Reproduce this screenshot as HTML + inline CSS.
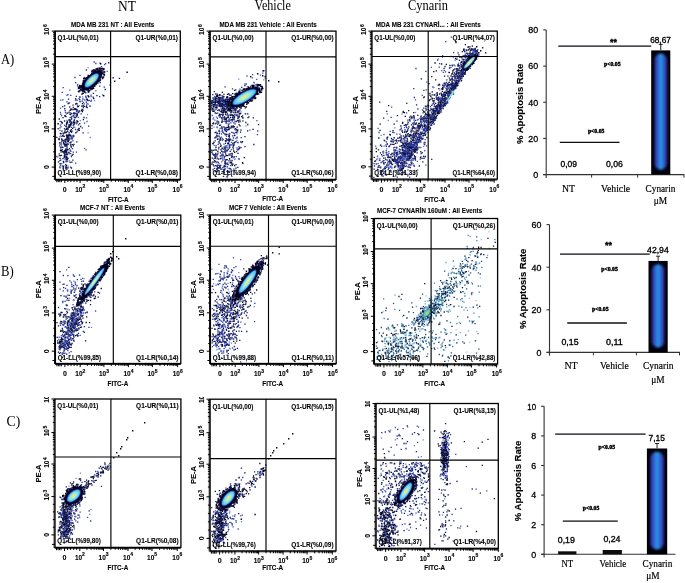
<!DOCTYPE html><html><head><meta charset="utf-8"><style>html,body{margin:0;padding:0;background:#fff;}svg{display:block}</style></head><body><svg width="685" height="583" viewBox="0 0 685 583">
<defs>
<radialGradient id="gcore"><stop offset="0" stop-color="#f0ee70"/><stop offset="0.3" stop-color="#c8eea8"/><stop offset="0.65" stop-color="#80dcf0"/><stop offset="1" stop-color="#40b4ea"/></radialGradient>
<radialGradient id="gcore4"><stop offset="0" stop-color="#f0f080"/><stop offset="0.5" stop-color="#c0f0a0"/><stop offset="1" stop-color="#60d0e0"/></radialGradient>
<radialGradient id="gcore2"><stop offset="0" stop-color="#c0f0c0"/><stop offset="0.6" stop-color="#80e0e0"/><stop offset="1" stop-color="#50c0e0"/></radialGradient>
<radialGradient id="gcore3"><stop offset="0" stop-color="#b8e070"/><stop offset="0.45" stop-color="#70c8a0"/><stop offset="0.8" stop-color="#3a90b8" stop-opacity="0.7"/><stop offset="1" stop-color="#3890c0" stop-opacity="0"/></radialGradient>
<linearGradient id="gbar" x1="0" x2="1" y1="0" y2="0"><stop offset="0" stop-color="#3a2aa8"/><stop offset="0.3" stop-color="#2a64d4"/><stop offset="0.5" stop-color="#2c9ce2"/><stop offset="0.7" stop-color="#2a64d4"/><stop offset="1" stop-color="#3a2aa8"/></linearGradient>
<filter id="soft" x="0" y="0" width="100%" height="100%"><feGaussianBlur stdDeviation="0.35"/></filter>
<filter id="blur1" x="-50%" y="-50%" width="200%" height="200%"><feGaussianBlur stdDeviation="1.3"/></filter>
<clipPath id="clipC1"><rect x="0" y="396.9" width="685" height="200"/></clipPath>
<clipPath id="clipC3"><rect x="0" y="401.3" width="685" height="200"/></clipPath>
</defs>
<rect width="685" height="583" fill="#fff"/>
<g filter="url(#soft)">
<text x="118.00" y="10.90" font-size="14" font-family="'Liberation Serif', 'Times New Roman', serif" textLength="17.9" lengthAdjust="spacingAndGlyphs">NT</text>
<text x="254.50" y="10.40" font-size="14" font-family="'Liberation Serif', 'Times New Roman', serif" textLength="36.3" lengthAdjust="spacingAndGlyphs">Vehicle</text>
<text x="408.00" y="10.40" font-size="14" font-family="'Liberation Serif', 'Times New Roman', serif" textLength="40" lengthAdjust="spacingAndGlyphs">Cynarin</text>
<text x="0.90" y="63.80" font-size="15" font-family="'Liberation Serif', 'Times New Roman', serif" textLength="13.3" lengthAdjust="spacingAndGlyphs">A)</text>
<text x="1.00" y="275.80" font-size="15" font-family="'Liberation Serif', 'Times New Roman', serif" textLength="12.7" lengthAdjust="spacingAndGlyphs">B)</text>
<text x="6.50" y="426.10" font-size="15" font-family="'Liberation Serif', 'Times New Roman', serif" textLength="13.7" lengthAdjust="spacingAndGlyphs">C)</text>
<path d="M82.8 102.3h1.3M90.7 100.2h1.3M87.8 95.7h1.3M82.2 99h1.3M66.3 95.4h1.3M83.7 103.9h1.3M86.3 99.8h1.3M68.3 102.7h1.3M86.5 103.6h1.3M79.2 96.6h1.3M84.1 91.1h1.3M79.1 111.2h1.3M76.9 106.8h1.3M82.3 106.3h1.3M59.9 108.1h1.3M68.8 103.1h1.3M59.3 127.8h1.3M69.8 125.1h1.3M70.7 119.3h1.3M66.3 128.1h1.3M69 120.2h1.3M73.4 114.6h1.3M77.8 117.4h1.3M66.2 145.7h1.3M74.9 132.8h1.3M71 136.7h1.3M67.2 131.7h1.3M70.3 135.5h1.3M59 145.9h1.3M64.8 112.5h1.3M65.1 140.6h1.3M68.1 137.2h1.3M66.2 148.2h1.3M68.9 125.8h1.3M58.3 138.7h1.3M66.6 137.4h1.3M65.4 145h1.3M71.7 131.1h1.3M59.3 144.3h1.3M66.6 147.9h1.3M68.6 160.8h1.3M66 154.9h1.3M62.5 147.4h1.3M60 149h1.3M64.9 149.8h1.3M64.9 146.3h1.3M63.6 155.6h1.3M69.5 150.8h1.3M60.2 160h1.3M66.1 150.3h1.3M69.6 150.1h1.3M66.1 149.7h1.3M61.6 166h1.3M65.2 166.7h1.3M61.1 163.6h1.3M62.8 169.6h1.3M65.3 170h1.3M65.3 157.5h1.3M66.3 122.8h1.3M60.9 115.5h1.3M57.8 123.7h1.3M71.3 138.4h1.3M83.9 148.3h1.3M60.1 100.2h1.3M59.2 136.8h1.3M73.2 116h1.3M82.6 110.1h1.3M61.6 92.4h1.3M75.5 115.5h1.3M59.4 130.3h1.3M75.8 123.9h1.3M70.4 122.4h1.3M74.1 122.8h1.3M60.8 136.4h1.3M86.4 121.5h1.3M59.8 112.4h1.3M77.4 86.6h1.3M104 64.6h1.3M77.1 84.9h1.3M88.4 79.8h1.3M97.6 81h1.3M95.2 90.8h1.3M101.1 76.5h1.3M106.5 71.3h1.3M91.9 86.1h1.3M97.2 80.2h1.3M89.5 80.2h1.3M90.4 96.6h1.3M88 92.2h1.3M61.7 92.3h1.3M99.9 69.5h1.3M69.2 90.2h1.3M85.2 96.1h1.3M96.5 77.3h1.3M102.1 95h1.3M103.8 87.4h1.3M93.1 86h1.3M93.5 75.9h1.3" stroke="#3a50c0" stroke-width="1.3"/>
<path d="M93.1 98.7h1.3M99 96.6h1.3M86.9 100.3h1.3M85.1 96.8h1.3M78.3 98.6h1.3M79.3 97.3h1.3M76.1 100.1h1.3M75.7 96.4h1.3M74.8 99.9h1.3M90.9 88.5h1.3M88.6 100.3h1.3M85.7 97.8h1.3M87.2 95.9h1.3M84.1 100h1.3M89.4 105.9h1.3M76.1 103.4h1.3M74.2 113.1h1.3M89.3 106.4h1.3M78.1 112.5h1.3M66.3 101.9h1.3M76.8 105.1h1.3M75.3 113.4h1.3M76.3 110h1.3M80.5 113.9h1.3M60 114.1h1.3M74.9 129.5h1.3M81.7 127.9h1.3M74.3 113.5h1.3M71.4 123.3h1.3M76 111.5h1.3M70 112.9h1.3M73.1 121.3h1.3M76 116.4h1.3M59.6 121.3h1.3M64.6 115.6h1.3M69.6 121.7h1.3M68.9 119.8h1.3M69.5 117.6h1.3M61.7 122.8h1.3M72.5 125.3h1.3M74 123.4h1.3M73.6 120.3h1.3M75.5 132.7h1.3M66 129h1.3M64.4 141.5h1.3M70 135.8h1.3M70.2 142.5h1.3M67.6 136.9h1.3M70.5 131.8h1.3M65.4 126.7h1.3M66.4 146.6h1.3M66.7 154.5h1.3M65.3 132.4h1.3M66.9 141.6h1.3M66.5 134.9h1.3M63.9 133h1.3M66.9 121.1h1.3M64.7 142.7h1.3M69.1 138.9h1.3M61.1 141.5h1.3M66.4 123.1h1.3M62.5 133.9h1.3M71.8 148.6h1.3M63.2 136.4h1.3M66.3 146.1h1.3M64.5 140.2h1.3M72.2 137.5h1.3M68.1 135h1.3M70.6 141.8h1.3M70 153.6h1.3M60.9 147.2h1.3M63.6 157.5h1.3M64.2 152.1h1.3M62.1 151.9h1.3M63.8 151.5h1.3M70.7 156.5h1.3M73.3 136h1.3M68.4 153.9h1.3M75 163.2h1.3M65.9 159.5h1.3M66.1 153.8h1.3M64.9 152.6h1.3M61.6 149.5h1.3M56.2 156.5h1.3M70.4 144.9h1.3M72.7 152.1h1.3M68.5 153h1.3M62.4 140.7h1.3M60.8 144.9h1.3M63 143.7h1.3M64.9 149.4h1.3M69.2 142.7h1.3M66.5 153.2h1.3M60.4 152.1h1.3M64.4 155.7h1.3M63.1 151.7h1.3M69.9 167.1h1.3M64.7 157h1.3M67.3 158.7h1.3M66.3 167.4h1.3M59.5 167.8h1.3M59.2 167h1.3M62.2 99.9h1.3M75.8 152.1h1.3M69.9 130.5h1.3M70.7 127.4h1.3M58.4 139h1.3M64.5 110.5h1.3M75.9 171.5h1.3M63.8 128.6h1.3M85.4 149.8h1.3M76.7 114.2h1.3M88 126.1h1.3M72.3 140.9h1.3M85.9 117.8h1.3M81.4 110.3h1.3M72.5 135.5h1.3M60.3 126.8h1.3M77.2 110.9h1.3M62.5 87.7h1.3M83.9 123.2h1.3M64.4 140.9h1.3M72.9 113.4h1.3M67 158.2h1.3M64 125.3h1.3M67.7 139.4h1.3M91.1 83.2h1.3M104.9 63.6h1.3M95.2 63.5h1.3M99.1 86.1h1.3M97.7 76.8h1.3M67.3 94.6h1.3M76.8 84.8h1.3M90.4 95.2h1.3M79.3 75.4h1.3M84.6 84.6h1.3M95.2 81.1h1.3M93.5 62h1.3M74.3 77.5h1.3M88.4 88.2h1.3M85.7 70h1.3M100.9 66.7h1.3M109.9 82.4h1.3M82.5 87.6h1.3M81.2 94.3h1.3M70.1 95.4h1.3" stroke="#26339a" stroke-width="1.3"/>
<path d="M92.9 98.2h1.3M81.6 101.2h1.3M72.6 107.4h1.3M86.6 99.3h1.3M85.2 92.9h1.3M90.3 101.4h1.3M92.5 97.2h1.3M87.4 100.6h1.3M77.6 112.3h1.3M76.7 114.2h1.3M74.4 109.6h1.3M67.9 99.2h1.3M85.7 102.2h1.3M82.7 107.6h1.3M85.9 107h1.3M85.6 106.6h1.3M81 106.2h1.3M62.1 106.6h1.3M82.6 105.5h1.3M74.7 109.7h1.3M70 109.1h1.3M76.1 103.6h1.3M75 98.6h1.3M69.1 107h1.3M72.4 105.1h1.3M78.6 111.1h1.3M72.6 136.2h1.3M73.1 127.1h1.3M68.1 125h1.3M69.8 120.5h1.3M69 122.1h1.3M77.9 124.9h1.3M80 126.5h1.3M69.7 124.8h1.3M66.6 121.6h1.3M72.5 115.9h1.3M72.8 116.5h1.3M64 105.9h1.3M66.9 122.5h1.3M65.4 126.3h1.3M69.8 124.2h1.3M70.8 129.6h1.3M74 117.5h1.3M71.1 118.6h1.3M72.9 122.3h1.3M78.3 128.6h1.3M69.9 114.6h1.3M76.3 120.6h1.3M63.9 121h1.3M76.9 129.9h1.3M76.4 121.8h1.3M69 124.8h1.3M68.7 127.3h1.3M77.3 121.6h1.3M63.6 136.3h1.3M68.6 135h1.3M64.7 145.1h1.3M79.1 123.6h1.3M66.5 129.4h1.3M62.2 135.6h1.3M66.5 143.7h1.3M67.8 138.4h1.3M66.2 138h1.3M70.5 138h1.3M63.4 153.2h1.3M67.7 141.2h1.3M63.4 141.3h1.3M69.5 135.6h1.3M70.1 124.9h1.3M71.4 139.1h1.3M69.1 134.4h1.3M67.4 135.6h1.3M63.9 140.1h1.3M67.4 127.2h1.3M68.3 138.2h1.3M57.5 128.6h1.3M66.7 137.7h1.3M68.8 148.6h1.3M68.4 137.9h1.3M70.1 145.9h1.3M64.3 145h1.3M59.1 142.6h1.3M78 130h1.3M76.2 141.9h1.3M67.8 141.1h1.3M59.8 155.6h1.3M63.4 152.8h1.3M63.7 151.5h1.3M65.9 148.6h1.3M65.4 148.8h1.3M70.2 151.2h1.3M59.9 147.1h1.3M61.8 147.4h1.3M63.8 153.9h1.3M66.6 159.7h1.3M69.8 144.1h1.3M66.7 159.5h1.3M58.6 153.8h1.3M64.5 159.2h1.3M62.4 140.4h1.3M72.2 160.2h1.3M66 156.7h1.3M64.2 146h1.3M64.3 150.6h1.3M58.7 155.7h1.3M66.9 158.1h1.3M65.6 158.2h1.3M64.9 168.1h1.3M62.9 162.7h1.3M66.1 157.4h1.3M59.5 163.6h1.3M67.5 167.9h1.3M64.1 154.9h1.3M59.3 160.7h1.3M62.4 158.5h1.3M62.7 161.4h1.3M59.8 165.2h1.3M83.3 117.7h1.3M83.4 117.5h1.3M75.2 108.6h1.3M71.8 144.6h1.3M70.8 123.3h1.3M76.5 131.6h1.3M73.5 109.3h1.3M86.6 107.6h1.3M82.5 132.9h1.3M79.1 99.7h1.3M99.5 82.6h1.3M104.6 89.5h1.3M99.3 63.1h1.3M93.9 80.1h1.3M75 82.6h1.3M96.3 95.6h1.3M98.5 68h1.3M87 84.1h1.3M92.8 93.4h1.3M96.4 82.4h1.3M99 81.1h1.3" stroke="#141a5a" stroke-width="1.3"/>
<path d="M87.7 104.2h1.3M76.7 100.3h1.3M75.1 100.6h1.3M82.1 96.9h1.3M76.3 109.3h1.3M78.7 105.6h1.3M82.5 98.9h1.3M86.8 114.6h1.3M93.9 100.7h1.3M77.1 131.4h1.3M79.7 120.7h1.3M68.8 136.9h1.3M66.1 120.3h1.3M60.2 124.5h1.3M74.2 127.3h1.3M59.7 125.3h1.3M69.9 138.8h1.3M70.5 124.4h1.3M59.8 135.2h1.3M64.1 139.7h1.3M64.6 141.4h1.3M62.7 134.6h1.3M64.4 142.9h1.3M68.6 139.7h1.3M65.7 142.5h1.3M58.7 143.7h1.3M66 148h1.3M64.9 160.2h1.3M65.6 161.5h1.3M66.5 147.6h1.3M63.4 165.9h1.3M64.3 161.8h1.3M67.3 166h1.3M61.8 123.1h1.3M72.4 116.5h1.3M57.1 157.1h1.3M89.6 137.5h1.3M72.7 124.1h1.3M65.6 114.1h1.3M87.5 132.8h1.3M102.4 74.3h1.3M99.2 75.9h1.3M101.1 71.8h1.3M95.8 83.6h1.3M109.2 85h1.3M103.6 87h1.3M98.3 80.3h1.3M91.6 72.6h1.3M87.4 67.7h1.3" stroke="#7080d8" stroke-width="1.3"/>
<path d="M71.1 113.7h1.3M74.1 108.6h1.3M76.1 109.7h1.3M81.8 111.5h1.3M81.8 103.6h1.3M68.5 112.2h1.3M81.5 111.5h1.3M77.5 106.7h1.3M83.7 106.4h1.3M76.4 114.4h1.3M79.4 101.5h1.3M69.5 110.3h1.3M81.6 109.4h1.3M73.3 112.8h1.3M67.6 103.7h1.3M75 104h1.3M86 105.2h1.3M72.4 109.5h1.3M77.7 106.3h1.3M76.5 114.8h1.3M64.1 108.7h1.3M70.9 109.1h1.3M86.3 99.3h1.3M80.9 110.4h1.3M65.3 116.6h1.3M73.4 124.5h1.3M70.8 117h1.3M62.3 117.7h1.3M70.2 124.5h1.3M73.5 122.9h1.3M66.9 131.2h1.3M74.1 122.2h1.3M69.3 114.1h1.3M57.3 123.9h1.3M65.8 124.8h1.3M69.9 125.2h1.3M69.2 126h1.3M68.1 126.9h1.3M72 128.4h1.3M71.1 122h1.3M66.5 113.2h1.3M70 124h1.3M64.1 115.9h1.3M67.6 129h1.3M67.1 113.2h1.3M78.6 130.3h1.3M82.8 119.7h1.3M65.9 123.1h1.3M76.5 115.5h1.3M75.1 117.5h1.3M65.8 132.2h1.3M70 110.2h1.3M66 123.8h1.3M78.4 128.4h1.3M73.8 119.9h1.3M59.7 133.3h1.3M64.2 132.1h1.3M67.8 140.3h1.3M70.9 132.1h1.3M68.4 140.2h1.3M65.4 139.2h1.3M68.5 132.9h1.3M66.5 140h1.3M61 139h1.3M64.2 131.9h1.3M62.6 133.2h1.3M66 136h1.3M70.3 131.3h1.3M64.4 130.2h1.3M61.4 122.8h1.3M66.1 128.4h1.3M60.9 121.9h1.3M67.4 138.4h1.3M66.7 137.1h1.3M59.8 150.7h1.3M69.4 125.6h1.3M65 141.8h1.3M67.4 136.1h1.3M56.2 137.3h1.3M66.5 139.2h1.3M76.4 122.8h1.3M65.3 129.3h1.3M72.7 145.9h1.3M67.6 141.7h1.3M58.6 119h1.3M67.6 135.6h1.3M69.8 131h1.3M68.4 120h1.3M61.3 131.1h1.3M64.8 139.5h1.3M65.2 132.6h1.3M60.4 133.6h1.3M70.2 131.4h1.3M62.8 142.7h1.3M69.4 135.7h1.3M70.7 147h1.3M62.1 135.9h1.3M72.4 154.4h1.3M65.8 145.1h1.3M63.1 152.1h1.3M57.9 161.9h1.3M69.6 162.4h1.3M67.4 149.7h1.3M61.5 151.5h1.3M61.4 140.1h1.3M59.4 158.3h1.3M65.4 145.2h1.3M66 151.7h1.3M66.7 149.7h1.3M64.5 150.6h1.3M71.2 162.2h1.3M65.1 164.6h1.3M61 150.4h1.3M71.5 155.4h1.3M60.4 143.1h1.3M63.8 156.4h1.3M65.3 154.4h1.3M66.2 144.6h1.3M58.5 139.5h1.3M65.5 150.9h1.3M64.2 144h1.3M66.3 159.8h1.3M66.9 149.9h1.3M65.6 152.8h1.3M73.3 144.3h1.3M65.5 154.5h1.3M67.6 144.1h1.3M68.1 152.3h1.3M63.6 144.5h1.3M65.1 151.9h1.3M65.8 135.1h1.3M70.8 168h1.3M62.7 166.5h1.3M66.4 161.7h1.3M65.7 165.6h1.3M62.5 168h1.3M66.2 169h1.3M65.4 167.5h1.3M62.6 168.8h1.3M60.8 155.4h1.3" stroke="#0a0a28" stroke-width="1.3"/>
<path d="M112.5 77.8h1.4M118.7 78.4h1.4M108 62.7h1.4" stroke="#1c2470" stroke-width="1.4"/>
<path d="M126.4 72.2h1.4M103 95.7h1.4M88 96.7h1.4M100 63.7h1.4" stroke="#05051a" stroke-width="1.4"/>
<path d="M114 81.2h1.4" stroke="#101040" stroke-width="1.4"/>
<path d="M79.2 88.3h1.5M101.9 78.5h1.5M87.8 91.5h1.5M83.9 78.6h1.5M97.5 70.9h1.5M84.1 89.3h1.5M81.8 89.8h1.5M97.7 81.6h1.5M85.8 77.8h1.5M98.7 78.1h1.5M90.9 73.3h1.5M97.3 69.9h1.5M93.7 85.1h1.5M83.7 78.1h1.5M87.7 76.8h1.5M87.2 76.9h1.5M102 68.7h1.5M78.2 91.7h1.5M93.7 86.3h1.5M81.9 89.6h1.5M79 85.6h1.5M80 86.7h1.5M97.4 70.5h1.5M80.8 85.8h1.5M78.1 88.5h1.5M91.7 70.5h1.5M99.7 79.5h1.5M93.6 84.9h1.5M87 88.8h1.5" stroke="#1c2470" stroke-width="1.5"/>
<path d="M82.8 81.4h1.5M95.8 82.5h1.5M99.6 68.8h1.5M78.9 87.1h1.5M90.3 87.9h1.5M82.7 89.3h1.5M101.4 77.5h1.5M85.6 78.5h1.5M95.4 68.9h1.5M93.2 70.9h1.5M82.4 83.6h1.5M102.2 77.4h1.5M85.5 89.6h1.5M92.8 72.1h1.5M103.7 74.9h1.5M96.9 69.2h1.5M82.3 89.9h1.5M103.1 68.7h1.5M92.8 88.3h1.5M103 69.8h1.5M81.7 88.3h1.5M85.3 78.8h1.5M84.1 92.2h1.5M94.6 70.7h1.5M87.8 88.9h1.5M82.7 91.3h1.5M90.3 89.4h1.5M79.9 89.5h1.5M99.1 71.1h1.5M81.7 89.4h1.5M98.5 70.2h1.5M92.9 71.4h1.5M100 68.3h1.5M95.5 83.9h1.5M91.2 71.3h1.5M87.4 90.4h1.5M83.3 91.3h1.5M96.7 68.4h1.5M81.8 93.4h1.5M91.5 88.4h1.5M98.9 78.4h1.5M92.2 87.1h1.5M82.5 90.1h1.5M97 83h1.5M82.4 85.4h1.5M92.3 88.3h1.5M103.9 72h1.5M101.6 73.3h1.5M86.7 77.6h1.5M100.8 68.7h1.5M83.1 78.5h1.5M95.3 69.9h1.5M93.6 71.1h1.5M98.3 80.5h1.5M79.6 87.5h1.5M93.2 69.7h1.5M82.4 93.2h1.5M83.4 80.4h1.5M82.6 81h1.5M91.2 73.6h1.5M85 89.6h1.5M80.4 90h1.5M91.4 88.6h1.5M85.6 89.4h1.5M88 76.3h1.5M79.1 85.7h1.5M102.8 69.8h1.5M85.1 78.5h1.5M80.7 86.5h1.5M77.8 88.2h1.5" stroke="#05051a" stroke-width="1.5"/>
<path d="M92.4 73.3h1.5M100.4 73.9h1.5M88.8 90.7h1.5M103.1 72h1.5M96.7 71h1.5M99.5 77.8h1.5M102.5 74h1.5M93.3 85.5h1.5M83.3 78.6h1.5M96.7 81.5h1.5M82.5 85h1.5M99.6 69.7h1.5M100.6 75.7h1.5M100 73.1h1.5M96.9 81.1h1.5M79.8 87.3h1.5M103.5 74.3h1.5M100.2 73.5h1.5M85.8 89.4h1.5M93.8 72.2h1.5M95.1 84.6h1.5M102.8 76.9h1.5M99.3 69h1.5M82.3 83h1.5M81.8 84.2h1.5M78 87.4h1.5M94 85.9h1.5M94.8 83.7h1.5M93 71h1.5M82.8 82.4h1.5M81.9 91.3h1.5M94 71.8h1.5M89.4 88.8h1.5M79.2 90.8h1.5M87.5 75.5h1.5M94.1 72.6h1.5M80.3 87.2h1.5M82.6 91h1.5M92.3 87h1.5M86.5 90h1.5M102.4 72h1.5M98.8 68.4h1.5M101.3 70.4h1.5M86.9 90.1h1.5M81.4 90.4h1.5M100.5 71.1h1.5M102 68.6h1.5M103.4 74.8h1.5M99.5 80.3h1.5M87.6 91.9h1.5M101.6 72.4h1.5M91.6 89h1.5M83.4 81.4h1.5M81.1 87.6h1.5M77.8 91.2h1.5" stroke="#101040" stroke-width="1.5"/>
<g transform="translate(91.70,80.40) rotate(-44)">
<ellipse rx="13.33" ry="5.54" fill="#04041a"/>
<ellipse rx="9.70" ry="4.10" fill="#2438b0"/>
<ellipse rx="8.80" ry="3.40" fill="url(#gcore)"/>
</g>
<rect x="55.30" y="31.10" width="125.00" height="148.30" fill="none" stroke="#000" stroke-width="1.3"/>
<line x1="110.60" y1="31.10" x2="110.60" y2="179.40" stroke="#000" stroke-width="1.15"/>
<line x1="55.30" y1="56.60" x2="180.30" y2="56.60" stroke="#000" stroke-width="1.15"/>
<path d="M51.7 31.1H55.3M51.7 64.1H55.3M51.7 96.3H55.3M51.7 128.9H55.3M51.7 167.1H55.3M53.1 54.2H55.3M53.1 48.4H55.3M53.1 44.2H55.3M53.1 41H55.3M53.1 38.4H55.3M53.1 36.2H55.3M53.1 34.3H55.3M53.1 32.6H55.3M53.1 86.6H55.3M53.1 80.9H55.3M53.1 76.9H55.3M53.1 73.8H55.3M53.1 71.2H55.3M53.1 69.1H55.3M53.1 67.2H55.3M53.1 65.6H55.3M53.1 119.1H55.3M53.1 113.3H55.3M53.1 109.3H55.3M53.1 106.1H55.3M53.1 103.5H55.3M53.1 101.3H55.3M53.1 99.5H55.3M53.1 97.8H55.3M53.1 136.5H55.3M53.1 144.2H55.3M53.1 151.8H55.3M53.1 159.5H55.3M52.3 176.4H55.3M64.8 179.4V183M80.1 179.4V183M103.8 179.4V183M128.3 179.4V183M152.3 179.4V183M177.5 179.4V183M56.8 179.4V182.2M58.3 179.4V182.2M59.8 179.4V182.2M61.3 179.4V182.2M67.9 179.4V182M70.9 179.4V182M74 179.4V182M77 179.4V182M87.2 179.4V181.8M91.4 179.4V181.8M94.4 179.4V181.8M96.7 179.4V181.8M98.5 179.4V181.8M100.1 179.4V181.8M101.5 179.4V181.8M102.7 179.4V181.8M111.2 179.4V181.8M115.5 179.4V181.8M118.6 179.4V181.8M120.9 179.4V181.8M122.9 179.4V181.8M124.5 179.4V181.8M125.9 179.4V181.8M127.2 179.4V181.8M135.5 179.4V181.8M139.8 179.4V181.8M142.7 179.4V181.8M145.1 179.4V181.8M147 179.4V181.8M148.6 179.4V181.8M150 179.4V181.8M151.2 179.4V181.8M159.9 179.4V181.8M164.3 179.4V181.8M167.5 179.4V181.8M169.9 179.4V181.8M171.9 179.4V181.8M173.6 179.4V181.8M175.1 179.4V181.8M176.3 179.4V181.8" stroke="#000" stroke-width="1"/>
<line x1="55.00" y1="180.30" x2="180.30" y2="180.30" stroke="#000" stroke-width="0.9"/>
<line x1="54.40" y1="31.10" x2="54.40" y2="180.00" stroke="#000" stroke-width="0.9"/>
<text x="64.80" y="191.80" font-size="7.0" font-family="'Liberation Sans', Arial, sans-serif" font-weight="bold" text-anchor="middle" stroke="#000" stroke-width="0.1">0</text>
<text x="78.80" y="191.80" font-size="7.0" font-family="'Liberation Sans', Arial, sans-serif" font-weight="bold" text-anchor="middle" textLength="7.2" lengthAdjust="spacingAndGlyphs" stroke="#000" stroke-width="0.1">10</text>
<text x="82.40" y="188.40" font-size="5.0" font-family="'Liberation Sans', Arial, sans-serif" font-weight="bold" stroke="#000" stroke-width="0.15">2</text>
<text x="102.50" y="191.80" font-size="7.0" font-family="'Liberation Sans', Arial, sans-serif" font-weight="bold" text-anchor="middle" textLength="7.2" lengthAdjust="spacingAndGlyphs" stroke="#000" stroke-width="0.1">10</text>
<text x="106.10" y="188.40" font-size="5.0" font-family="'Liberation Sans', Arial, sans-serif" font-weight="bold" stroke="#000" stroke-width="0.15">3</text>
<text x="127.00" y="191.80" font-size="7.0" font-family="'Liberation Sans', Arial, sans-serif" font-weight="bold" text-anchor="middle" textLength="7.2" lengthAdjust="spacingAndGlyphs" stroke="#000" stroke-width="0.1">10</text>
<text x="130.60" y="188.40" font-size="5.0" font-family="'Liberation Sans', Arial, sans-serif" font-weight="bold" stroke="#000" stroke-width="0.15">4</text>
<text x="151.00" y="191.80" font-size="7.0" font-family="'Liberation Sans', Arial, sans-serif" font-weight="bold" text-anchor="middle" textLength="7.2" lengthAdjust="spacingAndGlyphs" stroke="#000" stroke-width="0.1">10</text>
<text x="154.60" y="188.40" font-size="5.0" font-family="'Liberation Sans', Arial, sans-serif" font-weight="bold" stroke="#000" stroke-width="0.15">5</text>
<text x="176.20" y="191.80" font-size="7.0" font-family="'Liberation Sans', Arial, sans-serif" font-weight="bold" text-anchor="middle" textLength="7.2" lengthAdjust="spacingAndGlyphs" stroke="#000" stroke-width="0.1">10</text>
<text x="179.80" y="188.40" font-size="5.0" font-family="'Liberation Sans', Arial, sans-serif" font-weight="bold" stroke="#000" stroke-width="0.15">6</text>
<text transform="translate(49.20,31.30) rotate(-90)" font-size="6.7" font-family="'Liberation Sans', Arial, sans-serif" font-weight="bold" text-anchor="middle" textLength="7.2" lengthAdjust="spacingAndGlyphs" stroke="#000" stroke-width="0.1">10</text>
<text transform="translate(46.80,27.00) rotate(-90)" font-size="5.0" font-family="'Liberation Sans', Arial, sans-serif" font-weight="bold" stroke="#000" stroke-width="0.15">6</text>
<text transform="translate(49.20,64.30) rotate(-90)" font-size="6.7" font-family="'Liberation Sans', Arial, sans-serif" font-weight="bold" text-anchor="middle" textLength="7.2" lengthAdjust="spacingAndGlyphs" stroke="#000" stroke-width="0.1">10</text>
<text transform="translate(46.80,60.00) rotate(-90)" font-size="5.0" font-family="'Liberation Sans', Arial, sans-serif" font-weight="bold" stroke="#000" stroke-width="0.15">5</text>
<text transform="translate(49.20,96.50) rotate(-90)" font-size="6.7" font-family="'Liberation Sans', Arial, sans-serif" font-weight="bold" text-anchor="middle" textLength="7.2" lengthAdjust="spacingAndGlyphs" stroke="#000" stroke-width="0.1">10</text>
<text transform="translate(46.80,92.20) rotate(-90)" font-size="5.0" font-family="'Liberation Sans', Arial, sans-serif" font-weight="bold" stroke="#000" stroke-width="0.15">4</text>
<text transform="translate(49.20,129.10) rotate(-90)" font-size="6.7" font-family="'Liberation Sans', Arial, sans-serif" font-weight="bold" text-anchor="middle" textLength="7.2" lengthAdjust="spacingAndGlyphs" stroke="#000" stroke-width="0.1">10</text>
<text transform="translate(46.80,124.80) rotate(-90)" font-size="5.0" font-family="'Liberation Sans', Arial, sans-serif" font-weight="bold" stroke="#000" stroke-width="0.15">3</text>
<text transform="translate(49.20,167.10) rotate(-90)" font-size="7.0" font-family="'Liberation Sans', Arial, sans-serif" font-weight="bold" text-anchor="middle" stroke="#000" stroke-width="0.1">0</text>
<text transform="translate(41.00,105.10) rotate(-90)" font-size="7.4" font-family="'Liberation Sans', Arial, sans-serif" font-weight="bold" text-anchor="middle" textLength="18" lengthAdjust="spacingAndGlyphs" stroke="#000" stroke-width="0.1">PE-A</text>
<text x="107.90" y="201.50" font-size="7.4" font-family="'Liberation Sans', Arial, sans-serif" font-weight="bold" textLength="20.8" lengthAdjust="spacingAndGlyphs" stroke="#000" stroke-width="0.1">FITC-A</text>
<text x="57.60" y="40.40" font-size="7.2" font-family="'Liberation Sans', Arial, sans-serif" font-weight="bold" textLength="41" lengthAdjust="spacingAndGlyphs" stroke="#000" stroke-width="0.1">Q1-UL(%0,01)</text>
<text x="178.00" y="40.40" font-size="7.2" font-family="'Liberation Sans', Arial, sans-serif" font-weight="bold" text-anchor="end" textLength="42.5" lengthAdjust="spacingAndGlyphs" stroke="#000" stroke-width="0.1">Q1-UR(%0,01)</text>
<text x="57.60" y="175.40" font-size="7.2" font-family="'Liberation Sans', Arial, sans-serif" font-weight="bold" textLength="43.5" lengthAdjust="spacingAndGlyphs" stroke="#000" stroke-width="0.1">Q1-LL(%99,90)</text>
<text x="178.00" y="175.40" font-size="7.2" font-family="'Liberation Sans', Arial, sans-serif" font-weight="bold" text-anchor="end" textLength="42.5" lengthAdjust="spacingAndGlyphs" stroke="#000" stroke-width="0.1">Q1-LR(%0,08)</text>
<text x="71.00" y="27.30" font-size="7.2" font-family="'Liberation Sans', Arial, sans-serif" font-weight="bold" textLength="83.3" lengthAdjust="spacingAndGlyphs" stroke="#000" stroke-width="0.1">MDA MB 231 NT : All Events</text>
<path d="M216.9 99.6h1.3M214 104.6h1.3M222.9 107.7h1.3M218.6 103.4h1.3M213.7 101.5h1.3M218.9 105.2h1.3M212.9 106.5h1.3M221.5 101.3h1.3M236.7 100.8h1.3M226.3 100h1.3M215 98.1h1.3M224.1 106.7h1.3M217.4 104.4h1.3M212.7 102.2h1.3M234.8 103.7h1.3M222.1 98.6h1.3M226.8 110.1h1.3M217.9 97.6h1.3M217.9 103.4h1.3M232.1 100.4h1.3M227.3 100.7h1.3M230.6 106.1h1.3M219.4 94.8h1.3M237.9 104.5h1.3M227.3 99.4h1.3M232.4 110.1h1.3M222.2 107h1.3M240 100.6h1.3M215.2 94h1.3M229.6 98.6h1.3M218.8 98.1h1.3M232.1 93.7h1.3M235.2 98.7h1.3M212.8 104.6h1.3M225 103h1.3M219.7 104.9h1.3M233.9 101.5h1.3M235.3 103.1h1.3M226.6 104.8h1.3M227 102.5h1.3M222.4 100.7h1.3M218 104h1.3M221.7 92.4h1.3M211.2 109.9h1.3M223.9 108.7h1.3M226.9 94.4h1.3M243.7 106.3h1.3M221.9 100.6h1.3M226.9 96.6h1.3M212.6 109.9h1.3M227.6 109.7h1.3M221.9 97.3h1.3M225 106.3h1.3M213.4 99.9h1.3M242.3 118.2h1.3M227.9 93.8h1.3M238.4 99.3h1.3M211.3 100.5h1.3M226.9 105.5h1.3M224.2 101h1.3M223.1 96.9h1.3M211.7 100.9h1.3M233.4 101.4h1.3M240.4 108h1.3M225.4 111.5h1.3M228.1 102h1.3M235 100.6h1.3M236 107.1h1.3M231.9 103.5h1.3M235.2 110.1h1.3M212.4 98h1.3M221.2 110h1.3M224.5 99.3h1.3M233.5 105.4h1.3M216.4 102.2h1.3M223.1 110.3h1.3M221.4 95.8h1.3M232 97.2h1.3M220.2 102.5h1.3M239.5 107.3h1.3M232 115h1.3M239.2 110h1.3M231.8 104.7h1.3M232.9 108.3h1.3M214.6 112.9h1.3M225 101.6h1.3M238.9 103.6h1.3M246.9 98.1h1.3M222.7 104.3h1.3M231.2 111.8h1.3M229 102.4h1.3M236 106.7h1.3M236.7 102.8h1.3M236.6 102.5h1.3M228.8 106.3h1.3M232.3 101h1.3M224.3 100.6h1.3M230.8 110.6h1.3M232.2 107.7h1.3M221 111.5h1.3M235 102.5h1.3M224.5 109.7h1.3M227.6 100.4h1.3M231.9 107.5h1.3M246.1 104.3h1.3M242.9 101.9h1.3M231.9 106.1h1.3M218.2 105.8h1.3M233.3 102.5h1.3M226.5 103.4h1.3M241.2 103h1.3M223.8 117.5h1.3M228 106h1.3M229.8 107.5h1.3M223.6 106.4h1.3M229.9 102.6h1.3M228.3 99.1h1.3M228.7 99.8h1.3M238.5 102.7h1.3M233.8 99.9h1.3M226.7 105.9h1.3M251.4 95.5h1.3M233.8 102.3h1.3M235.6 109h1.3M229 105.1h1.3M228.1 103.5h1.3M237.7 100.8h1.3M228.3 104.5h1.3M228.7 101.2h1.3" stroke="#05051a" stroke-width="1.3"/>
<path d="M240.2 101.4h1.3M237.3 99.8h1.3M221.1 99.4h1.3M230.7 115h1.3M221.8 105.6h1.3M214.2 99.3h1.3M215.6 96.8h1.3M225.6 101.3h1.3M225.1 105.7h1.3M219.8 103.2h1.3M219.7 101.4h1.3M234.7 109.6h1.3M214.5 97.3h1.3M219 95.7h1.3M230.7 102.2h1.3M224.7 101.1h1.3M217.3 102.7h1.3M211.4 101.5h1.3M218.1 99.3h1.3M226.9 100.1h1.3M216.2 101.8h1.3M227.1 101.8h1.3M223.2 104.6h1.3M216.7 96.3h1.3M223.9 102.2h1.3M216.6 100.1h1.3M226.2 108.6h1.3M219.1 101.1h1.3M218.7 99h1.3M216.2 98.6h1.3M230.1 105.3h1.3M228.7 101.4h1.3M227.8 103.9h1.3M213.2 107.9h1.3M238.7 106.4h1.3M235.4 102.4h1.3M236 97.7h1.3M223.3 94.4h1.3M244.6 94.7h1.3M224.6 102.9h1.3M234.6 99.5h1.3M215 98.8h1.3M223.4 109h1.3M225.8 105h1.3M213.4 105.5h1.3M220.1 106.4h1.3M211.1 106h1.3M220.3 105.9h1.3M227.1 100.6h1.3M214.2 100h1.3M216 95.8h1.3M226.7 100.1h1.3M233.2 112.5h1.3M211.1 105.6h1.3M223.2 105.1h1.3M232.8 107.2h1.3M218.3 103.2h1.3M218.7 104.3h1.3M223 96.3h1.3M239.3 103.5h1.3M226.2 100.4h1.3M213.2 102.5h1.3M220.6 104.3h1.3M236.8 112h1.3M237.4 100.6h1.3M239.6 101.1h1.3M216.8 106h1.3M230.1 103.7h1.3M246.4 103.5h1.3M223.7 105.3h1.3M240.6 98.1h1.3M223.1 111.3h1.3M222.2 101.3h1.3M219.3 115.3h1.3M218.3 104.8h1.3M230 107h1.3M234.9 102.2h1.3M218.6 110.7h1.3M231.2 100.2h1.3M222.5 114.2h1.3M219.1 106h1.3M222.9 102.3h1.3M219 114.2h1.3M228.7 109h1.3M222.6 106.2h1.3M239.7 104.3h1.3M237.6 98.2h1.3M240 107.5h1.3M229.5 97.7h1.3M234.6 102.4h1.3M233.4 100.6h1.3M226.8 104.8h1.3M237.7 110.8h1.3M230.1 104.9h1.3M242.6 104.1h1.3M224.7 104.5h1.3M225.5 100.5h1.3M231.6 107.4h1.3M229.6 107.2h1.3M235.9 105.1h1.3M234.9 105.3h1.3M249.1 101.3h1.3M230.1 101.1h1.3M246.6 101.2h1.3M219.1 102h1.3M222.5 108.7h1.3M231.3 103.5h1.3M223.6 110.5h1.3M234.2 110h1.3" stroke="#101040" stroke-width="1.3"/>
<path d="M229.2 102.6h1.3M221.9 105.4h1.3M234.4 110.3h1.3M224.3 100.5h1.3M218.8 109.9h1.3M231.3 107.7h1.3M220.8 98.9h1.3M226.5 99.7h1.3M211.7 100.8h1.3M217.4 98.9h1.3M227.7 104.2h1.3M214 106.2h1.3M233.4 103.9h1.3M221.8 105.9h1.3M220.5 99.4h1.3M230.6 95.2h1.3M235.1 106.3h1.3M225.9 112.3h1.3M220.5 100.6h1.3M233.8 99.2h1.3M215.4 104.7h1.3M226.4 97.2h1.3M232.1 105.4h1.3M212.1 94.6h1.3M236.6 108h1.3M226.1 101.4h1.3M233.4 106.1h1.3M214 100.9h1.3M217.3 104.2h1.3M221.6 103.7h1.3M216.6 94.1h1.3M234.6 108.4h1.3M240.5 101h1.3M221 114.3h1.3M220.3 106.9h1.3M224.7 106.7h1.3M223.9 105.6h1.3M230.7 108.9h1.3M226.6 108.6h1.3M232.1 107.4h1.3M232 103.5h1.3M225 105h1.3M229.5 110.9h1.3M229.6 107.4h1.3M238.1 97h1.3M215.5 109h1.3M242.2 104.2h1.3M242.5 105.3h1.3M226.9 104.4h1.3M245.9 100.7h1.3M220.2 105.4h1.3M229.2 95.3h1.3M232.5 105.2h1.3M236.1 107h1.3M233.3 99.8h1.3M229.8 105.5h1.3" stroke="#1c2470" stroke-width="1.3"/>
<path d="M230.6 100.2h1.3M228.3 105.5h1.3M229 107.2h1.3M216.9 100h1.3M237 100.5h1.3M220.1 99.1h1.3M218.3 99.9h1.3M240.8 105.3h1.3M221.2 103.8h1.3M219.2 98h1.3M217.1 95h1.3M226.8 102.3h1.3M236.6 106.6h1.3M213.4 98.5h1.3M223.4 103.7h1.3M229.6 110.7h1.3M213.2 100h1.3M233.6 96.8h1.3M234.5 103h1.3M219.9 97.7h1.3M222.3 98.5h1.3M231.7 107.4h1.3M226.7 103.6h1.3M228.1 99.7h1.3M234.2 105.6h1.3M219 98.7h1.3M222.7 103.2h1.3M225.3 109h1.3M223.5 106.8h1.3M222.7 100.8h1.3M219 94.7h1.3M222.4 105.7h1.3M236.2 101.1h1.3M223.3 105h1.3M238.4 105h1.3M222.5 109.1h1.3M222.1 105.4h1.3M229.1 106.2h1.3M211 102.7h1.3M211.1 102.3h1.3M214.1 110.1h1.3M232.1 102.1h1.3M225.4 100.9h1.3M231.1 106.8h1.3M211.6 108.8h1.3M222.2 100.2h1.3M242.3 101.7h1.3M213.7 91.6h1.3M253.3 82.4h1.3M224.4 86.8h1.3M235.1 90h1.3M251.9 74.6h1.3M255.3 85h1.3M231.9 88.9h1.3M230.4 112h1.3M233.2 122.9h1.3M225.9 118.1h1.3M216.9 110.4h1.3M221.6 110.6h1.3M229.2 128.3h1.3M218.1 109.9h1.3M236.7 116h1.3M236.2 115.3h1.3M228.4 115.2h1.3M238.3 117.7h1.3M234.8 103h1.3M229.3 120.6h1.3M232.6 126h1.3M236.4 114.4h1.3M212.5 118.8h1.3M232.1 119.6h1.3M217.1 122.1h1.3M242.2 121h1.3M238.5 117.1h1.3M222.1 117.8h1.3M223.9 116.8h1.3M228.2 105.3h1.3M225.3 127.8h1.3M239.1 106.7h1.3M232.8 116.8h1.3M228.5 118.9h1.3M223.2 112.2h1.3M232 117.7h1.3M219.9 114.6h1.3M239.5 121.5h1.3M230.7 119.6h1.3M225.6 115.2h1.3M227.7 121.5h1.3M228.7 121.6h1.3M228.8 105.5h1.3M234.5 121.5h1.3M224.7 118.8h1.3M232.8 138h1.3M228 140.5h1.3M235.2 109.7h1.3M240.3 130h1.3M215.1 137.8h1.3M233.3 133.4h1.3M220.8 133.8h1.3M227.3 134.4h1.3M211.3 128.3h1.3M241.2 142.5h1.3M232 143.4h1.3M234 135.5h1.3M218.5 136.7h1.3M228.4 124h1.3M240.6 137.6h1.3M257.1 131h1.3M224.7 134.8h1.3M228.1 126.8h1.3M222.4 155h1.3M221.7 128.4h1.3M225.2 130.5h1.3M223.9 128.8h1.3M223.8 129.5h1.3M225 130.6h1.3M224.7 130.9h1.3M214 137.9h1.3M230.2 122.8h1.3M220.4 128.2h1.3M239 147.2h1.3M256.8 134.6h1.3M221.6 131.3h1.3M232.9 145.3h1.3M231.3 144.6h1.3M225.7 129.3h1.3M215.1 153.3h1.3M238.9 147.8h1.3M226.4 139.3h1.3M218.4 136.1h1.3M217.5 144.3h1.3M225.7 155.3h1.3M234.2 159.2h1.3M220.3 139.8h1.3M233.2 169.1h1.3M229.6 160.8h1.3M215.5 162.5h1.3M213.6 155.4h1.3M224.8 143.3h1.3M213.4 166h1.3M224.7 161.3h1.3M215.4 145.7h1.3M235.4 164.6h1.3M231.7 156.2h1.3M216.2 166.1h1.3M223.7 157.2h1.3M230.8 157.3h1.3M238.6 159h1.3M224.8 166.7h1.3M216.6 165.1h1.3M220 158.5h1.3M230 165.7h1.3M227.3 175.6h1.3M224.8 160.3h1.3M220.6 149.8h1.3M229.9 162.5h1.3M228.1 160.8h1.3M211.1 152.5h1.3M228.6 146.6h1.3M237.7 149.1h1.3M230 153.9h1.3M226.3 150.4h1.3M220.9 155.6h1.3M225.1 162.8h1.3M221.6 148.3h1.3M229 159.2h1.3M214.3 156.5h1.3M211.4 152.2h1.3M233.3 145h1.3M226.8 147.8h1.3M226.4 159.7h1.3M237.9 158.9h1.3M216.9 154.3h1.3M219.7 156h1.3M214.6 157.5h1.3M223.6 157.8h1.3M235.6 156.6h1.3M218.6 167.7h1.3M226.6 166.7h1.3M224.6 151.9h1.3M225.8 163.9h1.3M219.1 165.7h1.3M222 167.6h1.3M229.5 171.1h1.3M219.4 167.3h1.3M213.9 168.4h1.3M229.7 168.6h1.3M223.1 171.4h1.3M223.3 172.8h1.3M212.4 169.5h1.3M217.7 162.5h1.3M223.4 166.1h1.3M224.4 166.5h1.3M223.8 170h1.3M228.7 172.3h1.3M230.4 169.5h1.3" stroke="#26339a" stroke-width="1.3"/>
<path d="M217.6 101.2h1.3M226.8 114.1h1.3M230 107.6h1.3M219.3 97.7h1.3M230.5 105.4h1.3M221.9 108.1h1.3M226.3 101.6h1.3M211.9 108.5h1.3M222 104h1.3M242.6 99.4h1.3M224.3 103.7h1.3M217.4 98.3h1.3M211.1 103.9h1.3M214.7 101h1.3M215.5 100.6h1.3M230.5 107.4h1.3M221.4 105.5h1.3M218.6 104.3h1.3M225.1 112.5h1.3M221.3 102.9h1.3M220.9 103.3h1.3M214.3 101.6h1.3M211.5 102.6h1.3M224.7 101.8h1.3M225.9 105.4h1.3M220 103.7h1.3M214.2 102.6h1.3M224.2 104.1h1.3M211.1 107.9h1.3M221.4 106.1h1.3M214.8 101.5h1.3M216.6 102.1h1.3M233.2 105.7h1.3M217.4 95.9h1.3M214.2 104.5h1.3M215.1 107.4h1.3M235.1 112.6h1.3M228.5 103.9h1.3M226.5 100.9h1.3M220.6 98.8h1.3M211 103.1h1.3M216.3 95.4h1.3M236 107h1.3M220.1 111.4h1.3M216.5 107h1.3M227.1 97.6h1.3M214.7 99.7h1.3M217.9 101.5h1.3M230.3 105.1h1.3M218 101.3h1.3M226 97.3h1.3M219.1 100.3h1.3M225.8 101.6h1.3M217.2 101.5h1.3M227.6 108.3h1.3M245.5 107h1.3M245.4 106.7h1.3M239.6 105h1.3M231.8 96.9h1.3M214.9 102.5h1.3M226.1 111.8h1.3M224.1 117.3h1.3M229.7 109.5h1.3M232.4 118.9h1.3M227.5 116.1h1.3M218.9 98.9h1.3M225.5 106.6h1.3M212.2 111.3h1.3M229.8 117.5h1.3M222.1 119.2h1.3M223.2 126.8h1.3M221.8 112.4h1.3M234.8 128.7h1.3M228.6 119.7h1.3M218.9 114.8h1.3M247.4 117.7h1.3M238.5 124.7h1.3M217.1 122.1h1.3M226.2 127.3h1.3M212.3 123.6h1.3M230.2 112.9h1.3M224.8 114.1h1.3M219.3 117.1h1.3M220.9 117.8h1.3M222 115.9h1.3M247.1 113.9h1.3M238.6 114.1h1.3M236.5 127.2h1.3M216.8 118.2h1.3M220.6 111.8h1.3M238.5 116h1.3M213.4 111.3h1.3M229.7 115.2h1.3M237.5 118.1h1.3M252.7 117.8h1.3M230.4 127.8h1.3M238.1 116.6h1.3M217 124.1h1.3M241 116.7h1.3M231.3 120h1.3M232.1 115.8h1.3M233.5 118.2h1.3M227.6 117.3h1.3M233 115.7h1.3M237.4 112h1.3M223 112.3h1.3M222 108.3h1.3M244.7 113.9h1.3M216.3 107.9h1.3M227.3 120.8h1.3M222.7 110.5h1.3M232.2 126.3h1.3M224.7 111.9h1.3M233.9 116.8h1.3M218.1 99.5h1.3M225.8 118.7h1.3M212.9 122.9h1.3M231.8 106.3h1.3M232.5 106.6h1.3M238.1 122h1.3M225.6 120.2h1.3M244.9 113.9h1.3M219 125.4h1.3M222.3 115h1.3M234.8 112h1.3M226.8 113.8h1.3M216.4 121.1h1.3M240 113.3h1.3M227.5 110.3h1.3M228.1 138.9h1.3M216.9 139.3h1.3M226.2 159.7h1.3M221.6 121.3h1.3M233.7 156.9h1.3M228.5 128.1h1.3M233.5 126.7h1.3M225.6 119.2h1.3M236.9 120.5h1.3M227 143.7h1.3M232.2 140.4h1.3M227.1 129.5h1.3M240 141.8h1.3M239.9 132.1h1.3M227.3 127.4h1.3M224.4 119.5h1.3M236.7 130.9h1.3M218.8 131.5h1.3M221.6 121h1.3M224.6 146.5h1.3M221.3 121.9h1.3M237 118.2h1.3M235.2 132.3h1.3M225.2 141.6h1.3M213.3 142.3h1.3M228.7 141h1.3M228.7 140h1.3M221.4 127.3h1.3M233.6 126.8h1.3M219.8 138.9h1.3M239.4 125.9h1.3M211.4 125.6h1.3M235.6 129.8h1.3M215.8 150.2h1.3M224.2 133.9h1.3M241.8 141.6h1.3M225.5 138.7h1.3M228.3 136.4h1.3M229.5 139.1h1.3M219.1 140h1.3M227.9 140.7h1.3M215.3 147.5h1.3M227.7 125.1h1.3M223.9 148h1.3M232.3 127.5h1.3M225.8 131.5h1.3M235.8 132.5h1.3M236.2 137.8h1.3M237.6 120.3h1.3M247 130.8h1.3M252.4 129.3h1.3M216.7 133.4h1.3M226.4 140.1h1.3M216.8 158.2h1.3M228.6 135.1h1.3M218.1 122.8h1.3M220 146.4h1.3M225.7 134.3h1.3M233.1 151h1.3M212.2 143.5h1.3M238.6 113.4h1.3M224.8 128.5h1.3M224.8 140.6h1.3M226.4 150.7h1.3M228.3 129.7h1.3M237.1 130h1.3M225.2 140.9h1.3M219.6 138h1.3M232.8 146.1h1.3M216 135.3h1.3M234 135.3h1.3M221 126.8h1.3M229.5 162.8h1.3M222.3 155.9h1.3M234 152.3h1.3M227.4 164.7h1.3M214.3 155.1h1.3M214.9 157.9h1.3M220.5 149.7h1.3M214.4 156.2h1.3M225.1 159.9h1.3M213.3 162.1h1.3M217.2 151.4h1.3M235.1 141.8h1.3M214.4 149.9h1.3M224.3 152.1h1.3M231.4 160.5h1.3M227 155.7h1.3M214.3 158.4h1.3M212.7 164.9h1.3M231.1 164h1.3M228.7 145.2h1.3M237.3 153.4h1.3M229.6 151.3h1.3M221.3 158.2h1.3M219.8 152.8h1.3M225.2 147h1.3M217.9 159.1h1.3M224.9 164.1h1.3M234 165.5h1.3M228.6 154.1h1.3M213.9 160.7h1.3M243.6 157.6h1.3M218 167.7h1.3M225 153.8h1.3M228.9 158.7h1.3M216.2 156.1h1.3M222.2 151.8h1.3M231 156h1.3M211.6 158.2h1.3M228.6 148.1h1.3M232.3 164.2h1.3M242.2 163.4h1.3M221.6 148.1h1.3M230.9 162.4h1.3M223.2 149.2h1.3M241.9 162.7h1.3M218.5 167.7h1.3M224.4 168.9h1.3M223.3 169.5h1.3M217 170.2h1.3M211.2 164.1h1.3M223.5 172.6h1.3M216.7 166.9h1.3M216.7 168.7h1.3M235.3 168.1h1.3M224.2 163.6h1.3M228.3 172h1.3M219.2 166.5h1.3M224 165.9h1.3M221.6 171.7h1.3M216.5 168.6h1.3" stroke="#0a0a28" stroke-width="1.3"/>
<path d="M222 103.9h1.3M218.6 104.4h1.3M227.6 100.2h1.3M236.5 106h1.3M215.4 105.5h1.3M237.5 111.5h1.3M222.8 100h1.3M220.3 105.4h1.3M222.3 100.8h1.3M218.6 101.3h1.3M214.6 103.3h1.3M221.7 101.3h1.3M238.2 111.7h1.3M231.3 100h1.3M228.5 111.2h1.3M234.7 98.8h1.3M222 97.2h1.3M218.8 105.9h1.3M218.4 99.7h1.3M216.5 98.2h1.3M233.7 103.7h1.3M221.8 101h1.3M229.1 109.5h1.3M219.5 98.5h1.3M231.8 101.2h1.3M222.7 100.2h1.3M227.7 104.5h1.3M224.4 101.3h1.3M229.9 115.1h1.3M222.2 101.7h1.3M229.5 97.7h1.3M219.6 103.1h1.3M224.8 99.4h1.3M231.6 105.7h1.3M221.2 97.8h1.3M215.7 105.3h1.3M226.1 97.5h1.3M228.7 104.9h1.3M224.9 102.9h1.3M234.1 114.4h1.3M235.1 100.7h1.3M218.3 103.2h1.3M227.1 99.8h1.3M226.5 98.9h1.3M219.4 97.6h1.3M224.1 100.8h1.3M241.1 87.3h1.3M244.2 85.5h1.3M256.8 90.4h1.3M262.2 70.8h1.3M245.6 84.2h1.3M264.6 77.9h1.3M259.4 85.5h1.3M233.9 90.4h1.3M264.5 76.3h1.3M224.9 100.8h1.3M225.8 121.7h1.3M223.8 119h1.3M244.7 107.8h1.3M233.6 119.6h1.3M247.1 124.5h1.3M228.7 120.6h1.3M215.6 123.1h1.3M220.9 117.8h1.3M242 117.2h1.3M218.2 115.6h1.3M235.4 115.4h1.3M215.6 113.3h1.3M231.6 108.5h1.3M228 126.4h1.3M231.8 117.4h1.3M239.5 113.9h1.3M226.6 117.6h1.3M231.9 121h1.3M221.1 122.3h1.3M224.7 111.2h1.3M235.5 129.4h1.3M225.4 122.9h1.3M235.6 121.5h1.3M214.6 123.9h1.3M222.2 112.9h1.3M218.4 131.1h1.3M236.7 149.8h1.3M232.7 148.8h1.3M228.3 129.2h1.3M218.4 141.6h1.3M233.3 144h1.3M214.5 132.7h1.3M230.8 126.1h1.3M227.5 143.9h1.3M248.2 116.8h1.3M227.5 142.9h1.3M224.3 129.9h1.3M245.2 122.5h1.3M212.7 123.7h1.3M214.5 140.8h1.3M225.9 136.2h1.3M228 143h1.3M229.6 145.1h1.3M217.1 113.2h1.3M218.6 143.2h1.3M234.4 123.9h1.3M217.3 138.8h1.3M212.1 153.9h1.3M219.9 144.9h1.3M211.1 150.1h1.3M216.1 136.8h1.3M218.2 142.1h1.3M244.3 146.6h1.3M239.1 120.2h1.3M228.9 140h1.3M218.5 130.5h1.3M240.3 147.6h1.3M222.3 132.4h1.3M257.9 124.6h1.3M253.2 144.5h1.3M229.7 139.6h1.3M219.9 125.2h1.3M227.7 139.9h1.3M217.1 136h1.3M235.9 151.6h1.3M218.6 133.6h1.3M215.4 132.2h1.3M228.4 135.9h1.3M215.2 136.9h1.3M230.6 127.1h1.3M228.8 137.2h1.3M237.3 142.5h1.3M224.3 121.4h1.3M232.3 147.3h1.3M232.1 135.8h1.3M221.6 130h1.3M229 133.7h1.3M238.1 149.7h1.3M224.4 151.9h1.3M215 165.7h1.3M225.6 155.7h1.3M244.3 136.7h1.3M212.7 154.6h1.3M224.2 162h1.3M225.2 150.2h1.3M233.5 142.6h1.3M238.5 148.3h1.3M234.3 142.1h1.3M228.5 168.5h1.3M237.2 167.4h1.3M231.9 156.7h1.3M212.9 150.3h1.3M224.8 162.4h1.3M223.5 166.3h1.3M221.1 169.4h1.3M226 155.4h1.3M229.2 147.2h1.3M216.5 161.9h1.3M219.6 167.7h1.3M228.4 155.1h1.3M227.6 171.5h1.3M215.1 154.2h1.3M227.6 149.6h1.3M231.2 153.6h1.3M218.3 147.3h1.3M215.2 155.2h1.3M217.3 153.2h1.3M231.7 165.4h1.3M231.3 153.5h1.3M222.4 139.3h1.3M218 148.8h1.3M234.4 170.4h1.3M226.3 171.4h1.3M226.8 164.1h1.3M211.3 150.5h1.3M221.1 151.3h1.3M213.3 155h1.3M225 140.7h1.3M211.9 162.1h1.3M222 154.2h1.3M217.5 165.3h1.3M224.9 149h1.3M214.6 161.4h1.3M231.7 154h1.3M226.3 176.5h1.3M212.7 143.6h1.3M222.2 160.2h1.3M223.9 165.9h1.3M219.7 158.6h1.3M232.8 174.2h1.3M220.1 165.5h1.3M216.1 171.3h1.3M214.6 171.6h1.3M224.2 156.3h1.3M215.9 169.2h1.3M217.2 167.5h1.3M222.9 176.3h1.3M220.3 169h1.3" stroke="#141a5a" stroke-width="1.3"/>
<path d="M220.9 98.1h1.3M220.4 99h1.3M232 102.5h1.3M220.8 102.3h1.3M214.1 96.5h1.3M241 96.1h1.3M228.9 94.8h1.3M232.7 99.6h1.3M220.4 102.6h1.3M216.2 100.9h1.3M212.9 99.5h1.3M215.8 106.3h1.3M214.4 105.8h1.3M211.7 105.1h1.3M212 103.9h1.3M217.1 100.3h1.3M235.7 109.1h1.3M252.2 99.9h1.3M222.8 97.4h1.3M226.6 106.1h1.3M226.4 100.6h1.3M224.8 105.4h1.3M230.6 100h1.3M213.9 101.1h1.3M226.7 98.6h1.3M228.1 100.7h1.3M246.4 76h1.3M246.6 86.8h1.3M239.4 89.1h1.3M251.8 77.8h1.3M228.6 94.2h1.3M244.3 83.9h1.3M250.6 85.3h1.3M233.1 96.4h1.3M259.8 75.2h1.3M262.1 73.2h1.3M256.1 79.4h1.3M241.9 115.6h1.3M228.4 106.4h1.3M227.4 115.3h1.3M218 121.8h1.3M225.5 108.9h1.3M233.5 119h1.3M232.6 112.2h1.3M221.4 119.2h1.3M211.6 115.5h1.3M238.4 110.9h1.3M223 117.7h1.3M219 131.8h1.3M214.2 120.2h1.3M220.5 108.9h1.3M219.7 116.4h1.3M217.7 121.4h1.3M256.2 120.6h1.3M231.3 145.2h1.3M224 150.4h1.3M229 144.3h1.3M226.2 123.4h1.3M233.5 133.3h1.3M230.5 139.8h1.3M213 142.5h1.3M225.3 128.9h1.3M219.5 128.3h1.3M229 128.2h1.3M223.2 133.3h1.3M228.6 120.3h1.3M233.9 129.4h1.3M224.1 127.9h1.3M235.2 141.7h1.3M213.5 145.3h1.3M226.8 130.2h1.3M236.7 137.2h1.3M230.8 142.4h1.3M223.3 121.4h1.3M237 131.9h1.3M230.8 149.6h1.3M221.7 138.3h1.3M249.2 130.1h1.3M228.7 133.9h1.3M223.3 144.2h1.3M219.6 140.4h1.3M223.8 127.5h1.3M227.1 140.1h1.3M221.9 140.3h1.3M231 132.3h1.3M216.6 127.5h1.3M220.7 137.1h1.3M226.3 145.6h1.3M216.7 127.2h1.3M232.2 132.7h1.3M216.1 133h1.3M220.7 145.7h1.3M222.7 132.3h1.3M236.3 148h1.3M216.2 155h1.3M211.5 162.9h1.3M229.6 155.1h1.3M214.3 156h1.3M225.5 147.1h1.3M221.2 154.3h1.3M226.2 151.5h1.3M221.4 155.5h1.3M221.1 161.9h1.3M223.6 159.1h1.3M211.3 152.1h1.3M225.1 149.8h1.3M213.1 159.2h1.3M222.6 152h1.3M227 163h1.3M232.5 157.9h1.3M232.5 157.5h1.3M217.8 168.4h1.3M216.7 171.6h1.3M218.7 168.1h1.3M217.9 159.4h1.3M224.5 161.3h1.3M220.3 169.1h1.3M223.3 167.3h1.3M218.5 163.9h1.3" stroke="#3a50c0" stroke-width="1.3"/>
<path d="M220.3 108.1h1.3M223.3 103.1h1.3M227 107.6h1.3M226.9 108.7h1.3M214.8 108.9h1.3M217.2 99h1.3M226.7 103.7h1.3M223.5 103.4h1.3M217.6 104.6h1.3M217.1 106.3h1.3M213.9 100.3h1.3M220.9 102.4h1.3M234.9 105.7h1.3M223.1 106.8h1.3M238.8 90.1h1.3M253.8 83.8h1.3M251.4 91.7h1.3M240.3 90h1.3M238.1 79.2h1.3M263.1 79.8h1.3M227.6 105.3h1.3M216.8 122.2h1.3M240.4 111.9h1.3M228.2 121.1h1.3M213 117.7h1.3M234.4 115.4h1.3M231.6 121.5h1.3M214.6 109.6h1.3M245.4 125.9h1.3M222.2 118.3h1.3M234.3 129.9h1.3M224.6 145.8h1.3M236.4 133.9h1.3M216.5 123.1h1.3M225.3 123.5h1.3M213.4 127.1h1.3M219.8 143.4h1.3M229.4 119.4h1.3M216.2 127.2h1.3M221.3 127.8h1.3M215.8 116.8h1.3M235 138.5h1.3M216.2 134.9h1.3M215.3 145.6h1.3M236.3 140.5h1.3M221.3 149.4h1.3M221.5 157.2h1.3M216.1 158.9h1.3M223.2 147h1.3M222.2 158.9h1.3M216.6 162.2h1.3M238.1 146.6h1.3M217.9 142.5h1.3M221.7 158.5h1.3M224.8 169.3h1.3M226.6 177.7h1.3M220.9 168.7h1.3M226.7 167.9h1.3" stroke="#7080d8" stroke-width="1.3"/>
<path d="M268 80.7h1.4M262 75.7h1.4M257 73.7h1.4M250 76.7h1.4" stroke="#05051a" stroke-width="1.4"/>
<path d="M278 81.7h1.4M263 70.7h1.4" stroke="#101040" stroke-width="1.4"/>
<path d="M227.1 103.4h1.5M227.1 101.9h1.5M235.2 93.6h1.5M231.1 97h1.5M231 107.2h1.5M241.2 104.3h1.5M245.9 89.6h1.5M258.4 88.2h1.5M235.8 106.4h1.5M238.1 92h1.5M242.6 105.8h1.5M226.1 104.1h1.5M255.6 89.7h1.5M230.9 99.6h1.5M236.1 106.2h1.5M226.4 102.8h1.5M255.6 87.9h1.5M235.3 106.8h1.5M253.8 97.9h1.5M248.9 88h1.5M259.6 92.4h1.5M240.8 106.3h1.5M256.6 93.3h1.5M252.5 97h1.5M239.1 105.5h1.5M236.4 93.3h1.5M243.1 104h1.5M251.6 86.4h1.5M228.9 109.8h1.5M236.8 105.7h1.5M238.8 91.2h1.5M256.4 84.5h1.5M251.2 100.8h1.5M234.3 106.2h1.5M258.9 91.1h1.5M257 86.2h1.5M254 96.8h1.5M252.1 87.8h1.5M230.8 107.6h1.5M256.2 91.2h1.5M237.8 93.8h1.5M233.7 96.4h1.5M252.5 85.6h1.5M242.4 104.2h1.5M241.4 90.7h1.5M229.2 103.8h1.5M241.3 104.6h1.5M226.8 104.6h1.5M232.2 96.8h1.5M229.6 108.5h1.5M251.2 99.9h1.5M239.6 93.3h1.5M255.2 87.6h1.5M252.2 98.1h1.5M231.9 106.5h1.5M256.6 85.2h1.5M236.9 94.8h1.5M248.2 88.3h1.5M234.7 96.9h1.5M255.1 94.6h1.5M250.8 101h1.5M252.1 87.9h1.5M242.7 89.5h1.5M235.1 95.6h1.5M245.6 89h1.5" stroke="#101040" stroke-width="1.5"/>
<path d="M229.9 102.6h1.5M230 105.6h1.5M233 98.8h1.5M256.7 87.2h1.5M258.5 90.7h1.5M234.2 94.3h1.5M257.8 93.9h1.5M257 85h1.5M239.2 106.5h1.5M227 104.5h1.5M227.1 105.4h1.5M257.8 89.2h1.5M261.2 86.6h1.5M229.5 99.2h1.5M239.1 107.5h1.5M256.7 93.7h1.5M247.7 102.8h1.5M233.6 109.3h1.5M230.2 107.6h1.5M233.7 109h1.5M231 107.2h1.5M255.5 88.6h1.5M255.5 89.7h1.5M246.9 88.7h1.5M239.6 93.4h1.5M226.5 103.4h1.5M229.3 106.1h1.5M235.6 95.4h1.5M230.7 102.5h1.5M257.7 88.1h1.5M230.1 104.6h1.5M256.5 87.6h1.5M254.5 88.4h1.5M231.8 104.7h1.5" stroke="#1c2470" stroke-width="1.5"/>
<path d="M237.2 105.5h1.5M251.9 88.3h1.5M251.8 97.7h1.5M258.9 88.8h1.5M243.3 89.7h1.5M241.9 105.3h1.5M232 98.2h1.5M227 101.4h1.5M240 104.4h1.5M228.7 102.1h1.5M259.1 90.9h1.5M229.6 105.9h1.5M260.1 86.6h1.5M252.9 86h1.5M247.5 102.6h1.5M260.9 89.9h1.5M230.7 98.1h1.5M227.8 105.3h1.5M253.7 88.8h1.5M226.2 108h1.5M253.5 88.5h1.5M253.1 96.7h1.5M235.8 94.4h1.5M245.4 88.9h1.5M247.7 87h1.5M258.2 85.2h1.5M250 87h1.5M247 102.8h1.5M251.9 85.4h1.5M235.2 94.6h1.5M243.1 89.2h1.5M227.9 108.4h1.5M259.2 92.2h1.5M233.2 107.4h1.5M237.2 95h1.5M249.9 100.2h1.5M246.2 102.3h1.5M227 107h1.5M241.6 105.5h1.5M229.8 98.8h1.5M249.4 100.7h1.5M232 98.9h1.5M228 109.5h1.5M237.8 106.5h1.5M233.2 106.4h1.5M230.6 102.4h1.5M246.9 89h1.5M227.5 104.2h1.5M259 89.9h1.5M239 92h1.5M232.3 106.2h1.5M254.3 98.5h1.5M228.6 101.6h1.5M256.9 93.3h1.5M248.1 89.5h1.5M242.3 105.8h1.5M261.4 87h1.5M261 88.7h1.5M232.7 104.7h1.5M239.2 93.3h1.5M239.3 104.9h1.5M238.4 92.6h1.5M253.4 96.2h1.5M235.4 94.8h1.5M259.6 84.7h1.5M239.8 105.5h1.5M229.5 109.4h1.5M248.2 88.5h1.5M252.9 87.6h1.5M256.4 94.2h1.5M242.7 89.6h1.5M230.6 106.1h1.5M253.3 86.1h1.5M257.7 84.8h1.5M229.5 109.8h1.5M238.3 94.5h1.5M254.9 97.9h1.5M228.7 100h1.5M255.2 87.3h1.5M260.7 92.2h1.5M243.7 89.1h1.5M262 88.5h1.5M242.2 105.3h1.5" stroke="#05051a" stroke-width="1.5"/>
<g transform="translate(244.50,97.00) rotate(-31)">
<ellipse rx="16.34" ry="5.88" fill="#04041a"/>
<ellipse rx="13.90" ry="4.90" fill="#2438b0"/>
<ellipse rx="13.00" ry="4.20" fill="url(#gcore)"/>
</g>
<rect x="210.20" y="31.10" width="125.80" height="148.30" fill="none" stroke="#000" stroke-width="1.3"/>
<line x1="266.00" y1="31.10" x2="266.00" y2="179.40" stroke="#000" stroke-width="1.15"/>
<line x1="210.20" y1="56.90" x2="336.00" y2="56.90" stroke="#000" stroke-width="1.15"/>
<path d="M206.6 31.1H210.2M206.6 64.1H210.2M206.6 96.3H210.2M206.6 128.9H210.2M206.6 167.1H210.2M208 54.2H210.2M208 48.4H210.2M208 44.2H210.2M208 41H210.2M208 38.4H210.2M208 36.2H210.2M208 34.3H210.2M208 32.6H210.2M208 86.6H210.2M208 80.9H210.2M208 76.9H210.2M208 73.8H210.2M208 71.2H210.2M208 69.1H210.2M208 67.2H210.2M208 65.6H210.2M208 119.1H210.2M208 113.3H210.2M208 109.3H210.2M208 106.1H210.2M208 103.5H210.2M208 101.3H210.2M208 99.5H210.2M208 97.8H210.2M208 136.5H210.2M208 144.2H210.2M208 151.8H210.2M208 159.5H210.2M207.2 176.4H210.2M219.7 179.4V183M235 179.4V183M258.7 179.4V183M283.2 179.4V183M307.2 179.4V183M332.4 179.4V183M211.7 179.4V182.2M213.2 179.4V182.2M214.7 179.4V182.2M216.2 179.4V182.2M222.8 179.4V182M225.8 179.4V182M228.9 179.4V182M231.9 179.4V182M242.1 179.4V181.8M246.3 179.4V181.8M249.3 179.4V181.8M251.6 179.4V181.8M253.4 179.4V181.8M255 179.4V181.8M256.4 179.4V181.8M257.6 179.4V181.8M266.1 179.4V181.8M270.4 179.4V181.8M273.5 179.4V181.8M275.8 179.4V181.8M277.8 179.4V181.8M279.4 179.4V181.8M280.8 179.4V181.8M282.1 179.4V181.8M290.4 179.4V181.8M294.7 179.4V181.8M297.6 179.4V181.8M300 179.4V181.8M301.9 179.4V181.8M303.5 179.4V181.8M304.9 179.4V181.8M306.1 179.4V181.8M314.8 179.4V181.8M319.2 179.4V181.8M322.4 179.4V181.8M324.8 179.4V181.8M326.8 179.4V181.8M328.5 179.4V181.8M330 179.4V181.8M331.2 179.4V181.8" stroke="#000" stroke-width="1"/>
<line x1="209.90" y1="180.30" x2="336.00" y2="180.30" stroke="#000" stroke-width="0.9"/>
<line x1="209.30" y1="31.10" x2="209.30" y2="180.00" stroke="#000" stroke-width="0.9"/>
<text x="219.70" y="191.80" font-size="7.0" font-family="'Liberation Sans', Arial, sans-serif" font-weight="bold" text-anchor="middle" stroke="#000" stroke-width="0.1">0</text>
<text x="233.70" y="191.80" font-size="7.0" font-family="'Liberation Sans', Arial, sans-serif" font-weight="bold" text-anchor="middle" textLength="7.2" lengthAdjust="spacingAndGlyphs" stroke="#000" stroke-width="0.1">10</text>
<text x="237.30" y="188.40" font-size="5.0" font-family="'Liberation Sans', Arial, sans-serif" font-weight="bold" stroke="#000" stroke-width="0.15">2</text>
<text x="257.40" y="191.80" font-size="7.0" font-family="'Liberation Sans', Arial, sans-serif" font-weight="bold" text-anchor="middle" textLength="7.2" lengthAdjust="spacingAndGlyphs" stroke="#000" stroke-width="0.1">10</text>
<text x="261.00" y="188.40" font-size="5.0" font-family="'Liberation Sans', Arial, sans-serif" font-weight="bold" stroke="#000" stroke-width="0.15">3</text>
<text x="281.90" y="191.80" font-size="7.0" font-family="'Liberation Sans', Arial, sans-serif" font-weight="bold" text-anchor="middle" textLength="7.2" lengthAdjust="spacingAndGlyphs" stroke="#000" stroke-width="0.1">10</text>
<text x="285.50" y="188.40" font-size="5.0" font-family="'Liberation Sans', Arial, sans-serif" font-weight="bold" stroke="#000" stroke-width="0.15">4</text>
<text x="305.90" y="191.80" font-size="7.0" font-family="'Liberation Sans', Arial, sans-serif" font-weight="bold" text-anchor="middle" textLength="7.2" lengthAdjust="spacingAndGlyphs" stroke="#000" stroke-width="0.1">10</text>
<text x="309.50" y="188.40" font-size="5.0" font-family="'Liberation Sans', Arial, sans-serif" font-weight="bold" stroke="#000" stroke-width="0.15">5</text>
<text x="331.10" y="191.80" font-size="7.0" font-family="'Liberation Sans', Arial, sans-serif" font-weight="bold" text-anchor="middle" textLength="7.2" lengthAdjust="spacingAndGlyphs" stroke="#000" stroke-width="0.1">10</text>
<text x="334.70" y="188.40" font-size="5.0" font-family="'Liberation Sans', Arial, sans-serif" font-weight="bold" stroke="#000" stroke-width="0.15">6</text>
<text transform="translate(204.10,31.30) rotate(-90)" font-size="6.7" font-family="'Liberation Sans', Arial, sans-serif" font-weight="bold" text-anchor="middle" textLength="7.2" lengthAdjust="spacingAndGlyphs" stroke="#000" stroke-width="0.1">10</text>
<text transform="translate(201.70,27.00) rotate(-90)" font-size="5.0" font-family="'Liberation Sans', Arial, sans-serif" font-weight="bold" stroke="#000" stroke-width="0.15">6</text>
<text transform="translate(204.10,64.30) rotate(-90)" font-size="6.7" font-family="'Liberation Sans', Arial, sans-serif" font-weight="bold" text-anchor="middle" textLength="7.2" lengthAdjust="spacingAndGlyphs" stroke="#000" stroke-width="0.1">10</text>
<text transform="translate(201.70,60.00) rotate(-90)" font-size="5.0" font-family="'Liberation Sans', Arial, sans-serif" font-weight="bold" stroke="#000" stroke-width="0.15">5</text>
<text transform="translate(204.10,96.50) rotate(-90)" font-size="6.7" font-family="'Liberation Sans', Arial, sans-serif" font-weight="bold" text-anchor="middle" textLength="7.2" lengthAdjust="spacingAndGlyphs" stroke="#000" stroke-width="0.1">10</text>
<text transform="translate(201.70,92.20) rotate(-90)" font-size="5.0" font-family="'Liberation Sans', Arial, sans-serif" font-weight="bold" stroke="#000" stroke-width="0.15">4</text>
<text transform="translate(204.10,129.10) rotate(-90)" font-size="6.7" font-family="'Liberation Sans', Arial, sans-serif" font-weight="bold" text-anchor="middle" textLength="7.2" lengthAdjust="spacingAndGlyphs" stroke="#000" stroke-width="0.1">10</text>
<text transform="translate(201.70,124.80) rotate(-90)" font-size="5.0" font-family="'Liberation Sans', Arial, sans-serif" font-weight="bold" stroke="#000" stroke-width="0.15">3</text>
<text transform="translate(204.10,167.10) rotate(-90)" font-size="7.0" font-family="'Liberation Sans', Arial, sans-serif" font-weight="bold" text-anchor="middle" stroke="#000" stroke-width="0.1">0</text>
<text transform="translate(195.90,105.10) rotate(-90)" font-size="7.4" font-family="'Liberation Sans', Arial, sans-serif" font-weight="bold" text-anchor="middle" textLength="18" lengthAdjust="spacingAndGlyphs" stroke="#000" stroke-width="0.1">PE-A</text>
<text x="262.30" y="201.30" font-size="7.4" font-family="'Liberation Sans', Arial, sans-serif" font-weight="bold" textLength="20.8" lengthAdjust="spacingAndGlyphs" stroke="#000" stroke-width="0.1">FITC-A</text>
<text x="212.50" y="40.40" font-size="7.2" font-family="'Liberation Sans', Arial, sans-serif" font-weight="bold" textLength="41" lengthAdjust="spacingAndGlyphs" stroke="#000" stroke-width="0.1">Q1-UL(%0,00)</text>
<text x="333.70" y="40.40" font-size="7.2" font-family="'Liberation Sans', Arial, sans-serif" font-weight="bold" text-anchor="end" textLength="42.5" lengthAdjust="spacingAndGlyphs" stroke="#000" stroke-width="0.1">Q1-UR(%0,00)</text>
<text x="212.50" y="175.40" font-size="7.2" font-family="'Liberation Sans', Arial, sans-serif" font-weight="bold" textLength="43.5" lengthAdjust="spacingAndGlyphs" stroke="#000" stroke-width="0.1">Q1-LL(%99,94)</text>
<text x="333.70" y="175.40" font-size="7.2" font-family="'Liberation Sans', Arial, sans-serif" font-weight="bold" text-anchor="end" textLength="42.5" lengthAdjust="spacingAndGlyphs" stroke="#000" stroke-width="0.1">Q1-LR(%0,06)</text>
<text x="219.60" y="26.80" font-size="7.2" font-family="'Liberation Sans', Arial, sans-serif" font-weight="bold" textLength="97.2" lengthAdjust="spacingAndGlyphs" stroke="#000" stroke-width="0.1">MDA MB 231 Vehicle : All Events</text>
<path d="M452.2 71h1.3M460 71.4h1.3M469.7 54h1.3M450.6 88.4h1.3M474.9 50.3h1.3M445.8 92.8h1.3M442.6 94.7h1.3M460.9 72.6h1.3M467.9 55.6h1.3M455.2 82.6h1.3M436 110.3h1.3M472.1 53.5h1.3M443.6 94.5h1.3M435.9 116.3h1.3M462.2 68.1h1.3M438.4 112h1.3M457.6 70.2h1.3M433.4 94.8h1.3M451.6 73.9h1.3M472.3 59.1h1.3M433.7 117.4h1.3M444.9 95.6h1.3M452 85.1h1.3M429.7 119.5h1.3M440.2 101.6h1.3M443.6 101.6h1.3M454.3 85.6h1.3M427.4 120.9h1.3M456.2 73.2h1.3M434.1 95h1.3M471.1 49h1.3M439.4 106.5h1.3M439.1 107.9h1.3M453 86h1.3M435.4 107.5h1.3M468.9 53.5h1.3M459.2 68.1h1.3M432.6 111.8h1.3M454.8 82.6h1.3M434.5 110.8h1.3M441.5 102.5h1.3M449.1 93.1h1.3M458.9 76.4h1.3M469.2 66.6h1.3M464.8 71.5h1.3M452.3 86h1.3M421.4 118h1.3M449.6 87.4h1.3M471 50.2h1.3M475 50.1h1.3M471.7 46.2h1.3M430.2 122.6h1.3M431.8 113.7h1.3M454.7 81.3h1.3M433.3 118.1h1.3M444 104.6h1.3M470.1 57.3h1.3M424.1 118.2h1.3M432.1 121.9h1.3M435.1 107h1.3M443.8 101.7h1.3M429 115.9h1.3M426.5 127.5h1.3M475.9 51.7h1.3M465.9 66.4h1.3M439.8 109h1.3M429 123.7h1.3M465 68.2h1.3M460.6 74.9h1.3M465.3 65.9h1.3M432.1 100.8h1.3M460 77.8h1.3M434.1 116.5h1.3M420 116.8h1.3M431.7 115.1h1.3M438.2 106.2h1.3M449.6 88.4h1.3M462.8 59.9h1.3M447.6 85.3h1.3M428.6 122.7h1.3M469.8 59.8h1.3M466 66.5h1.3M431.9 123.1h1.3M435.8 118.1h1.3M434.4 111.7h1.3M455.7 74h1.3M448.4 94.2h1.3M436.6 115.4h1.3M444.1 92.5h1.3M474.9 56h1.3M467.4 50.2h1.3M436.1 109.1h1.3M461.9 71.5h1.3M453.9 85.3h1.3M431.1 109.6h1.3M461.7 67.2h1.3M430.9 124.6h1.3M437 105.5h1.3M460.4 78.7h1.3M462.1 73.4h1.3M453.3 87.5h1.3M465 69.9h1.3M432.5 110.8h1.3M436.7 92.8h1.3M433.8 106.1h1.3M424.1 126.2h1.3M461.7 75.5h1.3M431.9 119.3h1.3M464.6 64.1h1.3M462.8 67.9h1.3M434.4 119.8h1.3M457.7 64.1h1.3M448.6 98.3h1.3M467.1 66.5h1.3M471.4 55.4h1.3M450.1 83.8h1.3M443.3 95h1.3M454.8 82.5h1.3M451.7 83h1.3M429.8 128.6h1.3M448.8 98.2h1.3M465.6 67.8h1.3M442.1 96.8h1.3M428.2 127.2h1.3M452.2 76.7h1.3M458.1 74h1.3M442.4 108.7h1.3M433.1 119.1h1.3M456.7 84.1h1.3M432.5 122h1.3M442.4 103.2h1.3M445.4 103.7h1.3M444 98.4h1.3M451.4 88.4h1.3M438.8 105.8h1.3M460.9 76.5h1.3M470.5 58.4h1.3M463.1 70h1.3M431.6 91.9h1.3M476.7 51h1.3M463.3 65.6h1.3M461.3 78h1.3M473.2 49.2h1.3M422.9 118.8h1.3M433.3 112.6h1.3M458.3 66.2h1.3M423.9 125.3h1.3M468.9 56.5h1.3M473.9 55.3h1.3M424.6 120.8h1.3M448.1 97.9h1.3M440 103.8h1.3M464.2 73.3h1.3M469.4 51.8h1.3M432.6 122.4h1.3M433.9 114.8h1.3M447.1 94.9h1.3M471.1 53.7h1.3M456.5 71.2h1.3M458.6 81h1.3M464.8 70.5h1.3M457.1 80.9h1.3M460.6 62.5h1.3M468.3 62.9h1.3M468.1 57.2h1.3M433.4 120.5h1.3M457.4 65.9h1.3M441.9 99.5h1.3M442.5 102.8h1.3M453.8 76.1h1.3M466.7 68.5h1.3M471.8 58.6h1.3M444.7 94.7h1.3M429.3 122.2h1.3M434.9 117.5h1.3M451.4 92.5h1.3M442.2 100.6h1.3M467.2 53.3h1.3M446.2 89.5h1.3M437.1 106.9h1.3M448.5 95.1h1.3M451.1 74.1h1.3M462.6 76.3h1.3M464.9 57.2h1.3M463.6 73.9h1.3M446.3 85.8h1.3M427.1 112.2h1.3M436.2 108.5h1.3M470 50.1h1.3M429.1 123.4h1.3M443.7 98.8h1.3M467.8 59.2h1.3M432.5 117.8h1.3M439 108.5h1.3M425.1 113.3h1.3M456.2 82.8h1.3M447 83.8h1.3M433 110h1.3M467.7 63.1h1.3M432.6 100.8h1.3M439.6 108.4h1.3M473.5 49.1h1.3M468.5 57.3h1.3M440.1 100h1.3M458 70.1h1.3M454.8 85.1h1.3M472.7 50.7h1.3M438.9 113.1h1.3M445.1 91.9h1.3M456.3 86.1h1.3M437.3 100.2h1.3M455.6 82.6h1.3M437.8 110.8h1.3M478 52.9h1.3M438.1 113.5h1.3M456.7 82.8h1.3M459.8 77.9h1.3M439 105.7h1.3M472.6 56.3h1.3M464.3 63.9h1.3M438.2 111.5h1.3M461.1 69.7h1.3M469.2 48.7h1.3M425.9 122.6h1.3M463.4 63.4h1.3M437.9 111.9h1.3M449.7 93h1.3M433.1 113.4h1.3M447.5 88.8h1.3M450.6 89.6h1.3M456.4 84.5h1.3M467.7 69.1h1.3M407.9 149.5h1.3M403.9 132h1.3M409.4 156.5h1.3M418.1 125.9h1.3M409.6 150.4h1.3M414.1 147.9h1.3M422.3 126.7h1.3M394.9 166.7h1.3M391.8 159.2h1.3M403 152.8h1.3M396.8 162.1h1.3M422.6 135.5h1.3M402.2 164.6h1.3M418.8 138.4h1.3M420 136.6h1.3M408 151.8h1.3M401.7 149.1h1.3M416.6 130.5h1.3M422.6 135.5h1.3M415.3 136.9h1.3M404.4 153.3h1.3M421.7 133.4h1.3M405.3 142.2h1.3M393 161.1h1.3M395.1 162.4h1.3M390.8 163h1.3M416 132.8h1.3M409.3 143.1h1.3M411.1 151.7h1.3M399.3 162.3h1.3M413.6 128.1h1.3M407.5 151.3h1.3M390.3 154.6h1.3M418.8 134.4h1.3M397.1 164.4h1.3M399.8 140.4h1.3M397.1 164.9h1.3M412.5 131.1h1.3M409.3 148.5h1.3M401.6 168h1.3M395.4 155.9h1.3M413.1 133.7h1.3M402.2 150.2h1.3M406.8 159.4h1.3M412.9 138.9h1.3M414.1 131.8h1.3M406.1 157.2h1.3M412.6 123.1h1.3M406.7 154.6h1.3M403.2 143.4h1.3M405.6 144.3h1.3M401.3 168.9h1.3M412.5 126.7h1.3M398 165.3h1.3M402.4 163h1.3M415.5 138.7h1.3M415.7 143.1h1.3M402.3 167.1h1.3M404.6 116.4h1.3M403.8 156.7h1.3M424.8 131h1.3M416.1 133.7h1.3M418.3 141.4h1.3M397.5 165.6h1.3M400.7 166h1.3M401.8 162.9h1.3M415.6 136.1h1.3M404.3 150.7h1.3M416.3 145.2h1.3M402.5 155.3h1.3M402.8 163.6h1.3M406.9 139.8h1.3M411.6 147.8h1.3M414 148.3h1.3M414 156.7h1.3M413.7 149.9h1.3M395.2 160.6h1.3M414.3 151.7h1.3M412.1 154.2h1.3M410.6 147.2h1.3M415.6 143.7h1.3M414.9 147.5h1.3M399.9 152.9h1.3M408 148.4h1.3M401 166.5h1.3M397.5 160.2h1.3M414.2 158.6h1.3M410.8 162.5h1.3M400.2 160.3h1.3M405.9 158.9h1.3M412.3 147.6h1.3M414.9 151.9h1.3" stroke="#05051a" stroke-width="1.3"/>
<path d="M471.7 55.6h1.3M447.2 92h1.3M441 104.3h1.3M454.8 83.6h1.3M470.5 59.7h1.3M476.3 51h1.3M430.7 125.1h1.3M431.7 121.7h1.3M418.7 123.4h1.3M441.9 97.2h1.3M463.1 73.9h1.3M425.6 114.7h1.3M463.4 56.9h1.3M457.3 85.4h1.3M426.9 114.5h1.3M448.9 90.8h1.3M474.4 50.3h1.3M475.3 57.2h1.3M428 127h1.3M424.2 125.5h1.3M436.5 106.4h1.3M465.7 70.2h1.3M458 65.3h1.3M438.7 111h1.3M469.1 65.4h1.3M440 103.2h1.3M471.5 59h1.3M469 55.6h1.3M431.6 114.3h1.3M428.9 114.3h1.3M463.3 49.2h1.3M439.1 107.1h1.3M444.1 83.7h1.3M472 49.5h1.3M471.1 55.9h1.3M463.7 61.4h1.3M451.9 86.9h1.3M452.2 83.1h1.3M437.6 113.7h1.3M459.7 77.9h1.3M451.3 81.1h1.3M460.7 71.1h1.3M459.6 71.9h1.3M453 86.8h1.3M444.1 101h1.3M439.6 106.7h1.3M461.3 72h1.3M435.4 111.3h1.3M453.4 84.8h1.3M474.9 51.9h1.3M471.9 62.4h1.3M452 72.8h1.3M465.8 65.4h1.3M446.4 98.5h1.3M441.2 106.7h1.3M471.1 56.8h1.3M457.6 66.3h1.3M438.9 105.8h1.3M426.8 125.8h1.3M454 83.6h1.3M463.5 74.1h1.3M460.5 80.8h1.3M469.7 50.2h1.3M426.5 129.4h1.3M454.1 84.1h1.3M471.6 61.1h1.3M452.5 89.5h1.3M460.3 76.5h1.3M465.8 68h1.3M454.9 88.1h1.3M452.6 83.1h1.3M468.2 67.7h1.3M462.8 67.7h1.3M470.3 62.8h1.3M424.6 114.8h1.3M464.3 66h1.3M463.1 56.2h1.3M469.4 65.7h1.3M468.9 63h1.3M476.9 54.6h1.3M427.6 109.6h1.3M464.8 55.8h1.3M434.5 120.1h1.3M463.1 70.6h1.3M466.4 57.9h1.3M473.9 60.9h1.3M445.7 99.2h1.3M433.3 112.8h1.3M450.6 90.8h1.3M455.1 74.3h1.3M471.4 59.3h1.3M446.3 93.6h1.3M463.1 63.5h1.3M467.5 59.2h1.3M460.9 80.3h1.3M458.9 75.6h1.3M457.1 78.3h1.3M465 68h1.3M461.8 67.4h1.3M458.4 73.4h1.3M444.3 100.4h1.3M435 103.4h1.3M457.3 76.5h1.3M430.5 121.3h1.3M461.5 72.5h1.3M454.9 87h1.3M437.1 111h1.3M468.3 55.3h1.3M469 62.2h1.3M461.2 70h1.3M432 119.5h1.3M444.1 98.3h1.3M448.5 92.7h1.3M433.5 111.2h1.3M449.3 93.7h1.3M437.8 100.7h1.3M466.5 66.7h1.3M461.2 61.4h1.3M431.3 121.4h1.3M442 99.6h1.3M464.6 69.9h1.3M442.4 96h1.3M465.9 67.2h1.3M467.2 59.8h1.3M428.9 116.8h1.3M443.6 104.7h1.3M469.9 62h1.3M465.6 62.1h1.3M445.5 103.8h1.3M461.6 74.7h1.3M472.1 59.1h1.3M427.4 115.3h1.3M452.9 94.2h1.3M443.4 95.4h1.3M449.7 84.7h1.3M454.7 85.5h1.3M468.6 59.4h1.3M462.5 71.4h1.3M455.1 87.8h1.3M459.7 79.1h1.3M447.8 96.8h1.3M436.5 113.5h1.3M445.7 92.6h1.3M424.9 125.6h1.3M438.2 97.2h1.3M437.2 113.4h1.3M453.7 88.9h1.3M472.6 62.2h1.3M470.6 56.8h1.3M429.4 127.3h1.3M453.1 84.9h1.3M450.6 85.5h1.3M449.2 89.7h1.3M433.2 112.6h1.3M447 85.5h1.3M438.5 101.9h1.3M437.6 105.4h1.3M445 83.7h1.3M454.4 77.6h1.3M437.3 97.6h1.3M476 52.9h1.3M449.9 91.3h1.3M432.1 114.2h1.3M402 160.4h1.3M414.9 140.9h1.3M417.2 124.9h1.3M408.2 148.5h1.3M424.2 134.9h1.3M408.7 156.4h1.3M400.7 166.4h1.3M408.4 149.9h1.3M417.8 140.9h1.3M400 158.7h1.3M415.7 144h1.3M400.9 158.2h1.3M415.6 147.6h1.3M421.2 125.7h1.3M423.7 129.6h1.3M414.4 135.6h1.3M411.8 128.6h1.3M418.7 139.7h1.3M414.7 148.9h1.3M413.6 142.6h1.3M401.2 168.6h1.3M413.1 142.6h1.3M412.7 151.1h1.3M398.6 165.6h1.3M403.4 161.5h1.3M414.8 150h1.3M408.7 134.9h1.3M408.8 148.1h1.3M404.9 144h1.3M403.9 146.2h1.3M401.7 166.1h1.3M415.7 122.8h1.3M402.1 168.1h1.3M397.3 161.3h1.3M408.7 158.1h1.3M403.8 152h1.3M403.9 163.8h1.3M403.9 154.3h1.3M401.4 142.5h1.3M397.6 156.9h1.3M415.8 146.9h1.3M408.5 156.8h1.3M410.8 152.9h1.3M413.5 137.5h1.3M416 144.2h1.3M403.1 162.8h1.3M408.2 149.9h1.3M400.6 166.4h1.3M411.1 155h1.3M412.4 134.9h1.3M405.4 159.2h1.3M410.2 156.8h1.3M396.3 161.9h1.3M415 142.7h1.3M416 149.3h1.3M415.3 149h1.3M420 140.7h1.3M420.1 142.2h1.3M417.4 127h1.3M419.7 132.3h1.3M405.9 145.1h1.3M405.8 144.6h1.3M406.2 163.5h1.3M404.1 146.3h1.3M400.2 157.2h1.3M424.5 129.7h1.3M398 162.3h1.3M410 131.6h1.3M407.5 144.5h1.3M406.7 146.4h1.3M405.1 154.4h1.3M417.8 133.5h1.3M410.7 149h1.3M419.5 127.5h1.3M412.8 145.3h1.3M402.5 152.8h1.3M410.2 145.7h1.3M408.9 150.4h1.3M402.6 152.5h1.3M412.3 158.3h1.3M405.7 153.3h1.3M416.3 150.7h1.3M408.2 159.6h1.3M398.8 157.2h1.3M402.2 143.3h1.3M394.1 158.6h1.3M409.3 151.1h1.3M397.7 158h1.3M396 161.3h1.3M406.5 153.3h1.3M412 153.2h1.3M402.5 172.6h1.3M410.7 152.7h1.3M398.7 149.2h1.3M394.9 143.4h1.3M414.6 142.9h1.3M405.3 137.9h1.3M409.1 157.1h1.3M406.9 157h1.3M399.1 153.1h1.3M401.7 162.5h1.3M423.6 142.8h1.3M409.6 167.7h1.3M417.2 147.5h1.3M400.9 162.5h1.3M408.8 155h1.3M407.1 148.3h1.3M414.6 158.5h1.3M408.6 143.9h1.3M412.9 149.3h1.3" stroke="#101040" stroke-width="1.3"/>
<path d="M478.1 52.7h1.3M470.9 63.8h1.3M436 109.8h1.3M455.8 85.7h1.3M433.9 110.8h1.3M428.8 123.9h1.3M431.5 120.9h1.3M436.5 108.1h1.3M442.2 100.7h1.3M451.3 83.1h1.3M456.3 73h1.3M420.1 121.9h1.3M469.6 62.1h1.3M464.6 65.1h1.3M444.5 103.3h1.3M431.7 98.8h1.3M439.9 102.5h1.3M438.1 103.4h1.3M477.1 53.1h1.3M458.3 80.1h1.3M428.2 122.7h1.3M458.6 70h1.3M428.3 118.6h1.3M463.1 69.4h1.3M450.4 76h1.3M423.8 125h1.3M474.9 58.1h1.3M461.8 51.6h1.3M444.5 100.1h1.3M443.5 86h1.3M456 68.7h1.3M434.5 118.4h1.3M474.4 58.7h1.3M455.1 84.1h1.3M432.8 117.4h1.3M439.5 104.8h1.3M424.5 125.4h1.3M437.7 111.4h1.3M435.1 108.5h1.3M462.4 75.7h1.3M465.5 55.7h1.3M468 61.4h1.3M442.8 105.4h1.3M466.6 68.1h1.3M447 98.6h1.3M464.6 69.3h1.3M448.3 85.9h1.3M470.5 59.9h1.3M474.6 48.5h1.3M437 112.7h1.3M461.8 74.8h1.3M439.9 107.8h1.3M472.7 59.8h1.3M424.1 126.5h1.3M437.6 102.9h1.3M438.9 94h1.3M423 111.5h1.3M443.6 105h1.3M448.7 87.5h1.3M474 55.1h1.3M428.7 127.4h1.3M463.3 69.1h1.3M446.8 91.4h1.3M472.5 50.9h1.3M436.6 94.2h1.3M464.6 72.1h1.3M440.3 112.1h1.3M457.2 77.1h1.3M463.9 72.6h1.3M424.1 118.9h1.3M458.3 80h1.3M422.5 117.9h1.3M451.7 78.1h1.3M472.1 54.4h1.3M417.1 115.4h1.3M457.9 72.3h1.3M461.3 65.1h1.3M467 65h1.3M430.4 118.8h1.3M436.7 95.4h1.3M441.2 94.7h1.3M435.6 97.1h1.3M463.9 62.3h1.3M436.4 99h1.3M440.9 94.1h1.3M448.8 95.7h1.3M440.7 108h1.3M436.2 111.9h1.3M453.7 89.5h1.3M431.4 98.2h1.3M465.7 69.4h1.3M451.2 90.1h1.3M449.2 97.7h1.3M439.2 105.4h1.3M460.3 73.9h1.3M447 95.9h1.3M456.5 84.5h1.3M423.9 125.3h1.3M452.5 87.2h1.3M443.1 98.8h1.3M453.8 73h1.3M452.2 79.7h1.3M440.9 95.5h1.3M431.2 119.4h1.3M449 91.3h1.3M420 121h1.3M467.1 60.4h1.3M429.1 129.9h1.3M446.3 93.4h1.3M452.7 90h1.3M438.2 88.6h1.3M433.4 124h1.3M457.7 77.8h1.3M418.2 123.5h1.3M438.9 106.7h1.3M452.2 80h1.3M421.9 110.1h1.3M442.1 89.4h1.3M449.3 65.5h1.3M434.4 63h1.3M413.1 115.7h1.3M442.2 88.6h1.3M468 47h1.3M413.1 112.6h1.3M467.7 57.6h1.3M427.9 105.4h1.3M420.3 122.4h1.3M454.8 58.3h1.3M455.5 71.7h1.3M433 110.1h1.3M459.3 57.3h1.3M432.3 110.4h1.3M409.1 117.1h1.3M443.9 76.2h1.3M433.1 71.6h1.3M445.7 64.3h1.3M431.1 76.7h1.3M423.6 96.9h1.3M440.9 88.8h1.3M453.4 65.2h1.3M464 51.7h1.3M461.2 57.5h1.3M444.7 97.5h1.3M440.8 100.7h1.3M468.2 49.3h1.3M432.4 109.2h1.3M435.6 108.3h1.3M443.6 92.5h1.3M433.3 117.5h1.3M428.4 83.7h1.3M465.2 56.2h1.3M442.8 86.8h1.3M434.6 106.3h1.3M458 82.9h1.3M448.8 78.2h1.3M437.6 110.7h1.3M451.7 65.8h1.3M433.2 102h1.3M429.4 99.7h1.3M455.3 42.6h1.3M461.2 75.5h1.3M466.8 67.6h1.3M425.5 110h1.3M441.2 98.7h1.3M429.3 93.3h1.3M441.6 99.9h1.3M428.1 113.1h1.3M435.6 70.8h1.3M450.5 95.1h1.3M448 91.5h1.3M442 87.6h1.3M402.6 111.3h1.3M463.1 49.5h1.3M430.2 96.5h1.3M465.8 53.1h1.3M442.4 96h1.3M437.6 85.2h1.3M436 105.8h1.3M427.5 106.9h1.3M448.5 84.4h1.3M420.7 78.8h1.3M443.8 83.1h1.3M440.5 93.2h1.3M433.5 98.6h1.3M429.3 95.1h1.3M396.2 153h1.3M414 150.4h1.3M401.9 149.4h1.3M423.9 133.4h1.3M409 146.6h1.3M407.7 147.9h1.3M415.2 133.6h1.3M406.6 148.5h1.3M403.6 161.9h1.3M412.2 146.6h1.3M412 140.7h1.3M408.9 157.8h1.3M420.8 133.6h1.3M400.3 165.2h1.3M410.1 135.4h1.3M406.2 160h1.3M418.3 135.4h1.3M415.6 123.9h1.3M415.4 141.6h1.3M411 154.3h1.3M401.3 152.9h1.3M399.2 157.5h1.3M415.8 146.3h1.3M402.1 155.4h1.3M419 140.5h1.3M399.9 167h1.3M417.4 128.3h1.3M398.2 157.7h1.3M412.2 144.4h1.3M402.6 152.7h1.3M405.1 163.4h1.3M416.6 144.8h1.3M400.7 159.7h1.3M394.4 153.1h1.3M418.7 140.5h1.3M417.8 139.6h1.3M413.4 140.3h1.3M414.1 148.9h1.3M424.6 135.3h1.3M410.2 155h1.3M396.4 161.1h1.3M408.2 152.2h1.3M406.2 140.9h1.3M414 144h1.3M426.1 130.4h1.3M396.2 160.4h1.3M416.3 147.4h1.3M421.7 139h1.3M423.1 129.8h1.3M404.5 151.8h1.3M419.6 134.2h1.3M412.3 127.1h1.3M391.9 164.4h1.3M410.7 153.2h1.3M410.8 130.9h1.3M416.1 141.6h1.3M401.7 164.1h1.3M400.4 158.2h1.3M394.5 166.4h1.3M405.6 132h1.3M403.3 154.5h1.3M400.3 159.9h1.3M400 170h1.3M413.1 135.1h1.3M405.8 145.7h1.3M407.4 158.7h1.3M403 154.6h1.3M420 126.5h1.3M396.2 162.6h1.3M409.2 158.2h1.3M403.8 166h1.3M389.1 161.5h1.3M411.2 149.9h1.3M409 158.4h1.3M417.2 134h1.3M400.4 168.8h1.3M411.6 153.3h1.3M399.6 137.2h1.3M413.2 150.7h1.3M409 136.7h1.3M393.4 150h1.3M408.4 149.6h1.3M402.5 112.4h1.3M391.5 153.5h1.3M391.9 160.4h1.3M410.8 118.1h1.3M374.2 161.3h1.3M380.3 171h1.3M384.8 168.6h1.3M382.1 171.6h1.3M402.4 144.6h1.3M380.9 154.6h1.3M424.3 129h1.3M395 159.8h1.3M413.5 128h1.3M420.8 138.8h1.3M412.9 133.3h1.3M389.9 166.4h1.3M398.3 140.9h1.3M396.1 154.4h1.3M416.5 142.1h1.3M403.7 146.1h1.3M415.4 132.2h1.3M390.1 170.5h1.3M376.9 169.4h1.3M377.8 149.8h1.3M414.9 138.8h1.3M409.5 135.5h1.3M403.8 112.7h1.3M394 150.8h1.3M394.2 150.9h1.3M412.6 145.8h1.3M403.6 125.4h1.3M385.6 152.8h1.3M413.7 136.9h1.3M413 139.9h1.3M405.4 125.7h1.3M389.4 162.9h1.3M382.2 170h1.3M394.5 140.6h1.3M382.4 176.2h1.3M412.6 144.8h1.3M400.7 145.7h1.3M385.1 159.7h1.3M387.3 165h1.3M403.2 138.9h1.3M392.4 130.6h1.3M410.8 146.4h1.3M379.5 124.1h1.3M396.1 147.4h1.3M396.2 160.2h1.3M408.1 147.5h1.3M393.1 159.4h1.3M403.7 147.2h1.3M408 144h1.3M382.3 170.3h1.3M389.1 157.3h1.3M385.5 175h1.3M391.6 159.6h1.3M398.5 160.4h1.3M379.1 160.3h1.3M411.2 117h1.3M390.8 141.6h1.3M405.4 149.9h1.3M408.2 126.8h1.3M403.3 151h1.3M386.4 137.8h1.3M379.9 145.2h1.3M398.9 137.5h1.3M373.6 157.4h1.3M413.8 122.1h1.3M378.2 138h1.3M393.5 124.1h1.3M383.2 155.4h1.3M403.8 150.9h1.3M413.1 137.4h1.3M393 160.1h1.3M379.4 130.4h1.3M402.1 122.5h1.3M375.7 151.7h1.3M394.6 160.8h1.3M410.4 135.4h1.3M388.3 157.6h1.3M410.9 124.8h1.3M406 147.5h1.3M419.3 147.5h1.3M407.9 144.3h1.3M405.3 153.9h1.3M400.4 157.5h1.3M410.9 148.2h1.3M403.6 145.5h1.3M409.2 147.6h1.3M402.4 158.9h1.3M407.3 153.3h1.3M409.2 147.8h1.3M408.8 157.2h1.3M426.3 137.5h1.3M406.5 156.1h1.3M404.4 157.5h1.3M409.9 157.6h1.3M408 151.5h1.3M416.9 149.4h1.3M408.4 151h1.3M424 150.7h1.3M409.5 135h1.3M407.3 156.6h1.3M402.7 166.2h1.3M407.9 159.5h1.3M423.3 158.3h1.3M408.2 167.2h1.3M408.4 146.5h1.3M410.4 147.5h1.3M421.4 158.3h1.3M404 156h1.3M407.4 150h1.3M407.9 145.4h1.3M407.6 160h1.3M410.1 141.2h1.3M415.5 130.2h1.3M412.9 146.2h1.3M415 149.1h1.3M409 149.7h1.3M402.3 153.6h1.3M422.9 156.4h1.3" stroke="#0a0a28" stroke-width="1.3"/>
<path d="M450.3 79.5h1.3M426.9 128.8h1.3M448.9 94.5h1.3M426.6 124.4h1.3M446.1 97.6h1.3M441.5 100.9h1.3M476.5 55h1.3M454.6 81.6h1.3M448.2 99.2h1.3M431.9 110.8h1.3M459.9 64h1.3M473.1 52.4h1.3M452.9 74.8h1.3M450.3 92.1h1.3M439.2 112.2h1.3M424.4 118h1.3M445.8 85.3h1.3M475.2 51.4h1.3M465.1 58.2h1.3M427.2 112.7h1.3M443.1 95h1.3M469 58.3h1.3M446.1 90.4h1.3M460.3 71.6h1.3M469.6 61.8h1.3M428.2 120.3h1.3M472.1 60.7h1.3M467.9 66.4h1.3M474.8 50.5h1.3M435.7 111.3h1.3M476.3 50.6h1.3M467.9 58.2h1.3M474.7 53.4h1.3M475 51.5h1.3M468.1 66.5h1.3M454.6 88.5h1.3M476.3 54.4h1.3M445.7 90.8h1.3M461.4 74.1h1.3M448.5 94.7h1.3M434 114.6h1.3M470.1 62.3h1.3M434.2 116.4h1.3M429.6 125.3h1.3M461.8 75.6h1.3M429.8 106.7h1.3M453.8 84.1h1.3M457.5 82.3h1.3M441.1 105.3h1.3M476.2 51.5h1.3M459 73.7h1.3M432 122.1h1.3M448 94.6h1.3M423.5 119.6h1.3M438.5 106.7h1.3M441.8 57h1.3M426 120.6h1.3M456.3 58.2h1.3M438.1 110.1h1.3M426.1 116.7h1.3M421.6 95.4h1.3M414.8 99.9h1.3M468.9 62h1.3M431.9 104.1h1.3M430.4 99.2h1.3M474.8 51.3h1.3M442.7 72.3h1.3M459.2 76.8h1.3M441 70.7h1.3M454.6 60.1h1.3M450.4 56.5h1.3M450.7 37.2h1.3M469.6 61.8h1.3M442.8 86h1.3M438.7 104.3h1.3M439.1 85h1.3M448.7 85.3h1.3M440.5 110.2h1.3M450.2 67.7h1.3M438.5 84.5h1.3M474.2 52.7h1.3M453 52.5h1.3M430.6 67.4h1.3M471.1 58.8h1.3M426.8 105.4h1.3M432.3 115.8h1.3M407.9 148.3h1.3M413 146.9h1.3M410 144.4h1.3M417.1 125.7h1.3M400.8 165.7h1.3M415.2 143.6h1.3M402.3 159.3h1.3M406.7 155.3h1.3M399.6 168.7h1.3M404.7 157.1h1.3M398.6 153.8h1.3M400.7 159h1.3M407.2 150.4h1.3M398.9 161.2h1.3M395.5 161.3h1.3M425.8 129h1.3M407.8 136.1h1.3M395.9 159.8h1.3M417.5 140h1.3M405.7 151.8h1.3M409.6 153.9h1.3M400.3 170h1.3M407.4 119.8h1.3M402.9 166.5h1.3M423.9 132.5h1.3M401.9 150.9h1.3M406 112.9h1.3M411.7 136.6h1.3M389.6 131.3h1.3M424.2 132.6h1.3M375 146.1h1.3M416.6 120.2h1.3M386.1 164.5h1.3M403.2 156.1h1.3M387.2 166h1.3M415.4 134.9h1.3M380 173h1.3M377.4 128.3h1.3M393.4 132.6h1.3M406.2 124.6h1.3M417.8 131.3h1.3M400.2 149.7h1.3M422.3 125.6h1.3M413.3 120h1.3M407.2 120.9h1.3M417.9 140.1h1.3M383.4 164.1h1.3M411.9 123.5h1.3M388.9 146h1.3M388.5 164.6h1.3M383.2 172.4h1.3M409.1 144.3h1.3M422.5 133.7h1.3M383.3 134.5h1.3M404.7 130.2h1.3M377.8 169.9h1.3M379.2 158.6h1.3M400 153.3h1.3M424.3 129.2h1.3M400.5 160h1.3M399.7 157h1.3M412 145.6h1.3M400.9 154.1h1.3M407.4 153.8h1.3M414.1 148.5h1.3M424.5 139.6h1.3M419.9 135.4h1.3M388.1 151.6h1.3M408.5 164.3h1.3M425.2 165.2h1.3M404.9 144.8h1.3M402.4 155h1.3M414.8 160.3h1.3M390.2 154.7h1.3M407.3 169.8h1.3M411.7 151.9h1.3M405.1 148.3h1.3M403 163.6h1.3M384.6 174.7h1.3M380.1 166.8h1.3M397.1 150.9h1.3M390.9 154.6h1.3M396 148.7h1.3M410.2 144.7h1.3M399.5 152.6h1.3M402.5 156.8h1.3M388.4 168h1.3M402.2 156.8h1.3M402.8 150h1.3M401.3 175.1h1.3M407.1 157.4h1.3M391.3 168h1.3M402.4 166.7h1.3M396.9 161.4h1.3M405.3 174.1h1.3M407.9 155.7h1.3M376.1 159.5h1.3M383.9 167.4h1.3M397.6 167h1.3M381.7 156.1h1.3M378.6 160.2h1.3M411.2 162.3h1.3M396.9 152.3h1.3M389.9 166.8h1.3M416.8 161.3h1.3M386.7 144.2h1.3M399.4 149.7h1.3M396.8 155h1.3M385.5 150.4h1.3M391 107.1h1.3M386.6 113.9h1.3M383.4 140.1h1.3M420.8 119.5h1.3M389.7 163.4h1.3M404.1 129.9h1.3M389.2 163.1h1.3M427.2 132.5h1.3M407.6 144.9h1.3M403.9 127.7h1.3M419.4 140.7h1.3" stroke="#3a50c0" stroke-width="1.3"/>
<path d="M471.6 61.1h1.3M456.6 75.4h1.3M435.9 98.7h1.3M452.9 87.1h1.3M431.3 116.8h1.3M448.5 82.3h1.3M451.1 87.5h1.3M433 118.1h1.3M435.9 99.3h1.3M464.2 65.6h1.3M463.4 62.1h1.3M419.9 119.4h1.3M456.6 69.4h1.3M455.5 81.7h1.3M454.4 85h1.3M447 101.1h1.3M456.2 84.7h1.3M462.5 55.8h1.3M436.4 105.8h1.3M438.6 102.1h1.3M467.7 63.6h1.3M439.2 108.4h1.3M441.5 95.7h1.3M446.6 101.7h1.3M444.3 99.5h1.3M422.1 119.7h1.3M453.8 88.5h1.3M457.3 68.7h1.3M426.6 115.4h1.3M426 126.3h1.3M439.8 108.4h1.3M426.8 118.1h1.3M447.1 102.9h1.3M469.4 64.7h1.3M447.3 88h1.3M449.7 80h1.3M457.5 76.3h1.3M457.5 74.8h1.3M473.3 52.9h1.3M457.2 70.7h1.3M464.1 66.9h1.3M455.4 78.9h1.3M467.4 62.7h1.3M452.6 83.5h1.3M455.9 80.8h1.3M463.2 59.3h1.3M433.7 118h1.3M461.6 67.9h1.3M459.2 66h1.3M457.5 52.9h1.3M424.3 125.5h1.3M469 66.3h1.3M467.8 66h1.3M475.4 52.3h1.3M425.9 118.9h1.3M469.2 53.7h1.3M440 108.3h1.3M432.6 120h1.3M474 52.4h1.3M432.9 110.9h1.3M430.3 117.4h1.3M465.1 70h1.3M424.6 125.5h1.3M423.6 122.2h1.3M435.5 109.9h1.3M445.9 82.3h1.3M446.2 86.9h1.3M445 97.9h1.3M475.8 57.2h1.3M434.1 112.7h1.3M444 105.8h1.3M450.8 85h1.3M437.1 107.6h1.3M431.2 112.9h1.3M466.7 70.2h1.3M464 56h1.3M442.9 93.1h1.3M451.6 92.6h1.3M472.4 50.4h1.3M459.7 74.1h1.3M455.7 85.5h1.3M454 75.7h1.3M448.1 97h1.3M429.3 116.2h1.3M424.6 125.5h1.3M451.5 81.9h1.3M476 56.9h1.3M475.8 50.8h1.3M450.7 93.6h1.3M460.9 73.1h1.3M472.4 56.1h1.3M472.2 55h1.3M469.1 59.3h1.3M430.3 108.5h1.3M439 106.5h1.3M435.4 110.9h1.3M465.6 50h1.3M448.1 97.1h1.3M455.4 78.4h1.3M455 88.3h1.3M439.2 109.7h1.3M456.3 70.4h1.3M465.3 55.6h1.3M462.3 61.9h1.3M446.2 103h1.3M449.3 92.7h1.3M401.8 123.3h1.3M412.2 139.1h1.3M403.6 141.9h1.3M417 138.4h1.3M416.7 143h1.3M396.2 154.5h1.3M396.5 164.2h1.3M401 138.9h1.3M417.8 130h1.3M416.5 137.5h1.3M411 143.1h1.3M410.8 132h1.3M401.9 159.8h1.3M415.9 132.7h1.3M395.7 139.8h1.3M422.4 129.2h1.3M402 132.4h1.3M409.3 152.4h1.3M392.6 141.8h1.3M394.6 149.9h1.3M414.5 142.4h1.3M398.5 157.8h1.3M411 151h1.3M405.3 163.7h1.3M419.3 136.8h1.3M404.8 148.8h1.3M397.6 163.1h1.3M414.9 141.3h1.3M404.5 148h1.3M393.1 161.4h1.3M393.3 154.9h1.3M412 154.1h1.3M403 145.2h1.3M411.6 155.6h1.3M407 152.7h1.3M420.1 151.6h1.3M410.1 155.9h1.3M403.5 143.4h1.3M410.2 165h1.3M415.1 142.7h1.3M402.8 136h1.3M402.1 145.3h1.3M409.4 158.7h1.3M408.2 160.3h1.3M395.9 141h1.3M420.5 153.5h1.3M413.7 155.6h1.3M397.1 138.1h1.3M414.7 157.8h1.3" stroke="#1c2470" stroke-width="1.3"/>
<path d="M470.3 58.7h1.3M442.6 105.1h1.3M433.8 116.1h1.3M475.8 52.6h1.3M470.3 54.6h1.3M474.6 51.9h1.3M470.4 56.7h1.3M440.2 109h1.3M448.5 96.8h1.3M451.6 88.5h1.3M438.1 104.7h1.3M432 114.4h1.3M452.9 70h1.3M454.4 86.7h1.3M465.8 67.4h1.3M477 49.8h1.3M464.5 74.3h1.3M433.1 119.6h1.3M431.5 94.8h1.3M428 124.5h1.3M456.5 85.2h1.3M443.6 103.6h1.3M454 87.2h1.3M448.3 72.4h1.3M458.7 77.9h1.3M445.5 88.5h1.3M472.5 58.1h1.3M455.2 76.5h1.3M453 88.2h1.3M435 114.3h1.3M462.1 63.2h1.3M423.2 116.7h1.3M433.5 100.7h1.3M448.9 91.2h1.3M449.1 84.6h1.3M455.6 83.7h1.3M471.5 63.6h1.3M467.7 66.5h1.3M453.6 80.3h1.3M430.1 117.6h1.3M462.1 74h1.3M455.6 76.1h1.3M470.7 60.9h1.3M474.3 49.8h1.3M451.9 86.9h1.3M439.2 111.1h1.3M442 106.8h1.3M460.6 62.4h1.3M426.7 122.6h1.3M433.9 119.2h1.3M459 67.9h1.3M458.2 54.9h1.3M444 96.5h1.3M427.2 122.8h1.3M466 59.6h1.3M461.5 74.6h1.3M430.5 118.8h1.3M433.1 115.1h1.3M459.7 70.8h1.3M440.7 105.8h1.3M451.2 79.2h1.3M442.2 98.6h1.3M447.7 84.3h1.3M467.2 47.1h1.3M455.9 80.5h1.3M463.9 73h1.3M442.6 98.6h1.3M441.8 91.4h1.3M456.3 80.2h1.3M441.8 107.6h1.3M446.5 86.7h1.3M436.8 109.7h1.3M474.6 55.4h1.3M444.5 101.9h1.3M422.8 121.2h1.3M442.7 106.5h1.3M420.9 118.9h1.3M459.8 76.2h1.3M469.4 46.9h1.3M448.9 68h1.3M461.6 59.1h1.3M432.7 108.8h1.3M421.2 122.2h1.3M429.6 121.1h1.3M421.2 125h1.3M464.7 44.7h1.3M471.4 49.4h1.3M457.7 81.4h1.3M449.4 80h1.3M423.8 112.1h1.3M464.5 69.4h1.3M463 50.4h1.3M438.6 84.5h1.3M463.1 59.7h1.3M424.1 116.1h1.3M442 85.3h1.3M464.5 67h1.3M434.5 110.8h1.3M448.7 72.7h1.3M429.7 110.1h1.3M444.4 66.5h1.3M453.5 87h1.3M425.2 106.7h1.3M437.2 106.8h1.3M413.3 116.7h1.3M470.2 56.3h1.3M428.8 100.5h1.3M437.2 108.6h1.3M456.2 59.3h1.3M435 79.9h1.3M440.2 104.6h1.3M455 84.4h1.3M436.6 105.5h1.3M443.4 68.3h1.3M423.1 108.2h1.3M440.4 101.1h1.3M424.5 118.3h1.3M424 125.1h1.3M413.7 118h1.3M469.2 55.1h1.3M432.2 116.8h1.3M408 110.6h1.3M460.8 65h1.3M431.1 105.3h1.3M424.2 121.1h1.3M441.7 107.3h1.3M441.9 88.8h1.3M455.5 85.8h1.3M458.8 60.4h1.3M423.1 97.6h1.3M457.7 78.4h1.3M444 101.2h1.3M474.3 51.4h1.3M434.9 113.2h1.3M427.4 114.7h1.3M428.6 129.1h1.3M447.3 76.1h1.3M444.4 85.2h1.3M429.7 119.2h1.3M442 55.8h1.3M448.6 82.3h1.3M441 64h1.3M427.9 115.5h1.3M425.3 108.4h1.3M451 84.6h1.3M466 50.5h1.3M430.3 118.9h1.3M455.5 69.2h1.3M420.8 134.3h1.3M422.9 130.1h1.3M413 142.3h1.3M404.3 161.9h1.3M420.2 138.7h1.3M412.6 135h1.3M414.5 142.5h1.3M404.4 155.7h1.3M395.1 163.1h1.3M402.6 168.6h1.3M413.3 127.6h1.3M418.9 126.9h1.3M409.5 150.7h1.3M422.9 133.7h1.3M408.3 136.3h1.3M410.6 156.8h1.3M410.4 142.9h1.3M410.4 138.7h1.3M422.3 135.9h1.3M412.5 147.8h1.3M421.1 133.2h1.3M405.5 162.1h1.3M416.2 131.9h1.3M404.4 140.1h1.3M419.1 137.6h1.3M398.8 151.4h1.3M420.9 138.2h1.3M418.2 125.7h1.3M402.8 152.8h1.3M402.2 147.4h1.3M411.6 129.8h1.3M415.4 128h1.3M425.6 129.5h1.3M396.4 152.7h1.3M387 137.1h1.3M398.9 159.5h1.3M409.7 150.6h1.3M402.6 166h1.3M424.5 127.4h1.3M412.1 154h1.3M404.4 152h1.3M397.6 166.6h1.3M409.1 153.4h1.3M394.2 160.8h1.3M420.2 132.4h1.3M394.6 161h1.3M409.3 121h1.3M414.7 134.5h1.3M400.6 166.2h1.3M415.9 140.1h1.3M402.5 159.1h1.3M405.2 143.1h1.3M419.2 136.9h1.3M411.4 142.2h1.3M404 147.1h1.3M406.8 130.5h1.3M413.2 136.8h1.3M417.4 127.6h1.3M401.8 159.5h1.3M417.3 139.7h1.3M399.9 163.3h1.3M410.4 142.8h1.3M418.1 136.9h1.3M422.4 138.5h1.3M409.5 146.2h1.3M405.2 143.4h1.3M407.4 150.7h1.3M425.2 134.1h1.3M383.6 168.7h1.3M406.1 136.3h1.3M388.9 160.3h1.3M382.4 152.4h1.3M393.5 137.7h1.3M374.9 160.9h1.3M390.8 138.4h1.3M419.3 134.9h1.3M404 151.3h1.3M419.1 138.2h1.3M391.3 164.7h1.3M400 141.9h1.3M416.8 139.6h1.3M405.5 135.3h1.3M411.1 135.8h1.3M400.3 140h1.3M384 140.6h1.3M404.1 137.5h1.3M379.1 102.1h1.3M396.4 159.8h1.3M414.6 124.4h1.3M394.1 159.3h1.3M394.7 163.1h1.3M404.1 153.6h1.3M410.2 116.1h1.3M395.5 161.9h1.3M389.7 135h1.3M392.2 132.3h1.3M390.4 163.2h1.3M407 134.9h1.3M380.8 171.1h1.3M390.2 161.3h1.3M390.1 157h1.3M404.9 136h1.3M395.5 152.9h1.3M410.4 141.4h1.3M402.7 157.8h1.3M411.2 146.9h1.3M385.8 154.9h1.3M391.4 141.2h1.3M408.4 144.3h1.3M420.8 123.9h1.3M388.9 160h1.3M400.2 126h1.3M409.1 146.2h1.3M407.6 146.9h1.3M406.6 138.5h1.3M406.7 131.3h1.3M408.8 149.9h1.3M407.6 133.6h1.3M396.5 142.8h1.3M393.4 144.3h1.3M388.4 146.6h1.3M420.1 125.7h1.3M405.9 152.8h1.3M405 124.7h1.3M375.6 148.5h1.3M410.1 134.3h1.3M378.5 165.6h1.3M385.7 141.9h1.3M414.6 133.3h1.3M418.9 125.7h1.3M400.3 129.1h1.3M418.8 128.3h1.3M394 157.3h1.3M414.8 120.4h1.3M397.6 140.6h1.3M386.6 139.1h1.3M378.3 167.3h1.3M379.8 152.8h1.3M407 124.2h1.3M409.1 119.5h1.3M405.6 131.9h1.3M417.6 126h1.3M386.6 143.8h1.3M409.3 149.6h1.3M392.1 144.3h1.3M396.8 115.7h1.3M381.2 175.7h1.3M420 136.2h1.3M426.9 130.3h1.3M385.7 146.4h1.3M393.6 154.3h1.3M411.5 128.1h1.3M383.1 163.6h1.3M402 150.4h1.3M424.4 142.5h1.3M409.1 156.7h1.3M397.1 159.1h1.3M410.4 155.1h1.3M413.5 151.8h1.3M383.2 160.7h1.3M409.2 157.3h1.3M419.8 157.6h1.3M407.1 153.3h1.3M410.7 163.8h1.3M400.8 162.8h1.3M412.3 163.9h1.3M417.7 137.3h1.3M411.2 147.4h1.3M412.5 147.9h1.3M412.9 158.9h1.3M405.8 151.2h1.3M414.1 152.3h1.3M413.9 145h1.3M407 141.4h1.3M403.6 140.2h1.3M414.1 148.3h1.3M406.7 144h1.3M410.4 160.4h1.3M420.3 156.9h1.3M421.5 152.6h1.3M417.1 148.1h1.3M424 144.5h1.3M402.5 158.4h1.3M422.2 161.8h1.3M401.5 147.7h1.3M403.6 162.3h1.3M400.8 137.2h1.3M387.9 168.1h1.3M398.2 171.1h1.3M408.1 156.1h1.3M388.2 174.3h1.3M377.3 176h1.3M425.1 130h1.3M383.2 162.6h1.3M389 134.3h1.3M387 157.4h1.3M393.9 167.7h1.3M394.2 147.3h1.3M392.8 161.3h1.3M380 167.9h1.3M400.2 156h1.3M373.5 169.1h1.3M398.7 160.6h1.3M385.6 167.3h1.3M390.5 172.2h1.3M400 153.3h1.3M402.8 161.5h1.3M408.4 165.2h1.3M407.3 133.7h1.3M407.9 153.6h1.3M409.3 153.8h1.3M404 161.3h1.3M402.9 144.4h1.3M390.5 158.1h1.3M404.4 137.1h1.3M403.8 172.5h1.3M387.8 156.7h1.3M405.3 142.6h1.3M380.3 172.3h1.3M431.1 159.4h1.3M416.5 152.8h1.3M407.3 152.3h1.3M391.9 156.3h1.3M383 158.2h1.3M401.4 169.4h1.3M401.5 154.2h1.3M407.3 142.9h1.3M404.6 146.3h1.3M395.1 175.9h1.3M418.7 166h1.3M390 144.5h1.3M403 167.6h1.3M414.4 123.7h1.3M401.5 131.3h1.3M386.1 111.3h1.3M415.9 104.8h1.3M383 118.1h1.3M407.5 122.7h1.3M388 105.7h1.3M406.1 103.3h1.3M426.3 118.7h1.3" stroke="#141a5a" stroke-width="1.3"/>
<path d="M434 116.9h1.3M461.2 71.5h1.3M454.1 84.6h1.3M444.7 105.5h1.3M424 122.9h1.3M445.2 102h1.3M472 52.4h1.3M450.7 87.3h1.3M466.6 62.7h1.3M467.9 68.5h1.3M448.1 95.8h1.3M473.5 59.5h1.3M446.6 100.3h1.3M457.9 77.7h1.3M462.8 72.7h1.3M433.8 119.4h1.3M440.1 98h1.3M425.3 119.9h1.3M429 110.9h1.3M459 72.6h1.3M463 66.5h1.3M430.7 112.2h1.3M430.2 116.6h1.3M475.4 53.2h1.3M460.7 66h1.3M473.3 51.9h1.3M433 121.7h1.3M437.6 98.2h1.3M466.3 61.5h1.3M461 75.6h1.3M471.6 60.7h1.3M449.9 87.8h1.3M426.3 128.3h1.3M473.1 59.8h1.3M473.2 57h1.3M422.7 120.6h1.3M467 58.4h1.3M472.4 55.8h1.3M446.7 95.1h1.3M431 122.8h1.3M431.9 110.1h1.3M437.3 111h1.3M429 117.8h1.3M435.6 107.6h1.3M441.7 100.1h1.3M444.9 93.8h1.3M425.4 121.5h1.3M451.2 86.2h1.3M431.6 118.4h1.3M438.9 98.4h1.3M441.4 97.6h1.3M442.5 99.1h1.3M465 59.9h1.3M457 84.4h1.3M427.7 121.2h1.3M470.7 59.4h1.3M457.1 64.9h1.3M467.1 54.4h1.3M436.9 104.8h1.3M462.1 71.7h1.3M453.9 75.7h1.3M434.6 118.8h1.3M471 54.9h1.3M443.2 102.7h1.3M430.9 116.1h1.3M441.9 95h1.3M430.9 125.2h1.3M439.7 100.7h1.3M442.2 105.4h1.3M473.5 49.7h1.3M437.2 107.7h1.3M472.3 53.8h1.3M469.7 68.4h1.3M465.7 64.6h1.3M439.3 99.6h1.3M451.1 78.3h1.3M471.3 62.5h1.3M460.6 72.1h1.3M454.6 77.8h1.3M447.9 93.7h1.3M438.5 99.3h1.3M454.2 79h1.3M436 95.8h1.3M470.5 55.3h1.3M433.7 104.4h1.3M426.3 121.2h1.3M430.1 114.9h1.3M478.3 54.8h1.3M440.6 110.9h1.3M454.5 81h1.3M463.8 56.7h1.3M425.5 89.8h1.3M420.7 115.9h1.3M464.6 54.2h1.3M437.3 98.7h1.3M432.3 87h1.3M425.1 117.3h1.3M433.5 108.7h1.3M417.4 119.5h1.3M424.2 111.9h1.3M425.2 71.3h1.3M466.3 55.4h1.3M470.6 55.9h1.3M436.9 105.8h1.3M438.6 67.1h1.3M439 63.7h1.3M468.9 60.4h1.3M476.9 54.1h1.3M437 60h1.3M433.7 106.6h1.3M432.8 103.3h1.3M413.1 88.7h1.3M466.9 69.1h1.3M475.5 52.3h1.3M443.4 100h1.3M461.8 71.6h1.3M443.2 83.9h1.3M453.5 69.6h1.3M426.5 116.9h1.3M468.8 63.5h1.3M454.1 68.9h1.3M464.4 63.4h1.3M415.3 68.5h1.3M458.4 79.9h1.3M425.7 126.7h1.3M437.9 99.5h1.3M436.1 93.1h1.3M457.5 78.1h1.3M430.5 115.3h1.3M419.4 118.3h1.3M444.7 83.3h1.3M413.7 97.5h1.3M445.1 84.2h1.3M454.2 74h1.3M464 50.9h1.3M423.2 90.4h1.3M468.4 63.2h1.3M460.1 71.2h1.3M451.5 65.1h1.3M452.1 93.1h1.3M444.8 71.9h1.3M454.9 77.3h1.3M471.5 55.6h1.3M470 53.2h1.3M462.7 71.3h1.3M452.4 84.1h1.3M422.4 112.8h1.3M443.6 70.4h1.3M436.2 97.9h1.3M446.2 79.9h1.3M445.1 41.6h1.3M447.1 87.4h1.3M420.7 138.4h1.3M401.3 166.3h1.3M402.9 138.4h1.3M403.7 159h1.3M408.1 159.5h1.3M414 144.2h1.3M400.5 146.3h1.3M416 136h1.3M406 160.1h1.3M397.1 152.9h1.3M416.5 147h1.3M401 165.5h1.3M404 156.3h1.3M411.6 146.4h1.3M410.6 144.6h1.3M412.6 146.3h1.3M410.4 130.2h1.3M405 145.9h1.3M410.7 143h1.3M406.2 156.6h1.3M410.2 144.5h1.3M411.2 144.8h1.3M405 158.1h1.3M398.7 168.9h1.3M421.8 127.6h1.3M407.5 156h1.3M419 138.2h1.3M394.5 166.3h1.3M416 139.8h1.3M419.7 124.6h1.3M407.6 128.5h1.3M425.4 130h1.3M406 160h1.3M404.7 148.5h1.3M410.2 138h1.3M403.3 156.1h1.3M396.5 163.9h1.3M417.2 142.2h1.3M404.2 155.8h1.3M412 150h1.3M416.2 144.1h1.3M401.8 166.9h1.3M426 130.9h1.3M401.3 159.5h1.3M423.6 130.5h1.3M414.3 146.3h1.3M413.9 143.6h1.3M399 161.9h1.3M420.5 137.4h1.3M397.2 164.2h1.3M421.6 131.8h1.3M425 131.9h1.3M387.1 154.7h1.3M424.8 131.2h1.3M408.1 144.6h1.3M412.6 126.2h1.3M408.2 148.3h1.3M409.1 152.9h1.3M405.5 157.1h1.3M411.3 139.7h1.3M393.3 153h1.3M423.4 128.8h1.3M384.2 171.5h1.3M387.3 155.5h1.3M390.1 166.8h1.3M401.5 130.4h1.3M378.4 132.5h1.3M403.6 152h1.3M389.7 171.1h1.3M397 158.3h1.3M416.8 126.5h1.3M384.7 162.6h1.3M406 127.6h1.3M379.9 145.3h1.3M377.2 167.1h1.3M416 141.8h1.3M391.5 139.7h1.3M402.3 147h1.3M405.7 147.7h1.3M375.6 164h1.3M384.7 158.1h1.3M380.4 162.7h1.3M401 142h1.3M377.4 163.7h1.3M425.1 128.2h1.3M390.3 144.3h1.3M387.6 169.6h1.3M387.6 161.5h1.3M376.9 156.2h1.3M387.7 153.8h1.3M413.3 124.7h1.3M395.4 150.8h1.3M401 138.8h1.3M385.8 152.1h1.3M415.3 141.1h1.3M392.5 141.9h1.3M373.5 163.6h1.3M382.7 151.3h1.3M387.3 163h1.3M412 117.9h1.3M413.5 135.2h1.3M401.1 138.6h1.3M395.1 160.1h1.3M426.9 128.3h1.3M407.1 130h1.3M387.9 156.2h1.3M386.5 160.1h1.3M390.5 117.4h1.3M385.3 144.8h1.3M396.2 160.4h1.3M381.6 161.9h1.3M418.8 129.8h1.3M382.4 161.1h1.3M392.7 139.6h1.3M393.6 137.9h1.3M396.6 160.5h1.3M386 152.5h1.3M405.6 126h1.3M396.2 134.1h1.3M400.8 128.1h1.3M400.4 135.7h1.3M378.1 166.2h1.3M399.3 129.8h1.3M381 146.4h1.3M399.3 134.2h1.3M398.5 157h1.3M425.7 130.4h1.3M424.6 128.2h1.3M393.7 156.2h1.3M413 140.9h1.3M409 177.1h1.3M416.3 147.9h1.3M425.9 145.8h1.3M405.7 143.4h1.3M395.8 156.5h1.3M408.2 155.4h1.3M414.4 157.2h1.3M412.3 160.4h1.3M414.9 156.7h1.3M424.8 156.5h1.3M417.3 137.3h1.3M399 146.4h1.3M405 151.7h1.3M416.9 149.4h1.3M408.3 146h1.3M405 166.3h1.3M405.5 147.6h1.3M418.2 142.5h1.3M408.9 142.5h1.3M419.6 159.1h1.3M407.6 151h1.3M423.7 144.3h1.3M405.8 165.8h1.3M410.3 162.1h1.3M406.8 158.3h1.3M401.1 160.5h1.3M404.9 146.1h1.3M405.9 153.3h1.3M409.3 167.2h1.3M409.2 148.9h1.3M412.9 145h1.3M373.8 166h1.3M407.6 152h1.3M395.7 153.5h1.3M381.6 174.4h1.3M411.2 159.1h1.3M401.4 157.3h1.3M373.3 177.4h1.3M397.6 160.2h1.3M388.6 146.2h1.3M391 154h1.3M392.9 141.4h1.3M396.7 177.1h1.3M402.6 147.7h1.3M384.8 166.6h1.3M386 165.7h1.3M411.9 137.7h1.3M396.3 163.7h1.3M415.1 145.7h1.3M380.1 173.1h1.3M399.3 159.2h1.3M395 150.3h1.3M398.5 166.9h1.3M397.1 169.8h1.3M407.6 159.3h1.3M401.4 156.5h1.3M396.7 154.4h1.3M414.8 159.3h1.3M408.6 159.7h1.3M401.1 160.8h1.3M392.6 176.3h1.3M399.8 167.1h1.3M405.4 152h1.3M420.4 138.1h1.3M390.1 141.1h1.3M407.3 166.9h1.3M412.8 150.6h1.3M413.5 166.4h1.3M383.5 168.8h1.3M407.7 160.7h1.3M393 147.8h1.3M413.3 165.7h1.3M407.9 149.5h1.3M400.3 153.4h1.3M397 174.1h1.3M399.9 170.1h1.3M407.8 151.7h1.3M402.3 166.1h1.3M425.7 106.3h1.3M414.9 147.7h1.3M393.6 152.1h1.3M412.3 117.4h1.3M396.3 121.1h1.3M397.3 138.4h1.3M405 134.3h1.3M404.8 156.6h1.3M414.3 128.7h1.3M427.3 129.4h1.3M420.2 121.2h1.3M398.9 170.3h1.3M420 122.1h1.3M424.2 156.9h1.3M417.2 109h1.3M386.4 137.8h1.3M413.5 165.5h1.3M394.3 158.7h1.3M408.4 151.8h1.3M403.4 150.5h1.3M424.7 106.1h1.3" stroke="#26339a" stroke-width="1.3"/>
<path d="M463.1 67.1h1.3M441.5 107.3h1.3M454.5 65.9h1.3M472 50.6h1.3M439.1 90.2h1.3M458.6 69.4h1.3M440.1 97.3h1.3M428.8 127.9h1.3M444.3 87.3h1.3M460.8 77.8h1.3M427 123.9h1.3M472.5 52h1.3M441.3 107.7h1.3M474.1 52.4h1.3M449.1 87.2h1.3M450.7 91.5h1.3M474.6 57.3h1.3M429.3 123.4h1.3M468.2 54.2h1.3M469.6 48.9h1.3M459.8 66.6h1.3M426.8 122.5h1.3M437.8 58.9h1.3M446.7 98.1h1.3M435.4 93.9h1.3M414.9 112.3h1.3M452.6 57.4h1.3M420.3 122.2h1.3M445 91.1h1.3M426 82h1.3M442.4 84.5h1.3M462 66.6h1.3M446.4 87.7h1.3M448.4 87.8h1.3M422.9 123.8h1.3M433.3 87.7h1.3M458.3 66.6h1.3M458 63.2h1.3M417 146.6h1.3M424.9 129.7h1.3M417.2 134.4h1.3M409.5 151.8h1.3M401 167h1.3M412.1 143.2h1.3M415.4 145.3h1.3M415.8 138.7h1.3M395.4 165.8h1.3M405.1 162.8h1.3M422.7 132.2h1.3M412.3 153.6h1.3M382.7 153.3h1.3M380.1 162.4h1.3M383.5 146h1.3M386.1 148.9h1.3M419.8 135.9h1.3M384.4 158.1h1.3M410.2 119h1.3M401.4 114.2h1.3M377.1 158.2h1.3M398.1 160.4h1.3M420.6 129h1.3M394.2 127.9h1.3M382.1 151.7h1.3M386.9 167.2h1.3M401.6 140.9h1.3M423.4 143.2h1.3M405.8 157.2h1.3M424.1 150.3h1.3M398.2 154.5h1.3M415 140.8h1.3M395 162.8h1.3M402.3 159h1.3M393.2 150.5h1.3M395.2 170.6h1.3M399.2 166.5h1.3M398.6 160h1.3M402.4 162h1.3M386.9 160h1.3M410.1 149.6h1.3M390.1 158.5h1.3M399.4 138.4h1.3M403.2 157.6h1.3M405.2 158.5h1.3M388.5 153.4h1.3M404.5 160.7h1.3M400.1 150.8h1.3M391 166.8h1.3M414.2 171.8h1.3M420.4 147.4h1.3M407.2 175.9h1.3M400.7 159.9h1.3M400.2 151h1.3M397.6 169.1h1.3M383.2 152.2h1.3M400.8 173.7h1.3M399.6 146.2h1.3M423 146.4h1.3M387.6 120.4h1.3M410.1 131.5h1.3M417 170h1.3M389.4 166.1h1.3M380.5 135.3h1.3" stroke="#7080d8" stroke-width="1.3"/>
<path d="M480 50.7h1.4M476 46.7h1.4" stroke="#05051a" stroke-width="1.4"/>
<path d="M482 47.7h1.4M485 52.7h1.4" stroke="#1c2470" stroke-width="1.4"/>
<path d="M469.6 65.9h1.5M471.2 56.6h1.5M467 59.5h1.5M465.5 61.1h1.5M470 57.7h1.5M475.6 56h1.5M469.5 57.1h1.5M464.4 68.4h1.5M473.9 55.2h1.5M465.3 70h1.5M461.7 68.4h1.5M469.8 66.1h1.5M466.8 69.4h1.5M472.4 62.5h1.5M463.6 68.4h1.5M471.9 63h1.5M475.6 56.9h1.5M473.8 60.5h1.5M473.6 61h1.5M467.9 66.9h1.5M463.4 64.6h1.5M473.4 55.2h1.5M467.3 60.1h1.5M468.4 58.6h1.5M468.6 57.6h1.5" stroke="#101040" stroke-width="1.5"/>
<path d="M465.3 62.1h1.5M466.6 59.8h1.5M474.1 56.6h1.5M469.1 65.9h1.5M467.8 59.2h1.5M467.3 68.1h1.5M468 59.1h1.5M467.5 67.4h1.5M473.9 54.9h1.5M475.3 55.5h1.5M471.4 64.4h1.5M468.1 67.9h1.5M466.3 61h1.5M474.3 60.3h1.5M474 56.8h1.5M466.5 60.8h1.5M476.1 56h1.5" stroke="#1c2470" stroke-width="1.5"/>
<path d="M463.5 69.6h1.5M464.5 68.2h1.5M473.9 56.2h1.5M474.2 56.2h1.5M469.2 66h1.5M472.6 62.4h1.5M469.7 56.9h1.5M475.7 59.1h1.5M466.3 69.7h1.5M464.1 63.1h1.5M475.9 56.4h1.5M462.8 64.4h1.5M469 58.2h1.5M462.2 68.7h1.5M474.3 59.3h1.5M463.2 63.5h1.5M460.8 70.1h1.5M471.5 64h1.5M470.4 56.7h1.5M466.9 67.9h1.5M469.9 56.7h1.5M467 69.2h1.5M463.9 62.4h1.5M471.7 64.1h1.5M462.4 65.5h1.5M467.8 58h1.5M474.6 54.8h1.5M476.9 56.6h1.5M474.1 57.9h1.5M473 63.2h1.5M475.5 57.4h1.5M476.8 55.3h1.5M461.2 66.7h1.5M468.8 58.1h1.5" stroke="#05051a" stroke-width="1.5"/>
<g transform="translate(469.50,62.50) rotate(-47)">
<ellipse rx="8.60" ry="3.02" fill="#04041a"/>
<ellipse rx="8.40" ry="2.40" fill="#2438b0"/>
<ellipse rx="7.50" ry="1.70" fill="url(#gcore4)"/>
</g>
<g transform="translate(451.00,95.30) rotate(-56)">
<ellipse rx="8.00" ry="0.90" fill="url(#gcore2)"/>
</g>
<rect x="372.00" y="31.10" width="125.30" height="148.00" fill="none" stroke="#000" stroke-width="1.3"/>
<line x1="428.20" y1="31.10" x2="428.20" y2="179.10" stroke="#000" stroke-width="1.15"/>
<line x1="372.00" y1="56.50" x2="497.30" y2="56.50" stroke="#000" stroke-width="1.15"/>
<path d="M368.4 31.1H372M368.4 64.1H372M368.4 96.3H372M368.4 128.9H372M368.4 166.8H372M369.8 54.2H372M369.8 48.4H372M369.8 44.2H372M369.8 41H372M369.8 38.4H372M369.8 36.2H372M369.8 34.3H372M369.8 32.6H372M369.8 86.6H372M369.8 80.9H372M369.8 76.9H372M369.8 73.8H372M369.8 71.2H372M369.8 69.1H372M369.8 67.2H372M369.8 65.6H372M369.8 119.1H372M369.8 113.3H372M369.8 109.3H372M369.8 106.1H372M369.8 103.5H372M369.8 101.3H372M369.8 99.5H372M369.8 97.8H372M369.8 136.5H372M369.8 144.1H372M369.8 151.6H372M369.8 159.2H372M369 176.1H372M381.5 179.1V182.7M396.8 179.1V182.7M420.5 179.1V182.7M445 179.1V182.7M469 179.1V182.7M494.2 179.1V182.7M373.5 179.1V181.9M375 179.1V181.9M376.5 179.1V181.9M378 179.1V181.9M384.6 179.1V181.7M387.6 179.1V181.7M390.7 179.1V181.7M393.7 179.1V181.7M403.9 179.1V181.5M408.1 179.1V181.5M411.1 179.1V181.5M413.4 179.1V181.5M415.2 179.1V181.5M416.8 179.1V181.5M418.2 179.1V181.5M419.4 179.1V181.5M427.9 179.1V181.5M432.2 179.1V181.5M435.3 179.1V181.5M437.6 179.1V181.5M439.6 179.1V181.5M441.2 179.1V181.5M442.6 179.1V181.5M443.9 179.1V181.5M452.2 179.1V181.5M456.5 179.1V181.5M459.4 179.1V181.5M461.8 179.1V181.5M463.7 179.1V181.5M465.3 179.1V181.5M466.7 179.1V181.5M467.9 179.1V181.5M476.6 179.1V181.5M481 179.1V181.5M484.2 179.1V181.5M486.6 179.1V181.5M488.6 179.1V181.5M490.3 179.1V181.5M491.8 179.1V181.5M493 179.1V181.5" stroke="#000" stroke-width="1"/>
<line x1="371.70" y1="180.00" x2="497.30" y2="180.00" stroke="#000" stroke-width="0.9"/>
<line x1="371.10" y1="31.10" x2="371.10" y2="179.70" stroke="#000" stroke-width="0.9"/>
<text x="381.50" y="191.50" font-size="7.0" font-family="'Liberation Sans', Arial, sans-serif" font-weight="bold" text-anchor="middle" stroke="#000" stroke-width="0.1">0</text>
<text x="395.50" y="191.50" font-size="7.0" font-family="'Liberation Sans', Arial, sans-serif" font-weight="bold" text-anchor="middle" textLength="7.2" lengthAdjust="spacingAndGlyphs" stroke="#000" stroke-width="0.1">10</text>
<text x="399.10" y="188.10" font-size="5.0" font-family="'Liberation Sans', Arial, sans-serif" font-weight="bold" stroke="#000" stroke-width="0.15">2</text>
<text x="419.20" y="191.50" font-size="7.0" font-family="'Liberation Sans', Arial, sans-serif" font-weight="bold" text-anchor="middle" textLength="7.2" lengthAdjust="spacingAndGlyphs" stroke="#000" stroke-width="0.1">10</text>
<text x="422.80" y="188.10" font-size="5.0" font-family="'Liberation Sans', Arial, sans-serif" font-weight="bold" stroke="#000" stroke-width="0.15">3</text>
<text x="443.70" y="191.50" font-size="7.0" font-family="'Liberation Sans', Arial, sans-serif" font-weight="bold" text-anchor="middle" textLength="7.2" lengthAdjust="spacingAndGlyphs" stroke="#000" stroke-width="0.1">10</text>
<text x="447.30" y="188.10" font-size="5.0" font-family="'Liberation Sans', Arial, sans-serif" font-weight="bold" stroke="#000" stroke-width="0.15">4</text>
<text x="467.70" y="191.50" font-size="7.0" font-family="'Liberation Sans', Arial, sans-serif" font-weight="bold" text-anchor="middle" textLength="7.2" lengthAdjust="spacingAndGlyphs" stroke="#000" stroke-width="0.1">10</text>
<text x="471.30" y="188.10" font-size="5.0" font-family="'Liberation Sans', Arial, sans-serif" font-weight="bold" stroke="#000" stroke-width="0.15">5</text>
<text x="492.90" y="191.50" font-size="7.0" font-family="'Liberation Sans', Arial, sans-serif" font-weight="bold" text-anchor="middle" textLength="7.2" lengthAdjust="spacingAndGlyphs" stroke="#000" stroke-width="0.1">10</text>
<text x="496.50" y="188.10" font-size="5.0" font-family="'Liberation Sans', Arial, sans-serif" font-weight="bold" stroke="#000" stroke-width="0.15">6</text>
<text transform="translate(365.90,31.30) rotate(-90)" font-size="6.7" font-family="'Liberation Sans', Arial, sans-serif" font-weight="bold" text-anchor="middle" textLength="7.2" lengthAdjust="spacingAndGlyphs" stroke="#000" stroke-width="0.1">10</text>
<text transform="translate(363.50,27.00) rotate(-90)" font-size="5.0" font-family="'Liberation Sans', Arial, sans-serif" font-weight="bold" stroke="#000" stroke-width="0.15">6</text>
<text transform="translate(365.90,64.30) rotate(-90)" font-size="6.7" font-family="'Liberation Sans', Arial, sans-serif" font-weight="bold" text-anchor="middle" textLength="7.2" lengthAdjust="spacingAndGlyphs" stroke="#000" stroke-width="0.1">10</text>
<text transform="translate(363.50,60.00) rotate(-90)" font-size="5.0" font-family="'Liberation Sans', Arial, sans-serif" font-weight="bold" stroke="#000" stroke-width="0.15">5</text>
<text transform="translate(365.90,96.50) rotate(-90)" font-size="6.7" font-family="'Liberation Sans', Arial, sans-serif" font-weight="bold" text-anchor="middle" textLength="7.2" lengthAdjust="spacingAndGlyphs" stroke="#000" stroke-width="0.1">10</text>
<text transform="translate(363.50,92.20) rotate(-90)" font-size="5.0" font-family="'Liberation Sans', Arial, sans-serif" font-weight="bold" stroke="#000" stroke-width="0.15">4</text>
<text transform="translate(365.90,129.10) rotate(-90)" font-size="6.7" font-family="'Liberation Sans', Arial, sans-serif" font-weight="bold" text-anchor="middle" textLength="7.2" lengthAdjust="spacingAndGlyphs" stroke="#000" stroke-width="0.1">10</text>
<text transform="translate(363.50,124.80) rotate(-90)" font-size="5.0" font-family="'Liberation Sans', Arial, sans-serif" font-weight="bold" stroke="#000" stroke-width="0.15">3</text>
<text transform="translate(365.90,166.80) rotate(-90)" font-size="7.0" font-family="'Liberation Sans', Arial, sans-serif" font-weight="bold" text-anchor="middle" stroke="#000" stroke-width="0.1">0</text>
<text transform="translate(357.70,105.10) rotate(-90)" font-size="7.4" font-family="'Liberation Sans', Arial, sans-serif" font-weight="bold" text-anchor="middle" textLength="18" lengthAdjust="spacingAndGlyphs" stroke="#000" stroke-width="0.1">PE-A</text>
<text x="424.30" y="202.00" font-size="7.4" font-family="'Liberation Sans', Arial, sans-serif" font-weight="bold" textLength="20.8" lengthAdjust="spacingAndGlyphs" stroke="#000" stroke-width="0.1">FITC-A</text>
<text x="374.30" y="40.40" font-size="7.2" font-family="'Liberation Sans', Arial, sans-serif" font-weight="bold" textLength="41" lengthAdjust="spacingAndGlyphs" stroke="#000" stroke-width="0.1">Q1-UL(%0,00)</text>
<text x="495.00" y="40.40" font-size="7.2" font-family="'Liberation Sans', Arial, sans-serif" font-weight="bold" text-anchor="end" textLength="42.5" lengthAdjust="spacingAndGlyphs" stroke="#000" stroke-width="0.1">Q1-UR(%4,07)</text>
<text x="374.30" y="175.10" font-size="7.2" font-family="'Liberation Sans', Arial, sans-serif" font-weight="bold" textLength="43.5" lengthAdjust="spacingAndGlyphs" stroke="#000" stroke-width="0.1">Q1-LL(%31,33)</text>
<text x="495.00" y="175.10" font-size="7.2" font-family="'Liberation Sans', Arial, sans-serif" font-weight="bold" text-anchor="end" textLength="42.5" lengthAdjust="spacingAndGlyphs" stroke="#000" stroke-width="0.1">Q1-LR(%64,60)</text>
<text x="375.80" y="26.80" font-size="7.2" font-family="'Liberation Sans', Arial, sans-serif" font-weight="bold" textLength="104.9" lengthAdjust="spacingAndGlyphs" stroke="#000" stroke-width="0.1">MDA MB 231 CYNARİ... : All Events</text>
<path d="M80.9 312.5h1.3M82.6 309h1.3M75.2 309.4h1.3M70.7 344.4h1.3M69.5 339.6h1.3M75 322.1h1.3M77.8 308.3h1.3M69.3 332.2h1.3M71.9 331.9h1.3M73.3 321.2h1.3M65 342.7h1.3M77.5 315.4h1.3M74.4 319.3h1.3M73.6 322.7h1.3M75.3 323.5h1.3M72 319.1h1.3M76.6 319.7h1.3M64.7 337.8h1.3M74.5 319.1h1.3M80.3 314.5h1.3M86.5 311.9h1.3M76.5 314h1.3M73.1 328.3h1.3M69.8 329.4h1.3M64.9 336.8h1.3M71 325.6h1.3M62.4 335.8h1.3M68.3 331.9h1.3M71.6 329.8h1.3M75.7 315.3h1.3M80.6 310.5h1.3M73.2 330.3h1.3M62.6 339.3h1.3M68.1 322.7h1.3M67.1 337.5h1.3M69.9 344.6h1.3M80.4 305.4h1.3M72.4 315.6h1.3M73.3 327.7h1.3M72.4 326.7h1.3M74.8 326.1h1.3M74.9 310.8h1.3M79.5 308.6h1.3M65 340.9h1.3M82.7 308.2h1.3M73.9 324.9h1.3M68.6 336h1.3M74.3 307.5h1.3M76.9 312.1h1.3M67.9 327.1h1.3M76.2 313.8h1.3M67.5 334.1h1.3M68.9 343.8h1.3M65.9 333.1h1.3M66.2 347.4h1.3M76.2 322.3h1.3M78.7 310.3h1.3M73.4 317.8h1.3M73.9 316.6h1.3M76.5 309.5h1.3M82.3 315.3h1.3M81 321.9h1.3M74.5 319.6h1.3M75.2 316.2h1.3M77.2 305.7h1.3M72.6 338.3h1.3M72.7 317.7h1.3M76.3 330.1h1.3M64.2 334.9h1.3M76.2 311.1h1.3M73.3 306.9h1.3M82.6 309.2h1.3M62.5 336.7h1.3M68.9 336.1h1.3M68.3 344.7h1.3M68.2 346.2h1.3M75.3 314.9h1.3M68.5 320.2h1.3M64.4 327.2h1.3M76.4 321.6h1.3M63.6 314.8h1.3M70.7 325.7h1.3M67.4 328.8h1.3M70.2 331.8h1.3M58 314.2h1.3M76.8 334.7h1.3M71.2 334.2h1.3M67.4 325h1.3M67.3 316.7h1.3M77.7 314.1h1.3M68.8 334.8h1.3M59.8 325.1h1.3M88.3 327.4h1.3M59.3 314.1h1.3M73.3 324.8h1.3M70.8 316h1.3M80.5 321.4h1.3M71.6 307.7h1.3M72.6 320.4h1.3M73.6 314.2h1.3M72.9 331.7h1.3M65.6 305h1.3M65 326.7h1.3M82.7 331.3h1.3M66.5 305.2h1.3M64.3 334.4h1.3M71 320.3h1.3M76.5 314.9h1.3M76.2 324.3h1.3M58.5 337.1h1.3M69.5 324.3h1.3M60.9 323.3h1.3M70.7 345.1h1.3M57.9 307.5h1.3M64.8 321.3h1.3M70.6 324.4h1.3M64.7 332.1h1.3M77.1 330h1.3M62.1 343.8h1.3M62.3 339.3h1.3M63.6 350.9h1.3M59.8 346.1h1.3M63.7 342.5h1.3M59.6 347.6h1.3M59.6 345.7h1.3M58.5 343.4h1.3M66.9 342.7h1.3M63.7 344.8h1.3M61.2 346.5h1.3M70.4 351.7h1.3M66.7 341h1.3M58.7 343.7h1.3M63.2 353.7h1.3M60.7 337.3h1.3M60.6 340.4h1.3M58.5 349h1.3M61.7 345h1.3M57 342.9h1.3M60 352.7h1.3M64.5 341.7h1.3M61.6 341.4h1.3M66.8 331h1.3M67.8 342.5h1.3M64.4 353.2h1.3M78.9 294h1.3M70.5 293.3h1.3M79.4 291.3h1.3M74.3 290.8h1.3M66.3 285.3h1.3M65.3 297.2h1.3M62.4 284.4h1.3M71.2 284.9h1.3M83.6 299.3h1.3M73.8 276.4h1.3M74.9 284.7h1.3M64.5 301.3h1.3M72.7 274.9h1.3M81.1 281.3h1.3M72.9 287.8h1.3M64.9 288.4h1.3M63.5 284.1h1.3M74.6 283.1h1.3M70.4 292.1h1.3M65.3 309h1.3M89.9 285.4h1.3M76.7 279.7h1.3M67.3 295.1h1.3M65.5 296.1h1.3M74.3 295.7h1.3M80.4 279.4h1.3M86.5 300.3h1.3M69.2 280.8h1.3M62.6 290.9h1.3M72.8 299.8h1.3M62.7 275.5h1.3M59.4 289.2h1.3M76.4 285.6h1.3M75.8 297.6h1.3M67.2 275.7h1.3M83.8 300.8h1.3M94 291.9h1.3M93.3 284.4h1.3M86.5 294.4h1.3M88.4 281.4h1.3M94.7 288h1.3M75.4 294.7h1.3M84.6 292.2h1.3M90.8 288.5h1.3M84.3 293.1h1.3M85.4 297h1.3M79.9 292h1.3M88.5 294.1h1.3M92.4 290.2h1.3M82.9 300.3h1.3" stroke="#26339a" stroke-width="1.3"/>
<path d="M81.5 307.9h1.3M69.2 328.2h1.3M71.7 334.7h1.3M65.8 332.7h1.3M70.3 329.3h1.3M73.5 328.4h1.3M72 326.6h1.3M70 335.3h1.3M70.2 326.8h1.3M73.4 318.9h1.3M63.6 335.6h1.3M81.7 316h1.3M65 334.6h1.3M71.5 325.9h1.3M78.2 319.7h1.3M69.3 324.4h1.3M74.2 321.7h1.3M71 323.4h1.3M74.2 321.1h1.3M67.6 330.1h1.3M79.8 317.8h1.3M75.6 314.4h1.3M73.2 317.9h1.3M78.1 313.9h1.3M74.1 309.1h1.3M60.7 339.1h1.3M78.9 304.8h1.3M76.5 308.8h1.3M68.3 321.2h1.3M69.5 331.1h1.3M75.8 323h1.3M73.7 315.7h1.3M71.8 313.6h1.3M71.1 325h1.3M64.1 331.6h1.3M69.9 338.2h1.3M67.6 327.5h1.3M72.1 326.4h1.3M73.3 341.1h1.3M68.5 339.4h1.3M67.9 340.4h1.3M80.6 321.7h1.3M80.4 316h1.3M75 335.7h1.3M73.8 323.5h1.3M60.1 343h1.3M67.7 342.6h1.3M71.6 330.5h1.3M64.5 346.4h1.3M70 323.2h1.3M71.7 338.9h1.3M69.9 328.9h1.3M76.7 319.5h1.3M68.9 342.1h1.3M64.5 337.6h1.3M62 345.3h1.3M74.2 319.3h1.3M74.2 330.4h1.3M76.3 303.2h1.3M72.9 312.7h1.3M66.8 323.5h1.3M77.6 325.1h1.3M72.2 309.6h1.3M72.9 320.9h1.3M61.5 331.2h1.3M72.2 321.1h1.3M82.2 310.6h1.3M75.9 313.8h1.3M77.3 335.6h1.3M74.6 315.4h1.3M82.3 318.1h1.3M76.3 318.2h1.3M81.9 309.7h1.3M64.9 314.6h1.3M60.4 339.7h1.3M79.3 311.7h1.3M76.8 304.7h1.3M61.3 347.5h1.3M63.1 347.6h1.3M70.8 313.3h1.3M66.2 337.5h1.3M78.2 318.2h1.3M78.9 309.8h1.3M68.1 325.6h1.3M80.7 306.3h1.3M70.3 335.4h1.3M71.6 307.8h1.3M79.1 319.4h1.3M79.9 318h1.3M79.4 309.6h1.3M71.9 330.7h1.3M60.9 321.6h1.3M73.6 313.2h1.3M57 340.8h1.3M70.6 315.4h1.3M65.6 333.1h1.3M68.3 321.3h1.3M62.8 332.4h1.3M68.5 321.8h1.3M70.5 315h1.3M80.7 319.9h1.3M69.9 331.2h1.3M62.2 331.2h1.3M74.5 315.7h1.3M76.1 314.3h1.3M70 317.5h1.3M73.5 331.8h1.3M75.9 318.6h1.3M60.2 330.5h1.3M59.6 323.2h1.3M72.5 314.4h1.3M88.9 322.6h1.3M66.2 334.2h1.3M66.1 327.8h1.3M71.7 323.9h1.3M70.9 316.5h1.3M86 316.9h1.3M64.1 308.6h1.3M60.2 321.5h1.3M64 323.2h1.3M72.9 317.9h1.3M85.6 322.5h1.3M68.5 330.7h1.3M64.5 334.3h1.3M68.2 300.3h1.3M66.6 322.3h1.3M66.8 312.7h1.3M80.8 327.2h1.3M71.8 327h1.3M71.4 318.9h1.3M74.1 316.8h1.3M72.3 318.6h1.3M65.5 317.2h1.3M61.3 312.5h1.3M76.5 330.2h1.3M78.3 328.8h1.3M78.5 324.8h1.3M62.7 317h1.3M68.1 316.8h1.3M75.6 324.4h1.3M69.9 322.9h1.3M85 340.8h1.3M67 298.4h1.3M67.4 321.5h1.3M60.4 312.5h1.3M57.8 325.9h1.3M74.4 308.7h1.3M76.7 319.7h1.3M65.3 316.3h1.3M78.7 322.6h1.3M71.4 343.5h1.3M75.5 330.8h1.3M78.1 328.2h1.3M76.9 310.6h1.3M79.8 327.4h1.3M74.4 324.1h1.3M70.5 318.6h1.3M74.6 314.3h1.3M66.3 311.3h1.3M67.1 325.7h1.3M77.1 325.7h1.3M61.8 344.3h1.3M62.1 343.3h1.3M59.8 348.2h1.3M61.1 338.5h1.3M68.1 342.8h1.3M65.1 349.1h1.3M59.1 347.9h1.3M69.1 347.4h1.3M69.4 355.7h1.3M60.4 341.6h1.3M66.1 349.3h1.3M66.6 341.8h1.3M61.3 341.8h1.3M67.3 345h1.3M59.5 341.5h1.3M63 345.7h1.3M59 341.1h1.3M67.2 344.3h1.3M61.4 340.2h1.3M70.5 347.3h1.3M63.9 346.6h1.3M66.3 343.1h1.3M67.7 342.2h1.3M64.5 340.8h1.3M58.7 342.4h1.3M59.3 346.5h1.3M66 343.9h1.3M61.6 354h1.3M58.9 353.3h1.3M64.5 345.5h1.3M61.9 339.1h1.3M57.8 352.2h1.3M61.8 357.4h1.3M60.3 344.1h1.3M63.5 347.5h1.3M66.4 341.5h1.3M82.8 285h1.3M84.2 293.4h1.3M78.7 297.9h1.3M93.2 295.2h1.3M78 288.2h1.3M85.9 295.8h1.3M90.4 290.3h1.3M89.3 296.7h1.3M89.9 297.3h1.3M79.2 296.4h1.3M88.3 290.6h1.3M90.7 295h1.3M88.8 291.2h1.3M89.6 296.1h1.3M83.6 290h1.3M92.2 295.8h1.3M81 299.6h1.3M93 294.8h1.3M87.3 293.2h1.3" stroke="#0a0a28" stroke-width="1.3"/>
<path d="M76.1 335.1h1.3M63.2 336.6h1.3M66.6 318.1h1.3M66.7 333.9h1.3M79.7 312.8h1.3M77.4 322.6h1.3M80.3 307h1.3M66.7 324.7h1.3M69.9 325.7h1.3M75.7 314.3h1.3M75.2 315.9h1.3M72.6 318.5h1.3M77.7 323h1.3M72.9 326.5h1.3M75.1 329.5h1.3M67.4 328.7h1.3M79.8 306.4h1.3M80.3 311.8h1.3M79.9 311.3h1.3M74.9 314.4h1.3M67.6 336h1.3M77.9 320h1.3M74.5 327.1h1.3M78.5 316.8h1.3M78 304.6h1.3M81.6 323.4h1.3M71.4 315.5h1.3M64.4 323.1h1.3M72.8 322.8h1.3M75.7 318.7h1.3M77.1 336.2h1.3M84.7 312.8h1.3M76.4 314.8h1.3M73.4 318.6h1.3M85.1 303h1.3M74.4 324.7h1.3M71 328.1h1.3M82.2 306.8h1.3M78.1 305.4h1.3M70.8 332.9h1.3M80.9 310h1.3M71.1 321.2h1.3M72.4 327.1h1.3M75.2 312.9h1.3M74.3 327.9h1.3M71.4 333.8h1.3M75.5 314.7h1.3M73 336.1h1.3M76.7 324.3h1.3M71.7 317.1h1.3M67.9 334h1.3M77.6 300.4h1.3M73.3 327.7h1.3M69.1 324.9h1.3M80.3 310.2h1.3M61 339.4h1.3M73.2 336.8h1.3M73.8 324.5h1.3M73.7 317.1h1.3M68.7 342.5h1.3M64.2 343h1.3M68 339.1h1.3M69.3 334.6h1.3M74.7 319.5h1.3M71.4 332.3h1.3M73.8 315.8h1.3M77.4 311.1h1.3M74.8 329.5h1.3M60.1 331.4h1.3M70.2 337.9h1.3M75.7 328.8h1.3M62 334.5h1.3M73.1 340.2h1.3M72.7 325.7h1.3M73 310.9h1.3M71.2 329.2h1.3M75.4 321.1h1.3M73.1 334.7h1.3M71.7 312.9h1.3M71.8 321.2h1.3M56.4 322.6h1.3M66.2 305.7h1.3M69.9 319.1h1.3M64.2 323.1h1.3M73.3 324.6h1.3M63.9 315.2h1.3M82 322.3h1.3M62 330h1.3M60 315h1.3M83.7 332.4h1.3M72.6 312.8h1.3M69.7 326.3h1.3M71 330.3h1.3M71.4 320.1h1.3M83.8 326.6h1.3M76.4 328.9h1.3M73.5 323.1h1.3M73.4 315.5h1.3M67.4 320.6h1.3M63.6 321.2h1.3M71 326.1h1.3M62.8 325h1.3M63 322.1h1.3M76.4 314.3h1.3M76.4 321h1.3M73 335.8h1.3M62.3 322.1h1.3M86.4 312.6h1.3M59.4 314.1h1.3M65.5 319.1h1.3M62.9 314.8h1.3M71.2 323.1h1.3M74.8 328.3h1.3M61.7 328.3h1.3M77.1 320.8h1.3M75.7 320.5h1.3M78 308.5h1.3M74.2 319.4h1.3M59.1 316h1.3M66.6 348.5h1.3M67.8 345.9h1.3M60.2 346.2h1.3M63.8 348.7h1.3M68.2 347h1.3M67.8 348.5h1.3M59.4 349.8h1.3M60.9 346.7h1.3M66 354.2h1.3M68.6 347.3h1.3M56.6 337.4h1.3M63.1 344.5h1.3M59.2 346.1h1.3M69.7 344.2h1.3M64.5 344.7h1.3M73 340.1h1.3M63.7 347.1h1.3M63.5 350.2h1.3M77.8 333.4h1.3M59.2 345.4h1.3M60.6 339.6h1.3M65.4 349.2h1.3M62.1 346.3h1.3M65 345.7h1.3M66.6 342.6h1.3M67.4 345.7h1.3M60 345.1h1.3M63.1 343.5h1.3M64.3 339.8h1.3M57.3 343h1.3M73.9 296h1.3M81.8 291.3h1.3M89.9 304.6h1.3M71.5 290.2h1.3M68.6 295.3h1.3M73.3 289h1.3M63.5 296.1h1.3M82.1 287.7h1.3M73 285.6h1.3M85.4 285.1h1.3M60.3 295.7h1.3M73.6 292.3h1.3M59.4 271.6h1.3M59.3 282.1h1.3M78.9 275.2h1.3M63 287.7h1.3M81.1 284.2h1.3M82.4 287.5h1.3M71.4 286.7h1.3M79.2 291h1.3M83.1 289.3h1.3M70.7 291.2h1.3M75.4 297.5h1.3M77.7 298.3h1.3M78.9 295.3h1.3M77 301.6h1.3M68.2 267.4h1.3M94.8 298.2h1.3M94.7 296.4h1.3M82.7 293.7h1.3M86.4 284.5h1.3M85.5 299.3h1.3M82.7 281.1h1.3M98.8 293.2h1.3M90.9 291.8h1.3M91.7 287.4h1.3M79.7 297.8h1.3M91.4 289.4h1.3M97.5 297.1h1.3M90.5 278.4h1.3M90.2 293.4h1.3M85.2 297.4h1.3M84.9 293.1h1.3M82 289.4h1.3" stroke="#141a5a" stroke-width="1.3"/>
<path d="M64.3 345.4h1.3M68.6 323.4h1.3M76.1 303.7h1.3M71.6 323h1.3M80.1 307.6h1.3M58.2 339.4h1.3M69 317.5h1.3M80.3 315.7h1.3M65.5 340.6h1.3M75.2 329.2h1.3M60.6 345.4h1.3M73.6 326.1h1.3M65.8 346.7h1.3M66.1 327.2h1.3M66.4 340.5h1.3M72.4 304.7h1.3M77.4 323.9h1.3M73.9 326.8h1.3M65.7 342.1h1.3M71 340.4h1.3M74.3 318.4h1.3M68.2 336.5h1.3M73.9 316.3h1.3M82.7 313h1.3M77.3 317.9h1.3M65.1 331.7h1.3M69.2 329.2h1.3M76.6 322.6h1.3M79.7 315.9h1.3M69.3 336.6h1.3M64.2 338.9h1.3M63.8 340.7h1.3M77.2 323.1h1.3M63.8 345.5h1.3M73.8 326.8h1.3M67.4 332.1h1.3M75.6 315.8h1.3M72.9 320.2h1.3M75.6 319.9h1.3M68.9 319.6h1.3M63.2 324.2h1.3M81.2 324.1h1.3M74.9 327.8h1.3M68.3 322.9h1.3M71.9 333.8h1.3M70.3 317.2h1.3M66.9 333.5h1.3M66.5 300.1h1.3M70.9 313.3h1.3M61.7 324.6h1.3M63.1 321.1h1.3M79.5 335.3h1.3M76.7 326.2h1.3M83.7 310h1.3M69.2 317.8h1.3M73.7 320.8h1.3M66.5 332.1h1.3M79.6 325h1.3M66.3 328.5h1.3M68 347.6h1.3M65 346.2h1.3M68.6 352.8h1.3M66.8 338h1.3M60.7 335.6h1.3M69.4 334.8h1.3M66.7 342.4h1.3M70.3 339.8h1.3M67.2 350.7h1.3M58 346.8h1.3M62.2 352.7h1.3M62.9 351.9h1.3M64.1 346.7h1.3M62.4 342.1h1.3M61.9 301.5h1.3M71 284.2h1.3M67.1 290h1.3M81.3 288.9h1.3M73.3 275.8h1.3M81.5 288.1h1.3M66.7 290.1h1.3M74.5 282.1h1.3M80.9 313.4h1.3M82 278.4h1.3M79.7 289.2h1.3M70.7 282.4h1.3M62 302.6h1.3M66.9 291.1h1.3M65.9 269.8h1.3M94.9 311h1.3M68.6 309.8h1.3M82.7 307.2h1.3M70.7 292.4h1.3M85.5 284.6h1.3M86.1 294.6h1.3M83.9 292.9h1.3M91.6 292.5h1.3M90.4 289.3h1.3M65.9 297.2h1.3" stroke="#3a50c0" stroke-width="1.3"/>
<path d="M63.8 324.6h1.3M82.3 303.2h1.3M75.1 311.1h1.3M70.1 333.3h1.3M75.2 314.3h1.3M65.7 337h1.3M70.5 339h1.3M73 330.5h1.3M68.8 323.5h1.3M67.8 341.5h1.3M68.6 325.6h1.3M73.4 321.9h1.3M70.5 334.5h1.3M78.3 310.7h1.3M77.3 309.1h1.3M73.6 321h1.3M72.2 332.8h1.3M75.6 315.3h1.3M64.4 343.1h1.3M69.9 315.7h1.3M68.9 323.4h1.3M64.6 335.2h1.3M69.6 324.5h1.3M75.1 328.6h1.3M77.1 322.1h1.3M64.1 316.9h1.3M63.1 321.8h1.3M73.5 318.2h1.3M71.2 326.2h1.3M74.5 319.1h1.3M70 333.8h1.3M90.8 327.3h1.3M68.3 325.9h1.3M75.8 313.8h1.3M65.7 313.7h1.3M69.5 321.9h1.3M67.1 309.1h1.3M61.4 345.3h1.3M62.4 344.3h1.3M63.6 341.5h1.3M73.2 337.4h1.3M61.9 335.2h1.3M65.3 349.6h1.3M73 295.5h1.3M79.5 293.7h1.3M74.1 290.7h1.3M66.2 300h1.3M68.8 298.5h1.3M83.3 278.7h1.3M62.6 301.5h1.3M73.1 281.1h1.3M75.8 287.1h1.3M81.7 290.9h1.3M73.8 300.1h1.3M73 288h1.3M70 290.1h1.3M78 305h1.3M80.4 294.2h1.3M89.6 296h1.3M90.7 297.3h1.3M82.3 300h1.3M80.8 292.5h1.3" stroke="#7080d8" stroke-width="1.3"/>
<path d="M88.3 285.8h1.3M75.7 306.1h1.3M88.1 290.6h1.3M80.7 287.9h1.3M82.7 285.4h1.3M83.1 289.2h1.3M86.2 301.3h1.3M88.7 291.1h1.3M84.6 295.8h1.3M86.2 294.3h1.3M81.1 288.2h1.3M86.4 294.9h1.3M93.7 298.5h1.3M90 289.3h1.3M80.8 289.6h1.3M97.5 292.4h1.3M81.4 288.5h1.3M82.8 293.1h1.3M93 288.8h1.3M84.3 283.8h1.3" stroke="#05051a" stroke-width="1.3"/>
<path d="M87.5 295.6h1.3M89.9 300.5h1.3M80.1 288.2h1.3M82.7 286.5h1.3M86.4 286.1h1.3M100.6 288.5h1.3M85.5 288.8h1.3M85.8 293.9h1.3M89 294.9h1.3M87.8 300.4h1.3M86 286.1h1.3M81.3 287.4h1.3M79.6 298.1h1.3" stroke="#101040" stroke-width="1.3"/>
<path d="M84.6 294.5h1.3M86.7 286.3h1.3M75.2 289h1.3M86.5 300.1h1.3M88.3 290.4h1.3M86.1 293.8h1.3" stroke="#1c2470" stroke-width="1.3"/>
<path d="M118 258.7h1.4M125 238.7h1.4M112 251.7h1.4" stroke="#101040" stroke-width="1.4"/>
<path d="M116 256.7h1.4M110 253.7h1.4" stroke="#05051a" stroke-width="1.4"/>
<path d="M80 299.6h1.5M78.8 297.5h1.5M76.8 302.4h1.5M82.1 299.2h1.5M83.4 289.4h1.5M107.7 258.9h1.5M107.5 263.2h1.5M77.5 302.7h1.5M91.1 290.6h1.5M78.4 302.7h1.5M96.4 273h1.5M85.7 296.7h1.5M108 262.1h1.5M79.5 303.4h1.5M81.6 293.3h1.5M109 263.5h1.5M103.6 263.1h1.5M100.5 266.2h1.5M84.2 291h1.5M92.6 276h1.5M104.8 269.2h1.5M91.8 279.1h1.5M105.5 270h1.5M76.3 305.1h1.5M82 299.6h1.5M85.8 286.4h1.5M85.3 296h1.5M89.5 281.3h1.5M76.9 300.6h1.5M77.6 303.6h1.5M105.6 271h1.5M97.6 269.8h1.5M83.4 300.9h1.5M104.1 265.6h1.5M104.4 262.3h1.5M81.9 295.6h1.5M100.8 277h1.5M91.2 290.4h1.5M81.1 301.4h1.5M99.9 266.9h1.5M98.7 279.7h1.5M80.2 302.3h1.5M90.3 291.6h1.5M93.8 288.5h1.5M106.4 267.3h1.5M102 267.1h1.5M99.4 269.9h1.5M83.7 289.7h1.5M108 260.7h1.5M98.3 280.3h1.5M100.7 266.1h1.5M107.2 262.2h1.5M82.8 294.1h1.5M107.1 259.7h1.5M105.7 261.8h1.5M109 264.5h1.5M100.4 277.8h1.5M77.6 298.9h1.5M94.1 274.2h1.5M76 304.7h1.5M78.3 302.2h1.5M87.6 294.7h1.5M103 274.1h1.5M77.4 302.1h1.5M87.4 285.3h1.5M108.6 258.6h1.5M106.1 266.3h1.5M108.5 259.3h1.5M77 305.8h1.5M83.7 298.5h1.5M89.8 293.1h1.5M94.7 287h1.5M111.2 258.3h1.5M89.5 280.2h1.5M105.8 267.9h1.5M106.6 268.2h1.5M106.4 267.5h1.5M108.5 258.5h1.5M105.5 271h1.5M108.1 263.1h1.5M107.4 262.8h1.5M80.8 300.4h1.5M93.4 288.8h1.5M104 271.9h1.5M98.5 269.2h1.5M90.9 292h1.5M81.6 294.8h1.5" stroke="#101040" stroke-width="1.5"/>
<path d="M93.2 277.1h1.5M95.1 272.6h1.5M77.7 303.6h1.5M83.1 297.5h1.5M97.1 282.5h1.5M104.8 269.8h1.5M89.9 293.4h1.5M99.7 280h1.5M81 301.9h1.5M84.4 290.4h1.5M78.8 302.9h1.5M79.5 303.5h1.5M86.9 294.3h1.5M94.4 285.5h1.5M108.8 261.4h1.5M86.5 295.4h1.5M90.9 291.3h1.5M107.2 261.6h1.5M102.3 275.9h1.5M86.6 285.9h1.5M104.7 262.6h1.5M87.7 284.4h1.5M104.8 262.8h1.5M87.5 295.6h1.5M111.6 258.8h1.5M81.2 302.4h1.5M83.5 289.1h1.5M80.2 296.5h1.5M78.6 298h1.5M89.6 293.4h1.5M94.9 286.1h1.5M101.3 267.6h1.5M90.6 291.2h1.5" stroke="#1c2470" stroke-width="1.5"/>
<path d="M103.7 273.6h1.5M77.1 302.9h1.5M79.5 302h1.5M97 284.4h1.5M90.6 280.7h1.5M87.6 284.7h1.5M106.7 265.2h1.5M106.4 261.9h1.5M107.1 267.6h1.5M91.7 277.5h1.5M110 257.2h1.5M104.9 270.9h1.5M81.7 301.9h1.5M103.9 270.8h1.5M87.8 294.8h1.5M89.1 294.4h1.5M105.4 269h1.5M82.1 293.7h1.5M104.7 271.8h1.5M108.7 266.2h1.5M111.1 260.3h1.5M100.2 277.2h1.5M84.4 288.4h1.5M85.2 295.7h1.5M109.9 263.7h1.5M82.4 291.5h1.5M108.5 259.4h1.5M85.6 288.2h1.5M82.8 300.4h1.5M96.1 285.1h1.5M87.1 294.2h1.5M93.1 288.8h1.5M106.3 264.8h1.5M85.3 295.7h1.5M101.9 267h1.5M79.1 299h1.5M107.7 260.6h1.5M91.7 289h1.5M100.3 279h1.5M98.7 269h1.5M92.7 287.9h1.5M103.4 272.4h1.5M86.5 285.7h1.5M79.4 295.9h1.5M93.6 288.6h1.5M105 271.1h1.5M105.5 270.7h1.5M92 277.7h1.5M106.1 267.2h1.5M84.1 288.8h1.5M81.8 298.2h1.5M111.1 258.4h1.5M101.2 267.5h1.5M92 289.5h1.5M80.1 298.1h1.5M77.9 302.7h1.5M86.1 297.1h1.5M103 275.3h1.5M105.6 269.7h1.5M78.3 304.7h1.5M101.4 277.4h1.5M77.9 299.5h1.5M110.9 261h1.5M84.8 288.8h1.5M104.7 269.1h1.5M105.5 266.8h1.5M77.7 303.1h1.5M107.6 266.2h1.5M106.7 268.3h1.5M99.8 268h1.5M84.5 290h1.5M104 274h1.5M85.2 289.1h1.5M80.3 303.7h1.5M93.5 286.8h1.5M105.6 268.5h1.5M88.5 292.6h1.5M87.7 293.6h1.5M94.7 274.1h1.5M102.1 265.7h1.5M97.2 271.7h1.5M77.8 304.9h1.5M83.7 296.8h1.5M98.7 280.6h1.5M104.5 270.9h1.5M82.4 294.6h1.5M103.7 264.3h1.5M77.3 304.7h1.5M106 269.5h1.5M106.9 260.2h1.5M108.6 262.3h1.5M100.9 276.4h1.5M106.3 260.1h1.5M102.9 265.3h1.5M82.9 298.3h1.5M99.2 280.7h1.5M87.3 284.3h1.5" stroke="#05051a" stroke-width="1.5"/>
<g transform="translate(94.50,281.30) rotate(-54)">
<ellipse rx="23.22" ry="3.36" fill="#04041a"/>
<ellipse rx="16.90" ry="2.60" fill="#2438b0"/>
<ellipse rx="16.00" ry="1.90" fill="url(#gcore)"/>
</g>
<rect x="55.40" y="215.10" width="125.40" height="148.40" fill="none" stroke="#000" stroke-width="1.3"/>
<line x1="113.30" y1="215.10" x2="113.30" y2="363.50" stroke="#000" stroke-width="1.15"/>
<line x1="55.40" y1="246.30" x2="180.80" y2="246.30" stroke="#000" stroke-width="1.15"/>
<path d="M51.8 215.1H55.4M51.8 248.1H55.4M51.8 280.3H55.4M51.8 312.9H55.4M51.8 351.2H55.4M53.2 238.2H55.4M53.2 232.4H55.4M53.2 228.2H55.4M53.2 225H55.4M53.2 222.4H55.4M53.2 220.2H55.4M53.2 218.3H55.4M53.2 216.6H55.4M53.2 270.6H55.4M53.2 264.9H55.4M53.2 260.9H55.4M53.2 257.8H55.4M53.2 255.2H55.4M53.2 253.1H55.4M53.2 251.2H55.4M53.2 249.6H55.4M53.2 303.1H55.4M53.2 297.3H55.4M53.2 293.3H55.4M53.2 290.1H55.4M53.2 287.5H55.4M53.2 285.3H55.4M53.2 283.5H55.4M53.2 281.8H55.4M53.2 320.6H55.4M53.2 328.2H55.4M53.2 335.9H55.4M53.2 343.5H55.4M52.4 360.5H55.4M64.9 363.5V367.1M80.2 363.5V367.1M103.9 363.5V367.1M128.4 363.5V367.1M152.4 363.5V367.1M177.6 363.5V367.1M56.9 363.5V366.3M58.4 363.5V366.3M59.9 363.5V366.3M61.4 363.5V366.3M68 363.5V366.1M71 363.5V366.1M74.1 363.5V366.1M77.1 363.5V366.1M87.3 363.5V365.9M91.5 363.5V365.9M94.5 363.5V365.9M96.8 363.5V365.9M98.6 363.5V365.9M100.2 363.5V365.9M101.6 363.5V365.9M102.8 363.5V365.9M111.3 363.5V365.9M115.6 363.5V365.9M118.7 363.5V365.9M121 363.5V365.9M123 363.5V365.9M124.6 363.5V365.9M126 363.5V365.9M127.3 363.5V365.9M135.6 363.5V365.9M139.9 363.5V365.9M142.8 363.5V365.9M145.2 363.5V365.9M147.1 363.5V365.9M148.7 363.5V365.9M150.1 363.5V365.9M151.3 363.5V365.9M160 363.5V365.9M164.4 363.5V365.9M167.6 363.5V365.9M170 363.5V365.9M172 363.5V365.9M173.7 363.5V365.9M175.2 363.5V365.9M176.4 363.5V365.9" stroke="#000" stroke-width="1"/>
<line x1="55.10" y1="364.40" x2="180.80" y2="364.40" stroke="#000" stroke-width="0.9"/>
<line x1="54.50" y1="215.10" x2="54.50" y2="364.10" stroke="#000" stroke-width="0.9"/>
<text x="64.90" y="375.90" font-size="7.0" font-family="'Liberation Sans', Arial, sans-serif" font-weight="bold" text-anchor="middle" stroke="#000" stroke-width="0.1">0</text>
<text x="78.90" y="375.90" font-size="7.0" font-family="'Liberation Sans', Arial, sans-serif" font-weight="bold" text-anchor="middle" textLength="7.2" lengthAdjust="spacingAndGlyphs" stroke="#000" stroke-width="0.1">10</text>
<text x="82.50" y="372.50" font-size="5.0" font-family="'Liberation Sans', Arial, sans-serif" font-weight="bold" stroke="#000" stroke-width="0.15">2</text>
<text x="102.60" y="375.90" font-size="7.0" font-family="'Liberation Sans', Arial, sans-serif" font-weight="bold" text-anchor="middle" textLength="7.2" lengthAdjust="spacingAndGlyphs" stroke="#000" stroke-width="0.1">10</text>
<text x="106.20" y="372.50" font-size="5.0" font-family="'Liberation Sans', Arial, sans-serif" font-weight="bold" stroke="#000" stroke-width="0.15">3</text>
<text x="127.10" y="375.90" font-size="7.0" font-family="'Liberation Sans', Arial, sans-serif" font-weight="bold" text-anchor="middle" textLength="7.2" lengthAdjust="spacingAndGlyphs" stroke="#000" stroke-width="0.1">10</text>
<text x="130.70" y="372.50" font-size="5.0" font-family="'Liberation Sans', Arial, sans-serif" font-weight="bold" stroke="#000" stroke-width="0.15">4</text>
<text x="151.10" y="375.90" font-size="7.0" font-family="'Liberation Sans', Arial, sans-serif" font-weight="bold" text-anchor="middle" textLength="7.2" lengthAdjust="spacingAndGlyphs" stroke="#000" stroke-width="0.1">10</text>
<text x="154.70" y="372.50" font-size="5.0" font-family="'Liberation Sans', Arial, sans-serif" font-weight="bold" stroke="#000" stroke-width="0.15">5</text>
<text x="176.30" y="375.90" font-size="7.0" font-family="'Liberation Sans', Arial, sans-serif" font-weight="bold" text-anchor="middle" textLength="7.2" lengthAdjust="spacingAndGlyphs" stroke="#000" stroke-width="0.1">10</text>
<text x="179.90" y="372.50" font-size="5.0" font-family="'Liberation Sans', Arial, sans-serif" font-weight="bold" stroke="#000" stroke-width="0.15">6</text>
<text transform="translate(49.30,215.30) rotate(-90)" font-size="6.7" font-family="'Liberation Sans', Arial, sans-serif" font-weight="bold" text-anchor="middle" textLength="7.2" lengthAdjust="spacingAndGlyphs" stroke="#000" stroke-width="0.1">10</text>
<text transform="translate(46.90,211.00) rotate(-90)" font-size="5.0" font-family="'Liberation Sans', Arial, sans-serif" font-weight="bold" stroke="#000" stroke-width="0.15">6</text>
<text transform="translate(49.30,248.30) rotate(-90)" font-size="6.7" font-family="'Liberation Sans', Arial, sans-serif" font-weight="bold" text-anchor="middle" textLength="7.2" lengthAdjust="spacingAndGlyphs" stroke="#000" stroke-width="0.1">10</text>
<text transform="translate(46.90,244.00) rotate(-90)" font-size="5.0" font-family="'Liberation Sans', Arial, sans-serif" font-weight="bold" stroke="#000" stroke-width="0.15">5</text>
<text transform="translate(49.30,280.50) rotate(-90)" font-size="6.7" font-family="'Liberation Sans', Arial, sans-serif" font-weight="bold" text-anchor="middle" textLength="7.2" lengthAdjust="spacingAndGlyphs" stroke="#000" stroke-width="0.1">10</text>
<text transform="translate(46.90,276.20) rotate(-90)" font-size="5.0" font-family="'Liberation Sans', Arial, sans-serif" font-weight="bold" stroke="#000" stroke-width="0.15">4</text>
<text transform="translate(49.30,313.10) rotate(-90)" font-size="6.7" font-family="'Liberation Sans', Arial, sans-serif" font-weight="bold" text-anchor="middle" textLength="7.2" lengthAdjust="spacingAndGlyphs" stroke="#000" stroke-width="0.1">10</text>
<text transform="translate(46.90,308.80) rotate(-90)" font-size="5.0" font-family="'Liberation Sans', Arial, sans-serif" font-weight="bold" stroke="#000" stroke-width="0.15">3</text>
<text transform="translate(49.30,351.20) rotate(-90)" font-size="7.0" font-family="'Liberation Sans', Arial, sans-serif" font-weight="bold" text-anchor="middle" stroke="#000" stroke-width="0.1">0</text>
<text transform="translate(41.10,289.20) rotate(-90)" font-size="7.4" font-family="'Liberation Sans', Arial, sans-serif" font-weight="bold" text-anchor="middle" textLength="18" lengthAdjust="spacingAndGlyphs" stroke="#000" stroke-width="0.1">PE-A</text>
<text x="107.50" y="386.00" font-size="7.4" font-family="'Liberation Sans', Arial, sans-serif" font-weight="bold" textLength="20.8" lengthAdjust="spacingAndGlyphs" stroke="#000" stroke-width="0.1">FITC-A</text>
<text x="57.70" y="224.40" font-size="7.2" font-family="'Liberation Sans', Arial, sans-serif" font-weight="bold" textLength="41" lengthAdjust="spacingAndGlyphs" stroke="#000" stroke-width="0.1">Q1-UL(%0,00)</text>
<text x="178.50" y="224.40" font-size="7.2" font-family="'Liberation Sans', Arial, sans-serif" font-weight="bold" text-anchor="end" textLength="42.5" lengthAdjust="spacingAndGlyphs" stroke="#000" stroke-width="0.1">Q1-UR(%0,01)</text>
<text x="57.70" y="359.50" font-size="7.2" font-family="'Liberation Sans', Arial, sans-serif" font-weight="bold" textLength="43.5" lengthAdjust="spacingAndGlyphs" stroke="#000" stroke-width="0.1">Q1-LL(%99,85)</text>
<text x="178.50" y="359.50" font-size="7.2" font-family="'Liberation Sans', Arial, sans-serif" font-weight="bold" text-anchor="end" textLength="42.5" lengthAdjust="spacingAndGlyphs" stroke="#000" stroke-width="0.1">Q1-LR(%0,14)</text>
<text x="80.10" y="209.90" font-size="7.2" font-family="'Liberation Sans', Arial, sans-serif" font-weight="bold" textLength="64.9" lengthAdjust="spacingAndGlyphs" stroke="#000" stroke-width="0.1">MCF-7 NT : All Events</text>
<path d="M216.8 314.9h1.3M236 313h1.3M242.3 296.4h1.3M233.2 295h1.3M228.8 295.8h1.3M242.9 290.7h1.3M238.7 291.5h1.3M227.3 307.2h1.3M242.2 294.1h1.3M223.4 313.8h1.3M232 296.3h1.3M236.1 306.3h1.3M242.8 306.5h1.3M237.7 321.5h1.3M239.4 297.9h1.3M230.8 303h1.3M230.2 298.6h1.3M250.6 301.2h1.3M250.2 298.4h1.3M237.7 281.1h1.3M229.5 301.3h1.3M236.4 303.8h1.3M230 305.6h1.3M241.4 301.1h1.3M234.3 318.4h1.3M236.8 313.9h1.3M234.8 295.2h1.3M231.5 301.3h1.3M225.9 330.4h1.3M231.3 337.4h1.3M226.7 313.8h1.3M239.1 340.3h1.3M227.4 344.8h1.3M233.1 319h1.3M231.1 327.9h1.3M221.8 310h1.3M215.5 321.6h1.3M235.5 316h1.3M225.4 322.4h1.3M226.7 315.1h1.3M222.1 311.1h1.3M220.8 315.1h1.3M239.7 286.9h1.3M214.6 301h1.3M232.7 338.8h1.3M230.7 313.1h1.3M237.3 314.8h1.3M215.5 346.2h1.3M223.7 317.9h1.3M219.9 308.1h1.3M232.9 324h1.3M217.7 325.9h1.3M224.3 336.3h1.3M224.1 342.5h1.3M228.1 293.6h1.3M222.9 319.8h1.3M222.9 320.1h1.3M214.2 313.4h1.3M236.1 339.2h1.3M217.6 316.3h1.3M235.8 331.4h1.3M222.1 322.1h1.3M232.8 326h1.3M213.2 310h1.3M235.5 298.1h1.3M223.1 308.9h1.3M233.5 307.6h1.3M225.4 306.7h1.3M222 330.6h1.3M222.4 294.8h1.3M228.1 312.3h1.3M219.1 312.7h1.3M236.3 327.1h1.3M225.9 292.4h1.3M225.3 312.5h1.3M211.8 315.2h1.3M247.3 317.9h1.3M217.9 307.1h1.3M220.6 299.7h1.3M234.6 343.1h1.3M228.3 324h1.3M213.2 325.8h1.3M229.2 308.7h1.3M222.3 330.2h1.3M226.6 310.6h1.3M228.5 323.1h1.3M221.5 334.3h1.3M221.8 305.5h1.3M245.8 315.5h1.3M225.5 316.5h1.3M244.3 324.1h1.3M238.4 331.1h1.3M224.1 311.6h1.3M219.1 309.4h1.3M229.1 316.2h1.3M219 325.2h1.3M218.8 332.2h1.3M222.5 327.2h1.3M226.8 320.4h1.3M222.3 314.7h1.3M216.4 302.2h1.3M211.5 286.3h1.3M233.7 327.2h1.3M229.5 328h1.3M236.2 319.4h1.3M229.8 323.4h1.3M214.3 329.2h1.3M226 318.5h1.3M230 321.7h1.3M224.6 308.2h1.3M246.1 331.5h1.3M219.1 324.4h1.3M214.3 336.7h1.3M223.4 333.5h1.3M229.9 328h1.3M240.9 331.3h1.3M211.9 339.8h1.3M225.3 301.9h1.3M218.6 324.8h1.3M230.6 303.5h1.3M221.9 338.8h1.3M234.4 334.1h1.3M226.7 344.6h1.3M225.6 329.4h1.3M215 343.6h1.3M217.7 334.5h1.3M227.6 350.4h1.3M226.9 335.7h1.3M231.1 338.9h1.3M217.7 337.3h1.3M219.1 348.8h1.3M211.7 340.6h1.3M236.8 348.4h1.3M219.2 342.1h1.3M223.2 336.1h1.3M216.7 341.6h1.3M211.4 328.3h1.3M224.5 345.8h1.3M222.4 341.9h1.3M221.7 330h1.3M220.9 342.7h1.3M217.9 334.8h1.3M228 334.4h1.3M216.7 345.2h1.3M214.5 341.4h1.3M228.6 338.6h1.3M224.1 332.5h1.3M224.2 332.7h1.3M218.7 341.5h1.3M219 334.5h1.3M234.8 349.4h1.3M225.6 342.6h1.3M229.8 282.7h1.3M227.5 276.2h1.3M238.4 281.3h1.3M220.4 290.7h1.3M224.2 283.1h1.3M226.4 276.9h1.3M231.9 270.7h1.3M233 285.7h1.3M212.1 286.1h1.3M232.1 280.6h1.3M238.4 282.9h1.3M219.6 274.5h1.3M222.6 279.7h1.3M232.9 280.3h1.3M219.3 281.2h1.3M222.3 278.2h1.3M225.1 287.7h1.3M219.8 280h1.3M222.7 289.9h1.3M225.8 267h1.3M227.1 277.4h1.3M223.4 300.9h1.3M221.3 278.9h1.3M233.9 288.8h1.3M226.8 286.3h1.3M228.1 299.7h1.3M237.1 280.8h1.3M243.1 268.9h1.3M239.4 286.3h1.3M224.2 277.5h1.3" stroke="#141a5a" stroke-width="1.3"/>
<path d="M243 304.4h1.3M220.1 306.9h1.3M234.7 313.7h1.3M235.3 313.6h1.3M250 292.3h1.3M216.2 310.8h1.3M232.7 318h1.3M232.5 297.7h1.3M236.4 299.8h1.3M234.9 303.6h1.3M238.5 310.7h1.3M231.6 299.3h1.3M225.4 306.5h1.3M225.4 316.7h1.3M243.6 297.9h1.3M246.8 291.1h1.3M249.5 287.6h1.3M223.1 308.2h1.3M241.6 307.3h1.3M226.9 306.1h1.3M215.9 311h1.3M227.1 303.7h1.3M229.8 299.7h1.3M238.3 295.6h1.3M246.8 293.3h1.3M236.8 296.3h1.3M227.2 300.4h1.3M232.1 314.7h1.3M240.4 299h1.3M230.9 309h1.3M231.6 303h1.3M236.1 279.5h1.3M242 295.3h1.3M226.7 292.9h1.3M245.4 301.5h1.3M242.7 295.3h1.3M240.9 286.8h1.3M224.7 307.2h1.3M232.5 312.7h1.3M233.5 301.2h1.3M245.4 310.8h1.3M245.1 304h1.3M240.8 293.8h1.3M247.6 286.5h1.3M258.6 266.5h1.3M261.8 263.1h1.3M261.6 265.6h1.3M260.2 258.9h1.3M258.2 269.3h1.3M262.4 258h1.3M257.5 267.3h1.3M256 264.8h1.3M264.7 264h1.3M262.7 263.5h1.3M261.1 262.6h1.3M258.5 259.8h1.3M255.2 266.3h1.3M261.9 265.9h1.3M266 258.5h1.3M258.8 264.3h1.3M264.8 263h1.3" stroke="#05051a" stroke-width="1.3"/>
<path d="M239.5 305.1h1.3M236.7 306.3h1.3M241.7 305.1h1.3M230 306.5h1.3M235.4 296.6h1.3M230 297.5h1.3M238 296.4h1.3M223.2 310.7h1.3M237 309.9h1.3M230 305.5h1.3M229.1 299.1h1.3M230.3 304.2h1.3M245.5 278.6h1.3M232.8 317.9h1.3M234.1 303.7h1.3M239.8 295.2h1.3M239.9 307.9h1.3M243.2 300.9h1.3M232.9 292.9h1.3M233.4 320.2h1.3M235.5 313.2h1.3M238.9 293.1h1.3M242 302.4h1.3M233.5 304.3h1.3M234.2 294.6h1.3M256 290h1.3M232 305.7h1.3M233.6 301h1.3M232.8 306.1h1.3M230.1 298.7h1.3M244.6 300.1h1.3M242.4 309.3h1.3M234.6 324.1h1.3M226.5 312.2h1.3M227.2 325.7h1.3M234.7 307.3h1.3M217.8 324.7h1.3M221.9 308.8h1.3M228.6 322h1.3M227 315.1h1.3M228.9 321.5h1.3M212.5 316.7h1.3M218.5 304.9h1.3M229 335h1.3M211.3 292.6h1.3M232.9 292.6h1.3M232.1 314.3h1.3M216.9 338.9h1.3M234.1 310.5h1.3M225.5 317.8h1.3M216.5 324.9h1.3M248.3 306.7h1.3M229 312.4h1.3M232.9 313.8h1.3M218 334.5h1.3M230 327.6h1.3M237.1 326.5h1.3M235.1 311.6h1.3M214.9 305.4h1.3M222.8 328.6h1.3M228 328.4h1.3M213.1 314h1.3M216.2 316.7h1.3M227.5 323.7h1.3M221.1 332.9h1.3M232.9 312.9h1.3M232.8 294.7h1.3M220.3 310h1.3M214.1 315.9h1.3M219.1 312.9h1.3M215.8 318.5h1.3M224 314.2h1.3M232.1 335h1.3M232.9 334.1h1.3M227.8 307.1h1.3M223.5 301.4h1.3M224.3 298h1.3M218.8 319.4h1.3M223.7 298.5h1.3M232.8 333.1h1.3M228.1 304.5h1.3M233.7 318.3h1.3M215.7 325.3h1.3M232.6 304.3h1.3M228.5 300.8h1.3M234.7 317.1h1.3M241.6 318.1h1.3M232 331.2h1.3M232.8 305.1h1.3M230.6 307.8h1.3M226.9 318.7h1.3M232.2 318.5h1.3M222.2 307h1.3M235.2 337.3h1.3M214.8 319.1h1.3M214.4 319.6h1.3M221.7 309.3h1.3M223.9 338.2h1.3M221.4 315.4h1.3M221.3 309.4h1.3M223.7 305.6h1.3M216.3 316.8h1.3M236 341.1h1.3M223 308.5h1.3M214.9 292.7h1.3M220.1 311.2h1.3M221.6 337h1.3M219.4 324.4h1.3M215.8 305.6h1.3M226.2 316h1.3M230.6 333.6h1.3M215.9 305.9h1.3M234.4 314.2h1.3M214.7 337h1.3M216.5 308.4h1.3M222.2 325h1.3M221.7 312.5h1.3M212.2 334.2h1.3M227.9 331.3h1.3M228.4 300.7h1.3M220.1 310.4h1.3M235.2 317.1h1.3M221.2 326.1h1.3M222.7 304.2h1.3M231.4 302.1h1.3M233.2 316.6h1.3M221.5 302.5h1.3M229.6 314.7h1.3M224.3 307.3h1.3M216 305.5h1.3M226.6 321.1h1.3M233.4 349.9h1.3M226.1 334.9h1.3M236.2 335.3h1.3M217.7 328.4h1.3M227.8 334.2h1.3M229.3 339.6h1.3M212.9 339h1.3M216.8 338.5h1.3M225.8 345.3h1.3M228.4 331.1h1.3M221.8 346h1.3M212.8 335.1h1.3M219.5 342.1h1.3M228.4 336.3h1.3M226 339.2h1.3M214.1 329.1h1.3M225.8 344.4h1.3M228.7 344.8h1.3M221.3 331.4h1.3M221.9 334.6h1.3M228.1 345.3h1.3M219 333.5h1.3M221.3 344.9h1.3M224.8 341.9h1.3M233 341.4h1.3M223.4 341.4h1.3M216.9 334.3h1.3M216.1 335.9h1.3M235.6 337.8h1.3M221.7 344.7h1.3M226.3 351.1h1.3M217.7 354.1h1.3M213.3 341.7h1.3M213.3 336.9h1.3M220.6 344.9h1.3M217.7 342.9h1.3M221.3 353.2h1.3" stroke="#0a0a28" stroke-width="1.3"/>
<path d="M235.7 298.5h1.3M218.6 313.7h1.3M224.2 307.9h1.3M242.9 292.7h1.3M228.9 299.9h1.3M229.8 308.2h1.3M238.2 295.3h1.3M228.4 296.9h1.3M233.3 321.1h1.3M247.8 294.7h1.3M243.5 309.2h1.3M236.9 305.1h1.3M224 315.3h1.3M243.7 313h1.3M234.4 296.3h1.3M250.2 284.4h1.3M241 310h1.3M241.2 312.7h1.3M254.1 303.3h1.3M231.4 310h1.3M235.4 300.7h1.3M236.3 285.9h1.3M248.3 288.7h1.3M230.4 300.9h1.3M239.2 301.5h1.3M241.2 298h1.3M231.8 305.7h1.3M222.1 334.8h1.3M224.1 309.3h1.3M240.2 306.8h1.3M223.8 345.6h1.3M213 325.1h1.3M222.6 316.7h1.3M219.8 332.4h1.3M223.4 319.2h1.3M217.6 297h1.3M211.7 308.6h1.3M216 299.4h1.3M228.1 336.4h1.3M240.1 361.9h1.3M231.2 318.4h1.3M230.1 310.6h1.3M228.5 310.9h1.3M229.4 333.8h1.3M241.6 293.4h1.3M225.6 305.5h1.3M221.4 326.3h1.3M216.9 323.2h1.3M223.5 320.7h1.3M231.7 303.4h1.3M234 336.8h1.3M221.1 310.7h1.3M233.8 329.8h1.3M234.7 334.7h1.3M217.9 340.2h1.3M215.3 324.5h1.3M227.8 323.4h1.3M229.6 318.8h1.3M236.2 305.1h1.3M237.8 315.6h1.3M236.4 313.1h1.3M240.6 313.8h1.3M246.5 312.6h1.3M221.6 332.9h1.3M237.6 322.4h1.3M224 332.4h1.3M224 332.9h1.3M215.8 306.8h1.3M213.4 305.5h1.3M230.8 316.5h1.3M239.4 315h1.3M221.6 325.6h1.3M231.5 307.5h1.3M219.2 328.5h1.3M234.5 334.3h1.3M216.2 345.2h1.3M220 305h1.3M226.5 343.7h1.3M237.6 297.4h1.3M217.6 331.2h1.3M225.2 321.7h1.3M238 325.2h1.3M226.1 340h1.3M222.3 340.2h1.3M217.6 314.4h1.3M227.2 312.1h1.3M226.2 350.4h1.3M215 318.2h1.3M231.4 326.5h1.3M215.2 342.8h1.3M235.9 323.6h1.3M219.4 334.7h1.3M221.3 333.4h1.3M227.7 353.7h1.3M226.3 310.1h1.3M220.7 321.1h1.3M212.2 319.3h1.3M213.1 314.3h1.3M223.4 275.9h1.3M237 311.7h1.3M237.6 325.8h1.3M219.6 333.3h1.3M222.1 326.2h1.3M227.5 323.9h1.3M224.7 327h1.3M231.7 317.7h1.3M226.9 327.7h1.3M215.1 315h1.3M239.3 327.7h1.3M211.5 336.6h1.3M227.5 338.4h1.3M223.6 338h1.3M223 351.1h1.3M222.3 341.4h1.3M232.7 333.3h1.3M228 334.5h1.3M217.2 334.9h1.3M216.9 339.2h1.3M216 340.2h1.3M221.1 337.6h1.3M221.1 346.2h1.3M220.2 351h1.3M226.7 340.4h1.3M220.1 341.4h1.3M226.3 352.1h1.3M228.3 337.6h1.3M221 337.4h1.3M223.5 348.7h1.3M226.8 327.8h1.3M225.4 345.4h1.3M224.2 338.5h1.3M217 340.4h1.3M215.6 338.1h1.3M226.4 355.2h1.3M233.8 346.5h1.3M225.8 339h1.3M229.7 338h1.3M219.1 336.3h1.3M222.2 330.3h1.3M223.5 272.8h1.3M228.9 276.2h1.3M217.3 296.2h1.3M219 307.6h1.3M227.9 276.8h1.3M237.2 290.2h1.3M225.5 284.4h1.3M226.5 272.8h1.3M224 265.8h1.3M220.4 278.6h1.3M223.4 278.1h1.3M225.8 279.9h1.3M227.6 268.7h1.3M226.9 273.8h1.3M223.9 287.2h1.3M226.9 296.8h1.3M220.3 271h1.3M216.3 273.6h1.3M219.1 276.9h1.3M242.3 278.3h1.3M229.2 274.7h1.3M234.8 276.5h1.3M233.3 267.7h1.3M217.8 284.5h1.3M231.7 284.5h1.3M227.4 271.1h1.3M212.6 279.4h1.3M235.3 266.6h1.3M222.6 284.4h1.3M219.2 283.6h1.3M233.5 291h1.3M225.5 265.9h1.3M231.3 278h1.3M230.6 272.5h1.3M235.4 278.2h1.3M223.6 272.9h1.3M226.5 276.6h1.3M232.2 279.5h1.3M231 271.9h1.3M220.7 271.7h1.3M218.3 280.8h1.3" stroke="#26339a" stroke-width="1.3"/>
<path d="M243.1 282.7h1.3M253.6 306.6h1.3M227.6 297h1.3M227.4 296.1h1.3M234.2 297.1h1.3M234.6 301.8h1.3M225.1 298.5h1.3M235.3 302.1h1.3M225 326.5h1.3M225.3 322.2h1.3M223.6 318.3h1.3M221.4 287.9h1.3M232.4 361.8h1.3M219.6 312.2h1.3M224.3 326.4h1.3M214.8 337.8h1.3M222.6 299.9h1.3M228.5 312.2h1.3M217.3 331.1h1.3M231.9 313.3h1.3M217.2 320.8h1.3M216.2 349.6h1.3M229.8 312.5h1.3M230.8 343.1h1.3M229 321.8h1.3M227.6 325h1.3M225.2 307.4h1.3M230.3 321.4h1.3M223.2 329.8h1.3M228.6 344h1.3M220.1 334h1.3M211.5 343.3h1.3M217.8 348.9h1.3M216 347.1h1.3M228.6 342h1.3M216.7 344.2h1.3M233.5 338.8h1.3M221.6 336h1.3M217.9 273.3h1.3M228.5 292.2h1.3M227.7 268.7h1.3M211.2 269.1h1.3M232 283h1.3M212.9 283.6h1.3M224.4 268h1.3M232.1 275.4h1.3M238.1 272.7h1.3M222.2 288.7h1.3M223.6 274.9h1.3M212.7 289.4h1.3M227.5 289.5h1.3M227.3 283.4h1.3" stroke="#7080d8" stroke-width="1.3"/>
<path d="M227.3 309h1.3M245.4 301.8h1.3M249.1 285.6h1.3M241.5 293.1h1.3M237.2 303.1h1.3M233.3 321.4h1.3M236.6 312.5h1.3M225 316.8h1.3M237.8 302.1h1.3M245.3 291.3h1.3M238.8 306.9h1.3M238.7 317.4h1.3M244.7 293.2h1.3M231.2 286.5h1.3M230.9 318.4h1.3M229.6 321.3h1.3M231.7 291.3h1.3M239.8 296h1.3M247 307.2h1.3M242.5 309.4h1.3M242.7 309h1.3M256.2 264.4h1.3M266.9 265h1.3M262.7 260.9h1.3M262.2 263.1h1.3M265.7 256.9h1.3M261.6 269h1.3M262 261.4h1.3M260.3 261.9h1.3M254.8 266.2h1.3M256.6 263.4h1.3M257.7 263.4h1.3M258.2 269.5h1.3M263.2 257.6h1.3M261.2 258.4h1.3M259.5 263.9h1.3M255.8 263h1.3M264.5 258.7h1.3M266.4 258.1h1.3M257.8 264.3h1.3M262.1 268.8h1.3M257.9 267.6h1.3M256.7 261.3h1.3M255.4 270.3h1.3M260.7 255.6h1.3M267.5 257.2h1.3" stroke="#101040" stroke-width="1.3"/>
<path d="M234.2 295.1h1.3M237.5 312.8h1.3M230.1 303.7h1.3M249.7 305.5h1.3M240.3 294.8h1.3M240.8 314.2h1.3M244.4 304.7h1.3M233.3 310.7h1.3M229.6 315.5h1.3M230.6 309.1h1.3M244.5 311.3h1.3M227.4 298.7h1.3M254 292.9h1.3M258.5 263.4h1.3M263.2 258.6h1.3M266.1 256h1.3M263.3 263.5h1.3M260.1 263.7h1.3M262.2 259.3h1.3" stroke="#1c2470" stroke-width="1.3"/>
<path d="M230 303h1.3M236 306h1.3M241.6 298.8h1.3M251.7 294h1.3M219 299.6h1.3M231.7 305.5h1.3M233.3 293.1h1.3M224.6 317.3h1.3M217.9 322.8h1.3M223.4 324.6h1.3M218.9 326.8h1.3M217 320.5h1.3M228.3 304.4h1.3M237.8 321.3h1.3M222.5 279.5h1.3M217.2 303.7h1.3M222.6 296.5h1.3M217.3 332.2h1.3M217.4 318.3h1.3M213.7 318.7h1.3M235.5 305.2h1.3M219.4 320.3h1.3M230 303.4h1.3M217.5 314.5h1.3M240.2 322.2h1.3M219.9 292.3h1.3M230 313.6h1.3M221.3 317.6h1.3M253.9 321.7h1.3M237 299.4h1.3M222.2 330.9h1.3M221.4 333.4h1.3M224.2 325.1h1.3M222 305.7h1.3M220.9 327.6h1.3M216.9 329.9h1.3M215.1 335.4h1.3M221.1 307.6h1.3M219.1 326.1h1.3M223.2 319.5h1.3M229.2 300.6h1.3M222.8 318.6h1.3M229.3 348.5h1.3M232.9 330.1h1.3M225.8 296.1h1.3M224.6 308.1h1.3M223.2 324.2h1.3M231.8 321.3h1.3M216.4 313.5h1.3M218.5 352.7h1.3M222.6 300.2h1.3M236.1 316.6h1.3M233.8 334.2h1.3M231 319h1.3M217.3 306.5h1.3M216.3 314.4h1.3M227.6 326.5h1.3M229.4 333.8h1.3M222.4 340h1.3M215.8 344.4h1.3M223.9 343.8h1.3M213.1 345.3h1.3M211.8 346.7h1.3M231.9 348h1.3M219.2 340.3h1.3M214.7 344.8h1.3M223 352.9h1.3M220.9 358h1.3M225 345.2h1.3M211.6 342.1h1.3M224.8 347h1.3M226 340.9h1.3M227.8 334.7h1.3M218 346.6h1.3M219.2 339.7h1.3M221.2 351.2h1.3M217.7 338.2h1.3M215.4 285.2h1.3M222.7 279.3h1.3M218.3 264.4h1.3M217.1 284.2h1.3M221.3 293.2h1.3M220.1 277.1h1.3M221.9 286.1h1.3M223.6 267.8h1.3M233.4 286.6h1.3M239.1 278.4h1.3M240 259.7h1.3M240.5 281.4h1.3M238.3 276.6h1.3M231 269.6h1.3M225.2 288h1.3M214.9 274h1.3M232.8 257.9h1.3M241.1 281.1h1.3" stroke="#3a50c0" stroke-width="1.3"/>
<path d="M278.5 247.3h1.4M272 252.7h1.4" stroke="#101040" stroke-width="1.4"/>
<path d="M278.5 253.9h1.4" stroke="#05051a" stroke-width="1.4"/>
<path d="M260.1 263.8h1.5M249.3 286.6h1.5M236 286.2h1.5M234.5 299.6h1.5M257.1 277.5h1.5M232.9 297.2h1.5M259.1 263.3h1.5M260.5 271.1h1.5M240.3 295.2h1.5M251.5 286.8h1.5M247 273.4h1.5M256.7 279.9h1.5M234 294.9h1.5M256.7 268.1h1.5M239 297.4h1.5M243.4 277.5h1.5M236 292.7h1.5M239.5 296.6h1.5M252.1 266.8h1.5M251.9 265.2h1.5M251.5 285h1.5M240.7 294.4h1.5M235.4 297.7h1.5M232.9 294h1.5M236.5 294.8h1.5M253.4 281.6h1.5M260.7 264.4h1.5M258.4 271.6h1.5M255.7 267.6h1.5M259.2 274.8h1.5M252.2 286.1h1.5M238.8 297.4h1.5M257.1 271.9h1.5M262.5 262.7h1.5M258.9 272.9h1.5M235.5 294.5h1.5M258 270.3h1.5M244.6 292.5h1.5M260.9 269.1h1.5M233.9 294.4h1.5M244.8 293.8h1.5M258.8 267h1.5M261.7 262.6h1.5M249.3 288.1h1.5M248.3 268.7h1.5M261.2 263.7h1.5M240.1 283h1.5M233.7 292.1h1.5M233 299.5h1.5M238 283.3h1.5M257.3 272.4h1.5M257.3 261.3h1.5M259.3 262.6h1.5M248.7 290.5h1.5M255 264.7h1.5M254 268.1h1.5M258.6 265.2h1.5M235.4 290.6h1.5M259 273.5h1.5M257.5 271h1.5M237.5 296.9h1.5M242.4 295.8h1.5M244.8 292.8h1.5M234.6 296.1h1.5M251.5 285h1.5M252.8 266h1.5M236.9 288.8h1.5M261.7 267.6h1.5M254.2 268h1.5M244.4 276.9h1.5M257.3 267.3h1.5M254.8 263.4h1.5M231.8 300.5h1.5M245.3 275.2h1.5M241.6 279.2h1.5M236.9 287.8h1.5M236.2 295.9h1.5M231.5 296.8h1.5M239.2 297.7h1.5M245.5 273.4h1.5M247.9 288.6h1.5M256.1 280.4h1.5" stroke="#101040" stroke-width="1.5"/>
<path d="M248.4 290.1h1.5M255.2 282.1h1.5M243.5 276.6h1.5M246.5 292.5h1.5M244.8 274.4h1.5M237.7 297.9h1.5M237.4 296.1h1.5M233.8 296.4h1.5M235.4 298.7h1.5M252.9 281.3h1.5M237 299.3h1.5M260.8 261.3h1.5M250.7 267.1h1.5M233 294.1h1.5M235.7 298.8h1.5M261.5 267.5h1.5M234.4 291h1.5M253.8 284.3h1.5M241.6 295.1h1.5M249.4 289.6h1.5M237.3 287.8h1.5M260.1 269h1.5M233.7 294.4h1.5M254.2 279.6h1.5M236.4 291.2h1.5M237.6 284.4h1.5M232.2 297.9h1.5M248.5 269.9h1.5M261.6 264.9h1.5M251.2 269.3h1.5M253.7 267.6h1.5M248.7 289.7h1.5M238.4 284.4h1.5M232 295.3h1.5M238.1 297.8h1.5M245.7 293.8h1.5M231.7 299.9h1.5M240.9 279.3h1.5M261.7 264.5h1.5M239.6 281.7h1.5M242.5 295.1h1.5M256.7 268.2h1.5M241.7 278.4h1.5M258.2 268.4h1.5M243.3 276.8h1.5M261.5 265.7h1.5M259.9 272.8h1.5M237.1 288.8h1.5M241.2 281.5h1.5M235.4 296.5h1.5M253.2 267h1.5M255.1 278.9h1.5M260.1 265.1h1.5M245.5 291.8h1.5M251.5 285.2h1.5M247.2 290.2h1.5M249.6 286.7h1.5M234.1 298.9h1.5M239.1 284.9h1.5M256.8 261.9h1.5M233.6 296.1h1.5M257.7 277.3h1.5M248.6 271.3h1.5M234.4 300.5h1.5M239.8 297.4h1.5M245.7 271.2h1.5M259.9 267.5h1.5M234.4 296.5h1.5M251.9 267.6h1.5M247.5 288.9h1.5M244.7 294.3h1.5M260.7 264.4h1.5M247.2 291.1h1.5M243.9 292.5h1.5M249.5 269.3h1.5M241.4 277.5h1.5M262.8 263.5h1.5M235.4 289.1h1.5M238.1 299.8h1.5M256.3 262.2h1.5M260.8 266.1h1.5M257.8 273.7h1.5M235.7 291.5h1.5M236.3 299h1.5M236.9 288.7h1.5" stroke="#05051a" stroke-width="1.5"/>
<path d="M261.7 269.1h1.5M236 290.6h1.5M260 267.1h1.5M243.8 274.9h1.5M257.1 277.9h1.5M234.5 302.2h1.5M248.2 288.4h1.5M246.9 289.2h1.5M258.4 266.6h1.5M243.9 293.2h1.5M255.1 279.4h1.5M259.4 261.8h1.5M239.6 299.7h1.5M253.2 282.6h1.5M233.5 290.9h1.5M259.1 266.2h1.5M233.8 302.3h1.5M258.4 267.4h1.5M233.1 296.1h1.5M241.6 295.8h1.5M245.1 292.9h1.5M240 295.6h1.5M233.4 294.7h1.5M255 280.9h1.5M237.6 296.2h1.5M252.5 285.2h1.5M235.2 287h1.5M258.1 265.3h1.5M251.7 286.2h1.5M259.1 272.4h1.5M244.1 292.9h1.5M257 267.3h1.5M258.2 268.7h1.5M245.4 274.6h1.5M262.3 265.6h1.5M248.6 289.9h1.5M257.4 276.9h1.5M259.1 266.2h1.5M240.1 297.6h1.5M259 267.6h1.5" stroke="#1c2470" stroke-width="1.5"/>
<g transform="translate(247.60,281.50) rotate(-54)">
<ellipse rx="19.78" ry="5.54" fill="#04041a"/>
<ellipse rx="14.40" ry="4.00" fill="#2438b0"/>
<ellipse rx="13.50" ry="3.30" fill="url(#gcore)"/>
</g>
<rect x="210.40" y="215.00" width="125.80" height="148.50" fill="none" stroke="#000" stroke-width="1.3"/>
<line x1="268.50" y1="215.00" x2="268.50" y2="363.50" stroke="#000" stroke-width="1.15"/>
<line x1="210.40" y1="246.20" x2="336.20" y2="246.20" stroke="#000" stroke-width="1.15"/>
<path d="M206.8 215H210.4M206.8 248H210.4M206.8 280.2H210.4M206.8 312.8H210.4M206.8 351.2H210.4M208.2 238.1H210.4M208.2 232.3H210.4M208.2 228.1H210.4M208.2 224.9H210.4M208.2 222.3H210.4M208.2 220.1H210.4M208.2 218.2H210.4M208.2 216.5H210.4M208.2 270.5H210.4M208.2 264.8H210.4M208.2 260.8H210.4M208.2 257.7H210.4M208.2 255.1H210.4M208.2 253H210.4M208.2 251.1H210.4M208.2 249.5H210.4M208.2 303H210.4M208.2 297.2H210.4M208.2 293.2H210.4M208.2 290H210.4M208.2 287.4H210.4M208.2 285.2H210.4M208.2 283.4H210.4M208.2 281.7H210.4M208.2 320.5H210.4M208.2 328.2H210.4M208.2 335.8H210.4M208.2 343.5H210.4M207.4 360.5H210.4M219.9 363.5V367.1M235.2 363.5V367.1M258.9 363.5V367.1M283.4 363.5V367.1M307.4 363.5V367.1M332.6 363.5V367.1M211.9 363.5V366.3M213.4 363.5V366.3M214.9 363.5V366.3M216.4 363.5V366.3M223 363.5V366.1M226 363.5V366.1M229.1 363.5V366.1M232.1 363.5V366.1M242.3 363.5V365.9M246.5 363.5V365.9M249.5 363.5V365.9M251.8 363.5V365.9M253.6 363.5V365.9M255.2 363.5V365.9M256.6 363.5V365.9M257.8 363.5V365.9M266.3 363.5V365.9M270.6 363.5V365.9M273.7 363.5V365.9M276 363.5V365.9M278 363.5V365.9M279.6 363.5V365.9M281 363.5V365.9M282.3 363.5V365.9M290.6 363.5V365.9M294.9 363.5V365.9M297.8 363.5V365.9M300.2 363.5V365.9M302.1 363.5V365.9M303.7 363.5V365.9M305.1 363.5V365.9M306.3 363.5V365.9M315 363.5V365.9M319.4 363.5V365.9M322.6 363.5V365.9M325 363.5V365.9M327 363.5V365.9M328.7 363.5V365.9M330.2 363.5V365.9M331.4 363.5V365.9" stroke="#000" stroke-width="1"/>
<line x1="210.10" y1="364.40" x2="336.20" y2="364.40" stroke="#000" stroke-width="0.9"/>
<line x1="209.50" y1="215.00" x2="209.50" y2="364.10" stroke="#000" stroke-width="0.9"/>
<text x="219.90" y="375.90" font-size="7.0" font-family="'Liberation Sans', Arial, sans-serif" font-weight="bold" text-anchor="middle" stroke="#000" stroke-width="0.1">0</text>
<text x="233.90" y="375.90" font-size="7.0" font-family="'Liberation Sans', Arial, sans-serif" font-weight="bold" text-anchor="middle" textLength="7.2" lengthAdjust="spacingAndGlyphs" stroke="#000" stroke-width="0.1">10</text>
<text x="237.50" y="372.50" font-size="5.0" font-family="'Liberation Sans', Arial, sans-serif" font-weight="bold" stroke="#000" stroke-width="0.15">2</text>
<text x="257.60" y="375.90" font-size="7.0" font-family="'Liberation Sans', Arial, sans-serif" font-weight="bold" text-anchor="middle" textLength="7.2" lengthAdjust="spacingAndGlyphs" stroke="#000" stroke-width="0.1">10</text>
<text x="261.20" y="372.50" font-size="5.0" font-family="'Liberation Sans', Arial, sans-serif" font-weight="bold" stroke="#000" stroke-width="0.15">3</text>
<text x="282.10" y="375.90" font-size="7.0" font-family="'Liberation Sans', Arial, sans-serif" font-weight="bold" text-anchor="middle" textLength="7.2" lengthAdjust="spacingAndGlyphs" stroke="#000" stroke-width="0.1">10</text>
<text x="285.70" y="372.50" font-size="5.0" font-family="'Liberation Sans', Arial, sans-serif" font-weight="bold" stroke="#000" stroke-width="0.15">4</text>
<text x="306.10" y="375.90" font-size="7.0" font-family="'Liberation Sans', Arial, sans-serif" font-weight="bold" text-anchor="middle" textLength="7.2" lengthAdjust="spacingAndGlyphs" stroke="#000" stroke-width="0.1">10</text>
<text x="309.70" y="372.50" font-size="5.0" font-family="'Liberation Sans', Arial, sans-serif" font-weight="bold" stroke="#000" stroke-width="0.15">5</text>
<text x="331.30" y="375.90" font-size="7.0" font-family="'Liberation Sans', Arial, sans-serif" font-weight="bold" text-anchor="middle" textLength="7.2" lengthAdjust="spacingAndGlyphs" stroke="#000" stroke-width="0.1">10</text>
<text x="334.90" y="372.50" font-size="5.0" font-family="'Liberation Sans', Arial, sans-serif" font-weight="bold" stroke="#000" stroke-width="0.15">6</text>
<text transform="translate(204.30,215.20) rotate(-90)" font-size="6.7" font-family="'Liberation Sans', Arial, sans-serif" font-weight="bold" text-anchor="middle" textLength="7.2" lengthAdjust="spacingAndGlyphs" stroke="#000" stroke-width="0.1">10</text>
<text transform="translate(201.90,210.90) rotate(-90)" font-size="5.0" font-family="'Liberation Sans', Arial, sans-serif" font-weight="bold" stroke="#000" stroke-width="0.15">6</text>
<text transform="translate(204.30,248.20) rotate(-90)" font-size="6.7" font-family="'Liberation Sans', Arial, sans-serif" font-weight="bold" text-anchor="middle" textLength="7.2" lengthAdjust="spacingAndGlyphs" stroke="#000" stroke-width="0.1">10</text>
<text transform="translate(201.90,243.90) rotate(-90)" font-size="5.0" font-family="'Liberation Sans', Arial, sans-serif" font-weight="bold" stroke="#000" stroke-width="0.15">5</text>
<text transform="translate(204.30,280.40) rotate(-90)" font-size="6.7" font-family="'Liberation Sans', Arial, sans-serif" font-weight="bold" text-anchor="middle" textLength="7.2" lengthAdjust="spacingAndGlyphs" stroke="#000" stroke-width="0.1">10</text>
<text transform="translate(201.90,276.10) rotate(-90)" font-size="5.0" font-family="'Liberation Sans', Arial, sans-serif" font-weight="bold" stroke="#000" stroke-width="0.15">4</text>
<text transform="translate(204.30,313.00) rotate(-90)" font-size="6.7" font-family="'Liberation Sans', Arial, sans-serif" font-weight="bold" text-anchor="middle" textLength="7.2" lengthAdjust="spacingAndGlyphs" stroke="#000" stroke-width="0.1">10</text>
<text transform="translate(201.90,308.70) rotate(-90)" font-size="5.0" font-family="'Liberation Sans', Arial, sans-serif" font-weight="bold" stroke="#000" stroke-width="0.15">3</text>
<text transform="translate(204.30,351.20) rotate(-90)" font-size="7.0" font-family="'Liberation Sans', Arial, sans-serif" font-weight="bold" text-anchor="middle" stroke="#000" stroke-width="0.1">0</text>
<text transform="translate(196.10,289.20) rotate(-90)" font-size="7.4" font-family="'Liberation Sans', Arial, sans-serif" font-weight="bold" text-anchor="middle" textLength="18" lengthAdjust="spacingAndGlyphs" stroke="#000" stroke-width="0.1">PE-A</text>
<text x="262.30" y="386.00" font-size="7.4" font-family="'Liberation Sans', Arial, sans-serif" font-weight="bold" textLength="20.8" lengthAdjust="spacingAndGlyphs" stroke="#000" stroke-width="0.1">FITC-A</text>
<text x="212.70" y="224.30" font-size="7.2" font-family="'Liberation Sans', Arial, sans-serif" font-weight="bold" textLength="41" lengthAdjust="spacingAndGlyphs" stroke="#000" stroke-width="0.1">Q1-UL(%0,01)</text>
<text x="333.90" y="224.30" font-size="7.2" font-family="'Liberation Sans', Arial, sans-serif" font-weight="bold" text-anchor="end" textLength="42.5" lengthAdjust="spacingAndGlyphs" stroke="#000" stroke-width="0.1">Q1-UR(%0,00)</text>
<text x="212.70" y="359.50" font-size="7.2" font-family="'Liberation Sans', Arial, sans-serif" font-weight="bold" textLength="43.5" lengthAdjust="spacingAndGlyphs" stroke="#000" stroke-width="0.1">Q1-LL(%99,88)</text>
<text x="333.90" y="359.50" font-size="7.2" font-family="'Liberation Sans', Arial, sans-serif" font-weight="bold" text-anchor="end" textLength="42.5" lengthAdjust="spacingAndGlyphs" stroke="#000" stroke-width="0.1">Q1-LR(%0,11)</text>
<text x="229.00" y="209.90" font-size="7.2" font-family="'Liberation Sans', Arial, sans-serif" font-weight="bold" textLength="78.0" lengthAdjust="spacingAndGlyphs" stroke="#000" stroke-width="0.1">MCF 7 Vehicle : All Events</text>
<path d="M438.2 305.7h1.3M453.8 283.7h1.3M444.8 293.1h1.3M433.7 303.7h1.3M434 299.6h1.3M417 320.3h1.3M427.2 318.4h1.3M423.5 310.9h1.3M421 319.9h1.3M434.5 304h1.3M429.3 318.5h1.3M443.4 292.6h1.3M429.3 314.3h1.3M420.4 314.3h1.3M443 300.5h1.3M423.8 317.8h1.3M414 323.5h1.3M426.6 316.5h1.3M444.8 293.7h1.3M413 320h1.3M422.2 316.8h1.3M441.8 299.8h1.3M424.1 307.6h1.3M423.8 321.3h1.3M428.9 311.7h1.3M422.8 318.3h1.3M440.1 300h1.3M434.6 290.6h1.3M436.9 306.6h1.3M445.2 300.1h1.3M427.1 307.2h1.3M432.8 308.6h1.3M427.8 309.1h1.3M417.5 319.1h1.3M440 289.2h1.3M447 295.6h1.3M439.8 299.9h1.3M449.6 290.2h1.3M444.4 292.3h1.3M444.8 296.4h1.3M435.5 302.7h1.3M436.1 304.7h1.3M434.1 307.6h1.3M436.9 293.9h1.3M426.9 307.4h1.3M445.7 296.1h1.3M453.6 291.4h1.3M434.8 304.6h1.3M426.4 320.1h1.3M429.5 310.8h1.3M441.3 301.1h1.3M417 317.6h1.3M408.1 325.3h1.3M426.4 317.8h1.3M438.9 297.6h1.3M438.3 301.7h1.3M439 298.8h1.3M430.6 317.8h1.3M434.6 296.8h1.3M438.9 288.6h1.3M437.4 303.4h1.3M435.3 305.7h1.3M437.5 295.8h1.3M429.4 299.2h1.3M447.5 290.3h1.3M427.2 312.6h1.3M441 298h1.3M422.5 315.2h1.3M450 293.2h1.3M420.2 321.5h1.3M426.2 318.5h1.3M447.1 294.3h1.3M462.5 272.6h1.3M462.1 263.7h1.3M472.5 251.4h1.3M451.8 272.2h1.3M469.4 254.8h1.3M459.8 268.3h1.3M446.5 283.7h1.3M470.5 251.6h1.3M474.4 266.3h1.3M459.3 271.6h1.3M465.7 277.2h1.3M469.3 266h1.3M461.8 274.1h1.3M464.6 272.5h1.3M478.9 263.2h1.3M449.9 290.4h1.3M477.1 257.1h1.3M466.8 266.5h1.3M460.8 268.8h1.3M452.9 291h1.3M466.6 264.5h1.3M456.1 273.5h1.3M475.5 270.1h1.3M445.5 283.3h1.3M477.3 256.9h1.3M433.8 283.1h1.3M464.5 259.6h1.3M460.3 265.2h1.3M447.7 312h1.3M459.2 266.1h1.3M438.9 286.6h1.3M463.9 278.1h1.3M464.3 296h1.3M475.8 263.1h1.3M472.7 269.7h1.3M481.2 267.4h1.3M466.5 246.5h1.3M456.3 299h1.3M460 274.9h1.3M442.4 282.4h1.3M472.2 248.9h1.3M458.1 269.2h1.3M446.8 292.1h1.3M452.7 261h1.3M464.3 265.8h1.3M469.7 252.1h1.3M425 315.8h1.3M433.2 308.7h1.3M427.7 312.1h1.3M435.6 313.5h1.3M423.1 314h1.3M416.6 319.3h1.3M418 317.1h1.3M429.4 306.1h1.3M430.1 307.2h1.3M422.9 317.3h1.3M425.3 313.8h1.3M426.9 316.3h1.3M422 317.4h1.3M421.6 318.5h1.3M440.5 308.6h1.3M420.4 313.3h1.3M433.5 318.9h1.3M438.9 305.5h1.3M423.9 311.1h1.3M418.7 319.4h1.3M419.7 317.1h1.3M428.7 298.5h1.3M432.5 308.2h1.3M428.8 306.8h1.3M426.4 312.9h1.3M430.7 316.3h1.3M437.6 312.1h1.3M419.9 308.8h1.3M433 318.1h1.3M440 310.8h1.3M422.5 311.6h1.3M424.1 321.2h1.3M418.3 315.2h1.3M420.8 313.6h1.3M427 316.2h1.3M429.9 309.8h1.3M436.6 297.9h1.3M441.7 304h1.3M430.8 304.2h1.3M434 303.8h1.3M426.9 314.6h1.3M430.4 302.5h1.3M429.7 312.4h1.3M434.4 309.6h1.3M427.9 320.2h1.3M426.1 316.1h1.3M429.5 307.9h1.3M435.7 315.4h1.3M425.1 315.5h1.3M421.9 311.8h1.3M424.6 319.6h1.3M436.4 306.8h1.3M431.4 307.7h1.3M434.4 312.8h1.3M422.3 315.5h1.3M418.2 322h1.3M431.3 315.9h1.3M423.9 336.9h1.3M429.1 344.7h1.3M401.6 341.9h1.3M408.7 341.3h1.3M399.6 343.1h1.3M397.6 358.8h1.3M386.1 341.1h1.3M431.7 341h1.3M376.2 359.4h1.3M415.5 357.8h1.3M395.2 344.2h1.3M393 353.3h1.3M387.4 342.2h1.3M412.3 346.5h1.3M412.1 339.4h1.3M395.3 350.9h1.3M395.5 330.5h1.3M421.3 325.3h1.3M388.1 348.3h1.3M410.2 335.6h1.3M414 338.2h1.3M388.1 328.5h1.3M426.9 347h1.3M392.6 327.6h1.3M384.4 348.9h1.3M401.4 344.1h1.3M421.3 324.2h1.3M425.8 343.6h1.3M405.3 325.7h1.3M387.5 327.5h1.3M405.4 340.6h1.3M405.5 341.8h1.3M409.6 350.9h1.3M394.8 338.7h1.3M380.2 356.3h1.3M375.8 346h1.3M391.5 342.9h1.3M409.2 343.2h1.3M431.4 337h1.3M400 333.1h1.3M395.4 340.4h1.3M409.1 334.5h1.3M388.4 343.1h1.3M401 333h1.3M416.4 343.7h1.3M420.2 345.1h1.3M399.4 341.7h1.3M400 347h1.3M408.4 335.5h1.3M450.3 332.7h1.3M417 350.6h1.3M403.3 326.1h1.3M399.9 338.8h1.3M392.4 326.4h1.3M387.4 343.9h1.3M434.7 337.8h1.3M422.2 328.9h1.3M432.3 338.4h1.3M406.2 342.8h1.3M377 347.8h1.3M428 342.2h1.3M393.2 337.9h1.3M427.1 353.8h1.3M425.2 340.8h1.3M403.3 329.2h1.3M407.4 352.6h1.3M384.4 343.6h1.3M412.8 352.9h1.3M399.5 338.2h1.3M410.4 335.4h1.3M411.9 347.1h1.3M408.9 333h1.3M389.8 352.1h1.3M415.8 336h1.3M409.8 353.2h1.3M387.1 353h1.3M391.6 356.2h1.3M387.3 356.9h1.3M396 349.1h1.3M392.8 352.3h1.3M392.6 357.3h1.3M380.9 354.4h1.3M405.9 350.5h1.3M385.7 357.2h1.3M401.9 347.5h1.3M388.3 361.7h1.3M397.6 347.5h1.3M400.4 348h1.3M393.9 347.7h1.3M397.9 346.2h1.3M383.6 341.1h1.3M379.4 350.4h1.3M392.9 350h1.3M405.7 351.6h1.3M377.7 353.7h1.3M389 357.3h1.3M410.8 348.5h1.3M477.6 286h1.3M459.7 323.4h1.3M465.3 307.6h1.3M453.4 340.1h1.3M442.3 297.8h1.3M457 316.5h1.3M439.2 322.5h1.3M445 292.6h1.3M438.1 305.6h1.3M448.2 305.6h1.3M477.1 307.8h1.3M449 296h1.3M468.9 321h1.3M440.4 347.7h1.3M446.3 333.5h1.3M471 294.5h1.3M441.3 299.8h1.3M460.4 292.7h1.3M471.3 321.1h1.3M447.8 360.8h1.3M456.2 323.6h1.3M462.1 301.3h1.3M479.8 286.2h1.3M448.4 290.4h1.3M446.2 311.4h1.3M473.3 313.1h1.3M477.4 333.6h1.3M460 299.8h1.3M445 347.7h1.3M449.6 304.6h1.3M435.9 291.7h1.3M449.3 340.4h1.3M452.1 346.5h1.3M449.8 322.5h1.3M433.5 313h1.3M478.6 292.2h1.3M478.5 316.9h1.3M441.5 343.9h1.3M438.4 304.5h1.3M444.3 332.5h1.3M441.6 356.2h1.3M464.1 293.3h1.3M439.1 337.5h1.3M458.2 306.2h1.3M449.5 345h1.3M443.8 328.9h1.3M476.2 240.6h1.3M494.2 239.6h1.3M467.5 235.4h1.3M394.1 309.4h1.3M383 298.8h1.3M383.5 318.5h1.3" stroke="#3b82b0" stroke-width="1.3"/>
<path d="M442.6 288.7h1.3M427.3 316.1h1.3M435.6 298.9h1.3M431.8 309.5h1.3M441.9 294.1h1.3M428.8 322.3h1.3M427.3 308.9h1.3M440.6 296.4h1.3M452 287h1.3M423.7 324.6h1.3M430.3 312.9h1.3M450.2 289h1.3M424.6 315.8h1.3M440.2 300.4h1.3M444.3 286.3h1.3M441.5 293.4h1.3M442.1 302.9h1.3M436.4 296.6h1.3M417.7 323.7h1.3M420.5 316h1.3M450.8 291.6h1.3M428.7 317.5h1.3M449.1 292.9h1.3M447.4 284.5h1.3M441.2 282.3h1.3M425.3 306.8h1.3M424.4 329.7h1.3M439.7 289.7h1.3M445.2 288.7h1.3M453.7 291.6h1.3M438.6 295.9h1.3M436.4 293.4h1.3M448.5 287.6h1.3M449.5 288.5h1.3M429.9 318.1h1.3M434.3 310.8h1.3M445.8 282.8h1.3M422 317.3h1.3M442.8 294h1.3M447 288.3h1.3M411.5 321.8h1.3M429.6 318.5h1.3M439.3 299.6h1.3M433.1 304.6h1.3M440.8 304.9h1.3M437.2 299.5h1.3M418.5 324.2h1.3M418.8 318.9h1.3M434.1 305.6h1.3M428.8 311.7h1.3M426.9 318h1.3M430.3 306.5h1.3M424.1 310.4h1.3M411.4 322.1h1.3M433.5 310.9h1.3M436 299.7h1.3M427.4 313.7h1.3M448.7 286.7h1.3M417 321.2h1.3M436 299.2h1.3M443 294.7h1.3M430.5 306.2h1.3M438.7 293.7h1.3M442.9 291.3h1.3M437.8 296.7h1.3M456.1 286h1.3M444.8 288h1.3M423 317.4h1.3M412.5 323.2h1.3M421.4 324.7h1.3M454 278.6h1.3M469.9 272.8h1.3M466.1 281.3h1.3M455.5 273.6h1.3M475.3 262.2h1.3M459.5 274h1.3M460.8 275h1.3M459.6 273.5h1.3M474 255.9h1.3M445.9 286.4h1.3M464.8 271.9h1.3M461.3 280.7h1.3M459.5 273.5h1.3M460.3 267h1.3M464.6 264.9h1.3M480 254.6h1.3M465.1 258.1h1.3M486.2 257.7h1.3M447.7 275.2h1.3M453.5 273h1.3M455.3 281.4h1.3M450.2 281.5h1.3M477.8 272.8h1.3M471.8 283.9h1.3M453.2 277.4h1.3M464.2 285.2h1.3M468.4 275h1.3M476 267.8h1.3M445.8 280.3h1.3M461.6 261.3h1.3M449.1 293.2h1.3M433.3 313.2h1.3M457.9 271.5h1.3M435.8 301.6h1.3M466.7 248.4h1.3M441 295.3h1.3M436.3 300h1.3M449.6 283.7h1.3M480.9 261.3h1.3M479.6 274h1.3M455.5 285.2h1.3M444 271.1h1.3M450.6 273.1h1.3M444.3 297.4h1.3M461 270.5h1.3M472.7 268.5h1.3M470.8 264.1h1.3M431.8 312.2h1.3M423.5 313.8h1.3M434.9 303h1.3M426.1 312h1.3M437.1 304.3h1.3M432 312.4h1.3M421.9 323.7h1.3M422.6 309.2h1.3M429.4 316.6h1.3M429.1 306.4h1.3M437.9 298.4h1.3M420.1 317.3h1.3M433.1 303.4h1.3M442.1 305.7h1.3M434.9 302.6h1.3M424.3 307.9h1.3M420.3 318.9h1.3M428 320.4h1.3M425.9 311.4h1.3M418.7 322.9h1.3M418.7 322.6h1.3M434.3 298.9h1.3M430 312.8h1.3M422.2 316h1.3M422.9 311.4h1.3M430 311.8h1.3M431.4 311.7h1.3M429.2 317.3h1.3M423.2 316h1.3M429.4 321h1.3M427.2 325h1.3M427.6 317.4h1.3M429.3 313.7h1.3M428.4 306h1.3M427.9 308.7h1.3M434.5 307.7h1.3M421.6 318.9h1.3M430.1 304.8h1.3M431.7 310.7h1.3M434.3 313.6h1.3M422.4 319.9h1.3M424.3 315.3h1.3M417.7 326.4h1.3M434.3 311.5h1.3M435.6 315.8h1.3M422.9 308.8h1.3M432.2 310.8h1.3M439.6 304.3h1.3M433.9 306.1h1.3M441.6 304.4h1.3M430.2 309.8h1.3M433.4 343.5h1.3M403.1 333.5h1.3M425 334.5h1.3M394.6 335.8h1.3M418 347.2h1.3M406.1 347.1h1.3M428 337.5h1.3M422.7 349.5h1.3M378.8 333.2h1.3M414.6 328.2h1.3M375.9 329.7h1.3M392.1 325.1h1.3M397.6 343.1h1.3M395.8 338.3h1.3M410.5 333.2h1.3M385.3 355.8h1.3M391.4 325.8h1.3M405.2 332.1h1.3M392.9 347.7h1.3M431.7 332.9h1.3M398.1 339.6h1.3M414.9 340.1h1.3M377.5 352.1h1.3M415.9 350.4h1.3M381.4 336.6h1.3M424.9 330.2h1.3M407.8 352.5h1.3M421.9 341h1.3M415.7 334.5h1.3M392.6 339.8h1.3M428.7 343.2h1.3M404.6 341.6h1.3M407.1 348h1.3M380.9 335.4h1.3M425.3 341.2h1.3M402.9 338h1.3M416.5 350h1.3M389.7 341.2h1.3M401.2 357.4h1.3M405.4 341.6h1.3M389.7 338.1h1.3M398 351.9h1.3M408.2 339.7h1.3M397.8 347.9h1.3M403.4 332.2h1.3M400.8 337.6h1.3M419.5 338.7h1.3M445 330h1.3M396.1 345.1h1.3M401.9 332.2h1.3M428.6 331.8h1.3M385.8 341.5h1.3M396 353.2h1.3M401.4 346.2h1.3M398.6 349.8h1.3M417.7 348.5h1.3M380.7 327.5h1.3M418 328.9h1.3M401.2 323.9h1.3M438.6 354.5h1.3M417.9 356.1h1.3M412.4 340h1.3M422.3 347.7h1.3M423.2 348.7h1.3M385.1 352.5h1.3M382.1 349.5h1.3M406.2 352.7h1.3M377.1 352.5h1.3M378.6 350.6h1.3M395.8 343.3h1.3M409.6 356.9h1.3M382 350.3h1.3M410.1 354.8h1.3M391 348.1h1.3M395.2 346.4h1.3M395 345.3h1.3M387.9 354h1.3M421.2 347.2h1.3M386.2 358.5h1.3M384.3 339.1h1.3M390.9 347.7h1.3M384.6 352.4h1.3M409.1 345.7h1.3M387.8 344.6h1.3M387.9 349.8h1.3M397.9 350.7h1.3M411.5 349.5h1.3M390.7 356.1h1.3M436.4 290.6h1.3M474.5 323.7h1.3M448.6 345h1.3M456.4 287h1.3M471.7 322.9h1.3M475.9 353.1h1.3M442.9 349.9h1.3M450.7 352.9h1.3M478.3 349.2h1.3M465.9 288.9h1.3M435.7 337.8h1.3M442 355.5h1.3M434.9 339.6h1.3M440.4 332.2h1.3M461.4 298.7h1.3M462.1 341.9h1.3M435.3 334.3h1.3M449 340.9h1.3M461.2 307.1h1.3M445.9 304.3h1.3M465.1 335.2h1.3M434.2 349.4h1.3M472.7 247.4h1.3M476.1 236.8h1.3M475.6 229.4h1.3M392.9 303.4h1.3M421.9 294.1h1.3M412.8 312.7h1.3M426.6 325h1.3M402.4 325h1.3M411.2 302.9h1.3M428 316h1.3M398.9 310.4h1.3M385.1 310.6h1.3M396.8 324.9h1.3M400.5 299.4h1.3" stroke="#1d4f80" stroke-width="1.3"/>
<path d="M433.7 311.8h1.3M433.2 303.5h1.3M423.8 319.9h1.3M435.5 304.2h1.3M443.1 290.6h1.3M432.1 304.7h1.3M439.9 300.2h1.3M440.8 309.2h1.3M437.7 299.5h1.3M438.7 297.3h1.3M439.2 308.6h1.3M425.2 313.7h1.3M442.1 304.4h1.3M447 292.4h1.3M413.5 320.7h1.3M435.5 301.6h1.3M444.2 289.1h1.3M444.7 288.4h1.3M415.7 306.5h1.3M416.3 316.8h1.3M421.8 317.2h1.3M430.7 301.1h1.3M424.7 317.6h1.3M440.7 299.3h1.3M413.5 320.5h1.3M430.9 309.3h1.3M425.4 314.1h1.3M421.9 312.4h1.3M424 311.5h1.3M426.8 311.8h1.3M444.5 288.6h1.3M438 298.1h1.3M425.5 308.8h1.3M438.3 300.6h1.3M428.3 305.4h1.3M428.1 308.5h1.3M441 303h1.3M437.3 299.3h1.3M425.9 308.2h1.3M419.4 322.6h1.3M460.7 268h1.3M448.9 277.6h1.3M474.4 255.8h1.3M464.7 279.7h1.3M461.2 271.3h1.3M464.8 259.2h1.3M448 273.4h1.3M461.6 281.6h1.3M475.8 264.3h1.3M476.7 256.2h1.3M453.4 284.5h1.3M444.1 281.8h1.3M470.4 251.9h1.3M468.5 266.6h1.3M469.4 236.6h1.3M453.5 266.2h1.3M449.7 311.2h1.3M445.2 293.4h1.3M457.1 283.9h1.3M445.4 262.5h1.3M446 306.8h1.3M471 282.7h1.3M427.3 301h1.3M458.9 281.6h1.3M434 309.9h1.3M486.9 255.5h1.3M457.7 273.1h1.3M430.7 299.5h1.3M467.9 271.3h1.3M459.2 284.2h1.3M422.9 316.8h1.3M429.2 312.5h1.3M437.7 305.9h1.3M415.7 319.1h1.3M430.8 303.5h1.3M430 304.4h1.3M429.6 307.8h1.3M422.1 310.1h1.3M427.7 310.5h1.3M428.4 305h1.3M438.6 312.8h1.3M434.6 307.4h1.3M423.7 315.6h1.3M424.1 311.1h1.3M421.4 319.5h1.3M427.7 314.3h1.3M420.4 318.3h1.3M424.5 319h1.3M435.2 316h1.3M430.8 297h1.3M424.5 312.2h1.3M423.5 309.5h1.3M424.6 301.3h1.3M428.6 315.2h1.3M428 307.4h1.3M420.2 311.8h1.3M420.8 313.5h1.3M431.2 312.1h1.3M430.8 311.5h1.3M423 316.4h1.3M431.9 300.4h1.3M439.5 306.4h1.3M384.2 338.3h1.3M404.2 337.5h1.3M442.4 342.1h1.3M405.3 335.7h1.3M405.3 334.2h1.3M402.1 326.5h1.3M402.6 332h1.3M396.6 338.1h1.3M385.2 337.8h1.3M444.4 329.7h1.3M376.1 357h1.3M415.5 342.4h1.3M411.3 333.1h1.3M397.3 334h1.3M419.5 344.1h1.3M397.8 344.1h1.3M429.9 331.1h1.3M394.1 331.4h1.3M384.2 338.4h1.3M395.6 338.9h1.3M404.5 345.7h1.3M406.7 330.2h1.3M409.3 354.4h1.3M406 344.7h1.3M422.9 326.3h1.3M399.3 341.9h1.3M391.3 355.3h1.3M417.1 359.9h1.3M400.1 339h1.3M395.8 337.8h1.3M383.1 358.7h1.3M392.8 342.3h1.3M397 347.7h1.3M400 358.1h1.3M410.9 338.1h1.3M394.3 340.1h1.3M419.3 331h1.3M424.9 337.4h1.3M405.5 326.3h1.3M428.9 345h1.3M396.6 338.2h1.3M413.6 343h1.3M409.4 344.6h1.3M388.3 330h1.3M420.6 329h1.3M432.5 331h1.3M384.6 346.4h1.3M443.4 350.4h1.3M414.7 332.4h1.3M388.2 350.7h1.3M378 359.5h1.3M401.1 348.3h1.3M409.1 353.7h1.3M387.9 352.4h1.3M382.2 349.3h1.3M397 347.5h1.3M376.2 359.3h1.3M398 355.1h1.3M419.5 351.6h1.3M391 360.5h1.3M376.8 341.9h1.3M400.3 354.2h1.3M388.1 349h1.3M396 355.6h1.3M412.3 343.8h1.3M404.5 347.1h1.3M400.3 346.9h1.3M390.9 348.8h1.3M390.3 344.5h1.3M379.6 359.5h1.3M412.7 352.6h1.3M394.4 341.2h1.3M394.3 353.8h1.3M459.6 332.6h1.3M437.8 337.8h1.3M457.6 339.7h1.3M440.3 344.8h1.3M441.6 343.2h1.3M447.7 311.2h1.3M437 348.2h1.3M448.9 309.7h1.3M472 292.6h1.3M458.6 322.3h1.3M463.5 302.4h1.3M473.3 320.8h1.3M466.8 310.3h1.3M444 289.7h1.3M437 299.3h1.3M439.5 307.2h1.3M467.9 330.9h1.3M463.4 310h1.3M488.8 248.5h1.3M402 316.5h1.3M394.3 295.1h1.3M424.7 303.8h1.3M417.6 315h1.3M403.4 326.6h1.3" stroke="#62a8c8" stroke-width="1.3"/>
<path d="M444.3 288h1.3M421 320.2h1.3M444.9 300.4h1.3M445.1 294.4h1.3M442 283.8h1.3M441.3 294h1.3M427 317.7h1.3M431.8 312.7h1.3M422.3 310.7h1.3M422.6 323.2h1.3M438.2 294h1.3M444.1 297.8h1.3M437.3 311.3h1.3M443 293.9h1.3M435 304.6h1.3M442.8 288.5h1.3M423.4 315.4h1.3M415.7 320.6h1.3M416.4 317.8h1.3M420 308.4h1.3M446.8 295.9h1.3M430.7 315h1.3M422.9 317.1h1.3M428 315.2h1.3M444.2 292.5h1.3M421.5 317.5h1.3M436.7 298.5h1.3M445 291.7h1.3M446.9 292.4h1.3M427.3 313.6h1.3M421.9 322h1.3M417.9 323.7h1.3M419.3 326.7h1.3M434.7 305.4h1.3M447.4 287.9h1.3M423.1 322.3h1.3M450.5 285.2h1.3M444.3 293.3h1.3M428.7 304.8h1.3M433.3 306h1.3M441.1 291.6h1.3M444.1 301.7h1.3M428.6 307.6h1.3M428.9 307.4h1.3M441.6 297.8h1.3M434.4 308.3h1.3M431.1 312.2h1.3M432.1 303.8h1.3M429.3 300.6h1.3M428.8 313h1.3M426 312.1h1.3M451.7 289.8h1.3M426.8 309.7h1.3M447 287.5h1.3M445 292.9h1.3M444.5 287.3h1.3M428.2 310h1.3M419.2 316.5h1.3M452.8 288.1h1.3M437.4 297.9h1.3M466.4 282.9h1.3M473.5 268.2h1.3M455.6 282.8h1.3M459.7 272.9h1.3M476.3 253.6h1.3M463.2 273.5h1.3M462.2 272.3h1.3M483.1 254.6h1.3M461.3 276.8h1.3M461.8 287.7h1.3M459.8 282.6h1.3M469.6 268h1.3M477.7 250.3h1.3M466 260.3h1.3M476.9 257.3h1.3M468.2 257.7h1.3M476.9 251.9h1.3M477.2 252.7h1.3M464.3 256.1h1.3M453.1 284.3h1.3M474.7 264.4h1.3M473.1 265.9h1.3M467.3 261.7h1.3M451 279.3h1.3M461.8 268.2h1.3M471.5 260.6h1.3M462.4 266.6h1.3M446.3 280.6h1.3M450.7 278.2h1.3M452.4 268.5h1.3M448 300.1h1.3M463.6 267.2h1.3M459.8 263.9h1.3M451.8 293h1.3M467.8 283.2h1.3M465.7 271.7h1.3M453.5 297.3h1.3M453.5 286.1h1.3M478 248.2h1.3M439.9 280.6h1.3M467 266.9h1.3M480.5 254h1.3M455.3 268.6h1.3M465.1 266.1h1.3M474.9 256.1h1.3M424 283.7h1.3M467.1 281.4h1.3M462.4 276.3h1.3M455.5 277.5h1.3M423 319.5h1.3M438.9 309.1h1.3M427.9 314.9h1.3M427.9 313.1h1.3M433.2 313.1h1.3M437.8 307.7h1.3M436.3 313.1h1.3M421.5 308.3h1.3M429.2 319.4h1.3M436.6 308.7h1.3M422.8 306.6h1.3M427.1 310.9h1.3M425.4 318.8h1.3M426.1 316.3h1.3M421.9 311.5h1.3M431.1 322h1.3M416.7 319.6h1.3M437.6 312.6h1.3M429 310.9h1.3M438.2 312.6h1.3M420.2 313.2h1.3M422.1 315.1h1.3M428.5 307.7h1.3M433.8 310h1.3M415 322.1h1.3M421.3 316.7h1.3M419.8 313.4h1.3M422.5 319.1h1.3M435.9 307.2h1.3M427.9 323.2h1.3M414.4 328.2h1.3M422.7 312h1.3M432.3 308.7h1.3M438.3 304.6h1.3M429.2 321.2h1.3M419.8 322h1.3M429.3 307.4h1.3M417.3 320h1.3M427.5 316.2h1.3M432.7 306.9h1.3M427.8 312.4h1.3M431.9 303.4h1.3M424.5 315.5h1.3M401.5 333.1h1.3M399.4 354.7h1.3M384.5 353.2h1.3M411.5 358.2h1.3M411.2 327.9h1.3M399.8 330h1.3M406.7 343.6h1.3M386.4 350.5h1.3M415.9 342.8h1.3M378.5 356.4h1.3M430.9 348.7h1.3M393 341.9h1.3M392.3 335.7h1.3M390.7 333.4h1.3M398.2 346.3h1.3M390.5 345.3h1.3M390.1 344h1.3M413.8 318.5h1.3M393.5 328.1h1.3M407.6 348.5h1.3M411.9 341.1h1.3M443.6 339.8h1.3M391.1 351.2h1.3M407.3 355.4h1.3M410 339h1.3M406.3 318h1.3M413.3 324.9h1.3M417.7 335.7h1.3M395.4 333.7h1.3M391.8 349.1h1.3M393.9 334.4h1.3M395.3 346.6h1.3M409.3 356.9h1.3M392.7 346.9h1.3M412.9 358h1.3M386 335h1.3M388.7 353.2h1.3M381.6 341.5h1.3M412.8 351.2h1.3M403.3 329.4h1.3M404.4 332.7h1.3M438.2 342.3h1.3M387.2 351.9h1.3M409.3 339h1.3M414 330h1.3M406.3 330.7h1.3M390.1 351.9h1.3M400.7 350.8h1.3M387.7 343.5h1.3M416.1 338h1.3M423.7 338h1.3M392.3 334.5h1.3M400.5 341.4h1.3M414.3 351.1h1.3M405.2 339.5h1.3M386.1 328.9h1.3M413.1 347.5h1.3M400 331.5h1.3M405.3 340.1h1.3M415 329.8h1.3M401.4 346.2h1.3M394.1 327.7h1.3M401.2 325.8h1.3M419.5 345.9h1.3M417.1 360.6h1.3M390.8 358.7h1.3M409.7 332.7h1.3M422.7 342.1h1.3M405 337.7h1.3M409.6 333.2h1.3M393.9 341.1h1.3M426.3 356.4h1.3M401.4 343.4h1.3M421.6 337.7h1.3M409.1 345.4h1.3M392.7 355.1h1.3M385.7 348.4h1.3M403.6 326.7h1.3M382.6 333.1h1.3M415.5 337.5h1.3M381.4 341.2h1.3M408.2 345.2h1.3M376 342.6h1.3M417.8 344h1.3M380.3 357.9h1.3M396.2 351.8h1.3M402.4 348.2h1.3M385.1 354.2h1.3M394.8 345.1h1.3M400.5 347.9h1.3M394.1 339.9h1.3M376.2 348.3h1.3M395 350.9h1.3M394 357.3h1.3M410.8 345.5h1.3M397 346.3h1.3M396.8 358.6h1.3M413.6 336.2h1.3M390.7 349h1.3M403.6 349.2h1.3M467.1 317.1h1.3M438.2 324.3h1.3M472.3 321.7h1.3M447.5 357h1.3M450.1 304.7h1.3M433.7 348.2h1.3M450.3 355.8h1.3M448.7 358.1h1.3M433.8 300.8h1.3M444.2 361.3h1.3M472.6 307.2h1.3M456.2 342.9h1.3M444.7 345.6h1.3M453.4 306.5h1.3M460 292h1.3M474.8 340.9h1.3M463.6 343.2h1.3M479.3 360.6h1.3M441.5 346.2h1.3M445.5 334.3h1.3M476.3 305.2h1.3M462.3 291.6h1.3M439 324.2h1.3M479 306.3h1.3M470.9 293.2h1.3M443.6 312h1.3M435.7 309.1h1.3M453.9 355.3h1.3M455.5 334.8h1.3M440.3 315.5h1.3M446.3 320.9h1.3M451.3 326.4h1.3M480.4 247.5h1.3M494.6 242.3h1.3M492.9 246.2h1.3M487.3 238.4h1.3M477.9 247.1h1.3M401.3 294.3h1.3M385.7 308.1h1.3M411.9 307.1h1.3M387.3 319.2h1.3M398.3 296.5h1.3M419.8 298.1h1.3M408.2 311.8h1.3M403.1 315.3h1.3M381.2 312.7h1.3" stroke="#0c1a38" stroke-width="1.3"/>
<path d="M429.4 309h1.3M424.1 320.3h1.3M436.4 300.1h1.3M435.8 301.8h1.3M429.6 312.4h1.3M432.2 304.3h1.3M419.9 322.4h1.3M422.3 316.4h1.3M430.7 306.6h1.3M437.5 306.7h1.3M443 295.3h1.3M438.5 290.8h1.3M422.5 322.4h1.3M414.7 323.7h1.3M424.1 320.3h1.3M438.3 298.3h1.3M443.4 292.3h1.3M425 308.2h1.3M461.4 281.7h1.3M477.4 263.9h1.3M454.8 290.9h1.3M479.6 277.5h1.3M469.9 264.4h1.3M450.7 269.6h1.3M460 267.6h1.3M474.6 270.5h1.3M425.5 311.6h1.3M426.5 320.7h1.3M428.4 316h1.3M435.4 312.9h1.3M425.9 313.4h1.3M427.5 309.7h1.3M427.8 320h1.3M427.4 307.1h1.3M424.6 314.6h1.3M423.4 322.3h1.3M431.8 310.4h1.3M424.1 326h1.3M426.3 323.5h1.3M420.9 319.2h1.3M426 317.9h1.3M434.9 313.8h1.3M428.9 304.3h1.3M431.8 330.6h1.3M411.1 324.5h1.3M386.1 351.2h1.3M396.9 339.8h1.3M420 340.9h1.3M403.9 334.8h1.3M391.8 345.8h1.3M394.5 342.5h1.3M411.6 344h1.3M404.5 344.3h1.3M393.5 339.9h1.3M430.7 336.7h1.3M395.7 336.7h1.3M408.2 345.1h1.3M388.2 337.3h1.3M426.3 339.2h1.3M400.4 348.6h1.3M409 334.4h1.3M423.2 340.1h1.3M401.8 339.4h1.3M408.4 351.1h1.3M409.5 344.6h1.3M403.8 348.5h1.3M399.5 351.5h1.3M400.8 357h1.3M407.2 359.9h1.3M394.4 340.2h1.3M389.1 352h1.3M475.4 300.7h1.3M468.7 298.5h1.3M436.5 313.2h1.3M469.2 342.1h1.3M455.5 329.8h1.3M446.6 286.6h1.3M446.5 287h1.3M434.2 295.4h1.3M469.4 307.4h1.3M476.1 331.5h1.3M433.8 338.5h1.3M466.3 352.2h1.3M488.5 231.9h1.3M480.6 239.6h1.3M382.3 311.4h1.3M425.6 295.9h1.3" stroke="#9cc8e0" stroke-width="1.3"/>
<g transform="translate(427.00,313.00) rotate(-45)">
<ellipse rx="7.00" ry="3.20" fill="url(#gcore3)"/>
</g>
<rect x="374.40" y="218.50" width="123.20" height="145.40" fill="none" stroke="#000" stroke-width="1.3"/>
<line x1="431.10" y1="218.50" x2="431.10" y2="363.90" stroke="#000" stroke-width="1.15"/>
<line x1="374.40" y1="248.80" x2="497.60" y2="248.80" stroke="#000" stroke-width="1.15"/>
<path d="M370.8 218.5H374.4M370.8 251.5H374.4M370.8 283.7H374.4M370.8 316.3H374.4M370.8 351.6H374.4M372.2 241.6H374.4M372.2 235.8H374.4M372.2 231.6H374.4M372.2 228.4H374.4M372.2 225.8H374.4M372.2 223.6H374.4M372.2 221.7H374.4M372.2 220H374.4M372.2 274H374.4M372.2 268.3H374.4M372.2 264.3H374.4M372.2 261.2H374.4M372.2 258.6H374.4M372.2 256.5H374.4M372.2 254.6H374.4M372.2 253H374.4M372.2 306.5H374.4M372.2 300.7H374.4M372.2 296.7H374.4M372.2 293.5H374.4M372.2 290.9H374.4M372.2 288.7H374.4M372.2 286.9H374.4M372.2 285.2H374.4M372.2 323.4H374.4M372.2 330.4H374.4M372.2 337.5H374.4M372.2 344.5H374.4M371.4 360.9H374.4M383.9 363.9V367.5M399.2 363.9V367.5M422.9 363.9V367.5M447.4 363.9V367.5M471.4 363.9V367.5M496.6 363.9V367.5M375.9 363.9V366.7M377.4 363.9V366.7M378.9 363.9V366.7M380.4 363.9V366.7M387 363.9V366.5M390 363.9V366.5M393.1 363.9V366.5M396.1 363.9V366.5M406.3 363.9V366.3M410.5 363.9V366.3M413.5 363.9V366.3M415.8 363.9V366.3M417.6 363.9V366.3M419.2 363.9V366.3M420.6 363.9V366.3M421.8 363.9V366.3M430.3 363.9V366.3M434.6 363.9V366.3M437.7 363.9V366.3M440 363.9V366.3M442 363.9V366.3M443.6 363.9V366.3M445 363.9V366.3M446.3 363.9V366.3M454.6 363.9V366.3M458.9 363.9V366.3M461.8 363.9V366.3M464.2 363.9V366.3M466.1 363.9V366.3M467.7 363.9V366.3M469.1 363.9V366.3M470.3 363.9V366.3M479 363.9V366.3M483.4 363.9V366.3M486.6 363.9V366.3M489 363.9V366.3M491 363.9V366.3M492.7 363.9V366.3M494.2 363.9V366.3M495.4 363.9V366.3" stroke="#000" stroke-width="1"/>
<line x1="374.10" y1="364.80" x2="497.60" y2="364.80" stroke="#000" stroke-width="0.9"/>
<line x1="373.50" y1="218.50" x2="373.50" y2="364.50" stroke="#000" stroke-width="0.9"/>
<text x="383.90" y="376.30" font-size="7.0" font-family="'Liberation Sans', Arial, sans-serif" font-weight="bold" text-anchor="middle" stroke="#000" stroke-width="0.1">0</text>
<text x="397.90" y="376.30" font-size="7.0" font-family="'Liberation Sans', Arial, sans-serif" font-weight="bold" text-anchor="middle" textLength="7.2" lengthAdjust="spacingAndGlyphs" stroke="#000" stroke-width="0.1">10</text>
<text x="401.50" y="372.90" font-size="5.0" font-family="'Liberation Sans', Arial, sans-serif" font-weight="bold" stroke="#000" stroke-width="0.15">2</text>
<text x="421.60" y="376.30" font-size="7.0" font-family="'Liberation Sans', Arial, sans-serif" font-weight="bold" text-anchor="middle" textLength="7.2" lengthAdjust="spacingAndGlyphs" stroke="#000" stroke-width="0.1">10</text>
<text x="425.20" y="372.90" font-size="5.0" font-family="'Liberation Sans', Arial, sans-serif" font-weight="bold" stroke="#000" stroke-width="0.15">3</text>
<text x="446.10" y="376.30" font-size="7.0" font-family="'Liberation Sans', Arial, sans-serif" font-weight="bold" text-anchor="middle" textLength="7.2" lengthAdjust="spacingAndGlyphs" stroke="#000" stroke-width="0.1">10</text>
<text x="449.70" y="372.90" font-size="5.0" font-family="'Liberation Sans', Arial, sans-serif" font-weight="bold" stroke="#000" stroke-width="0.15">4</text>
<text x="470.10" y="376.30" font-size="7.0" font-family="'Liberation Sans', Arial, sans-serif" font-weight="bold" text-anchor="middle" textLength="7.2" lengthAdjust="spacingAndGlyphs" stroke="#000" stroke-width="0.1">10</text>
<text x="473.70" y="372.90" font-size="5.0" font-family="'Liberation Sans', Arial, sans-serif" font-weight="bold" stroke="#000" stroke-width="0.15">5</text>
<text x="495.30" y="376.30" font-size="7.0" font-family="'Liberation Sans', Arial, sans-serif" font-weight="bold" text-anchor="middle" textLength="7.2" lengthAdjust="spacingAndGlyphs" stroke="#000" stroke-width="0.1">10</text>
<text x="498.90" y="372.90" font-size="5.0" font-family="'Liberation Sans', Arial, sans-serif" font-weight="bold" stroke="#000" stroke-width="0.15">6</text>
<text transform="translate(368.30,218.70) rotate(-90)" font-size="6.7" font-family="'Liberation Sans', Arial, sans-serif" font-weight="bold" text-anchor="middle" textLength="7.2" lengthAdjust="spacingAndGlyphs" stroke="#000" stroke-width="0.1">10</text>
<text transform="translate(365.90,214.40) rotate(-90)" font-size="5.0" font-family="'Liberation Sans', Arial, sans-serif" font-weight="bold" stroke="#000" stroke-width="0.15">6</text>
<text transform="translate(368.30,251.70) rotate(-90)" font-size="6.7" font-family="'Liberation Sans', Arial, sans-serif" font-weight="bold" text-anchor="middle" textLength="7.2" lengthAdjust="spacingAndGlyphs" stroke="#000" stroke-width="0.1">10</text>
<text transform="translate(365.90,247.40) rotate(-90)" font-size="5.0" font-family="'Liberation Sans', Arial, sans-serif" font-weight="bold" stroke="#000" stroke-width="0.15">5</text>
<text transform="translate(368.30,283.90) rotate(-90)" font-size="6.7" font-family="'Liberation Sans', Arial, sans-serif" font-weight="bold" text-anchor="middle" textLength="7.2" lengthAdjust="spacingAndGlyphs" stroke="#000" stroke-width="0.1">10</text>
<text transform="translate(365.90,279.60) rotate(-90)" font-size="5.0" font-family="'Liberation Sans', Arial, sans-serif" font-weight="bold" stroke="#000" stroke-width="0.15">4</text>
<text transform="translate(368.30,316.50) rotate(-90)" font-size="6.7" font-family="'Liberation Sans', Arial, sans-serif" font-weight="bold" text-anchor="middle" textLength="7.2" lengthAdjust="spacingAndGlyphs" stroke="#000" stroke-width="0.1">10</text>
<text transform="translate(365.90,312.20) rotate(-90)" font-size="5.0" font-family="'Liberation Sans', Arial, sans-serif" font-weight="bold" stroke="#000" stroke-width="0.15">3</text>
<text transform="translate(368.30,351.60) rotate(-90)" font-size="7.0" font-family="'Liberation Sans', Arial, sans-serif" font-weight="bold" text-anchor="middle" stroke="#000" stroke-width="0.1">0</text>
<text transform="translate(360.10,291.20) rotate(-90)" font-size="7.4" font-family="'Liberation Sans', Arial, sans-serif" font-weight="bold" text-anchor="middle" textLength="18" lengthAdjust="spacingAndGlyphs" stroke="#000" stroke-width="0.1">PE-A</text>
<text x="424.30" y="386.00" font-size="7.4" font-family="'Liberation Sans', Arial, sans-serif" font-weight="bold" textLength="20.8" lengthAdjust="spacingAndGlyphs" stroke="#000" stroke-width="0.1">FITC-A</text>
<text x="376.70" y="227.80" font-size="7.2" font-family="'Liberation Sans', Arial, sans-serif" font-weight="bold" textLength="41" lengthAdjust="spacingAndGlyphs" stroke="#000" stroke-width="0.1">Q1-UL(%0,00)</text>
<text x="495.30" y="227.80" font-size="7.2" font-family="'Liberation Sans', Arial, sans-serif" font-weight="bold" text-anchor="end" textLength="42.5" lengthAdjust="spacingAndGlyphs" stroke="#000" stroke-width="0.1">Q1-UR(%0,26)</text>
<text x="376.70" y="359.90" font-size="7.2" font-family="'Liberation Sans', Arial, sans-serif" font-weight="bold" textLength="43.5" lengthAdjust="spacingAndGlyphs" stroke="#000" stroke-width="0.1">Q1-LL(%57,06)</text>
<text x="495.30" y="359.90" font-size="7.2" font-family="'Liberation Sans', Arial, sans-serif" font-weight="bold" text-anchor="end" textLength="42.5" lengthAdjust="spacingAndGlyphs" stroke="#000" stroke-width="0.1">Q1-LR(%42,88)</text>
<text x="377.00" y="213.40" font-size="7.2" font-family="'Liberation Sans', Arial, sans-serif" font-weight="bold" textLength="105.1" lengthAdjust="spacingAndGlyphs" stroke="#000" stroke-width="0.1">MCF-7 CYNARİN 160uM : All Events</text>
<path d="M62.8 517.6h1.3M65.1 527.8h1.3M62.9 516.2h1.3M65.9 525.5h1.3M62.6 532.9h1.3M66 516.6h1.3M60.1 497.7h1.3M68.1 526.4h1.3M61.3 499.4h1.3M69.2 525.4h1.3M67.1 510.5h1.3M66.7 521.7h1.3M64.5 510.6h1.3M59.5 506.8h1.3M62.7 528.9h1.3M65.1 522.4h1.3M67.2 522.6h1.3M58.6 529.6h1.3M66 522h1.3M65.4 517h1.3M66.5 518.2h1.3M65.5 505.5h1.3M62 507.9h1.3M61.6 523.9h1.3M63.6 511.5h1.3M65.6 519.1h1.3M65.5 503.8h1.3M60 536.5h1.3M65.9 515.7h1.3M68.1 520.8h1.3M66.9 525.1h1.3M64.2 514.5h1.3M67.7 534h1.3M68.2 537.2h1.3M63.8 510.6h1.3M66.3 531.5h1.3M66.8 511.7h1.3M71.1 522.6h1.3M61.9 533.3h1.3M64 531.1h1.3M60.5 536.4h1.3M63.7 532.7h1.3M63.3 530.9h1.3M65.8 529.4h1.3M68.3 531.3h1.3M64.3 530.9h1.3M69 523.3h1.3M61.2 533.9h1.3M67.5 534.4h1.3M67.5 525.8h1.3M65.5 541.8h1.3M61.8 528.9h1.3M62 533.8h1.3M67.6 528.4h1.3M70.6 511.3h1.3M71.4 520.4h1.3M75.8 506.3h1.3M84.5 497.3h1.3M65.1 506.7h1.3M68.8 501.9h1.3M72.5 523.4h1.3M68.2 499.1h1.3M66.4 534h1.3M68.4 506.6h1.3M58.9 513h1.3M75.3 511h1.3M74 513.5h1.3M73.4 504h1.3M75.9 510.6h1.3M78.4 515.2h1.3M66.3 525.1h1.3M69.6 518.3h1.3M90 521h1.3M73 512.8h1.3M75.1 520.8h1.3M74.3 516.5h1.3M81 499.5h1.3M70.3 508.9h1.3M100.2 472.8h1.3M106.8 466.2h1.3M80.9 489.3h1.3M99.8 472.2h1.3M87.8 485.4h1.3M95.1 471.5h1.3M79.9 491.8h1.3M96.6 473.6h1.3M106.7 467.8h1.3M91 480.7h1.3M81.9 490.5h1.3M72.9 489.2h1.3M75 498.8h1.3M90.3 477.1h1.3M79.9 493.1h1.3M79.9 480.7h1.3M67.3 492.3h1.3M100.8 486.4h1.3M73.3 500.1h1.3M80.1 486.4h1.3M74.6 503.7h1.3M81.5 482.3h1.3M83.6 488.3h1.3" stroke="#26339a" stroke-width="1.3"/>
<path d="M66.5 519.2h1.3M63.5 525.1h1.3M64.4 514.8h1.3M70 529.4h1.3M61.9 513.4h1.3M61.3 523.9h1.3M60.8 527.7h1.3M62.8 506h1.3M68.4 514.1h1.3M65.4 516.4h1.3M67.6 521.5h1.3M62.5 532.9h1.3M75.1 509.7h1.3M66.2 509.8h1.3M66.4 510.7h1.3M62.5 520.2h1.3M67.5 514h1.3M70.1 533.8h1.3M64.2 517h1.3M66.5 519.3h1.3M68.3 526.4h1.3M73.3 527h1.3M62 519.5h1.3M64.2 534.9h1.3M63 508h1.3M66.9 517.3h1.3M64.3 517.3h1.3M61.9 525.8h1.3M66.1 515.8h1.3M61.3 531.5h1.3M66.4 522.4h1.3M62.5 517.7h1.3M66.2 515.8h1.3M73.1 525.3h1.3M63.1 512.5h1.3M61.4 522.4h1.3M68.8 521.3h1.3M66.3 536.5h1.3M64.6 524.8h1.3M66.2 515.5h1.3M63.4 535.8h1.3M61 515.9h1.3M64 516.5h1.3M66.9 518.1h1.3M64.7 519.7h1.3M65.6 512.4h1.3M62.5 518.4h1.3M64.8 531.5h1.3M62.3 518.9h1.3M63.3 512.6h1.3M63.5 534.2h1.3M62.8 520.8h1.3M66.8 538.1h1.3M65.3 522.2h1.3M65.5 518.2h1.3M68.5 513.6h1.3M60.5 526.3h1.3M68.3 520.8h1.3M64 527.5h1.3M57.7 530.3h1.3M65.5 522.8h1.3M70.9 509.2h1.3M65.9 520.3h1.3M65.4 503.9h1.3M66 523.1h1.3M65.6 521h1.3M65.5 507.7h1.3M63 528.8h1.3M70.4 517.3h1.3M63.5 507h1.3M70.6 525.1h1.3M70.5 522.6h1.3M62.7 511.8h1.3M63.9 502.2h1.3M63 514h1.3M59.7 521.6h1.3M67.8 517h1.3M63.1 512.1h1.3M68.7 528.5h1.3M59.5 531h1.3M69.5 507.7h1.3M64.8 536.3h1.3M69.3 529.6h1.3M69 512h1.3M66.6 509.1h1.3M70.7 517.9h1.3M69.5 509.7h1.3M64.4 525.6h1.3M68.1 532.6h1.3M66.1 530.7h1.3M59.2 529.5h1.3M66.3 529.7h1.3M70.8 532.6h1.3M63.4 531.9h1.3M64.4 536.7h1.3M63.6 535.2h1.3M67.7 526.4h1.3M65.7 534.6h1.3M66.5 531h1.3M92.5 481.1h1.3M104.5 464.5h1.3M85.3 487.1h1.3M79.7 493.4h1.3M104.2 468.7h1.3M103 467.4h1.3M107.4 470.2h1.3M97.8 473.1h1.3M102.8 472.3h1.3M81.4 488.6h1.3M90.6 483.7h1.3M87.9 481.5h1.3" stroke="#05051a" stroke-width="1.3"/>
<path d="M67.3 516.5h1.3M68.9 528.7h1.3M63.6 509.7h1.3M70.5 513.7h1.3M65.5 507.8h1.3M65.3 508.6h1.3M65.7 514h1.3M66.3 516.7h1.3M68.2 488.8h1.3M64.2 513.2h1.3M59.6 512.8h1.3M65.7 523.6h1.3M68.1 507.4h1.3M62.4 525.7h1.3M70.2 515.2h1.3M69.3 531h1.3M68.6 530.1h1.3M70.1 527.7h1.3M62.8 504.3h1.3M69.1 524h1.3M66.1 519.3h1.3M68.1 520.6h1.3M62.1 514.9h1.3M67.5 508.7h1.3M64.5 524.6h1.3M60.3 514.1h1.3M65.1 518.1h1.3M58.8 530.2h1.3M64.3 517.8h1.3M59 516.8h1.3M66.4 528.1h1.3M69.8 508.2h1.3M62.1 513.8h1.3M60.5 527.7h1.3M70.4 518.9h1.3M60.7 515.5h1.3M66.9 534.7h1.3M65.9 530h1.3M64 514.1h1.3M63.6 524.7h1.3M72.5 497.4h1.3M64.3 524.8h1.3M65.6 525.5h1.3M65 509.9h1.3M65.6 515.4h1.3M64.9 511.9h1.3M67 511.8h1.3M62.5 534.6h1.3M65.1 533.3h1.3M64.7 528.2h1.3M61.7 535h1.3M65.3 538.3h1.3M66.2 536.4h1.3M67.7 526.7h1.3M69.4 530.8h1.3M64.2 527.7h1.3M64.9 528.4h1.3M66.8 528.7h1.3M63 524.3h1.3M65.1 530.8h1.3M63.5 542.9h1.3M105.7 469.1h1.3M92.7 478.5h1.3M102.4 473h1.3M97.5 477h1.3M79.1 495.6h1.3M108.3 469h1.3M79.8 485.4h1.3M102.4 470.7h1.3M93.3 477.1h1.3M85.9 483.9h1.3M105.3 468.5h1.3M86.2 488.4h1.3M93.4 482.4h1.3" stroke="#101040" stroke-width="1.3"/>
<path d="M64.4 527.3h1.3M63.1 519.3h1.3M65.2 532h1.3M68.6 506.9h1.3M65.6 527.1h1.3M60.3 538h1.3M71.9 526.5h1.3M68.6 522.5h1.3M70.1 514.8h1.3M64.3 503.6h1.3M58.1 513.5h1.3M68.6 516.4h1.3M65 514.1h1.3M65.4 515.5h1.3M69.2 497.6h1.3M61.7 512.2h1.3M64.4 520.8h1.3M71.7 529.8h1.3M69.2 520.6h1.3M64.1 530.2h1.3M63.4 523.4h1.3M64.3 510.2h1.3M60.9 521.8h1.3M69.7 517.1h1.3M60.4 534.9h1.3M66.3 514.8h1.3M64.2 519.7h1.3M57.7 534.9h1.3M67.3 526.6h1.3M61.3 508.5h1.3M61.7 533h1.3M65.7 520.2h1.3M59.1 513.9h1.3M65.5 535.8h1.3M65.2 537.5h1.3M62.6 533.3h1.3M58.8 528.9h1.3M86.5 487h1.3M100.1 473.2h1.3M106.1 468.7h1.3M90.5 477.1h1.3M94.1 474.9h1.3M101.6 472h1.3" stroke="#1c2470" stroke-width="1.3"/>
<path d="M61.1 510.2h1.3M69.5 513.1h1.3M65.5 523.9h1.3M66.9 522.5h1.3M65.8 521.2h1.3M67.5 526.1h1.3M65.2 522.7h1.3M68 509h1.3M61.3 525.5h1.3M65.7 529.2h1.3M67.4 527.5h1.3M60.8 533.4h1.3M65.3 518.2h1.3M70.1 505.1h1.3M66.7 522.6h1.3M63.9 509.7h1.3M69.6 517.6h1.3M68.3 524.3h1.3M68.9 509.5h1.3M64.7 518.8h1.3M67.6 500.3h1.3M64.9 527.4h1.3M65 521.6h1.3M58.1 517.1h1.3M61.5 505.6h1.3M68.4 522.2h1.3M66.4 514.6h1.3M63.8 512.1h1.3M66.8 522.8h1.3M63 517.4h1.3M62.7 522.6h1.3M69.7 517.7h1.3M67 520.4h1.3M74.1 513.9h1.3M60.1 526.9h1.3M68.8 514h1.3M63.6 523.6h1.3M60.3 510h1.3M65.4 530.9h1.3M62.9 506.8h1.3M62.6 536.9h1.3M60.6 534.2h1.3M68.8 538.2h1.3M60 532.7h1.3M65.7 529.8h1.3M58.7 527.3h1.3M61.7 526.9h1.3M68.4 531.3h1.3M67.5 530.5h1.3M57.6 531.9h1.3M64.8 532.3h1.3M66.7 529.4h1.3M98.5 468.2h1.3M84.4 485.9h1.3M86.6 486.6h1.3M100.6 472.4h1.3M107.3 466.6h1.3M84 489.6h1.3M109.4 463.4h1.3M96.4 473.6h1.3M87.6 481.9h1.3M87.3 484.5h1.3M100.1 475.8h1.3M87.7 483.3h1.3M87.5 486.3h1.3M105 467.2h1.3M109.6 467h1.3M102.6 471.9h1.3M102.5 471.5h1.3M89.5 483.9h1.3M85.7 485.2h1.3M91.7 476.7h1.3M96.4 475.7h1.3M82.6 487.4h1.3M96 475.6h1.3M99.9 466.3h1.3M97.9 474.6h1.3M68.9 492.1h1.3M72.2 483.7h1.3M88.7 484h1.3M74.8 489.6h1.3M91.4 485.1h1.3M79.8 494.5h1.3M84.3 481.6h1.3M69.8 482.8h1.3M85.9 480.2h1.3M75.9 484.4h1.3M70.7 488.3h1.3M78.7 479h1.3M68.4 501h1.3M71.1 484.2h1.3M79.9 479h1.3" stroke="#0a0a28" stroke-width="1.3"/>
<path d="M68 512.5h1.3M67.2 526.4h1.3M62.9 509.9h1.3M64.3 534.9h1.3M59.4 524.1h1.3M62.8 511.2h1.3M64.5 516.3h1.3M62.8 518.8h1.3M59.5 537.8h1.3M57 511.8h1.3M62.6 510.6h1.3M68.1 525.5h1.3M72 522.8h1.3M67.6 520.7h1.3M61.8 507.1h1.3M66.9 528.1h1.3M64.9 522.6h1.3M63.4 522h1.3M60.7 514.5h1.3M70.3 513h1.3M65.4 525.8h1.3M61.9 522.6h1.3M60 521.3h1.3M64.5 512.2h1.3M62.1 518.1h1.3M62.8 534h1.3M67.1 519.9h1.3M67.5 526.3h1.3M71.8 534h1.3M63.4 522.1h1.3M60.6 517.5h1.3M62.8 518.2h1.3M65.1 521.4h1.3M67 515.7h1.3M67.9 525.9h1.3M64.1 518h1.3M63.7 530.3h1.3M67 529.9h1.3M65.6 527h1.3M65.3 526.1h1.3M66.8 534.7h1.3M64.7 532.3h1.3M62.3 531.6h1.3M66.6 532.3h1.3M70 539.1h1.3M62.7 532.9h1.3M66.6 524.9h1.3M63.8 527.3h1.3M59.4 528.1h1.3M63.6 533.4h1.3M66.4 540.6h1.3M77.2 518.2h1.3M68.5 507.8h1.3M71.8 503.2h1.3M68.7 505.4h1.3M88.5 510.8h1.3M67.7 505.1h1.3M59.4 497.2h1.3M79 502.6h1.3M74 519.1h1.3M68.1 503.2h1.3M77.4 515.2h1.3M63 515.6h1.3M71.4 510.6h1.3M77.1 522.2h1.3M68.1 518.8h1.3M69.3 529.9h1.3M66.4 515.7h1.3M71.2 508.9h1.3M68.2 516.6h1.3M108.3 465.1h1.3M100.7 468.2h1.3M86.2 488.3h1.3M80.4 492.7h1.3M83.9 487.9h1.3M101.4 469.2h1.3M107.1 467h1.3M85 487.9h1.3M102.2 467.4h1.3M97.5 475.6h1.3M104.2 463h1.3M94.3 480.7h1.3M93 476.5h1.3M91.7 477.2h1.3M95.6 480.3h1.3M80.9 487.8h1.3M87.3 487.2h1.3M101.8 472.2h1.3M95.6 475.8h1.3M86.1 482.4h1.3M72.9 482h1.3M74.6 488.3h1.3M65.7 486.8h1.3M87.9 480.9h1.3M76.3 488.9h1.3M68.5 491.4h1.3" stroke="#141a5a" stroke-width="1.3"/>
<path d="M61.7 534.2h1.3M65.2 510.6h1.3M71.2 517.1h1.3M64.7 527.8h1.3M66.5 527.3h1.3M78.9 516.8h1.3M89.1 514.3h1.3M68.3 507.5h1.3M64.4 501.9h1.3M78.1 496.7h1.3M71.3 510.9h1.3M70.7 515h1.3M90.2 509.5h1.3M70.5 519.6h1.3M73.2 510.6h1.3M74.8 505.4h1.3M79 517.5h1.3M65.8 510.5h1.3M76.2 508.6h1.3M71.1 508.4h1.3M77 501.3h1.3M84.1 489.1h1.3M91.9 481h1.3M104.4 464.3h1.3M79.8 473.2h1.3M75.5 478.3h1.3M68.3 486.1h1.3M81.9 488h1.3" stroke="#7080d8" stroke-width="1.3"/>
<path d="M62.1 526h1.3M61.8 514.6h1.3M66.8 519.4h1.3M69.7 532.9h1.3M59.2 522.6h1.3M64.9 528.2h1.3M67 507.2h1.3M60.5 515.5h1.3M60.6 515h1.3M66.4 522.4h1.3M67.2 516.8h1.3M66.9 530.4h1.3M68.1 521.1h1.3M61.5 510h1.3M65.1 525.3h1.3M63.8 530.3h1.3M64.9 535.6h1.3M64.6 533.4h1.3M61.6 536.7h1.3M69.1 535.8h1.3M71.2 530.6h1.3M79.5 512.2h1.3M73.2 513.5h1.3M73.6 528.9h1.3M62.2 513h1.3M73.6 513.2h1.3M72.6 505.3h1.3M75.1 516.7h1.3M86.9 517.4h1.3M79.1 504.6h1.3M70.5 522.3h1.3M70.4 510.5h1.3M70.9 504.1h1.3M72.4 507.6h1.3M76.5 509.1h1.3M67.4 513.6h1.3M67.9 512.3h1.3M71.7 515.9h1.3M79.3 506.1h1.3M70.7 523.1h1.3M75.1 507.4h1.3M97.2 471.4h1.3M83.8 492.9h1.3M106.1 468.1h1.3M97.5 472.7h1.3M81.1 489.7h1.3M105 467h1.3M85.5 484.7h1.3M96.1 475.9h1.3M80.9 484.6h1.3M68 497.2h1.3M77.2 485.9h1.3M65.6 497.7h1.3M71.1 485.5h1.3M64.5 496.1h1.3" stroke="#3a50c0" stroke-width="1.3"/>
<path d="M113 457.7h1.4M120 448.7h1.4M126 439.7h1.4M127 437.7h1.4M132 430.7h1.4" stroke="#05051a" stroke-width="1.4"/>
<path d="M116 452.7h1.4M121 446.7h1.4M144 422.7h1.4M118 455.7h1.4" stroke="#101040" stroke-width="1.4"/>
<path d="M81.5 497.4h1.5M65.2 506.1h1.5M74.8 486.3h1.5M82.1 491.8h1.5M82.4 493.3h1.5M64.4 502h1.5M65.8 496.1h1.5M66.8 503.3h1.5M62.5 504.8h1.5M69.4 489h1.5M81.2 491h1.5M67.6 504.7h1.5M65.5 494.6h1.5M61.4 502.9h1.5M66 491.7h1.5M75.7 486h1.5M68.3 489.1h1.5M83.6 493.8h1.5M79 488.9h1.5M62.1 496.5h1.5M76.8 500.7h1.5M68.9 489.7h1.5M77.1 484.7h1.5M65 496.1h1.5M79.3 501h1.5M65.5 494.6h1.5M78.3 499.3h1.5M73.5 488.7h1.5M76.8 502h1.5M65.2 495.7h1.5M63.2 498.7h1.5M70 489.3h1.5M74.9 505.1h1.5M65.9 490.2h1.5M79.2 488.1h1.5M69.2 490.4h1.5M80.3 486.1h1.5M74.8 502h1.5M80 488.5h1.5M65.4 499.6h1.5M69.8 503.7h1.5M62.6 495.5h1.5M65.9 503.3h1.5M64.3 498.3h1.5M77 484.4h1.5M79.3 498.5h1.5M65.7 490.5h1.5M76 502.3h1.5M72.9 504.7h1.5M69.2 504.9h1.5M80.5 500.5h1.5M82.8 489.5h1.5M83.7 487.2h1.5M79.6 488.9h1.5M79.3 498.2h1.5" stroke="#101040" stroke-width="1.5"/>
<path d="M72.1 487.5h1.5M81 494.8h1.5M65.8 496.2h1.5M72 506.1h1.5M80.7 495.3h1.5M77.3 501h1.5M70.4 503.4h1.5M62.9 495.6h1.5M65.9 503.3h1.5M70.5 503.4h1.5M62.8 504h1.5M78.9 486.7h1.5M72.6 502.9h1.5M65.1 496.7h1.5M66.9 492.8h1.5M66.2 502h1.5M80.8 497h1.5M70.5 506.7h1.5M64.8 506.6h1.5M63.6 498.1h1.5M81.1 493.7h1.5M66.5 490.4h1.5M72.6 488.2h1.5M65 493.6h1.5M83.5 490.9h1.5M76.4 487.8h1.5M80.8 496.4h1.5M72.6 485.8h1.5M79.3 487.3h1.5M68.4 505h1.5M67.2 490.8h1.5M80.3 487.5h1.5M74 488.2h1.5M64.9 498.9h1.5M77.3 501.3h1.5M76.5 504h1.5M67.5 492.5h1.5M62.6 503h1.5M79.2 488.6h1.5M81.3 494.4h1.5M81.2 498.8h1.5M73.1 486.9h1.5M74.7 505.4h1.5M83.2 494.1h1.5M75.6 487.7h1.5M65 500h1.5M66.5 506.6h1.5M83.9 491.8h1.5M77.9 502.9h1.5M80.9 499.2h1.5M75.2 488.2h1.5M82.5 486.8h1.5M74.2 486.9h1.5M66.5 491.8h1.5M63.5 499.8h1.5M81.9 487.8h1.5M70.3 503.8h1.5M62 496h1.5M70.6 506.1h1.5M63.1 504.4h1.5" stroke="#05051a" stroke-width="1.5"/>
<path d="M71 490h1.5M80.6 496.8h1.5M83.8 494.1h1.5M78.3 500.8h1.5M67 493.4h1.5M68.4 492h1.5M68.3 506.6h1.5M77.1 486.8h1.5M78.4 502.8h1.5M61.3 499.4h1.5M64.4 497.1h1.5M81.3 493.5h1.5M70.5 506.3h1.5M79.5 497.9h1.5M74.8 503.4h1.5M67.4 488.8h1.5M72.6 503.8h1.5M77 487.7h1.5M79.6 497.2h1.5M77.2 502.4h1.5M70.2 503.3h1.5M66.8 489.6h1.5M70.5 488.2h1.5M66 504.6h1.5M83.9 493.5h1.5M83.1 487.8h1.5M81.7 491.8h1.5M79.4 499.5h1.5M79.3 499.1h1.5" stroke="#1c2470" stroke-width="1.5"/>
<g transform="translate(73.80,495.80) rotate(-42)">
<ellipse rx="10.75" ry="6.89" fill="#04041a"/>
<ellipse rx="8.70" ry="4.70" fill="#2438b0"/>
<ellipse rx="7.80" ry="4.00" fill="url(#gcore)"/>
</g>
<rect x="55.00" y="399.00" width="125.90" height="148.40" fill="none" stroke="#000" stroke-width="1.3"/>
<line x1="110.90" y1="399.00" x2="110.90" y2="547.40" stroke="#000" stroke-width="1.15"/>
<line x1="55.00" y1="457.00" x2="180.90" y2="457.00" stroke="#000" stroke-width="1.15"/>
<path d="M51.4 399H55M51.4 432.5H55M51.4 464H55M51.4 496.6H55M51.4 534.9H55M52.8 422.4H55M52.8 416.5H55M52.8 412.3H55M52.8 409.1H55M52.8 406.4H55M52.8 404.2H55M52.8 402.2H55M52.8 400.5H55M52.8 454.5H55M52.8 449H55M52.8 445H55M52.8 442H55M52.8 439.5H55M52.8 437.4H55M52.8 435.6H55M52.8 433.9H55M52.8 486.8H55M52.8 481H55M52.8 477H55M52.8 473.8H55M52.8 471.2H55M52.8 469H55M52.8 467.2H55M52.8 465.5H55M52.8 504.3H55M52.8 511.9H55M52.8 519.6H55M52.8 527.2H55M52 544.4H55M64.5 547.4V551M79.8 547.4V551M103.5 547.4V551M128 547.4V551M152 547.4V551M177.2 547.4V551M56.5 547.4V550.2M58 547.4V550.2M59.5 547.4V550.2M61 547.4V550.2M67.6 547.4V550M70.6 547.4V550M73.7 547.4V550M76.7 547.4V550M86.9 547.4V549.8M91.1 547.4V549.8M94.1 547.4V549.8M96.4 547.4V549.8M98.2 547.4V549.8M99.8 547.4V549.8M101.2 547.4V549.8M102.4 547.4V549.8M110.9 547.4V549.8M115.2 547.4V549.8M118.3 547.4V549.8M120.6 547.4V549.8M122.6 547.4V549.8M124.2 547.4V549.8M125.6 547.4V549.8M126.9 547.4V549.8M135.2 547.4V549.8M139.5 547.4V549.8M142.4 547.4V549.8M144.8 547.4V549.8M146.7 547.4V549.8M148.3 547.4V549.8M149.7 547.4V549.8M150.9 547.4V549.8M159.6 547.4V549.8M164 547.4V549.8M167.2 547.4V549.8M169.6 547.4V549.8M171.6 547.4V549.8M173.3 547.4V549.8M174.8 547.4V549.8M176 547.4V549.8" stroke="#000" stroke-width="1"/>
<line x1="54.70" y1="548.30" x2="180.90" y2="548.30" stroke="#000" stroke-width="0.9"/>
<line x1="54.10" y1="399.00" x2="54.10" y2="548.00" stroke="#000" stroke-width="0.9"/>
<text x="64.50" y="559.80" font-size="7.0" font-family="'Liberation Sans', Arial, sans-serif" font-weight="bold" text-anchor="middle" stroke="#000" stroke-width="0.1">0</text>
<text x="78.50" y="559.80" font-size="7.0" font-family="'Liberation Sans', Arial, sans-serif" font-weight="bold" text-anchor="middle" textLength="7.2" lengthAdjust="spacingAndGlyphs" stroke="#000" stroke-width="0.1">10</text>
<text x="82.10" y="556.40" font-size="5.0" font-family="'Liberation Sans', Arial, sans-serif" font-weight="bold" stroke="#000" stroke-width="0.15">2</text>
<text x="102.20" y="559.80" font-size="7.0" font-family="'Liberation Sans', Arial, sans-serif" font-weight="bold" text-anchor="middle" textLength="7.2" lengthAdjust="spacingAndGlyphs" stroke="#000" stroke-width="0.1">10</text>
<text x="105.80" y="556.40" font-size="5.0" font-family="'Liberation Sans', Arial, sans-serif" font-weight="bold" stroke="#000" stroke-width="0.15">3</text>
<text x="126.70" y="559.80" font-size="7.0" font-family="'Liberation Sans', Arial, sans-serif" font-weight="bold" text-anchor="middle" textLength="7.2" lengthAdjust="spacingAndGlyphs" stroke="#000" stroke-width="0.1">10</text>
<text x="130.30" y="556.40" font-size="5.0" font-family="'Liberation Sans', Arial, sans-serif" font-weight="bold" stroke="#000" stroke-width="0.15">4</text>
<text x="150.70" y="559.80" font-size="7.0" font-family="'Liberation Sans', Arial, sans-serif" font-weight="bold" text-anchor="middle" textLength="7.2" lengthAdjust="spacingAndGlyphs" stroke="#000" stroke-width="0.1">10</text>
<text x="154.30" y="556.40" font-size="5.0" font-family="'Liberation Sans', Arial, sans-serif" font-weight="bold" stroke="#000" stroke-width="0.15">5</text>
<text x="175.90" y="559.80" font-size="7.0" font-family="'Liberation Sans', Arial, sans-serif" font-weight="bold" text-anchor="middle" textLength="7.2" lengthAdjust="spacingAndGlyphs" stroke="#000" stroke-width="0.1">10</text>
<text x="179.50" y="556.40" font-size="5.0" font-family="'Liberation Sans', Arial, sans-serif" font-weight="bold" stroke="#000" stroke-width="0.15">6</text>
<g clip-path="url(#clipC1)">
<text transform="translate(48.90,399.20) rotate(-90)" font-size="6.7" font-family="'Liberation Sans', Arial, sans-serif" font-weight="bold" text-anchor="middle" textLength="7.2" lengthAdjust="spacingAndGlyphs" stroke="#000" stroke-width="0.1">10</text>
<text transform="translate(48.90,432.70) rotate(-90)" font-size="6.7" font-family="'Liberation Sans', Arial, sans-serif" font-weight="bold" text-anchor="middle" textLength="7.2" lengthAdjust="spacingAndGlyphs" stroke="#000" stroke-width="0.1">10</text>
<text transform="translate(46.50,428.40) rotate(-90)" font-size="5.0" font-family="'Liberation Sans', Arial, sans-serif" font-weight="bold" stroke="#000" stroke-width="0.15">5</text>
<text transform="translate(48.90,464.20) rotate(-90)" font-size="6.7" font-family="'Liberation Sans', Arial, sans-serif" font-weight="bold" text-anchor="middle" textLength="7.2" lengthAdjust="spacingAndGlyphs" stroke="#000" stroke-width="0.1">10</text>
<text transform="translate(46.50,459.90) rotate(-90)" font-size="5.0" font-family="'Liberation Sans', Arial, sans-serif" font-weight="bold" stroke="#000" stroke-width="0.15">4</text>
<text transform="translate(48.90,496.80) rotate(-90)" font-size="6.7" font-family="'Liberation Sans', Arial, sans-serif" font-weight="bold" text-anchor="middle" textLength="7.2" lengthAdjust="spacingAndGlyphs" stroke="#000" stroke-width="0.1">10</text>
<text transform="translate(46.50,492.50) rotate(-90)" font-size="5.0" font-family="'Liberation Sans', Arial, sans-serif" font-weight="bold" stroke="#000" stroke-width="0.15">3</text>
<text transform="translate(48.90,534.90) rotate(-90)" font-size="7.0" font-family="'Liberation Sans', Arial, sans-serif" font-weight="bold" text-anchor="middle" stroke="#000" stroke-width="0.1">0</text>
</g>
<text transform="translate(40.70,473.50) rotate(-90)" font-size="7.4" font-family="'Liberation Sans', Arial, sans-serif" font-weight="bold" text-anchor="middle" textLength="18" lengthAdjust="spacingAndGlyphs" stroke="#000" stroke-width="0.1">PE-A</text>
<text x="107.50" y="569.60" font-size="7.4" font-family="'Liberation Sans', Arial, sans-serif" font-weight="bold" textLength="20.8" lengthAdjust="spacingAndGlyphs" stroke="#000" stroke-width="0.1">FITC-A</text>
<text x="57.30" y="408.30" font-size="7.2" font-family="'Liberation Sans', Arial, sans-serif" font-weight="bold" textLength="41" lengthAdjust="spacingAndGlyphs" stroke="#000" stroke-width="0.1">Q1-UL(%0,01)</text>
<text x="178.60" y="408.30" font-size="7.2" font-family="'Liberation Sans', Arial, sans-serif" font-weight="bold" text-anchor="end" textLength="42.5" lengthAdjust="spacingAndGlyphs" stroke="#000" stroke-width="0.1">Q1-UR(%0,11)</text>
<text x="57.30" y="543.40" font-size="7.2" font-family="'Liberation Sans', Arial, sans-serif" font-weight="bold" textLength="43.5" lengthAdjust="spacingAndGlyphs" stroke="#000" stroke-width="0.1">Q1-LL(%99,80)</text>
<text x="178.60" y="543.40" font-size="7.2" font-family="'Liberation Sans', Arial, sans-serif" font-weight="bold" text-anchor="end" textLength="42.5" lengthAdjust="spacingAndGlyphs" stroke="#000" stroke-width="0.1">Q1-LR(%0,08)</text>
<path d="M223.8 513.7h1.3M222.2 516.2h1.3M216.8 527.5h1.3M221.8 530.8h1.3M217.6 534.7h1.3M214.5 541.2h1.3M214.6 540.2h1.3M231.7 523.6h1.3M219 502.5h1.3M227.5 518.9h1.3M219.9 511.5h1.3M229.2 511.1h1.3M220.3 516.5h1.3M225.7 509h1.3M226.1 503.9h1.3M234.4 514.7h1.3M220 522.8h1.3M232.1 516h1.3M219.9 521.7h1.3M219 509.7h1.3M227.6 503.8h1.3M226.8 513.4h1.3M240.8 521.7h1.3M264.3 467.7h1.3M241.5 490.2h1.3M236.4 489.5h1.3" stroke="#7080d8" stroke-width="1.3"/>
<path d="M225.1 525h1.3M216.7 528.4h1.3M227.5 518.6h1.3M222.3 534.6h1.3M225.9 514.8h1.3M212.1 517.8h1.3M215.6 525.8h1.3M220.3 521.4h1.3M220.9 524.1h1.3M219 527.4h1.3M214.9 520.3h1.3M222.4 529.6h1.3M221.4 533.6h1.3M218.2 547.8h1.3M221.3 510.8h1.3M221 514.3h1.3M217.2 521.2h1.3M217.1 523.7h1.3M220.6 513.5h1.3M223.4 534.6h1.3M221.4 506.9h1.3M226.5 517.3h1.3M218.1 534.7h1.3M221.1 535.6h1.3M221.7 510.5h1.3M224.7 504.4h1.3M223.7 518.5h1.3M222.1 537.7h1.3M223.6 516.8h1.3M220.1 525.5h1.3M222.6 506.6h1.3M222.5 530.2h1.3M221.7 522.6h1.3M218.6 522.7h1.3M217 513h1.3M220.7 513h1.3M218.1 532.4h1.3M219.9 525.2h1.3M219.1 538.9h1.3M216.1 505.7h1.3M219 508h1.3M222.5 523.8h1.3M218.2 518.3h1.3M219.8 521.7h1.3M222.5 501.4h1.3M219.8 518.3h1.3M217.9 521.8h1.3M218.1 528.4h1.3M226.9 539.6h1.3M222.1 527.3h1.3M220.8 527.9h1.3M216.7 511.7h1.3M214.1 531.5h1.3M220.8 528.4h1.3M220.6 529.6h1.3M217.1 529.9h1.3M220.6 538.8h1.3M215.9 524.2h1.3M217.4 544.9h1.3M219.3 532.6h1.3M218.4 532.9h1.3M221.2 538.8h1.3M213.5 540.3h1.3M222.8 539.5h1.3M217.8 537.1h1.3M219.9 538.5h1.3M221.6 533.1h1.3M213.7 540.7h1.3M220.4 535.5h1.3M261.7 471.2h1.3M264.1 470.3h1.3M246.6 491.8h1.3M255.6 478.3h1.3M259.4 475.5h1.3M249.5 481.2h1.3M260.3 469.2h1.3M262.8 470.7h1.3M241.5 493.8h1.3M256.4 479.2h1.3M259.2 463.5h1.3M255.4 474.7h1.3M254.9 481h1.3M242.6 496.6h1.3" stroke="#101040" stroke-width="1.3"/>
<path d="M219.8 521.6h1.3M220.9 525.4h1.3M214.9 531.5h1.3M220.6 532.6h1.3M218.1 517.3h1.3M219.9 521.4h1.3M211.6 524.2h1.3M218 525.6h1.3M222.5 525.9h1.3M220.7 526.9h1.3M213 511.9h1.3M218.5 512.4h1.3M218 519.7h1.3M218.7 509.7h1.3M215.5 544h1.3M218.9 531.5h1.3M213.3 523.8h1.3M220.1 512.6h1.3M213.3 532.3h1.3M220.3 515.1h1.3M217.9 514.8h1.3M220.2 506.6h1.3M214.7 523.8h1.3M217.2 519.4h1.3M213.7 531.7h1.3M219.8 521.2h1.3M212.4 523.2h1.3M217.9 535.6h1.3M218 539.9h1.3M219.4 539.7h1.3M223.9 542.8h1.3M215 537h1.3M219.1 529.9h1.3M219.9 537.6h1.3M218.7 535.5h1.3M218.6 542h1.3M212.6 545.7h1.3M213.7 533.1h1.3M222.9 542.1h1.3M223 530.3h1.3M225.1 512.6h1.3M226.2 525.5h1.3M226.9 517h1.3M236.7 503h1.3M223.6 523.6h1.3M217.7 513.5h1.3M233.1 518.8h1.3M225.2 523.4h1.3M234.1 516.2h1.3M221 517.2h1.3M228 529.5h1.3M235.3 501.9h1.3M224.8 509.9h1.3M218.5 516.2h1.3M229.6 517.3h1.3M233.6 507.3h1.3M229.3 522.4h1.3M225.8 523.4h1.3M231.6 524.9h1.3M220 516.2h1.3M222.4 499.4h1.3M215.9 512.2h1.3M212.8 520.1h1.3M238.1 513.6h1.3M226.4 515.7h1.3M253.1 484.3h1.3M259.3 473.9h1.3M245.4 490.4h1.3M250.7 485h1.3M260.9 469h1.3M242 495.9h1.3M250 481.8h1.3M243.5 488.3h1.3M259.8 471.5h1.3M242 495.5h1.3M231.3 496.7h1.3M240.8 468.1h1.3M227.4 495.6h1.3M234.5 483.6h1.3M230.3 495.2h1.3M233 495.7h1.3M231.8 491.2h1.3M216.6 494.4h1.3M232.6 491.9h1.3M221.5 498.5h1.3M235.4 480h1.3" stroke="#141a5a" stroke-width="1.3"/>
<path d="M220.7 520.3h1.3M219.3 504.2h1.3M212.1 534.5h1.3M211.3 531.5h1.3M218.8 521.5h1.3M226 510.5h1.3M223.9 499.4h1.3M218.8 519.6h1.3M220.5 517h1.3M225.7 533.8h1.3M217.7 514.3h1.3M220.3 529h1.3M221.9 533.5h1.3M222.2 516.3h1.3M224.3 511.3h1.3M219.2 515.4h1.3M211.8 517.7h1.3M221.9 511.4h1.3M218.4 531.7h1.3M215.4 508.2h1.3M215.6 513.5h1.3M218 528.2h1.3M213.1 531.2h1.3M222 513.8h1.3M214.4 527.3h1.3M222.5 530.3h1.3M222.3 527.8h1.3M212.5 516.7h1.3M224 519.8h1.3M221.7 524.8h1.3M213.1 526.5h1.3M215.1 520.1h1.3M220.8 521.1h1.3M212.6 515.3h1.3M214.7 516.6h1.3M220.4 510h1.3M220.7 522.5h1.3M221.8 516.4h1.3M217.2 522.9h1.3M220.5 499.5h1.3M217.2 507.2h1.3M218.8 490.7h1.3M224 518.3h1.3M220.2 517.9h1.3M216.6 526.3h1.3M218.9 519.9h1.3M222.3 505.1h1.3M224.7 534.2h1.3M221.8 519.2h1.3M225.9 513.8h1.3M220.4 519.4h1.3M222.2 518.6h1.3M218.4 523.2h1.3M214.8 533.9h1.3M220.1 519.5h1.3M218.6 519.6h1.3M222.7 536.7h1.3M216.1 522.2h1.3M221.1 524h1.3M225.3 517.1h1.3M222.5 522.4h1.3M216.7 518.1h1.3M223.3 534.5h1.3M218.6 527.7h1.3M217.9 516.8h1.3M221.6 516.1h1.3M213.9 541.5h1.3M215.6 504.6h1.3M225.7 532.4h1.3M214.2 526.2h1.3M224.9 519.6h1.3M216.5 523.1h1.3M217.6 529.6h1.3M221.8 519.5h1.3M226 534.3h1.3M219.4 534.1h1.3M216.3 507.6h1.3M215.9 517.9h1.3M220.9 529.3h1.3M217 522.8h1.3M218.2 505.7h1.3M223.3 536.1h1.3M222.7 526.9h1.3M219.9 530.4h1.3M216.1 543.1h1.3M221.6 536h1.3M216.8 535.6h1.3M212.1 536.5h1.3M214 535.8h1.3M216.6 538.2h1.3M220.6 546h1.3M220.9 532.5h1.3M216.5 540.5h1.3M217.3 545.8h1.3M216.7 542.6h1.3M218.4 538.6h1.3M220 535.1h1.3M219.4 539.5h1.3M219.4 539.9h1.3M216 538.7h1.3M219.4 532.3h1.3M218.8 542.1h1.3M215 536.3h1.3M220.6 535h1.3M251.7 483.6h1.3M241.8 490h1.3M252.9 476h1.3M245.6 493.6h1.3M245.9 490.7h1.3M263.9 470.8h1.3M248 493.9h1.3M251 483.3h1.3M239.4 494.1h1.3M259.2 472.6h1.3M253.2 479.5h1.3M242.5 490.5h1.3M257.2 471.9h1.3M244.3 489.4h1.3M241.4 494.9h1.3M255.2 480.9h1.3M240.1 491.7h1.3M249.4 489.9h1.3" stroke="#05051a" stroke-width="1.3"/>
<path d="M221 524.6h1.3M222.2 527.2h1.3M217.5 529.9h1.3M216.6 507.2h1.3M221.3 534.7h1.3M224 523.7h1.3M224.9 516.2h1.3M219 523.8h1.3M215.9 521h1.3M221.5 533.5h1.3M211.1 519.6h1.3M223.6 512.6h1.3M223 526.6h1.3M216.6 533.3h1.3M218.2 541.6h1.3M220.8 521.6h1.3M224 523.4h1.3M220.6 516.7h1.3M223.2 527.9h1.3M221.3 509.5h1.3M215.4 506.2h1.3M221.6 536.2h1.3M220.5 518.9h1.3M218.2 531.1h1.3M212.7 517.6h1.3M221.5 531.3h1.3M220.3 512.3h1.3M225.5 502.6h1.3M216.2 535.1h1.3M214.6 520.7h1.3M216.2 528.3h1.3M221.9 539h1.3M219 535.8h1.3M218.9 535.2h1.3M221.3 540.7h1.3M218.1 531.7h1.3M213.2 538.8h1.3M225 537.6h1.3M216.1 542.1h1.3M218.5 536h1.3M219.9 541.3h1.3M216.8 537.4h1.3M232 518.7h1.3M223.3 525.3h1.3M222.6 513.6h1.3M227.4 523.6h1.3M227.8 529.7h1.3M228.5 506.9h1.3M231.2 518.9h1.3M225.7 514.9h1.3M224.2 499h1.3M227.4 524.9h1.3M230.8 523.2h1.3M233.7 502.2h1.3M214.8 514.2h1.3M222.4 520.1h1.3M223 525.2h1.3M228.7 501.1h1.3M241.6 515.1h1.3M222.8 504.8h1.3M262.1 473.7h1.3M256 478.7h1.3M238.9 496h1.3M242.2 488.6h1.3M254.4 486.7h1.3M257.3 473.9h1.3M252 481.3h1.3M259.2 475.3h1.3M261.6 473h1.3M259.2 472.4h1.3M254 471.9h1.3M254.5 487.3h1.3M254.5 480.7h1.3M242.4 496h1.3M243.4 494.4h1.3M242.1 477.5h1.3M230.6 487.4h1.3M229.9 484h1.3M236.7 485.5h1.3M225.4 489.6h1.3M219.9 493.1h1.3M225.4 488.2h1.3M237.5 484.1h1.3M219.4 499.2h1.3M221.9 492.7h1.3M224.2 493.3h1.3M235.6 491.1h1.3" stroke="#26339a" stroke-width="1.3"/>
<path d="M216.8 530.8h1.3M220.3 507.9h1.3M219.7 518.2h1.3M224.8 510.8h1.3M219.5 526.7h1.3M214.7 522.7h1.3M217.1 512.6h1.3M220.3 520.1h1.3M215.1 524.8h1.3M220.7 518.3h1.3M215.5 523.5h1.3M223.6 508.8h1.3M219.1 519.7h1.3M217.9 515.3h1.3M219 524.2h1.3M214.1 532h1.3M223.3 516h1.3M218.8 509.9h1.3M216.8 511.1h1.3M218.8 523.6h1.3M213 539.7h1.3M217.4 517.2h1.3M219.4 524.3h1.3M224.1 536h1.3M220.1 513.6h1.3M216.7 522.2h1.3M223.9 525.7h1.3M211 507.6h1.3M220.7 512.9h1.3M214.8 513.7h1.3M218.8 516.3h1.3M220.9 526.6h1.3M217.9 537.1h1.3M221.1 533.3h1.3M216.3 536.2h1.3M222.2 538.9h1.3M218.4 529.1h1.3M218.6 537.9h1.3M216.6 535.2h1.3M220.2 540.7h1.3M253.3 477.6h1.3M252.4 477.6h1.3M247.2 482.8h1.3M238.4 496h1.3" stroke="#1c2470" stroke-width="1.3"/>
<path d="M220 530.8h1.3M218 517.2h1.3M222.8 515.9h1.3M220.4 539.5h1.3M212.4 520.6h1.3M217.2 512.5h1.3M214.9 501.7h1.3M219.5 508.9h1.3M222.7 517.7h1.3M225.3 509.6h1.3M219.9 530.6h1.3M227.7 527.1h1.3M214.7 510.8h1.3M217.2 539.4h1.3M219.4 540.2h1.3M214.8 540h1.3M211.3 535.3h1.3M232.5 526.8h1.3M235.5 522.1h1.3M225.6 520.9h1.3M235.4 520.7h1.3M240.1 515.9h1.3M232.9 501.9h1.3M219.8 514.8h1.3M224.9 510.6h1.3M229.8 518.3h1.3M231.5 502.2h1.3M228.9 512.8h1.3M225.6 509.8h1.3M227.2 508.5h1.3M214.7 512.7h1.3M227.2 531.7h1.3M221.2 505.6h1.3M211.6 518h1.3M222.1 526.2h1.3M237.5 529h1.3M226.2 507.6h1.3M251.3 486.2h1.3M260.8 474.7h1.3M260.2 473.5h1.3M259.2 472.1h1.3M233.3 490.7h1.3M239.1 483.9h1.3M229.7 498.2h1.3M240.7 480h1.3M226.9 496.4h1.3M238.5 477.4h1.3M227.6 498.2h1.3M233.9 485.9h1.3M235.8 485.9h1.3M233 491.4h1.3" stroke="#3a50c0" stroke-width="1.3"/>
<path d="M221.8 509.2h1.3M219.8 516.5h1.3M217.7 534.9h1.3M217.5 498.5h1.3M215.8 520.6h1.3M219.5 523.8h1.3M216.7 506.5h1.3M218.7 516.1h1.3M221.2 526h1.3M216.6 541.4h1.3M215.4 527.8h1.3M220.6 533.1h1.3M221.5 534.5h1.3M218.5 523.3h1.3M221.1 520.6h1.3M217.3 522.7h1.3M217.1 520.9h1.3M220.5 532.6h1.3M218.3 546.4h1.3M212.6 542.7h1.3M226 498.2h1.3M214.3 537.5h1.3M218.7 514.4h1.3M221.8 507.8h1.3M215.6 524h1.3M222.8 536h1.3M217.8 531.3h1.3M224.7 514.8h1.3M225 522h1.3M221.3 531.7h1.3M215.3 520.2h1.3M219.3 531.3h1.3M224.2 509.6h1.3M214.7 491.4h1.3M214.6 514.7h1.3M213.6 534.2h1.3M219.1 516.3h1.3M221.9 524h1.3M215.3 547.8h1.3M219.2 518.9h1.3M219.3 534.8h1.3M222.1 510.3h1.3M218.5 514.8h1.3M217.6 536.6h1.3M220.2 538.6h1.3M215.6 529.9h1.3M211.8 541.4h1.3M222 537.9h1.3M216.7 536.2h1.3M224.7 535.2h1.3M215.4 538.2h1.3M218.4 535.4h1.3M223 535.8h1.3M262.9 475.1h1.3M262.6 467.8h1.3M249 487.6h1.3M253.3 479.1h1.3M245.5 483.8h1.3M251 482.9h1.3M262.8 468.8h1.3M262.7 473.9h1.3M259.4 477.5h1.3M261.7 468.8h1.3M249.8 481.6h1.3M248.5 483.3h1.3M243.9 496.4h1.3M242.8 497.1h1.3M264.7 470.1h1.3M265.2 465.1h1.3M241.8 491.5h1.3M243.1 489.4h1.3M262.8 471.5h1.3M238.5 484.5h1.3M238.9 487h1.3M221.7 499.3h1.3M231.5 489.8h1.3M218.8 494.1h1.3M238.4 477.9h1.3M244.2 472.8h1.3M238.7 485.8h1.3M235.5 485.1h1.3M235.3 483.9h1.3M236 501.3h1.3" stroke="#0a0a28" stroke-width="1.3"/>
<path d="M268 458.7h1.4M273 450.7h1.4M276 447.7h1.4M288 438.7h1.4M292 433.7h1.4M254.4 514.5h1.4M240.6 519.3h1.4" stroke="#05051a" stroke-width="1.4"/>
<path d="M270 455.7h1.4M272 452.7h1.4M283 443.7h1.4" stroke="#101040" stroke-width="1.4"/>
<path d="M229.2 506.6h1.5M232.8 501.6h1.5M236.6 496.8h1.5M225 510.5h1.5M233.2 502h1.5M216.2 502.9h1.5M232.2 506.1h1.5M219.9 510.4h1.5M217.8 509.5h1.5M227.4 507h1.5M233.3 504.1h1.5M219.1 507.4h1.5M227.3 505.9h1.5M222.2 508.8h1.5M235.7 502.6h1.5M219.8 509.5h1.5M221.7 507.2h1.5M220.2 508.2h1.5M238.3 489.2h1.5M231.6 488.8h1.5M221.9 494.4h1.5M234.4 488.9h1.5M225.9 506.6h1.5M234.1 501h1.5M231.8 488.9h1.5M219.2 507.7h1.5M231.2 488.7h1.5M218 499.4h1.5M215.9 505.3h1.5M227 506.5h1.5M221.5 494.6h1.5M232.8 488.4h1.5M218.7 500.5h1.5M231.2 506.1h1.5M233.8 485.6h1.5M234.5 501h1.5M232.4 489.6h1.5M220.6 506.9h1.5M225.1 509.5h1.5M235.3 498.7h1.5M219.5 496.9h1.5M221.9 507.7h1.5M217.9 509.1h1.5M235.4 496.4h1.5M232.8 505.8h1.5M230.8 505.9h1.5M227 489.1h1.5M222.5 491.3h1.5M216.9 508.2h1.5M233.7 490.6h1.5M238.2 495.3h1.5M228.8 487.5h1.5M238 491.6h1.5M236.4 491.3h1.5M236.5 491.9h1.5M237.9 497.9h1.5M229.3 488h1.5M220.1 496h1.5M234.1 487.3h1.5M236.9 493.8h1.5M236.2 499.7h1.5M234 504h1.5M234.3 498.9h1.5M232.3 502.4h1.5M231.2 489.8h1.5M236.3 492h1.5M234.1 500h1.5M221 507.2h1.5M233 501.1h1.5M227.7 505.9h1.5" stroke="#05051a" stroke-width="1.5"/>
<path d="M224 509.7h1.5M219 496.3h1.5M225.5 507.4h1.5M235.2 492.6h1.5M227.9 490.1h1.5M218.5 504.2h1.5M234.3 501.7h1.5M218.1 504.2h1.5M222.4 508.6h1.5M238.7 495.9h1.5M238.4 490.8h1.5M224.8 492.4h1.5M238.4 490.3h1.5M222.9 490.8h1.5M235.1 497.4h1.5M221.6 495.1h1.5M219.4 504.3h1.5M235.3 500.1h1.5M225.5 507h1.5M220 508.4h1.5M230 487.9h1.5M233.7 501.7h1.5M216.3 502.1h1.5M220.7 497.7h1.5M223.8 508.7h1.5M218.5 504.3h1.5M218.2 500.9h1.5M229 489.6h1.5M233.3 488.8h1.5M217.6 502.5h1.5M225.6 489.7h1.5M226.2 506.5h1.5M226.8 510.1h1.5M228.3 490.4h1.5M222.9 491.4h1.5M222.8 491.5h1.5M224.8 510.9h1.5M235.1 491.1h1.5M229.7 489.5h1.5M222.6 509.6h1.5M217.4 500.4h1.5M217.4 500h1.5M219.7 505.9h1.5M236.3 500.7h1.5M217.2 502h1.5M235.7 496.6h1.5M233.6 487.9h1.5M234.9 491.4h1.5M237.7 488h1.5M218.6 507.7h1.5M232.6 505.9h1.5M238.2 494.9h1.5M232.9 502.5h1.5M221.6 510h1.5M224.1 491.3h1.5M239.2 494h1.5M229.5 486.4h1.5M235.9 496.8h1.5" stroke="#101040" stroke-width="1.5"/>
<path d="M222.4 493h1.5M234.7 498.6h1.5M220.7 505.8h1.5M228.6 506.7h1.5M230.2 505.1h1.5M237 492.3h1.5M230 506.1h1.5M229.4 488.6h1.5M236.8 492.9h1.5M226.3 489.6h1.5M229.8 488.3h1.5M238.9 496.1h1.5M219.3 505.9h1.5M218.9 496.1h1.5M220 508.2h1.5M218.8 504.7h1.5M219.4 507.4h1.5M230.2 486.1h1.5M219.8 501.9h1.5M234.9 498.7h1.5M225.3 507.3h1.5M222.1 506.8h1.5M235.5 492.3h1.5" stroke="#1c2470" stroke-width="1.5"/>
<g transform="translate(228.30,498.30) rotate(-50)">
<ellipse rx="11.61" ry="6.89" fill="#04041a"/>
<ellipse rx="9.50" ry="4.60" fill="#2438b0"/>
<ellipse rx="8.60" ry="3.90" fill="url(#gcore)"/>
</g>
<rect x="210.10" y="399.20" width="125.90" height="151.70" fill="none" stroke="#000" stroke-width="1.3"/>
<line x1="266.00" y1="399.20" x2="266.00" y2="550.90" stroke="#000" stroke-width="1.15"/>
<line x1="210.10" y1="458.60" x2="336.00" y2="458.60" stroke="#000" stroke-width="1.15"/>
<path d="M206.5 399.2H210.1M206.5 432.7H210.1M206.5 464.2H210.1M206.5 496.8H210.1M206.5 538.4H210.1M207.9 422.6H210.1M207.9 416.7H210.1M207.9 412.5H210.1M207.9 409.3H210.1M207.9 406.6H210.1M207.9 404.4H210.1M207.9 402.4H210.1M207.9 400.7H210.1M207.9 454.7H210.1M207.9 449.2H210.1M207.9 445.2H210.1M207.9 442.2H210.1M207.9 439.7H210.1M207.9 437.6H210.1M207.9 435.8H210.1M207.9 434.1H210.1M207.9 487H210.1M207.9 481.2H210.1M207.9 477.2H210.1M207.9 474H210.1M207.9 471.4H210.1M207.9 469.2H210.1M207.9 467.4H210.1M207.9 465.7H210.1M207.9 505.1H210.1M207.9 513.4H210.1M207.9 521.8H210.1M207.9 530.1H210.1M207.1 547.9H210.1M219.6 550.9V554.5M234.9 550.9V554.5M258.6 550.9V554.5M283.1 550.9V554.5M307.1 550.9V554.5M332.3 550.9V554.5M211.6 550.9V553.7M213.1 550.9V553.7M214.6 550.9V553.7M216.1 550.9V553.7M222.7 550.9V553.5M225.7 550.9V553.5M228.8 550.9V553.5M231.8 550.9V553.5M242 550.9V553.3M246.2 550.9V553.3M249.2 550.9V553.3M251.5 550.9V553.3M253.3 550.9V553.3M254.9 550.9V553.3M256.3 550.9V553.3M257.5 550.9V553.3M266 550.9V553.3M270.3 550.9V553.3M273.4 550.9V553.3M275.7 550.9V553.3M277.7 550.9V553.3M279.3 550.9V553.3M280.7 550.9V553.3M282 550.9V553.3M290.3 550.9V553.3M294.6 550.9V553.3M297.5 550.9V553.3M299.9 550.9V553.3M301.8 550.9V553.3M303.4 550.9V553.3M304.8 550.9V553.3M306 550.9V553.3M314.7 550.9V553.3M319.1 550.9V553.3M322.3 550.9V553.3M324.7 550.9V553.3M326.7 550.9V553.3M328.4 550.9V553.3M329.9 550.9V553.3M331.1 550.9V553.3" stroke="#000" stroke-width="1"/>
<line x1="209.80" y1="551.80" x2="336.00" y2="551.80" stroke="#000" stroke-width="0.9"/>
<line x1="209.20" y1="399.20" x2="209.20" y2="551.50" stroke="#000" stroke-width="0.9"/>
<text x="219.60" y="563.30" font-size="7.0" font-family="'Liberation Sans', Arial, sans-serif" font-weight="bold" text-anchor="middle" stroke="#000" stroke-width="0.1">0</text>
<text x="233.60" y="563.30" font-size="7.0" font-family="'Liberation Sans', Arial, sans-serif" font-weight="bold" text-anchor="middle" textLength="7.2" lengthAdjust="spacingAndGlyphs" stroke="#000" stroke-width="0.1">10</text>
<text x="237.20" y="559.90" font-size="5.0" font-family="'Liberation Sans', Arial, sans-serif" font-weight="bold" stroke="#000" stroke-width="0.15">2</text>
<text x="257.30" y="563.30" font-size="7.0" font-family="'Liberation Sans', Arial, sans-serif" font-weight="bold" text-anchor="middle" textLength="7.2" lengthAdjust="spacingAndGlyphs" stroke="#000" stroke-width="0.1">10</text>
<text x="260.90" y="559.90" font-size="5.0" font-family="'Liberation Sans', Arial, sans-serif" font-weight="bold" stroke="#000" stroke-width="0.15">3</text>
<text x="281.80" y="563.30" font-size="7.0" font-family="'Liberation Sans', Arial, sans-serif" font-weight="bold" text-anchor="middle" textLength="7.2" lengthAdjust="spacingAndGlyphs" stroke="#000" stroke-width="0.1">10</text>
<text x="285.40" y="559.90" font-size="5.0" font-family="'Liberation Sans', Arial, sans-serif" font-weight="bold" stroke="#000" stroke-width="0.15">4</text>
<text x="305.80" y="563.30" font-size="7.0" font-family="'Liberation Sans', Arial, sans-serif" font-weight="bold" text-anchor="middle" textLength="7.2" lengthAdjust="spacingAndGlyphs" stroke="#000" stroke-width="0.1">10</text>
<text x="309.40" y="559.90" font-size="5.0" font-family="'Liberation Sans', Arial, sans-serif" font-weight="bold" stroke="#000" stroke-width="0.15">5</text>
<text x="331.00" y="563.30" font-size="7.0" font-family="'Liberation Sans', Arial, sans-serif" font-weight="bold" text-anchor="middle" textLength="7.2" lengthAdjust="spacingAndGlyphs" stroke="#000" stroke-width="0.1">10</text>
<text x="334.60" y="559.90" font-size="5.0" font-family="'Liberation Sans', Arial, sans-serif" font-weight="bold" stroke="#000" stroke-width="0.15">6</text>
<g clip-path="url(#clipC1)">
<text transform="translate(204.00,399.40) rotate(-90)" font-size="6.7" font-family="'Liberation Sans', Arial, sans-serif" font-weight="bold" text-anchor="middle" textLength="7.2" lengthAdjust="spacingAndGlyphs" stroke="#000" stroke-width="0.1">10</text>
<text transform="translate(204.00,432.90) rotate(-90)" font-size="6.7" font-family="'Liberation Sans', Arial, sans-serif" font-weight="bold" text-anchor="middle" textLength="7.2" lengthAdjust="spacingAndGlyphs" stroke="#000" stroke-width="0.1">10</text>
<text transform="translate(201.60,428.60) rotate(-90)" font-size="5.0" font-family="'Liberation Sans', Arial, sans-serif" font-weight="bold" stroke="#000" stroke-width="0.15">5</text>
<text transform="translate(204.00,464.40) rotate(-90)" font-size="6.7" font-family="'Liberation Sans', Arial, sans-serif" font-weight="bold" text-anchor="middle" textLength="7.2" lengthAdjust="spacingAndGlyphs" stroke="#000" stroke-width="0.1">10</text>
<text transform="translate(201.60,460.10) rotate(-90)" font-size="5.0" font-family="'Liberation Sans', Arial, sans-serif" font-weight="bold" stroke="#000" stroke-width="0.15">4</text>
<text transform="translate(204.00,497.00) rotate(-90)" font-size="6.7" font-family="'Liberation Sans', Arial, sans-serif" font-weight="bold" text-anchor="middle" textLength="7.2" lengthAdjust="spacingAndGlyphs" stroke="#000" stroke-width="0.1">10</text>
<text transform="translate(201.60,492.70) rotate(-90)" font-size="5.0" font-family="'Liberation Sans', Arial, sans-serif" font-weight="bold" stroke="#000" stroke-width="0.15">3</text>
<text transform="translate(204.00,538.40) rotate(-90)" font-size="7.0" font-family="'Liberation Sans', Arial, sans-serif" font-weight="bold" text-anchor="middle" stroke="#000" stroke-width="0.1">0</text>
</g>
<text transform="translate(195.80,475.00) rotate(-90)" font-size="7.4" font-family="'Liberation Sans', Arial, sans-serif" font-weight="bold" text-anchor="middle" textLength="18" lengthAdjust="spacingAndGlyphs" stroke="#000" stroke-width="0.1">PE-A</text>
<text x="262.30" y="569.60" font-size="7.4" font-family="'Liberation Sans', Arial, sans-serif" font-weight="bold" textLength="20.8" lengthAdjust="spacingAndGlyphs" stroke="#000" stroke-width="0.1">FITC-A</text>
<text x="212.40" y="408.50" font-size="7.2" font-family="'Liberation Sans', Arial, sans-serif" font-weight="bold" textLength="41" lengthAdjust="spacingAndGlyphs" stroke="#000" stroke-width="0.1">Q1-UL(%0,00)</text>
<text x="333.70" y="408.50" font-size="7.2" font-family="'Liberation Sans', Arial, sans-serif" font-weight="bold" text-anchor="end" textLength="42.5" lengthAdjust="spacingAndGlyphs" stroke="#000" stroke-width="0.1">Q1-UR(%0,15)</text>
<text x="212.40" y="546.90" font-size="7.2" font-family="'Liberation Sans', Arial, sans-serif" font-weight="bold" textLength="43.5" lengthAdjust="spacingAndGlyphs" stroke="#000" stroke-width="0.1">Q1-LL(%99,76)</text>
<text x="333.70" y="546.90" font-size="7.2" font-family="'Liberation Sans', Arial, sans-serif" font-weight="bold" text-anchor="end" textLength="42.5" lengthAdjust="spacingAndGlyphs" stroke="#000" stroke-width="0.1">Q1-LR(%0,09)</text>
<path d="M391.6 525.1h1.3M386.1 528.9h1.3M388.8 545.7h1.3M397.4 542h1.3M381.7 515.1h1.3M393.8 542.2h1.3M392.1 520.5h1.3M385.2 502.3h1.3M385 514.6h1.3M377 518.1h1.3M380.8 518.2h1.3M391.3 545.7h1.3M388.2 510.9h1.3M381.2 523.9h1.3M390.7 517.6h1.3M384.6 510.4h1.3M381.5 512.9h1.3M395.7 532.3h1.3M387.7 538.1h1.3M384.4 530.8h1.3M389.5 513.4h1.3M389.1 514.3h1.3M388 523.2h1.3M393 519.8h1.3M394.8 533.9h1.3M387 499.7h1.3M381.6 518.9h1.3M392.9 531.8h1.3M390.8 518.3h1.3M386.4 536.4h1.3M389 515.8h1.3M380.2 530.2h1.3M388.5 534.5h1.3M391.1 505.2h1.3M382.6 502.6h1.3M394.3 539.2h1.3M389.1 538.4h1.3M381.8 541.1h1.3M379.5 538.6h1.3M388.5 534.8h1.3M390.9 544.7h1.3M382.7 543.7h1.3M383.6 532.4h1.3M384.6 539.5h1.3M382.7 534.6h1.3M386.7 534.6h1.3M382.1 544.6h1.3M383.4 534.2h1.3M382.2 536h1.3M382.8 541.5h1.3M381 536.3h1.3M389.1 483.5h1.3M390.5 489.7h1.3M416.9 485.2h1.3M391 483.7h1.3M409.5 514.5h1.3M386.6 522h1.3M404.6 510.8h1.3M421.5 480.2h1.3M410.2 506.7h1.3M411.5 473.6h1.3M393.1 495.2h1.3M399.2 490.8h1.3M420.7 469.5h1.3M417 508.1h1.3M389.9 491.9h1.3M393 528.3h1.3M399 482h1.3M399.2 508.4h1.3M415.3 477.9h1.3M411.8 514h1.3M409.2 508.4h1.3M408.8 497.4h1.3M425.3 508.2h1.3M410.3 471.1h1.3M388.1 488.7h1.3M417.9 477.7h1.3M394.8 481h1.3M417.8 474.7h1.3M405.5 483h1.3M421.4 488.4h1.3M422.1 487.4h1.3M407.9 490.4h1.3M405.6 486.6h1.3M401.7 497.1h1.3M400.9 487.8h1.3M406.1 487.6h1.3M405.2 487h1.3M384.1 501.9h1.3M416.2 466h1.3M415.7 501.5h1.3M411.9 470.5h1.3M397 509.2h1.3M385.4 508h1.3M394.4 496.2h1.3M419.6 462.7h1.3M410.6 490.5h1.3M415.6 462.4h1.3M424.7 468.2h1.3M419.5 475.3h1.3M412.7 462.6h1.3M402.4 509.3h1.3M415.9 485.1h1.3M393.7 494.5h1.3M402.8 463.7h1.3M398.7 488.9h1.3M410.4 487.5h1.3M385.4 485.1h1.3M393.7 502.6h1.3M379.4 498.4h1.3M391.2 476.5h1.3M396.7 488.9h1.3M397.8 469.4h1.3M388.1 529.9h1.3M396.8 488.7h1.3M392.1 524.4h1.3M405.6 485.1h1.3M395.4 496.5h1.3M414 474.8h1.3M386.6 502.6h1.3M425.9 482.3h1.3M404.3 523.9h1.3M419 510.4h1.3M417.7 471.7h1.3M408.8 511.4h1.3M402.5 467.3h1.3M395.6 511.2h1.3M414.8 505.4h1.3M406 497.7h1.3M417.6 512h1.3M426.4 481.9h1.3M404.8 467.7h1.3M410.7 491.4h1.3M403.4 477.6h1.3M388 503.8h1.3M383.8 511.9h1.3M412.1 477.3h1.3M387.5 526.5h1.3M412.3 501h1.3M414.2 464.1h1.3M427.4 480.7h1.3M418.3 512.1h1.3M427.7 491.6h1.3M392.4 504.4h1.3M408.7 524.6h1.3M412.6 474.2h1.3M389.8 507.3h1.3M419.9 525.2h1.3M415.7 528.7h1.3M412.5 479.9h1.3M399.1 519.4h1.3M396.4 526.1h1.3M391.4 484.7h1.3M382 464.2h1.3M391.9 500.3h1.3M420.6 495.3h1.3M380.6 469h1.3M411.8 469.3h1.3M395.5 470.3h1.3M415.2 478.3h1.3M385 472.6h1.3M385.6 466.1h1.3M412.5 462.9h1.3M421.1 466.1h1.3M426.6 470.7h1.3M407.8 475.7h1.3M415 476h1.3M410.8 469h1.3M409.2 476.6h1.3M412.2 473.7h1.3M415.3 476.4h1.3M410.8 475.5h1.3M423.4 465.1h1.3M427.7 474h1.3M385.2 478.6h1.3M413.7 475.2h1.3M417.6 472.1h1.3M420.5 468.6h1.3M394 478.5h1.3M392.2 474.2h1.3M409.4 474.4h1.3M425.8 467.2h1.3M415.4 463.8h1.3M423.1 477.7h1.3M399.1 462.1h1.3M402.8 476.6h1.3M427.8 474h1.3M388.3 430.8h1.3M393.5 455.2h1.3M399.5 435.8h1.3M381.1 432.7h1.3M396.1 444.9h1.3M388.2 451.5h1.3M422.8 430h1.3M396.5 436h1.3M384.2 458.2h1.3M417.2 433.7h1.3M405.4 443.5h1.3M405.3 448.5h1.3M384.7 432h1.3M398.3 435.5h1.3M390.5 447.3h1.3M400.6 449.3h1.3M445.7 457.7h1.3M442 474.8h1.3M446.3 467.2h1.3M444.3 452h1.3M445.4 477.1h1.3M446.4 433.3h1.3M445.1 446.4h1.3M439.5 476.2h1.3M445 475.6h1.3M442.8 458.2h1.3M443.8 474.1h1.3M446.6 436.6h1.3M444 445.3h1.3M445.3 461.6h1.3M442.5 437.1h1.3M443.1 475.7h1.3M445.8 451.6h1.3M445.9 464.8h1.3M445.9 456.8h1.3M444 471.6h1.3M446.3 460.9h1.3M441.6 456.6h1.3M447.1 436.7h1.3M443.7 456.1h1.3M444.6 444.3h1.3M442.1 470.9h1.3M446.1 450.1h1.3M444.5 460.4h1.3M447.6 459.9h1.3M442.8 468.8h1.3M440.8 469.8h1.3M444 442.6h1.3M442.6 445.4h1.3M440.5 478.6h1.3M447.8 462.7h1.3M446.4 477h1.3M444.5 440.7h1.3M447.6 448.5h1.3M447.3 459.2h1.3M441.9 455.7h1.3M449.9 434.6h1.3M444.5 446.7h1.3M445.2 471.5h1.3M444.9 453.3h1.3M446.2 451.6h1.3M446.7 471.6h1.3M448.2 444.1h1.3M440.1 449.6h1.3M445.7 455.7h1.3M443.7 454.5h1.3M441.7 526.1h1.3M444.2 482.6h1.3M441.6 523.6h1.3M446.4 511.8h1.3M442.6 540.9h1.3M445.3 503.7h1.3M441.3 524.9h1.3M442.8 512.4h1.3M445 520.8h1.3M434.2 544.3h1.3M445.8 529h1.3M449.5 483.5h1.3M445.4 460.6h1.3M441.8 455.5h1.3M448.4 456.6h1.3M445.9 455.3h1.3M442 452.3h1.3M441.5 433.7h1.3M445.6 446.1h1.3M443 460.5h1.3M442.4 445.2h1.3M446.2 455h1.3M445.1 459.9h1.3M446.2 443.7h1.3M444.6 465.4h1.3M440.2 459.2h1.3M445.1 448.4h1.3M447.4 452.9h1.3M444.4 460h1.3M442.3 463.4h1.3M443.9 450.8h1.3M448.7 438h1.3M443.9 444.5h1.3M444.6 450h1.3M442 450.5h1.3M445.6 458.4h1.3M445.8 449.7h1.3M444.2 444.7h1.3M446.4 462.8h1.3M447.8 454.1h1.3M442.3 444.3h1.3M441.6 442.5h1.3M442.2 437.6h1.3M447.8 456.1h1.3M445.2 461.7h1.3M451.5 514.3h1.3M471.6 489h1.3M452.6 541.1h1.3M459.3 528.1h1.3M457.1 527.9h1.3M460.4 508.3h1.3M437.9 499.4h1.3M455.1 454.3h1.3" stroke="#26339a" stroke-width="1.3"/>
<path d="M385.7 510.9h1.3M383.9 524h1.3M379.9 514.5h1.3M382.5 512.2h1.3M381.8 518.9h1.3M382.4 529.8h1.3M385.7 500.9h1.3M388.6 537.5h1.3M394.2 530.1h1.3M385.2 518.3h1.3M388.8 516.9h1.3M384.1 517.4h1.3M383.2 515.4h1.3M386.5 498.7h1.3M388.4 514.2h1.3M384.2 535h1.3M390.4 524.4h1.3M397.9 507.5h1.3M386.8 533.5h1.3M385.8 520.8h1.3M384 519.5h1.3M390.7 526.4h1.3M390.4 532.2h1.3M392.4 524.5h1.3M393.3 545.7h1.3M389.3 520.1h1.3M386.2 514.6h1.3M385.1 525.4h1.3M381.6 526.1h1.3M384.9 528.3h1.3M387.6 534.7h1.3M385.1 500.8h1.3M387.1 523.6h1.3M386.6 514.6h1.3M390.5 527.4h1.3M386 501.5h1.3M379 509.8h1.3M381.1 502.9h1.3M389.1 534.5h1.3M385.4 517h1.3M385.7 521.2h1.3M396 511.3h1.3M389.3 522.2h1.3M379.1 502.3h1.3M378.4 526.1h1.3M381.7 505.1h1.3M377 515.6h1.3M383.8 516.7h1.3M383.5 534.9h1.3M392.5 512.1h1.3M380.9 513h1.3M394.4 533.3h1.3M388.6 523.1h1.3M388.4 530.7h1.3M390.7 530.9h1.3M381.7 511.6h1.3M377.9 518.9h1.3M378.8 510.4h1.3M388.6 513.9h1.3M384 522.1h1.3M383.1 544.1h1.3M377 540h1.3M382.2 536.4h1.3M390 539h1.3M384.3 538.6h1.3M384.9 542.9h1.3M380.2 538.7h1.3M383.5 535.4h1.3M385.2 540.9h1.3M388.5 536.3h1.3M381.1 540.8h1.3M384.6 543.4h1.3M388 537.7h1.3M387 537.8h1.3M385.4 540.7h1.3M400.5 491.3h1.3M390.1 510.1h1.3M427.8 477.1h1.3M410.4 476.8h1.3M388.5 497.3h1.3M406.1 498.2h1.3M423.3 473.8h1.3M400 481.2h1.3M416.9 476.8h1.3M381.2 482.6h1.3M387.7 488h1.3M400.6 483h1.3M393.7 475.8h1.3M419.2 490.6h1.3M424 492.4h1.3M382.7 532.3h1.3M388 481.3h1.3M425.8 471.6h1.3M398.4 468.7h1.3M392.4 495.4h1.3M424.4 467.3h1.3M408.7 488.8h1.3M399.1 470.1h1.3M415.6 476.6h1.3M413.1 482.5h1.3M410.4 481h1.3M409.6 473.3h1.3M393.5 512.2h1.3M415.1 504.7h1.3M424.6 515h1.3M403.6 487.8h1.3M389.2 493.4h1.3M421.5 472.3h1.3M415.3 477.8h1.3M383.1 476.6h1.3M388.5 494.6h1.3M398.5 485.3h1.3M401.3 476.5h1.3M391.9 487.4h1.3M394.9 481.6h1.3M398.5 495.6h1.3M404.2 503.2h1.3M400.2 491.6h1.3M412.7 481h1.3M401.5 485.3h1.3M402 505.2h1.3M404.8 486.9h1.3M383.3 496.6h1.3M425.6 500.1h1.3M406 466.3h1.3M402.4 496.3h1.3M385.7 479h1.3M408.1 469.2h1.3M405.1 506.7h1.3M413.1 479.8h1.3M407.6 487.1h1.3M395.8 485.7h1.3M421.5 503.9h1.3M409.4 487.2h1.3M421.4 494.6h1.3M380.4 490h1.3M409.2 470.6h1.3M394.7 468.1h1.3M394.1 471.3h1.3M414.4 467.4h1.3M382.7 462.6h1.3M399.4 476.9h1.3M424.3 467.2h1.3M405.9 467.5h1.3M408.2 475.6h1.3M391.1 462.8h1.3M426.5 469.2h1.3M393.6 463.8h1.3M394.4 478.6h1.3M422.4 473h1.3M401.5 474.2h1.3M420.1 469.5h1.3M419.9 468.6h1.3M428 475.8h1.3M400.1 463.3h1.3M424.3 473.1h1.3M399.1 464h1.3M417.4 474.7h1.3M423.7 478.4h1.3M411.2 463.9h1.3M390.8 472.4h1.3M388.5 470.9h1.3M417.8 470.6h1.3M420.7 463.8h1.3M386 473.3h1.3M384 477.3h1.3M411.2 463.2h1.3M406.5 471.1h1.3M380.6 475.2h1.3M397.6 473.8h1.3M421.3 465.7h1.3M443.9 461.8h1.3M443.5 463h1.3M442.6 458.5h1.3M443.3 452.3h1.3M446.8 455.4h1.3M445.4 431.5h1.3M441.7 461.1h1.3M446.3 452.5h1.3M445.7 441.5h1.3M443.6 438.7h1.3M443.4 463.6h1.3M443.7 459.2h1.3M440.5 432.1h1.3M444.1 449.1h1.3M443.5 445.7h1.3M444 462.7h1.3M443.9 457.9h1.3M445.7 441.1h1.3M445.3 439.3h1.3M446.8 480.2h1.3M442.7 462.3h1.3M443.6 433.4h1.3M444.8 435.6h1.3M442.2 455h1.3M444.8 438.3h1.3M445.7 461.6h1.3M441.4 460.6h1.3M442.7 472.6h1.3M443.4 454.1h1.3M445 457.6h1.3M442.1 443.2h1.3M442.1 453.7h1.3M444.4 430.6h1.3M441.9 447.7h1.3M442.8 434.5h1.3M443.7 431.3h1.3M447.6 435.7h1.3M440.4 459.9h1.3M443.4 466.6h1.3M438.2 446h1.3M445.8 444.5h1.3M443.4 465.2h1.3M444.4 454.5h1.3M444.7 467.6h1.3M443.7 469.2h1.3M442.5 445.2h1.3M445.2 447.1h1.3M443.3 465.1h1.3M448.5 520.5h1.3M448.5 537.5h1.3M447.2 539.2h1.3M442.5 500.8h1.3M446.5 515h1.3M440.2 536.2h1.3M444.4 490.1h1.3M441.1 490.2h1.3M448.6 511h1.3M438.6 489.4h1.3M445.1 505.2h1.3M443.7 534.5h1.3M445.8 484.7h1.3M446.6 484.7h1.3M444.6 496.7h1.3M442.2 526.9h1.3M442.5 479.6h1.3M447.5 494.9h1.3M440 526.5h1.3M443.2 459.6h1.3M445.2 454.4h1.3M444.2 449.8h1.3M445.7 444.5h1.3M444.9 434.8h1.3M442.3 453h1.3M448 466.1h1.3M441.5 443.1h1.3M440 466.3h1.3M441.1 448h1.3M445.7 458.7h1.3M443.7 461.3h1.3M450.7 442.8h1.3M445.7 450.3h1.3M446.9 463.9h1.3M445 471.5h1.3M447.6 462.2h1.3M441.3 460.8h1.3M446.2 463.8h1.3M446.8 454.5h1.3M445.5 446.7h1.3M443.7 465.4h1.3M445.7 458.6h1.3M443.5 453.4h1.3M446.5 468.8h1.3M446.4 458.5h1.3M433.9 431h1.3M475.8 531.5h1.3M487.3 439.4h1.3M493.7 498.6h1.3M477.6 448.2h1.3M466.8 526.2h1.3M454.9 509.1h1.3M481.6 442.2h1.3" stroke="#0a0a28" stroke-width="1.3"/>
<path d="M384.1 516.2h1.3M385.8 536.8h1.3M383.3 511.3h1.3M389.6 517.2h1.3M387.9 521.6h1.3M386.9 518.3h1.3M394.2 526h1.3M379.7 520.9h1.3M386.7 509.2h1.3M391.5 525.1h1.3M378.4 525.1h1.3M384.8 521h1.3M394.2 525.8h1.3M382.7 517.8h1.3M392.8 526.8h1.3M379.7 520.5h1.3M388.5 538.5h1.3M391.1 538.1h1.3M385.8 533.1h1.3M385.5 539h1.3M382.8 536h1.3M387.2 535.8h1.3M382.1 542.7h1.3M424.6 473.8h1.3M421 512.9h1.3M403.4 475.7h1.3M415 499.1h1.3M381.8 491.7h1.3M405.5 482.9h1.3M401.7 524.7h1.3M383.1 486.7h1.3M396.7 509.4h1.3M382.4 489.3h1.3M384.2 490.7h1.3M424.7 492.2h1.3M395.1 515.1h1.3M409.4 487.3h1.3M407.2 515.3h1.3M400.7 490.2h1.3M405 540.6h1.3M395.1 502.7h1.3M393.3 494.4h1.3M399.8 475.1h1.3M410.6 484.8h1.3M393 515.1h1.3M406 473.8h1.3M412 463.8h1.3M407.8 474.5h1.3M424.5 482h1.3M410.7 469h1.3M385.1 491.8h1.3M412.5 509.2h1.3M380.8 526.7h1.3M414.8 469.3h1.3M427.7 502.8h1.3M415.1 521.9h1.3M403 502.8h1.3M387.5 495.8h1.3M409.9 527.5h1.3M394 497.2h1.3M403.5 471.9h1.3M424.1 504.7h1.3M382.5 480.3h1.3M396.7 498.3h1.3M402.5 465.7h1.3M394.1 495.9h1.3M427.8 463.1h1.3M425.7 489.6h1.3M410.1 467h1.3M408.7 464.6h1.3M421.7 468.9h1.3M410.3 508.8h1.3M398.7 466.3h1.3M397.4 469h1.3M414 465.1h1.3M415.4 513.1h1.3M401 512.8h1.3M425.8 528h1.3M420 478.9h1.3M401.2 480h1.3M408.4 530.4h1.3M387.4 515.5h1.3M382.9 516.9h1.3M406.3 476.1h1.3M413.8 475.3h1.3M382.3 470.9h1.3M420.9 463.1h1.3M408.5 474.6h1.3M427.8 467.5h1.3M400.3 462h1.3M404.4 475.7h1.3M410.9 471.3h1.3M405.5 467.1h1.3M425.9 468.5h1.3M401.1 476.8h1.3M386.6 472.5h1.3M398.5 434.4h1.3M417.9 427.2h1.3M394.7 427.5h1.3M417.8 457.1h1.3M416.6 426.1h1.3M396.6 438.7h1.3M417 442.4h1.3M402.5 428.6h1.3M446.2 446.7h1.3M445.1 437.7h1.3M446.5 437.7h1.3M442.8 449.5h1.3M443.1 451.2h1.3M442.4 465h1.3M447.4 440.2h1.3M446.4 475.5h1.3M443.5 474.5h1.3M442.9 457.4h1.3M440.8 453.3h1.3M445.9 477.3h1.3M445.6 459h1.3M440.6 457.6h1.3M447.8 433.6h1.3M442.1 454.7h1.3M446 443.4h1.3M442.4 459.8h1.3M442.9 494.4h1.3M440.7 493.1h1.3M443.2 535.8h1.3M438.1 530h1.3M444.4 450.3h1.3M445.1 461.3h1.3M448 445.4h1.3M445.9 451.8h1.3M442.8 468.7h1.3M440.3 461.3h1.3M447.4 458.1h1.3M445.4 447.8h1.3M444.3 455.3h1.3M446.8 447h1.3M444.6 449.3h1.3M445 452.6h1.3M443.8 456.4h1.3M443.4 462.4h1.3M475.5 489.2h1.3M442.3 468.8h1.3M460.1 526.1h1.3M486.1 490.8h1.3M465.7 466.6h1.3M467.7 540.2h1.3M450.3 525.7h1.3" stroke="#3a50c0" stroke-width="1.3"/>
<path d="M388.3 515.2h1.3M384.9 530.2h1.3M382.6 501h1.3M385.5 509.9h1.3M381.6 520.9h1.3M382.9 517h1.3M378.3 508h1.3M380.9 523.5h1.3M377 530.9h1.3M385.6 531.7h1.3M388.3 508.4h1.3M388.5 501.1h1.3M386.6 518.1h1.3M379.7 517.2h1.3M378.5 511.6h1.3M380.9 523.7h1.3M383.2 518.2h1.3M383.7 532.6h1.3M389.5 517.4h1.3M380.5 516.5h1.3M392.1 522.5h1.3M389.2 507.7h1.3M386.7 507.8h1.3M387.5 527h1.3M384 526.8h1.3M384.4 528.5h1.3M379.6 518.4h1.3M390.7 520.7h1.3M385.6 527.2h1.3M390.7 516.9h1.3M382.1 518.8h1.3M382.7 529.1h1.3M391.7 531.8h1.3M385.4 538.3h1.3M389.4 533.1h1.3M384.4 542.7h1.3M381.2 535.8h1.3M385.8 539.4h1.3M387.4 543.2h1.3M381.9 544h1.3M381.9 534.2h1.3M379.4 540.7h1.3M386.1 540.6h1.3M384.4 541.6h1.3M415.1 469.6h1.3M418.8 475h1.3M407.6 495.7h1.3M417.9 497.6h1.3M409.1 483.7h1.3M409.4 496.6h1.3M392.7 473.4h1.3M377.3 500.6h1.3M385 475h1.3M395.4 526.9h1.3M379.9 500.9h1.3M389.4 494.7h1.3M411.9 468.5h1.3M410.2 470.4h1.3M419.5 518h1.3M400.7 471.8h1.3M414 498.6h1.3M409 501.3h1.3M400.6 505.7h1.3M400.3 492.8h1.3M393.1 502.5h1.3M406 492h1.3M420.7 497.7h1.3M415.8 498.3h1.3M405.7 471.3h1.3M415.3 464.7h1.3M401.4 490.7h1.3M391.1 509.8h1.3M425.1 502.5h1.3M379.1 501h1.3M388 496.7h1.3M397.6 491.4h1.3M403.8 513.4h1.3M402.9 483.5h1.3M403.9 479.2h1.3M395.9 484.4h1.3M409.2 477.6h1.3M410.7 513.3h1.3M384.5 533.1h1.3M422.5 483.5h1.3M402.3 499.2h1.3M417.1 471.4h1.3M414.6 495.6h1.3M390.3 487.3h1.3M386 477.1h1.3M426.6 488.3h1.3M400.6 510.8h1.3M424.1 496.8h1.3M415.1 481.7h1.3M377.6 478.3h1.3M388.9 477.6h1.3M398.3 473.5h1.3M397 494.7h1.3M398.2 483.5h1.3M410.1 476.9h1.3M421.9 465.7h1.3M420.8 488h1.3M413.4 503.3h1.3M391.8 504.4h1.3M394.5 529.4h1.3M386.8 529.4h1.3M405.8 498.1h1.3M380.3 465.5h1.3M422.9 520.3h1.3M416 504.6h1.3M420.1 466.1h1.3M403 487.7h1.3M425.7 519.1h1.3M409.8 505.7h1.3M411.9 489.9h1.3M392 486.9h1.3M420.7 463.8h1.3M420.2 518.8h1.3M394 511.3h1.3M398.5 474.9h1.3M409.4 524h1.3M416.5 465.6h1.3M382.6 513.8h1.3M408.9 474.1h1.3M423.6 501.6h1.3M420.6 514.9h1.3M420.7 482.5h1.3M426.3 508.6h1.3M413.2 487.5h1.3M417.2 491.5h1.3M395.5 476.1h1.3M428 479.6h1.3M385.2 463.6h1.3M408.7 468.7h1.3M400.6 469.2h1.3M389.6 462.9h1.3M396.1 478.1h1.3M413.4 466.7h1.3M399.2 475.1h1.3M420 476.2h1.3M396.2 476.9h1.3M419.4 469.2h1.3M396.5 471.2h1.3M403.8 476.3h1.3M386 472.7h1.3M394 463.5h1.3M393.3 475h1.3M392.4 474.1h1.3M414.2 475.3h1.3M387.1 473.3h1.3M417.3 463.5h1.3M389.2 472.1h1.3M406.3 471h1.3M395.8 471h1.3M389.6 478.6h1.3M383 476.8h1.3M419.4 474.4h1.3M403.4 443.5h1.3M413.9 432.7h1.3M389.2 431.8h1.3M397.1 429.3h1.3M415.8 451.7h1.3M418.2 434.5h1.3M411.8 434.1h1.3M406.8 441.7h1.3M382.6 449.2h1.3M401.7 438.7h1.3M383.7 453.6h1.3M406.7 426h1.3M383.9 457.3h1.3M446.8 459.6h1.3M444.1 453.8h1.3M443.2 470h1.3M446.3 458.4h1.3M444.2 467.2h1.3M441.5 455.9h1.3M444.1 442.7h1.3M446.8 470h1.3M444.6 478h1.3M443.3 465.5h1.3M443.9 453.8h1.3M442.9 473.3h1.3M442.5 470.4h1.3M443.7 455.6h1.3M447.6 458h1.3M443.5 438.3h1.3M443.2 473.3h1.3M444.9 448h1.3M443.5 453.1h1.3M441.1 455.4h1.3M442.3 469.7h1.3M445.4 458h1.3M444.1 444.2h1.3M440 474.5h1.3M445.8 460.4h1.3M439.3 437.7h1.3M444.9 453.7h1.3M446.9 453.1h1.3M447 467h1.3M445.7 463.5h1.3M446 444h1.3M446.2 479.4h1.3M441.2 450.4h1.3M446.7 478.6h1.3M443.7 467.4h1.3M442.5 462.9h1.3M444.6 447.3h1.3M443.7 460.9h1.3M443.1 445.6h1.3M444.1 466.3h1.3M442.4 460.6h1.3M438.9 514.9h1.3M447.3 510.1h1.3M444.4 526.2h1.3M445.7 484.3h1.3M444.8 525.1h1.3M444.9 535.9h1.3M442.8 524.8h1.3M443.2 495.5h1.3M442.3 506.6h1.3M441.4 540.9h1.3M445 522.3h1.3M445 517.1h1.3M443.3 505.4h1.3M438.9 529.6h1.3M446.5 483.6h1.3M444.9 524.6h1.3M444.9 532.3h1.3M438.3 511.9h1.3M446.9 484h1.3M445.8 480.1h1.3M445 517h1.3M444.4 448.5h1.3M444.9 463.3h1.3M445.6 459.7h1.3M445.3 445.6h1.3M437.6 444h1.3M447.6 454.3h1.3M442.4 468h1.3M445.2 450.4h1.3M440.7 453.4h1.3M442.8 463.6h1.3M443.2 459.5h1.3M440.7 452.3h1.3M442.3 453.4h1.3M444.7 441.8h1.3M446.8 464.7h1.3M444.7 452.5h1.3M446.8 466h1.3M443.8 462h1.3M463.7 441.7h1.3M442.6 445.6h1.3M444.9 423.7h1.3M453.1 520.8h1.3M456.3 481.3h1.3M479.7 493.1h1.3M481.6 465.4h1.3" stroke="#141a5a" stroke-width="1.3"/>
<path d="M390.7 502.8h1.3M392.9 539.1h1.3M392.8 525.4h1.3M391.8 532.4h1.3M385.1 509.7h1.3M381.6 513.2h1.3M383.2 515.2h1.3M386.7 504.5h1.3M391.3 530.2h1.3M386.7 531.6h1.3M388.7 514.3h1.3M388.5 509.8h1.3M387.6 517.2h1.3M383.2 529.5h1.3M385.3 526.8h1.3M380.7 528.6h1.3M386.6 537.1h1.3M388.1 546.3h1.3M384.4 503h1.3M385.4 508.8h1.3M386.1 539.6h1.3M384.6 535.3h1.3M380.8 526.1h1.3M387.8 508.6h1.3M383.8 526h1.3M382.8 535.6h1.3M390.4 537.3h1.3M386.8 524h1.3M381.3 545h1.3M378.1 493.5h1.3M403.4 530.6h1.3M378.7 510.3h1.3M392.2 507.5h1.3M391.6 510.5h1.3M387.8 515.6h1.3M386.6 515.3h1.3M394.3 528.2h1.3M394.9 515.5h1.3M392.5 534.4h1.3M399.7 519.1h1.3M386.3 508.6h1.3M384.8 517.6h1.3M386.6 503h1.3M379.5 513.5h1.3M390.1 485.5h1.3M387.2 512.4h1.3M392.4 528.3h1.3M379.5 518.3h1.3M386.1 526.4h1.3M389 533.5h1.3M394.9 540h1.3M385.4 534.3h1.3M386.3 540.8h1.3M386.5 531h1.3M387.8 540.1h1.3M380.9 536.6h1.3M383.2 534.1h1.3M388.4 536h1.3M388.2 536.1h1.3M387.3 534.4h1.3M383.8 545.7h1.3M444.7 455h1.3M445.9 450.5h1.3M445.1 461.1h1.3M445.9 461.5h1.3M443.1 460.8h1.3M442.6 457.2h1.3M444.6 465.7h1.3M441.7 437.7h1.3M445.4 458.4h1.3M443.9 466.5h1.3M442.9 445.3h1.3M444.2 444.8h1.3M444.4 436.4h1.3M440.9 462.7h1.3M443.7 451.2h1.3M442.7 455.7h1.3M441 452.2h1.3M441.9 463.1h1.3M443 437.4h1.3M443.7 462.4h1.3M443.5 443h1.3M446.2 451.6h1.3M443.1 457.9h1.3M443.9 436.3h1.3M441.5 474h1.3M442.8 449.9h1.3M444.9 461.7h1.3M448.6 432.6h1.3M442.4 451h1.3M445.8 455.3h1.3M441.1 449.5h1.3" stroke="#101040" stroke-width="1.3"/>
<path d="M381.4 521h1.3M397 532.4h1.3M381 528.5h1.3M388.4 512.7h1.3M389.3 525.7h1.3M394.7 525.7h1.3M377.6 531.9h1.3M386.9 522.5h1.3M384 504.3h1.3M388.2 522.7h1.3M386.9 518.6h1.3M386.4 534.2h1.3M392.1 533.2h1.3M390.1 504.4h1.3M391.3 528.2h1.3M380.3 535.9h1.3M389.5 533.7h1.3M382.7 541.3h1.3M391 540.4h1.3M387.9 531.2h1.3M385.1 535.4h1.3M377.8 518.9h1.3M382.3 526.6h1.3M390 515.5h1.3M391 528.3h1.3M388.1 541.9h1.3M387.6 529.7h1.3M388.5 536.5h1.3M386.3 530.8h1.3M379.3 538.6h1.3M387.1 542.8h1.3M385.1 542.6h1.3M445.6 461.4h1.3M443.3 431.8h1.3M444.5 455.1h1.3M442.2 448.4h1.3M443.7 442.5h1.3M444.1 447.2h1.3M441.3 454.2h1.3M440.6 447.7h1.3M439.7 445.6h1.3" stroke="#1c2470" stroke-width="1.3"/>
<path d="M388.4 526.1h1.3M384.6 532.1h1.3M385.4 529.4h1.3M389 523.4h1.3M386.4 531.4h1.3M386.7 508.4h1.3M390.1 525.2h1.3M384.6 540.9h1.3M393.3 525h1.3M392.3 530.5h1.3M394 504.2h1.3M378.5 502h1.3M384.9 537.2h1.3M382.3 529.3h1.3M380.7 514.6h1.3M388.3 524.9h1.3M392.8 527.6h1.3M388.2 502.7h1.3M385.9 531.8h1.3M397.4 531.2h1.3M393.9 518.4h1.3M386.1 542.2h1.3M386.5 534.2h1.3M383.8 517.4h1.3M392.8 533h1.3M384.3 539.2h1.3M383.3 534.5h1.3M394.1 524.4h1.3M386.6 500.4h1.3M380.9 484.1h1.3M390 542.8h1.3M384.5 529h1.3M389.4 524.9h1.3M383.6 519.5h1.3M379.4 535.4h1.3M378.8 509.5h1.3M380.1 512.7h1.3M384.7 528.7h1.3M383.5 528.1h1.3M397.4 534.9h1.3M386.3 524.6h1.3M383.5 523.2h1.3M382.8 510.1h1.3M383.9 526.4h1.3M400.5 502.4h1.3M392.2 512.5h1.3M386.2 499.7h1.3M383.3 515.7h1.3M391.4 519.6h1.3M384.5 512.7h1.3M385.3 513h1.3M385.9 542.1h1.3M382 529.7h1.3M380.5 502.8h1.3M381 513.1h1.3M384.6 517.8h1.3M385.8 511h1.3M383.5 530.9h1.3M386.8 536.7h1.3M383.3 536.7h1.3M389 546.7h1.3M382.3 538.4h1.3M381.8 539.2h1.3M389.7 537.8h1.3M379 546.3h1.3M379.8 537.3h1.3M380.7 539.6h1.3M388.5 530.1h1.3M379.2 535.3h1.3M445.1 461.5h1.3M444.3 453.3h1.3M441.9 461.2h1.3M445.8 453.5h1.3M443.2 467h1.3M442.9 458.9h1.3M444.1 462h1.3M443.9 450.1h1.3M441.6 454.5h1.3M444.9 460.5h1.3M444.6 447.7h1.3M447.3 452.2h1.3M442.7 463h1.3M443.4 464.3h1.3M444.1 456.4h1.3M444.9 461.7h1.3M442.9 447.2h1.3M448.5 449.7h1.3M443.3 462.8h1.3M446.5 442.3h1.3M444.9 450.9h1.3M442.3 458.9h1.3M445.8 444.6h1.3M443.3 442.3h1.3M443.8 461.7h1.3M443.2 467.2h1.3M441.5 452.2h1.3" stroke="#05051a" stroke-width="1.3"/>
<path d="M394.1 519.3h1.3M380.8 499.6h1.3M378.6 530.3h1.3M381.9 524.2h1.3M380.6 501.9h1.3M382 492.5h1.3M386 509.9h1.3M391.1 525.8h1.3M388 544.5h1.3M424.3 481.2h1.3M419.8 485.3h1.3M425.8 499.5h1.3M405 464.1h1.3M398.6 476.1h1.3M419.7 481.1h1.3M411.3 467.5h1.3M424.6 499.4h1.3M412.7 500.8h1.3M382.3 488.6h1.3M403.4 477.1h1.3M413.4 475.8h1.3M392.2 473.8h1.3M394 519.3h1.3M380.4 473.3h1.3M379.5 475.8h1.3M419 503.9h1.3M411.8 515.4h1.3M386.7 520.3h1.3M422.2 503.6h1.3M394.1 475.6h1.3M387.3 499.9h1.3M400.3 500.5h1.3M385.8 498.5h1.3M384.1 495.9h1.3M386.1 489.1h1.3M398.3 490.8h1.3M412.7 472.7h1.3M393.2 519.1h1.3M421.7 498.9h1.3M387.5 485.1h1.3M406.3 529.1h1.3M388.4 470.3h1.3M423.9 513.9h1.3M420.7 472h1.3M418.6 468.2h1.3M399.1 477.7h1.3M388.6 474h1.3M419.4 464.4h1.3M413.8 445.7h1.3M420.7 456.7h1.3M405.6 448.9h1.3M394.6 439.8h1.3M407.1 427.1h1.3M422.5 439.8h1.3M380.8 438.2h1.3M390 430.2h1.3M442.1 447.2h1.3M442.3 470.9h1.3M441.9 446.8h1.3M441.1 466.8h1.3M447.3 443h1.3M441.1 444h1.3M440.5 475h1.3M444.5 462.3h1.3M442.4 440.2h1.3M445.3 473.2h1.3M442.5 447.7h1.3M446.7 458.4h1.3M448.2 451h1.3M441.8 515.2h1.3M444 498.9h1.3M443.1 489.7h1.3M443 537.3h1.3M444.4 452.1h1.3M441.8 445.2h1.3" stroke="#7080d8" stroke-width="1.3"/>
<path d="M394.4 503.2h1.5M413.4 482.9h1.5M413.9 486.8h1.5M403.2 484.4h1.5M398.9 502.5h1.5M414.2 482.6h1.5M414.1 486.7h1.5M394.4 499.5h1.5M404 503.6h1.5M397.9 495.4h1.5M407.1 498.2h1.5M412.7 479.9h1.5M415.7 481.8h1.5M402.6 482.4h1.5M394.8 502.3h1.5M394.6 503.9h1.5M414.8 488.9h1.5M408 479h1.5M407.5 482.1h1.5M412.5 486.5h1.5M413.3 479.7h1.5M412.6 484.5h1.5M408.9 498.5h1.5M396.7 496.4h1.5M397.3 491h1.5M403 482.9h1.5M412.1 489.6h1.5M398.6 503.2h1.5M412.7 484.7h1.5M413.1 488.5h1.5M412.3 480.3h1.5M402.3 483.2h1.5M395.5 503.5h1.5M406.3 499.6h1.5M410 494.6h1.5M415.1 488.5h1.5M403.5 503.1h1.5M403.5 482.2h1.5M414.3 480.6h1.5M409.7 496.8h1.5M412.7 488.2h1.5M394 503.9h1.5M406.2 501.6h1.5M402.7 502.6h1.5M410.1 479.2h1.5M395.8 496.1h1.5M412.6 487.8h1.5M415.5 482.5h1.5M398.7 493.1h1.5M400.7 501.9h1.5M394.2 504.1h1.5M394.2 505.2h1.5M398 505.8h1.5M399.4 491h1.5M398 495h1.5M411.8 492h1.5M402.4 486.9h1.5M413.5 490.2h1.5M394.5 496.4h1.5M407.8 498.9h1.5M400.6 488.1h1.5M411.2 493.1h1.5M396.7 493.1h1.5M415.2 486h1.5M402.2 484.3h1.5M409.6 478.3h1.5M415 480.4h1.5M397.7 506.7h1.5M407.4 496.9h1.5M414.9 478.8h1.5M397.6 501h1.5M404.2 503.4h1.5M403.7 502.1h1.5M396.9 502.1h1.5M414.1 485.7h1.5M396.9 490.8h1.5" stroke="#05051a" stroke-width="1.5"/>
<path d="M411.2 491.1h1.5M409.4 481.3h1.5M395.3 494.5h1.5M398.6 502.3h1.5M397.8 504.3h1.5M400.6 501.6h1.5M403.9 503.3h1.5M403.9 500.2h1.5M397.4 502.2h1.5M415.8 481.6h1.5M394.6 502.4h1.5M394.8 500.8h1.5M415.3 483.8h1.5M411.1 492.8h1.5M413 488.7h1.5M396.7 496h1.5M415.3 484.4h1.5M396.9 499.2h1.5M393.8 499.1h1.5M406.3 479.6h1.5M411.2 495.5h1.5M406.9 500.2h1.5M396.2 505.2h1.5M400.1 501.7h1.5M400.1 502.2h1.5M413.3 482.7h1.5M406.7 482.3h1.5M410.9 479.3h1.5M408.1 478h1.5M396.4 502.6h1.5M409 496.1h1.5M396.9 495.7h1.5M394.9 497.4h1.5M408 481.1h1.5M399 506h1.5M415.5 485.6h1.5M415.6 479.6h1.5M412 491.6h1.5M395.6 505.5h1.5M393.9 498.9h1.5M396.9 494h1.5M406.8 482.1h1.5M399.2 491.3h1.5M395.6 496.3h1.5M412.1 477.6h1.5M412.1 478.5h1.5M413.4 477.3h1.5M396.4 501.6h1.5M397.7 506.4h1.5M409.5 479.8h1.5M396.9 490.5h1.5" stroke="#101040" stroke-width="1.5"/>
<path d="M406.6 480.4h1.5M400.2 505.7h1.5M398.3 491.7h1.5M408.2 495.7h1.5M414 477.2h1.5M414.4 483.4h1.5M405 481.6h1.5M396.3 492.8h1.5M413.6 486.8h1.5M415.7 486.9h1.5M400.6 486.7h1.5M402.2 501.4h1.5M402.8 482.5h1.5M409 495.6h1.5M404.7 483.5h1.5M412.3 487.5h1.5M395.6 500.2h1.5M400.4 504.7h1.5M403.7 481.2h1.5M406.3 482.7h1.5M411.3 477.2h1.5M395.1 496.7h1.5M404.1 483.1h1.5M400.3 502.8h1.5M413.8 490.5h1.5M400 506.1h1.5M397.1 506.6h1.5M396.8 498.8h1.5M412.4 487h1.5M400 504.1h1.5M398.2 504.3h1.5M404.7 502.5h1.5" stroke="#1c2470" stroke-width="1.5"/>
<g transform="translate(405.80,491.50) rotate(-57)">
<ellipse rx="13.76" ry="5.71" fill="#04041a"/>
<ellipse rx="10.70" ry="4.00" fill="#2438b0"/>
<ellipse rx="9.80" ry="3.30" fill="url(#gcore)"/>
</g>
<rect x="376.10" y="403.50" width="122.20" height="144.80" fill="none" stroke="#000" stroke-width="1.3"/>
<line x1="429.80" y1="403.50" x2="429.80" y2="548.30" stroke="#000" stroke-width="1.15"/>
<line x1="376.10" y1="460.10" x2="498.30" y2="460.10" stroke="#000" stroke-width="1.15"/>
<path d="M372.5 403.5H376.1M372.5 437H376.1M372.5 468.5H376.1M372.5 501.1H376.1M372.5 535.8H376.1M373.9 426.9H376.1M373.9 421H376.1M373.9 416.8H376.1M373.9 413.6H376.1M373.9 410.9H376.1M373.9 408.7H376.1M373.9 406.7H376.1M373.9 405H376.1M373.9 459H376.1M373.9 453.5H376.1M373.9 449.5H376.1M373.9 446.5H376.1M373.9 444H376.1M373.9 441.9H376.1M373.9 440.1H376.1M373.9 438.4H376.1M373.9 491.3H376.1M373.9 485.5H376.1M373.9 481.5H376.1M373.9 478.3H376.1M373.9 475.7H376.1M373.9 473.5H376.1M373.9 471.7H376.1M373.9 470H376.1M373.9 508H376.1M373.9 515H376.1M373.9 521.9H376.1M373.9 528.9H376.1M373.1 545.3H376.1M385.6 548.3V551.9M400.9 548.3V551.9M424.6 548.3V551.9M449.1 548.3V551.9M473.1 548.3V551.9M498.3 548.3V551.9M377.6 548.3V551.1M379.1 548.3V551.1M380.6 548.3V551.1M382.1 548.3V551.1M388.7 548.3V550.9M391.7 548.3V550.9M394.8 548.3V550.9M397.8 548.3V550.9M408 548.3V550.7M412.2 548.3V550.7M415.2 548.3V550.7M417.5 548.3V550.7M419.3 548.3V550.7M420.9 548.3V550.7M422.3 548.3V550.7M423.5 548.3V550.7M432 548.3V550.7M436.3 548.3V550.7M439.4 548.3V550.7M441.7 548.3V550.7M443.7 548.3V550.7M445.3 548.3V550.7M446.7 548.3V550.7M448 548.3V550.7M456.3 548.3V550.7M460.6 548.3V550.7M463.5 548.3V550.7M465.9 548.3V550.7M467.8 548.3V550.7M469.4 548.3V550.7M470.8 548.3V550.7M472 548.3V550.7M480.7 548.3V550.7M485.1 548.3V550.7M488.3 548.3V550.7M490.7 548.3V550.7M492.7 548.3V550.7M494.4 548.3V550.7M495.9 548.3V550.7M497.1 548.3V550.7" stroke="#000" stroke-width="1"/>
<line x1="375.80" y1="549.20" x2="498.30" y2="549.20" stroke="#000" stroke-width="0.9"/>
<line x1="375.20" y1="403.50" x2="375.20" y2="548.90" stroke="#000" stroke-width="0.9"/>
<text x="385.60" y="560.70" font-size="7.0" font-family="'Liberation Sans', Arial, sans-serif" font-weight="bold" text-anchor="middle" stroke="#000" stroke-width="0.1">0</text>
<text x="399.60" y="560.70" font-size="7.0" font-family="'Liberation Sans', Arial, sans-serif" font-weight="bold" text-anchor="middle" textLength="7.2" lengthAdjust="spacingAndGlyphs" stroke="#000" stroke-width="0.1">10</text>
<text x="403.20" y="557.30" font-size="5.0" font-family="'Liberation Sans', Arial, sans-serif" font-weight="bold" stroke="#000" stroke-width="0.15">2</text>
<text x="423.30" y="560.70" font-size="7.0" font-family="'Liberation Sans', Arial, sans-serif" font-weight="bold" text-anchor="middle" textLength="7.2" lengthAdjust="spacingAndGlyphs" stroke="#000" stroke-width="0.1">10</text>
<text x="426.90" y="557.30" font-size="5.0" font-family="'Liberation Sans', Arial, sans-serif" font-weight="bold" stroke="#000" stroke-width="0.15">3</text>
<text x="447.80" y="560.70" font-size="7.0" font-family="'Liberation Sans', Arial, sans-serif" font-weight="bold" text-anchor="middle" textLength="7.2" lengthAdjust="spacingAndGlyphs" stroke="#000" stroke-width="0.1">10</text>
<text x="451.40" y="557.30" font-size="5.0" font-family="'Liberation Sans', Arial, sans-serif" font-weight="bold" stroke="#000" stroke-width="0.15">4</text>
<text x="471.80" y="560.70" font-size="7.0" font-family="'Liberation Sans', Arial, sans-serif" font-weight="bold" text-anchor="middle" textLength="7.2" lengthAdjust="spacingAndGlyphs" stroke="#000" stroke-width="0.1">10</text>
<text x="475.40" y="557.30" font-size="5.0" font-family="'Liberation Sans', Arial, sans-serif" font-weight="bold" stroke="#000" stroke-width="0.15">5</text>
<text x="497.00" y="560.70" font-size="7.0" font-family="'Liberation Sans', Arial, sans-serif" font-weight="bold" text-anchor="middle" textLength="7.2" lengthAdjust="spacingAndGlyphs" stroke="#000" stroke-width="0.1">10</text>
<text x="500.60" y="557.30" font-size="5.0" font-family="'Liberation Sans', Arial, sans-serif" font-weight="bold" stroke="#000" stroke-width="0.15">6</text>
<g clip-path="url(#clipC3)">
<text transform="translate(370.00,403.70) rotate(-90)" font-size="6.7" font-family="'Liberation Sans', Arial, sans-serif" font-weight="bold" text-anchor="middle" textLength="7.2" lengthAdjust="spacingAndGlyphs" stroke="#000" stroke-width="0.1">10</text>
<text transform="translate(370.00,437.20) rotate(-90)" font-size="6.7" font-family="'Liberation Sans', Arial, sans-serif" font-weight="bold" text-anchor="middle" textLength="7.2" lengthAdjust="spacingAndGlyphs" stroke="#000" stroke-width="0.1">10</text>
<text transform="translate(367.60,432.90) rotate(-90)" font-size="5.0" font-family="'Liberation Sans', Arial, sans-serif" font-weight="bold" stroke="#000" stroke-width="0.15">5</text>
<text transform="translate(370.00,468.70) rotate(-90)" font-size="6.7" font-family="'Liberation Sans', Arial, sans-serif" font-weight="bold" text-anchor="middle" textLength="7.2" lengthAdjust="spacingAndGlyphs" stroke="#000" stroke-width="0.1">10</text>
<text transform="translate(367.60,464.40) rotate(-90)" font-size="5.0" font-family="'Liberation Sans', Arial, sans-serif" font-weight="bold" stroke="#000" stroke-width="0.15">4</text>
<text transform="translate(370.00,501.30) rotate(-90)" font-size="6.7" font-family="'Liberation Sans', Arial, sans-serif" font-weight="bold" text-anchor="middle" textLength="7.2" lengthAdjust="spacingAndGlyphs" stroke="#000" stroke-width="0.1">10</text>
<text transform="translate(367.60,497.00) rotate(-90)" font-size="5.0" font-family="'Liberation Sans', Arial, sans-serif" font-weight="bold" stroke="#000" stroke-width="0.15">3</text>
<text transform="translate(370.00,535.80) rotate(-90)" font-size="7.0" font-family="'Liberation Sans', Arial, sans-serif" font-weight="bold" text-anchor="middle" stroke="#000" stroke-width="0.1">0</text>
</g>
<text transform="translate(361.80,478.00) rotate(-90)" font-size="7.4" font-family="'Liberation Sans', Arial, sans-serif" font-weight="bold" text-anchor="middle" textLength="18" lengthAdjust="spacingAndGlyphs" stroke="#000" stroke-width="0.1">PE-A</text>
<text x="424.30" y="569.60" font-size="7.4" font-family="'Liberation Sans', Arial, sans-serif" font-weight="bold" textLength="20.8" lengthAdjust="spacingAndGlyphs" stroke="#000" stroke-width="0.1">FITC-A</text>
<text x="378.40" y="412.80" font-size="7.2" font-family="'Liberation Sans', Arial, sans-serif" font-weight="bold" textLength="41" lengthAdjust="spacingAndGlyphs" stroke="#000" stroke-width="0.1">Q1-UL(%1,48)</text>
<text x="496.00" y="412.80" font-size="7.2" font-family="'Liberation Sans', Arial, sans-serif" font-weight="bold" text-anchor="end" textLength="42.5" lengthAdjust="spacingAndGlyphs" stroke="#000" stroke-width="0.1">Q1-UR(%3,15)</text>
<text x="378.40" y="544.30" font-size="7.2" font-family="'Liberation Sans', Arial, sans-serif" font-weight="bold" textLength="43.5" lengthAdjust="spacingAndGlyphs" stroke="#000" stroke-width="0.1">Q1-LL(%91,37)</text>
<text x="496.00" y="544.30" font-size="7.2" font-family="'Liberation Sans', Arial, sans-serif" font-weight="bold" text-anchor="end" textLength="42.5" lengthAdjust="spacingAndGlyphs" stroke="#000" stroke-width="0.1">Q1-LR(%4,00)</text>
<line x1="546.20" y1="29.90" x2="546.20" y2="177.90" stroke="#333" stroke-width="1.1"/>
<line x1="543.20" y1="174.60" x2="546.20" y2="174.60" stroke="#333" stroke-width="1.1"/>
<text x="538.20" y="177.90" font-size="9.4" font-family="'Liberation Sans', Arial, sans-serif" text-anchor="end" textLength="4.95" lengthAdjust="spacingAndGlyphs" stroke="#000" stroke-width="0.3">0</text>
<line x1="543.20" y1="138.43" x2="546.20" y2="138.43" stroke="#333" stroke-width="1.1"/>
<text x="538.20" y="141.73" font-size="9.4" font-family="'Liberation Sans', Arial, sans-serif" text-anchor="end" textLength="9.9" lengthAdjust="spacingAndGlyphs" stroke="#000" stroke-width="0.3">20</text>
<line x1="543.20" y1="102.25" x2="546.20" y2="102.25" stroke="#333" stroke-width="1.1"/>
<text x="538.20" y="105.55" font-size="9.4" font-family="'Liberation Sans', Arial, sans-serif" text-anchor="end" textLength="9.9" lengthAdjust="spacingAndGlyphs" stroke="#000" stroke-width="0.3">40</text>
<line x1="543.20" y1="66.08" x2="546.20" y2="66.08" stroke="#333" stroke-width="1.1"/>
<text x="538.20" y="69.38" font-size="9.4" font-family="'Liberation Sans', Arial, sans-serif" text-anchor="end" textLength="9.9" lengthAdjust="spacingAndGlyphs" stroke="#000" stroke-width="0.3">60</text>
<line x1="543.20" y1="29.90" x2="546.20" y2="29.90" stroke="#333" stroke-width="1.1"/>
<text x="538.20" y="33.20" font-size="9.4" font-family="'Liberation Sans', Arial, sans-serif" text-anchor="end" textLength="9.9" lengthAdjust="spacingAndGlyphs" stroke="#000" stroke-width="0.3">80</text>
<line x1="543.20" y1="174.60" x2="684.30" y2="174.60" stroke="#333" stroke-width="1.1"/>
<line x1="591.60" y1="174.60" x2="591.60" y2="177.60" stroke="#333" stroke-width="1"/>
<line x1="637.60" y1="174.60" x2="637.60" y2="177.60" stroke="#333" stroke-width="1"/>
<line x1="684.00" y1="174.60" x2="684.00" y2="177.60" stroke="#333" stroke-width="1"/>
<rect x="651.20" y="50.39" width="19.10" height="124.21" fill="#020208"/>
<rect x="654.60" y="53.59" width="12.30" height="116.21" rx="6.15" fill="url(#gbar)" filter="url(#blur1)"/>
<line x1="660.75" y1="50.39" x2="660.75" y2="44.40" stroke="#222" stroke-width="1"/>
<line x1="658.75" y1="44.40" x2="662.75" y2="44.40" stroke="#222" stroke-width="1"/>
<text x="650.20" y="42.90" font-size="9.0" font-family="'Liberation Sans', Arial, sans-serif" textLength="20.6" lengthAdjust="spacingAndGlyphs" stroke="#000" stroke-width="0.35">68,67</text>
<text x="560.50" y="166.80" font-size="9.0" font-family="'Liberation Sans', Arial, sans-serif" textLength="16.5" lengthAdjust="spacingAndGlyphs" stroke="#000" stroke-width="0.35">0,09</text>
<text x="606.00" y="166.80" font-size="9.0" font-family="'Liberation Sans', Arial, sans-serif" textLength="16.9" lengthAdjust="spacingAndGlyphs" stroke="#000" stroke-width="0.35">0,06</text>
<line x1="558.30" y1="46.20" x2="651.20" y2="46.20" stroke="#0a0a16" stroke-width="1.3"/>
<line x1="559.80" y1="142.40" x2="619.50" y2="142.40" stroke="#0a0a16" stroke-width="1.3"/>
<text x="604.00" y="65.50" font-size="5.6" font-family="'Liberation Serif', 'Times New Roman', serif" font-weight="bold" textLength="16.5" lengthAdjust="spacingAndGlyphs" stroke="#000" stroke-width="0.4">p&lt;0.05</text>
<text x="587.90" y="133.40" font-size="5.6" font-family="'Liberation Serif', 'Times New Roman', serif" font-weight="bold" textLength="16.5" lengthAdjust="spacingAndGlyphs" stroke="#000" stroke-width="0.4">p&lt;0.05</text>
<text x="609.90" y="44.80" font-size="8.5" font-family="'Liberation Sans', Arial, sans-serif" font-weight="bold" textLength="7.0" lengthAdjust="spacingAndGlyphs" stroke="#000" stroke-width="0.35">**</text>
<text x="561.90" y="191.80" font-size="10.5" font-family="'Liberation Serif', 'Times New Roman', serif" textLength="13" lengthAdjust="spacingAndGlyphs" stroke="#000" stroke-width="0.2">NT</text>
<text x="601.00" y="191.80" font-size="10.5" font-family="'Liberation Serif', 'Times New Roman', serif" textLength="29.2" lengthAdjust="spacingAndGlyphs" stroke="#000" stroke-width="0.2">Vehicle</text>
<text x="645.60" y="191.70" font-size="10.5" font-family="'Liberation Serif', 'Times New Roman', serif" textLength="29.8" lengthAdjust="spacingAndGlyphs" stroke="#000" stroke-width="0.2">Cynarin</text>
<text x="653.80" y="204.00" font-size="10.5" font-family="'Liberation Serif', 'Times New Roman', serif" textLength="13.4" lengthAdjust="spacingAndGlyphs" stroke="#000" stroke-width="0.2">μM</text>
<text transform="translate(523.30,103.80) rotate(-90)" font-size="9.4" font-family="'Liberation Sans', Arial, sans-serif" font-weight="bold" text-anchor="middle" textLength="80.4" lengthAdjust="spacingAndGlyphs" stroke="#000" stroke-width="0.15">% Apoptosis Rate</text>
<line x1="549.50" y1="224.60" x2="549.50" y2="355.70" stroke="#333" stroke-width="1.1"/>
<line x1="546.50" y1="352.40" x2="549.50" y2="352.40" stroke="#333" stroke-width="1.1"/>
<text x="541.50" y="355.70" font-size="9.4" font-family="'Liberation Sans', Arial, sans-serif" text-anchor="end" textLength="4.95" lengthAdjust="spacingAndGlyphs" stroke="#000" stroke-width="0.3">0</text>
<line x1="546.50" y1="309.80" x2="549.50" y2="309.80" stroke="#333" stroke-width="1.1"/>
<text x="541.50" y="313.10" font-size="9.4" font-family="'Liberation Sans', Arial, sans-serif" text-anchor="end" textLength="9.9" lengthAdjust="spacingAndGlyphs" stroke="#000" stroke-width="0.3">20</text>
<line x1="546.50" y1="267.20" x2="549.50" y2="267.20" stroke="#333" stroke-width="1.1"/>
<text x="541.50" y="270.50" font-size="9.4" font-family="'Liberation Sans', Arial, sans-serif" text-anchor="end" textLength="9.9" lengthAdjust="spacingAndGlyphs" stroke="#000" stroke-width="0.3">40</text>
<line x1="546.50" y1="224.60" x2="549.50" y2="224.60" stroke="#333" stroke-width="1.1"/>
<text x="541.50" y="227.90" font-size="9.4" font-family="'Liberation Sans', Arial, sans-serif" text-anchor="end" textLength="9.9" lengthAdjust="spacingAndGlyphs" stroke="#000" stroke-width="0.3">60</text>
<line x1="546.50" y1="352.40" x2="680.00" y2="352.40" stroke="#333" stroke-width="1.1"/>
<line x1="593.40" y1="352.40" x2="593.40" y2="355.40" stroke="#333" stroke-width="1"/>
<line x1="636.40" y1="352.40" x2="636.40" y2="355.40" stroke="#333" stroke-width="1"/>
<line x1="679.50" y1="352.40" x2="679.50" y2="355.40" stroke="#333" stroke-width="1"/>
<rect x="648.50" y="260.94" width="19.20" height="91.46" fill="#020208"/>
<rect x="651.90" y="264.14" width="12.40" height="83.46" rx="6.20" fill="url(#gbar)" filter="url(#blur1)"/>
<line x1="658.10" y1="260.94" x2="658.10" y2="256.20" stroke="#222" stroke-width="1"/>
<line x1="656.10" y1="256.20" x2="660.10" y2="256.20" stroke="#222" stroke-width="1"/>
<text x="647.10" y="253.20" font-size="9.0" font-family="'Liberation Sans', Arial, sans-serif" textLength="21.6" lengthAdjust="spacingAndGlyphs" stroke="#000" stroke-width="0.35">42,94</text>
<text x="561.50" y="344.50" font-size="9.0" font-family="'Liberation Sans', Arial, sans-serif" textLength="17" lengthAdjust="spacingAndGlyphs" stroke="#000" stroke-width="0.35">0,15</text>
<text x="606.00" y="344.50" font-size="9.0" font-family="'Liberation Sans', Arial, sans-serif" textLength="16.9" lengthAdjust="spacingAndGlyphs" stroke="#000" stroke-width="0.35">0,11</text>
<line x1="560.00" y1="254.10" x2="649.70" y2="254.10" stroke="#0a0a16" stroke-width="1.3"/>
<line x1="567.30" y1="323.00" x2="626.80" y2="323.00" stroke="#0a0a16" stroke-width="1.3"/>
<text x="601.30" y="271.00" font-size="5.6" font-family="'Liberation Serif', 'Times New Roman', serif" font-weight="bold" textLength="16.5" lengthAdjust="spacingAndGlyphs" stroke="#000" stroke-width="0.4">p&lt;0.05</text>
<text x="592.00" y="311.20" font-size="5.6" font-family="'Liberation Serif', 'Times New Roman', serif" font-weight="bold" textLength="16.5" lengthAdjust="spacingAndGlyphs" stroke="#000" stroke-width="0.4">p&lt;0.05</text>
<text x="604.90" y="248.10" font-size="8.5" font-family="'Liberation Sans', Arial, sans-serif" font-weight="bold" textLength="7.0" lengthAdjust="spacingAndGlyphs" stroke="#000" stroke-width="0.35">**</text>
<text x="564.40" y="369.00" font-size="10.5" font-family="'Liberation Serif', 'Times New Roman', serif" textLength="13.2" lengthAdjust="spacingAndGlyphs" stroke="#000" stroke-width="0.2">NT</text>
<text x="600.00" y="369.20" font-size="10.5" font-family="'Liberation Serif', 'Times New Roman', serif" textLength="28.8" lengthAdjust="spacingAndGlyphs" stroke="#000" stroke-width="0.2">Vehicle</text>
<text x="643.00" y="369.20" font-size="10.5" font-family="'Liberation Serif', 'Times New Roman', serif" textLength="30.6" lengthAdjust="spacingAndGlyphs" stroke="#000" stroke-width="0.2">Cynarin</text>
<text x="651.20" y="383.20" font-size="10.5" font-family="'Liberation Serif', 'Times New Roman', serif" textLength="13.4" lengthAdjust="spacingAndGlyphs" stroke="#000" stroke-width="0.2">μM</text>
<text transform="translate(526.30,288.80) rotate(-90)" font-size="9.4" font-family="'Liberation Sans', Arial, sans-serif" font-weight="bold" text-anchor="middle" textLength="80.4" lengthAdjust="spacingAndGlyphs" stroke="#000" stroke-width="0.15">% Apoptosis Rate</text>
<line x1="544.10" y1="406.30" x2="544.10" y2="557.60" stroke="#333" stroke-width="1.1"/>
<line x1="541.10" y1="554.30" x2="544.10" y2="554.30" stroke="#333" stroke-width="1.1"/>
<text x="536.10" y="557.60" font-size="9.4" font-family="'Liberation Sans', Arial, sans-serif" text-anchor="end" textLength="4.95" lengthAdjust="spacingAndGlyphs" stroke="#000" stroke-width="0.3">0</text>
<line x1="541.10" y1="524.70" x2="544.10" y2="524.70" stroke="#333" stroke-width="1.1"/>
<text x="536.10" y="528.00" font-size="9.4" font-family="'Liberation Sans', Arial, sans-serif" text-anchor="end" textLength="4.95" lengthAdjust="spacingAndGlyphs" stroke="#000" stroke-width="0.3">2</text>
<line x1="541.10" y1="495.10" x2="544.10" y2="495.10" stroke="#333" stroke-width="1.1"/>
<text x="536.10" y="498.40" font-size="9.4" font-family="'Liberation Sans', Arial, sans-serif" text-anchor="end" textLength="4.95" lengthAdjust="spacingAndGlyphs" stroke="#000" stroke-width="0.3">4</text>
<line x1="541.10" y1="465.50" x2="544.10" y2="465.50" stroke="#333" stroke-width="1.1"/>
<text x="536.10" y="468.80" font-size="9.4" font-family="'Liberation Sans', Arial, sans-serif" text-anchor="end" textLength="4.95" lengthAdjust="spacingAndGlyphs" stroke="#000" stroke-width="0.3">6</text>
<line x1="541.10" y1="435.90" x2="544.10" y2="435.90" stroke="#333" stroke-width="1.1"/>
<text x="536.10" y="439.20" font-size="9.4" font-family="'Liberation Sans', Arial, sans-serif" text-anchor="end" textLength="4.95" lengthAdjust="spacingAndGlyphs" stroke="#000" stroke-width="0.3">8</text>
<line x1="541.10" y1="406.30" x2="544.10" y2="406.30" stroke="#333" stroke-width="1.1"/>
<text x="536.10" y="409.60" font-size="9.4" font-family="'Liberation Sans', Arial, sans-serif" text-anchor="end" textLength="8.85" lengthAdjust="spacingAndGlyphs" stroke="#000" stroke-width="0.3">10</text>
<line x1="541.10" y1="554.30" x2="675.50" y2="554.30" stroke="#333" stroke-width="1.1"/>
<rect x="646.90" y="448.48" width="20.30" height="105.82" fill="#020208"/>
<rect x="650.30" y="451.68" width="13.50" height="97.82" rx="6.75" fill="url(#gbar)" filter="url(#blur1)"/>
<line x1="657.05" y1="448.48" x2="657.05" y2="443.50" stroke="#222" stroke-width="1"/>
<line x1="655.05" y1="443.50" x2="659.05" y2="443.50" stroke="#222" stroke-width="1"/>
<rect x="558.10" y="551.30" width="18.30" height="3.00" fill="#0a0a0a"/>
<rect x="602.70" y="550.00" width="19.20" height="4.30" fill="#0a0a0a"/>
<text x="648.50" y="440.60" font-size="9.0" font-family="'Liberation Sans', Arial, sans-serif" textLength="16.4" lengthAdjust="spacingAndGlyphs" stroke="#000" stroke-width="0.35">7,15</text>
<text x="557.80" y="542.70" font-size="9.0" font-family="'Liberation Sans', Arial, sans-serif" textLength="17.1" lengthAdjust="spacingAndGlyphs" stroke="#000" stroke-width="0.35">0,19</text>
<text x="603.40" y="542.00" font-size="9.0" font-family="'Liberation Sans', Arial, sans-serif" textLength="17.1" lengthAdjust="spacingAndGlyphs" stroke="#000" stroke-width="0.35">0,24</text>
<line x1="555.20" y1="434.10" x2="645.60" y2="434.10" stroke="#0a0a16" stroke-width="1.3"/>
<line x1="562.80" y1="521.10" x2="617.70" y2="521.10" stroke="#0a0a16" stroke-width="1.3"/>
<text x="598.50" y="449.00" font-size="5.6" font-family="'Liberation Serif', 'Times New Roman', serif" font-weight="bold" textLength="16.5" lengthAdjust="spacingAndGlyphs" stroke="#000" stroke-width="0.4">p&lt;0.05</text>
<text x="582.80" y="510.00" font-size="5.6" font-family="'Liberation Serif', 'Times New Roman', serif" font-weight="bold" textLength="16.5" lengthAdjust="spacingAndGlyphs" stroke="#000" stroke-width="0.4">p&lt;0.05</text>
<text x="561.40" y="566.60" font-size="10.5" font-family="'Liberation Serif', 'Times New Roman', serif" textLength="11.8" lengthAdjust="spacingAndGlyphs" stroke="#000" stroke-width="0.2">NT</text>
<text x="599.60" y="566.60" font-size="10.5" font-family="'Liberation Serif', 'Times New Roman', serif" textLength="26.6" lengthAdjust="spacingAndGlyphs" stroke="#000" stroke-width="0.2">Vehicle</text>
<text x="642.50" y="566.60" font-size="10.5" font-family="'Liberation Serif', 'Times New Roman', serif" textLength="29.8" lengthAdjust="spacingAndGlyphs" stroke="#000" stroke-width="0.2">Cynarin</text>
<text x="646.20" y="578.80" font-size="10.5" font-family="'Liberation Serif', 'Times New Roman', serif" textLength="13.4" lengthAdjust="spacingAndGlyphs" stroke="#000" stroke-width="0.2">μM</text>
<text transform="translate(521.20,481.00) rotate(-90)" font-size="9.4" font-family="'Liberation Sans', Arial, sans-serif" font-weight="bold" text-anchor="middle" textLength="80.4" lengthAdjust="spacingAndGlyphs" stroke="#000" stroke-width="0.15">% Apoptosis Rate</text>
</g>
</svg></body></html>
